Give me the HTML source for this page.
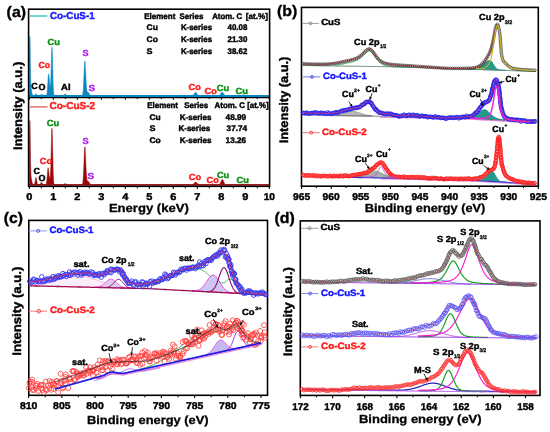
<!DOCTYPE html>
<html><head><meta charset="utf-8"><style>
html,body{margin:0;padding:0;background:#fff;}
svg{display:block;will-change:transform;}
text{font-family:"Liberation Sans",sans-serif;text-rendering:geometricPrecision;}
</style></head><body>
<svg width="550" height="432" viewBox="0 0 550 432">
<rect x="0" y="0" width="550" height="432" fill="#fff"/>
<path d="M29.4,96 29.4,66.2 29.6,46.9 29.9,36.6 30.1,43.9 30.4,62.6 30.6,77.1 30.9,84.4 31.1,87.6 31.4,89.5 31.6,90.9 31.9,92.3 32.1,93.6 32.4,94.4 32.6,95 32.9,95.1 33.1,95.4 33.4,95.7 33.6,95.4 33.9,95.9 34.1,95.6 34.4,95.4 34.6,95.4 34.9,95 35.1,94.4 35.4,94.3 35.6,94.2 35.9,93.8 36.1,93.8 36.4,94.2 36.6,94.4 36.9,94.9 37.1,95.1 37.4,95.5 37.6,95.6 37.9,95.9 38.1,95.9 38.4,95.9 38.6,95.6 38.9,95.5 39.1,95.6 39.4,95.9 39.6,95.5 39.9,95.7 40.1,95.6 40.4,95.2 40.6,94.9 40.9,94.9 41.1,94.7 41.4,94.1 41.6,94.1 41.9,94.4 42.1,94.5 42.4,94.6 42.6,95 42.9,95.3 43.1,95.6 43.4,95.4 43.6,95.6 43.9,95.9 44.1,95.8 44.4,95.5 44.6,95.6 44.9,95.8 45.1,96 45.4,95.3 45.6,95.7 45.9,95.8 46.1,95.4 46.4,95.3 46.6,95.1 46.9,94.2 47.1,92.5 47.4,89.9 47.6,86.4 47.9,81.9 48.1,78 48.4,75.1 48.6,73.9 48.9,74.7 49.1,76.9 49.4,80.6 49.6,83.4 49.9,86 50.1,86.7 50.4,86.2 50.6,83.3 50.9,77.7 51.1,69.4 51.4,59.9 51.6,51.8 51.9,47.2 52.1,48.4 52.4,54.5 52.6,64.3 52.9,74.8 53.1,83.3 53.4,89.1 53.6,92.6 53.9,94.4 54.1,95.4 54.4,95.6 54.6,95.9 54.9,95.5 55.1,95.8 55.4,95.8 55.6,96 55.9,96 56.1,95.5 56.4,95.3 56.6,96 56.9,95.4 57.1,95.4 57.4,95.4 57.6,95.7 57.9,95.9 58.1,95.8 58.4,95.8 58.6,96 58.9,95.8 59.1,96 59.4,95.5 59.6,95.9 59.9,95.9 60.1,95.5 60.4,95.7 60.6,96 60.9,95.9 61.1,96 61.4,95.5 61.6,95.9 61.9,95.9 62.1,96 62.4,95.8 62.6,95.7 62.9,95.9 63.1,95.5 63.4,95.6 63.6,95.7 63.9,95.4 64.2,95.2 64.4,94.4 64.7,94.3 64.9,94.2 65.2,94.2 65.4,93.9 65.7,94.2 65.9,94.6 66.2,95 66.4,95.3 66.7,95.5 66.9,95.5 67.2,95.7 67.4,95.8 67.7,95.7 67.9,95.6 68.2,95.8 68.4,95.8 68.7,95.9 68.9,95.6 69.2,95.7 69.4,96 69.7,95.9 69.9,96 70.2,95.8 70.4,95.8 70.7,95.5 70.9,95.5 71.2,95.5 71.4,96 71.7,95.7 71.9,95.9 72.2,95.7 72.4,95.9 72.7,95.9 72.9,95.8 73.2,95.8 73.4,95.9 73.7,95.9 73.9,95.7 74.2,96 74.4,95.6 74.7,95.6 74.9,96 75.2,95.9 75.4,96 75.7,95.5 75.9,95.6 76.2,96 76.4,95.6 76.7,95.7 76.9,95.8 77.2,96 77.4,95.5 77.7,95.5 77.9,95.9 78.2,96 78.4,95.9 78.7,95.5 78.9,96 79.2,95.9 79.4,95.5 79.7,95.5 79.9,95.5 80.2,95.9 80.4,95.7 80.7,95.6 80.9,95.7 81.2,95.6 81.4,95.6 81.7,95.6 81.9,95.8 82.2,95.4 82.4,94.9 82.7,94.6 82.9,92.6 83.2,90.8 83.4,87.2 83.7,82.3 83.9,76.6 84.2,70 84.4,65.2 84.7,61.3 84.9,61 85.2,63.1 85.4,67.2 85.7,72.1 85.9,77.2 86.2,82.6 86.4,86.1 86.7,88.9 86.9,90.5 87.2,91.4 87.4,92.1 87.7,92.4 87.9,92.3 88.2,92.4 88.4,92.7 88.7,92.7 88.9,93 89.2,93.7 89.4,93.9 89.7,94.5 89.9,95.3 90.2,95.5 90.4,95.5 90.7,95.7 90.9,95.7 91.2,95.9 91.4,95.7 91.7,96 91.9,95.9 92.2,95.9 92.4,95.9 92.7,95.6 92.9,95.5 93.2,95.8 93.4,95.9 93.7,95.9 93.9,95.9 94.2,95.5 94.4,95.8 94.7,95.6 94.9,95.5 95.2,95.9 95.4,95.9 95.7,96 95.9,95.7 96.2,96 96.4,95.8 96.7,95.6 96.9,95.7 97.2,95.9 97.4,95.8 97.7,95.5 97.9,95.7 98.2,95.9 98.4,95.7 98.7,95.8 98.9,95.9 99.2,95.5 99.4,95.9 99.7,95.8 99.9,95.9 100.2,95.8 100.4,96 100.7,95.8 100.9,95.9 101.2,96 101.4,96 101.7,95.4 101.9,95.9 102.2,95.5 102.4,95.7 102.7,95.8 102.9,95.9 103.2,95.8 103.4,95.2 103.7,95.5 103.9,95.7 104.2,95.7 104.4,96 104.7,96 104.9,95.9 105.2,95.9 105.4,95.6 105.7,95.7 105.9,95.7 106.2,95.9 106.4,95.8 106.7,95.6 106.9,95.9 107.2,95.9 107.4,95.9 107.7,95.4 107.9,95.8 108.2,95.7 108.4,95.7 108.7,95.9 108.9,95.9 109.2,95.5 109.4,95.6 109.7,95.4 109.9,96 110.2,95.7 110.4,95.8 110.7,96 110.9,95.7 111.2,95.9 111.4,95.8 111.7,95.9 111.9,95.2 112.2,95.6 112.4,95.7 112.7,95.9 112.9,95.7 113.2,95.5 113.4,95.9 113.7,95.6 113.9,95.9 114.2,95.5 114.4,95.6 114.7,95.8 114.9,95.6 115.2,95.9 115.4,95.5 115.7,95.5 115.9,95.7 116.2,95.9 116.4,95.9 116.7,95.6 116.9,95.7 117.2,96 117.4,95.6 117.7,95.9 117.9,95.7 118.2,95.9 118.4,95.6 118.7,95.6 118.9,95.9 119.2,95.8 119.4,95.7 119.7,95.8 119.9,95.6 120.2,95.4 120.4,96 120.7,96 120.9,96 121.2,95.9 121.4,95.7 121.7,95.9 121.9,95.6 122.2,95.6 122.4,95.3 122.7,95.8 122.9,95.9 123.2,95.8 123.4,95.5 123.7,95.8 123.9,95.9 124.2,95.8 124.4,95.6 124.7,95.7 124.9,95.7 125.2,95.6 125.4,95.9 125.7,95.5 125.9,95.7 126.2,95.9 126.4,95.9 126.7,95.7 126.9,95.5 127.2,95.9 127.4,95.9 127.7,95.8 127.9,96 128.2,95.8 128.4,95.6 128.7,95.9 128.9,95.8 129.2,95.9 129.4,95.7 129.7,95.8 129.9,96 130.2,95.8 130.4,95.9 130.7,95.7 130.9,95.8 131.2,96 131.4,95.8 131.7,95.8 131.9,95.8 132.2,95.7 132.4,95.7 132.7,95.9 132.9,95.9 133.2,95.5 133.4,96 133.7,95 133.9,95.6 134.2,95.9 134.4,96 134.7,95.6 134.9,95.7 135.2,95.8 135.4,95.9 135.7,95.9 135.9,95.6 136.2,95.8 136.4,95.4 136.7,95.7 136.9,95.7 137.2,95.7 137.4,95.4 137.7,95.4 137.9,95.8 138.2,95.8 138.4,95.8 138.7,95.9 138.9,95.6 139.2,95.5 139.4,95.6 139.7,95.9 139.9,95.9 140.2,95.7 140.4,95.8 140.7,95.7 140.9,95.6 141.2,95.9 141.4,96 141.7,95.9 141.9,96 142.2,95.7 142.4,95.9 142.7,95.9 142.9,95.3 143.2,95.8 143.4,95.5 143.7,96 143.9,95.7 144.2,95.5 144.4,95.9 144.7,95.5 144.9,95.9 145.2,95.8 145.4,95.6 145.7,95.7 145.9,95.8 146.2,95.3 146.4,96 146.7,96 146.9,95.9 147.2,95.9 147.4,95.9 147.7,95.6 147.9,95.8 148.2,95.5 148.4,95.9 148.7,95.9 148.9,95.6 149.2,96 149.4,96 149.7,95.8 149.9,95.7 150.2,95.8 150.4,95.9 150.7,95.7 150.9,95.9 151.2,95.7 151.4,95.9 151.7,95.9 151.9,95.9 152.2,95.9 152.4,95.6 152.7,95.9 152.9,96 153.2,95.9 153.4,95.8 153.7,95.7 153.9,96 154.2,95.9 154.4,95.6 154.7,95.9 154.9,95.7 155.2,95.6 155.4,96 155.7,95.7 155.9,95.9 156.2,95.7 156.4,95.4 156.7,96 156.9,96 157.2,96 157.4,95.5 157.7,95.8 157.9,95.3 158.2,95.7 158.4,95.9 158.7,95.7 158.9,95.9 159.2,95.7 159.4,95.8 159.7,95.9 159.9,95.8 160.2,95.9 160.4,95.9 160.7,95.9 160.9,95.6 161.2,95.4 161.4,95.9 161.7,95.8 161.9,95.8 162.2,95.8 162.4,95.9 162.7,96 162.9,96 163.2,95.8 163.4,95.8 163.7,95.7 163.9,95.9 164.2,95.6 164.4,95.7 164.7,95.7 164.9,95.4 165.2,95.9 165.4,95.3 165.7,96 165.9,95.5 166.2,96 166.4,95.6 166.7,95.9 166.9,95.4 167.2,95.8 167.4,95.8 167.7,95.7 167.9,95.7 168.2,95.9 168.4,96 168.7,95.8 168.9,95.6 169.2,95.7 169.4,95.8 169.7,96 169.9,95.3 170.2,95.9 170.4,95.9 170.7,95.9 170.9,95.4 171.2,95.8 171.4,95.9 171.7,96 171.9,95.8 172.2,95.3 172.4,95.6 172.7,95.5 172.9,95.9 173.2,95.8 173.4,95.4 173.7,95.8 173.9,95.7 174.2,95.9 174.4,95.8 174.7,95.9 174.9,95.8 175.2,95.8 175.4,95.9 175.7,95.6 175.9,95.9 176.2,95.9 176.4,95.6 176.7,95.9 176.9,95.9 177.2,95.8 177.4,95.7 177.7,95.4 177.9,95.8 178.2,95.4 178.4,95.7 178.7,95.9 178.9,95.9 179.2,95.9 179.4,96 179.7,95.7 179.9,95.8 180.2,95.9 180.4,95.8 180.7,96 180.9,96 181.2,95.8 181.4,95.8 181.7,96 181.9,96 182.2,95.9 182.4,95.8 182.7,96 182.9,95.6 183.2,95.9 183.4,95.8 183.7,95.9 183.9,95.8 184.2,95.8 184.4,95.8 184.7,95.8 184.9,95.5 185.2,95.9 185.4,95.8 185.7,95.9 185.9,95.7 186.2,95.6 186.4,95.8 186.7,95.8 186.9,95.8 187.2,95.8 187.4,95.7 187.7,95.3 187.9,95.6 188.2,95.6 188.4,95.2 188.7,95.6 188.9,95.8 189.2,95.8 189.4,95.6 189.7,96 189.9,95.8 190.2,95.8 190.4,95.9 190.7,95.5 190.9,95.8 191.2,95.6 191.4,96 191.7,95.8 191.9,95.5 192.2,95.4 192.4,95.5 192.7,95.4 192.9,95.5 193.2,95.3 193.4,94.9 193.7,94.9 193.9,94.2 194.2,93.9 194.4,93.6 194.7,93.2 194.9,92.9 195.2,92.7 195.4,92.3 195.7,92.6 195.9,92.2 196.2,92.8 196.4,93.1 196.7,93.2 196.9,93.9 197.2,94.2 197.4,94.6 197.7,94.9 197.9,95.1 198.2,95.5 198.4,95.3 198.7,95.7 198.9,95.6 199.2,95.9 199.4,95.7 199.7,95.9 199.9,95.8 200.2,95.9 200.4,96 200.7,95.9 200.9,95.9 201.2,95.9 201.4,95.3 201.7,95.6 201.9,95.3 202.2,95.9 202.4,95.9 202.7,95.8 202.9,95.9 203.2,96 203.4,96 203.7,95.7 203.9,95.3 204.2,95.9 204.4,95.4 204.7,95.9 204.9,95.9 205.2,95 205.4,95.8 205.7,95.9 205.9,95.8 206.2,95.9 206.4,95.6 206.7,95.7 206.9,95.6 207.2,95.9 207.4,95.6 207.7,95.6 207.9,95.9 208.2,95.5 208.4,95.9 208.7,95.7 208.9,95.8 209.2,95.7 209.4,95.5 209.7,95.8 209.9,95.5 210.2,95.6 210.4,95.5 210.7,95.8 210.9,95.6 211.2,95.6 211.4,95.3 211.7,95.1 211.9,95 212.2,95 212.4,94.9 212.7,95 212.9,94.8 213.2,95.2 213.4,95.3 213.7,95.2 213.9,95.7 214.2,95.2 214.4,95.5 214.7,95.9 214.9,95.6 215.2,95.7 215.4,95.7 215.7,95.5 215.9,95.9 216.2,95.8 216.4,95.9 216.7,96 216.9,95.5 217.2,95.6 217.4,95.8 217.7,95.6 217.9,95.6 218.2,95.9 218.4,95.8 218.7,95.1 218.9,95.6 219.2,95.6 219.4,95.5 219.7,94.9 219.9,95.2 220.2,94.6 220.4,94.4 220.7,93.8 220.9,93.1 221.2,92.6 221.4,92.8 221.7,92.4 221.9,92.5 222.2,92.2 222.4,92.4 222.7,92.1 222.9,92.5 223.2,92.9 223.4,93.4 223.7,93.4 223.9,94.2 224.2,94.3 224.4,95.1 224.7,95.3 224.9,95.4 225.2,95.4 225.4,95.7 225.7,95.8 225.9,95.5 226.2,95.5 226.4,95.8 226.7,95.8 226.9,95.8 227.2,95.5 227.4,95.7 227.7,95.9 227.9,95.8 228.2,95.9 228.4,95.8 228.7,95.7 228.9,96 229.2,95.4 229.4,95.9 229.7,95.7 229.9,95.6 230.2,95.8 230.4,95.5 230.7,95.7 230.9,95.8 231.2,95.6 231.4,95.7 231.7,95.3 231.9,95.6 232.2,95.9 232.4,95.7 232.7,95.5 232.9,95.7 233.2,95.9 233.4,95.7 233.7,95.9 233.9,95.9 234.2,95.5 234.4,95.8 234.7,95.8 234.9,95.3 235.2,95.9 235.4,95.2 235.7,95.9 235.9,95.9 236.2,96 236.4,95.7 236.7,95.8 236.9,95.9 237.2,95.5 237.4,95.7 237.7,95.9 237.9,95.8 238.2,95.6 238.4,95.3 238.7,96 238.9,95.9 239.2,96 239.4,95.9 239.7,95.7 239.9,95.6 240.2,95.7 240.4,95.7 240.7,95.7 240.9,95.8 241.2,95.5 241.4,95.2 241.7,95.3 241.9,95.2 242.2,94.9 242.4,95 242.7,94.7 242.9,95.1 243.2,95.2 243.4,95.4 243.7,95.3 243.9,95.4 244.2,95.4 244.4,95.8 244.7,95.7 244.9,95.9 245.2,95.9 245.4,95.4 245.7,95.6 245.9,95.9 246.2,95.5 246.4,95.7 246.7,96 246.9,95.9 247.2,96 247.4,96 247.7,95.8 247.9,95.5 248.2,95.8 248.4,96 248.7,96 248.9,95.8 249.2,96 249.4,95.3 249.7,95.8 249.9,95.7 250.2,95.6 250.4,95.9 250.7,95.6 250.9,95.9 251.2,95.7 251.4,95.4 251.7,95.9 251.9,95.8 252.2,95.8 252.4,95.3 252.7,95.7 252.9,95.7 253.2,95.9 253.4,95.3 253.7,96 253.9,95.6 254.2,95.8 254.4,96 254.7,95.9 254.9,95.7 255.2,95.8 255.4,95.7 255.7,96 255.9,95.6 256.1,95.4 256.4,95.3 256.6,95.9 256.9,95.5 257.1,96 257.4,95.8 257.6,96 257.9,95.4 258.1,95.5 258.4,95.8 258.6,95.9 258.9,95.8 259.1,95.9 259.4,95.9 259.6,95.7 259.9,95.4 260.1,95.7 260.4,95.9 260.6,95.8 260.9,95.7 261.1,95.5 261.4,95.6 261.6,95.7 261.9,95.9 262.1,95.8 262.4,95.9 262.6,95.7 262.9,95.9 263.1,95.9 263.4,95.6 263.6,95.4 263.9,95.8 264.1,95.8 264.4,96 264.6,95.5 264.9,95.7 265.1,95.9 265.4,95.9 265.6,96 265.9,95.7 266.1,96 266.4,95.8 266.6,96 266.9,95.9 267.1,95.8 267.4,95.5 267.6,95.8 267.9,96 268.1,95.8 268.4,96 268.6,95.8 268.9,95.9 268.8,96 Z" stroke="#0b86c2" stroke-width="0.5" fill="#0b86c2" stroke-linejoin="round"/>
<line x1="29.1" y1="96.0" x2="269.6" y2="96.0" stroke="#0b86c2" stroke-width="1.8"/>
<path d="M29.4,185 29.4,152.9 29.6,131.7 29.9,120.6 30.1,129.3 30.4,149.2 30.6,165 30.9,173.2 31.1,176.4 31.4,178.4 31.6,180.1 31.9,181.6 32.1,182.3 32.4,183 32.6,184.1 32.9,184.5 33.1,184.6 33.4,184.9 33.6,184.3 33.9,184.6 34.1,184.6 34.4,184.1 34.6,183.7 34.9,182.4 35.1,181.3 35.4,179.7 35.6,177.9 35.9,177.6 36.1,177.7 36.4,178.6 36.6,180.1 36.9,181.5 37.1,182.9 37.4,184 37.6,184.3 37.9,184.4 38.1,184.4 38.4,184.5 38.6,184.8 38.9,184.9 39.1,184.8 39.4,184.7 39.6,184.6 39.9,184.3 40.1,184.2 40.4,184.1 40.6,183.5 40.9,183.2 41.1,182.5 41.4,182.8 41.6,182.4 41.9,182.8 42.1,183 42.4,183.9 42.6,184.2 42.9,184.4 43.1,184.2 43.4,184.8 43.6,184.7 43.9,184.8 44.1,184.6 44.4,184.3 44.6,184.4 44.9,184.5 45.1,184.8 45.4,184.8 45.6,184.8 45.9,184.5 46.1,184.1 46.4,183.5 46.6,182 46.9,180.2 47.1,177.6 47.4,174.2 47.6,171.2 47.9,168.7 48.1,167.7 48.4,168.7 48.6,170.5 48.9,173.1 49.1,175.3 49.4,177.3 49.6,178.3 49.9,178.4 50.1,177.7 50.4,175.3 50.6,171.5 50.9,164.6 51.1,154.8 51.4,143.4 51.6,133.4 51.9,128.3 52.1,129.3 52.4,137 52.6,148.2 52.9,159.8 53.1,170.2 53.4,177.3 53.6,181.1 53.9,183.3 54.1,184.4 54.4,184.8 54.6,184.7 54.9,184.6 55.1,184.7 55.4,184.8 55.6,184.9 55.9,184.9 56.1,184.9 56.4,184.6 56.6,184.8 56.9,185 57.1,184.9 57.4,184.7 57.6,184.8 57.9,184.9 58.1,184.8 58.4,184.6 58.6,184.7 58.9,184.8 59.1,184.6 59.4,184.7 59.6,184.8 59.9,184.8 60.1,184.7 60.4,184.6 60.6,184.9 60.9,184.9 61.1,184.8 61.4,184.8 61.6,185 61.9,184.9 62.1,184.8 62.4,184.8 62.6,184.7 62.9,184.9 63.1,184.4 63.4,184.8 63.6,184.7 63.9,184.5 64.2,184.1 64.4,184.2 64.7,184 64.9,183.5 65.2,183.7 65.4,183.5 65.7,183.6 65.9,184 66.2,184.3 66.4,184.1 66.7,184.4 66.9,184.7 67.2,184.9 67.4,184.6 67.7,184.7 67.9,184.8 68.2,184.7 68.4,184.4 68.7,184.9 68.9,184.6 69.2,184.8 69.4,184.9 69.7,184.9 69.9,184.6 70.2,184.8 70.4,184.9 70.7,184.9 70.9,184.6 71.2,184.9 71.4,184.5 71.7,185 71.9,184.9 72.2,184.7 72.4,184.9 72.7,184.6 72.9,184.9 73.2,185 73.4,185 73.7,184.7 73.9,184.8 74.2,184.7 74.4,184.9 74.7,184.7 74.9,184.7 75.2,184.9 75.4,184.8 75.7,184.6 75.9,185 76.2,184.8 76.4,184.8 76.7,184.8 76.9,184.9 77.2,185 77.4,184.9 77.7,184.9 77.9,184.9 78.2,184.6 78.4,184.4 78.7,184.8 78.9,184.9 79.2,184.3 79.4,184.6 79.7,185 79.9,184.8 80.2,184.7 80.4,185 80.7,184.5 80.9,184.5 81.2,184.8 81.4,184.9 81.7,184.9 81.9,184.5 82.2,184.5 82.4,184 82.7,183.4 82.9,181.7 83.2,179.1 83.4,175.4 83.7,170.1 83.9,163.9 84.2,157.3 84.4,151.4 84.7,147.9 84.9,146.8 85.2,148.9 85.4,153.8 85.7,159.6 85.9,165.5 86.2,170.7 86.4,174 86.7,177.6 86.9,179.4 87.2,180.5 87.4,181 87.7,180.8 87.9,181.2 88.2,181.5 88.4,181.4 88.7,181.4 88.9,182.3 89.2,182.6 89.4,183.2 89.7,183.8 89.9,183.4 90.2,184.4 90.4,184.8 90.7,184.8 90.9,184.6 91.2,184.8 91.4,184.6 91.7,184.9 91.9,185 92.2,184.8 92.4,184.6 92.7,184.5 92.9,184.8 93.2,184.9 93.4,185 93.7,184.8 93.9,184.9 94.2,184.6 94.4,184.9 94.7,184.9 94.9,184.9 95.2,184.4 95.4,184.6 95.7,184.7 95.9,184.7 96.2,184.6 96.4,184.7 96.7,185 96.9,184.8 97.2,184.3 97.4,184.8 97.7,184.9 97.9,184.5 98.2,184.9 98.4,184.8 98.7,184.9 98.9,184.9 99.2,184.9 99.4,184.9 99.7,184.4 99.9,184.8 100.2,184.9 100.4,184.6 100.7,184.9 100.9,184.6 101.2,184.5 101.4,184.9 101.7,184.7 101.9,184.7 102.2,184 102.4,184.8 102.7,184.7 102.9,184.9 103.2,184.5 103.4,184.7 103.7,184.6 103.9,185 104.2,184.7 104.4,184.6 104.7,184.8 104.9,184.7 105.2,184.9 105.4,184.9 105.7,184.7 105.9,184.7 106.2,184.6 106.4,185 106.7,184.6 106.9,184.3 107.2,184.5 107.4,184.7 107.7,184.6 107.9,184.9 108.2,184.9 108.4,184.9 108.7,184.6 108.9,184.9 109.2,184.8 109.4,184.7 109.7,184.9 109.9,184.2 110.2,184.7 110.4,184.7 110.7,184.8 110.9,184.8 111.2,184.9 111.4,184.9 111.7,184.7 111.9,184.9 112.2,184.7 112.4,185 112.7,184.6 112.9,184.9 113.2,184.8 113.4,184.9 113.7,185 113.9,184.8 114.2,185 114.4,184.7 114.7,184.7 114.9,184.7 115.2,184.6 115.4,185 115.7,184.9 115.9,184.7 116.2,184.8 116.4,184.8 116.7,184.7 116.9,184.9 117.2,184.8 117.4,184.9 117.7,184.7 117.9,184.8 118.2,184.9 118.4,184.3 118.7,184.8 118.9,184.8 119.2,184.7 119.4,184.6 119.7,184.7 119.9,184.8 120.2,184.8 120.4,184.8 120.7,184.1 120.9,184.8 121.2,184.8 121.4,185 121.7,184.6 121.9,185 122.2,185 122.4,185 122.7,184.6 122.9,184.6 123.2,184.8 123.4,184.3 123.7,185 123.9,184.8 124.2,184.9 124.4,184.4 124.7,184.7 124.9,184.4 125.2,184.9 125.4,184.4 125.7,184.8 125.9,184.9 126.2,185 126.4,184.9 126.7,184.5 126.9,184.6 127.2,184.8 127.4,184.8 127.7,185 127.9,184.9 128.2,184.8 128.4,184.9 128.7,184.9 128.9,184.9 129.2,184.8 129.4,184.9 129.7,184.7 129.9,185 130.2,184.3 130.4,184.3 130.7,184.8 130.9,184.9 131.2,184.4 131.4,184.8 131.7,184.7 131.9,184.8 132.2,184.4 132.4,184.9 132.7,185 132.9,184.8 133.2,185 133.4,184.7 133.7,184.5 133.9,184.6 134.2,184.5 134.4,184.5 134.7,184.7 134.9,184.9 135.2,184.5 135.4,184.8 135.7,184.8 135.9,184.5 136.2,184.9 136.4,184.9 136.7,184.6 136.9,184.9 137.2,184.6 137.4,184.5 137.7,185 137.9,184.4 138.2,184.8 138.4,185 138.7,184.6 138.9,184.5 139.2,184.9 139.4,184.8 139.7,184.6 139.9,184.7 140.2,184.8 140.4,184.9 140.7,185 140.9,184.8 141.2,185 141.4,184.6 141.7,184.9 141.9,184.3 142.2,184.6 142.4,184.6 142.7,184.8 142.9,184.6 143.2,184.8 143.4,184.7 143.7,184.4 143.9,184.7 144.2,184.9 144.4,184.8 144.7,184.6 144.9,184.7 145.2,184.5 145.4,184.8 145.7,184.8 145.9,184.7 146.2,184.5 146.4,184.8 146.7,184.7 146.9,184.5 147.2,184.7 147.4,184.6 147.7,184.9 147.9,184.7 148.2,184.8 148.4,184.8 148.7,184.6 148.9,184.9 149.2,184.9 149.4,184.8 149.7,185 149.9,184.5 150.2,184.7 150.4,185 150.7,184.9 150.9,184.6 151.2,184.6 151.4,184.9 151.7,184.5 151.9,184.5 152.2,184.7 152.4,184.8 152.7,184.4 152.9,184.8 153.2,185 153.4,184.9 153.7,184.9 153.9,184.3 154.2,184.8 154.4,184.9 154.7,184.8 154.9,184.9 155.2,184.9 155.4,184.9 155.7,185 155.9,184.8 156.2,184.7 156.4,184.9 156.7,184.7 156.9,184.8 157.2,184.8 157.4,185 157.7,184.5 157.9,184.8 158.2,184.9 158.4,184.6 158.7,184.8 158.9,184.9 159.2,184.7 159.4,185 159.7,184.9 159.9,184.7 160.2,184.9 160.4,185 160.7,184.8 160.9,184.8 161.2,185 161.4,184.4 161.7,184.9 161.9,184.5 162.2,184.9 162.4,185 162.7,184.9 162.9,184.7 163.2,184.9 163.4,185 163.7,184.7 163.9,184.7 164.2,185 164.4,184.9 164.7,184.8 164.9,184.7 165.2,184.8 165.4,184.8 165.7,184.2 165.9,185 166.2,184.9 166.4,184.9 166.7,184.7 166.9,184.9 167.2,184.6 167.4,184.9 167.7,184.8 167.9,184.6 168.2,184.8 168.4,184.4 168.7,184.5 168.9,184.8 169.2,184.8 169.4,184.9 169.7,184.8 169.9,184.6 170.2,184.6 170.4,185 170.7,184.9 170.9,184.9 171.2,184.9 171.4,184.9 171.7,184.7 171.9,184.8 172.2,184.8 172.4,184.6 172.7,185 172.9,184.9 173.2,184.7 173.4,184.9 173.7,184.9 173.9,184.8 174.2,184.9 174.4,184.9 174.7,184.9 174.9,184.8 175.2,184.5 175.4,184.8 175.7,184.8 175.9,185 176.2,184.9 176.4,184.7 176.7,184.6 176.9,184.9 177.2,184.9 177.4,184.8 177.7,184.9 177.9,184.6 178.2,184.5 178.4,184.5 178.7,184.9 178.9,184.7 179.2,184.8 179.4,184.7 179.7,184.9 179.9,184.9 180.2,184.6 180.4,184.8 180.7,185 180.9,184.4 181.2,185 181.4,184.9 181.7,184.8 181.9,184.8 182.2,184.9 182.4,184.6 182.7,184.7 182.9,184.4 183.2,184.9 183.4,184.9 183.7,184.6 183.9,184.5 184.2,184.7 184.4,184.9 184.7,184.8 184.9,184.7 185.2,184.8 185.4,185 185.7,184.6 185.9,184.4 186.2,184.7 186.4,185 186.7,184.9 186.9,184.4 187.2,184.9 187.4,184.9 187.7,184.4 187.9,184.8 188.2,184.8 188.4,184.7 188.7,184.6 188.9,184.6 189.2,184.7 189.4,184.5 189.7,185 189.9,184.8 190.2,185 190.4,184.6 190.7,184.9 190.9,184.8 191.2,184.9 191.4,184.9 191.7,184.8 191.9,184.9 192.2,184.6 192.4,184.6 192.7,184.6 192.9,184.1 193.2,184.5 193.4,184.3 193.7,183.9 193.9,183.4 194.2,183.3 194.4,183.1 194.7,182.9 194.9,182.4 195.2,182 195.4,182.3 195.7,182.2 195.9,182.2 196.2,181.9 196.4,182.6 196.7,183 196.9,183 197.2,183.6 197.4,183.8 197.7,183.5 197.9,184 198.2,184.1 198.4,183.9 198.7,184.4 198.9,184.7 199.2,184.9 199.4,184.6 199.7,184.9 199.9,184.6 200.2,184.6 200.4,184.9 200.7,184.9 200.9,184.9 201.2,184.5 201.4,184.9 201.7,184.6 201.9,184.8 202.2,184.9 202.4,184.9 202.7,184.7 202.9,184.9 203.2,184.8 203.4,184.9 203.7,184.5 203.9,184.5 204.2,185 204.4,185 204.7,184.9 204.9,184.8 205.2,184.5 205.4,185 205.7,184.9 205.9,184.7 206.2,184.5 206.4,184.8 206.7,184.5 206.9,185 207.2,184.8 207.4,184.7 207.7,184.9 207.9,184.7 208.2,184.8 208.4,184.6 208.7,185 208.9,184.9 209.2,184.9 209.4,184.9 209.7,184.9 209.9,184.8 210.2,184.7 210.4,184.7 210.7,184.6 210.9,184.5 211.2,184.5 211.4,184.5 211.7,184.4 211.9,184.3 212.2,184 212.4,183.7 212.7,183.8 212.9,183.7 213.2,184 213.4,184.3 213.7,184.2 213.9,184.6 214.2,184.7 214.4,184.5 214.7,184.5 214.9,184.6 215.2,184.8 215.4,184.4 215.7,184.9 215.9,184.9 216.2,184.6 216.4,184.8 216.7,184.7 216.9,184.6 217.2,184.9 217.4,184.9 217.7,184.8 217.9,184.9 218.2,184.8 218.4,183.9 218.7,184.8 218.9,184.4 219.2,184.4 219.4,184.5 219.7,184.2 219.9,183.8 220.2,183.3 220.4,183 220.7,182 220.9,181.8 221.2,181.2 221.4,180.7 221.7,179.8 221.9,179.8 222.2,179.5 222.4,179.8 222.7,179.4 222.9,179.8 223.2,180.8 223.4,180.7 223.7,181.7 223.9,182.3 224.2,182.9 224.4,183.3 224.7,183.8 224.9,184.2 225.2,184.2 225.4,184.3 225.7,184.8 225.9,184.8 226.2,184.8 226.4,184.5 226.7,185 226.9,184.8 227.2,184.4 227.4,184.5 227.7,184.7 227.9,184.4 228.2,184.9 228.4,184.9 228.7,184.7 228.9,184.9 229.2,185 229.4,184.5 229.7,184.8 229.9,184.2 230.2,184.4 230.4,184.6 230.7,185 230.9,184.9 231.2,184.9 231.4,184.8 231.7,184.8 231.9,184.5 232.2,184.8 232.4,184.9 232.7,184.9 232.9,184.7 233.2,184.6 233.4,184.8 233.7,184.8 233.9,185 234.2,185 234.4,184.8 234.7,184.9 234.9,185 235.2,184.8 235.4,184.7 235.7,184.7 235.9,184.4 236.2,184.8 236.4,184.9 236.7,184.6 236.9,184.8 237.2,184.8 237.4,184.6 237.7,184.8 237.9,184.9 238.2,185 238.4,184.8 238.7,184.9 238.9,184.9 239.2,184.3 239.4,184.5 239.7,184.9 239.9,185 240.2,184.3 240.4,184.9 240.7,184.6 240.9,184.5 241.2,184.3 241.4,184.5 241.7,184 241.9,184.2 242.2,184.2 242.4,184.1 242.7,184 242.9,184.1 243.2,184.3 243.4,184.1 243.7,184.2 243.9,184.5 244.2,184.7 244.4,184.4 244.7,184.4 244.9,184.8 245.2,184.8 245.4,184.8 245.7,184.3 245.9,184.9 246.2,184.9 246.4,184.7 246.7,184.6 246.9,184.8 247.2,184.8 247.4,184.8 247.7,184.5 247.9,184.9 248.2,184.9 248.4,184.9 248.7,184.8 248.9,184.6 249.2,184.7 249.4,184.6 249.7,184.9 249.9,184.8 250.2,184.8 250.4,185 250.7,185 250.9,185 251.2,184.5 251.4,184.4 251.7,184.4 251.9,184.6 252.2,184.8 252.4,184.7 252.7,185 252.9,184.9 253.2,184.6 253.4,184.9 253.7,184.5 253.9,184.6 254.2,184.9 254.4,184.7 254.7,184.4 254.9,184.4 255.2,184.6 255.4,185 255.7,184.6 255.9,184.9 256.1,184.8 256.4,184.4 256.6,184.7 256.9,184.8 257.1,184.9 257.4,184.8 257.6,184.5 257.9,185 258.1,184.7 258.4,185 258.6,184.7 258.9,184.8 259.1,184.4 259.4,184.6 259.6,184.9 259.9,185 260.1,185 260.4,184.6 260.6,184.7 260.9,184.9 261.1,184.5 261.4,184.7 261.6,185 261.9,184.5 262.1,185 262.4,185 262.6,184.9 262.9,184.8 263.1,184.5 263.4,184.8 263.6,184.9 263.9,184.9 264.1,184.5 264.4,184.6 264.6,185 264.9,184.8 265.1,184.8 265.4,185 265.6,184.6 265.9,184.7 266.1,185 266.4,184.3 266.6,184.7 266.9,184.6 267.1,184.7 267.4,184.6 267.6,184.5 267.9,184.7 268.1,184.8 268.4,184.8 268.6,184.8 268.9,184.9 268.8,185 Z" stroke="#9c0808" stroke-width="0.5" fill="#9c0808" stroke-linejoin="round"/>
<line x1="29.1" y1="184.9" x2="269.6" y2="184.9" stroke="#9c0808" stroke-width="1.4"/>
<rect x="28.6" y="9.2" width="241.0" height="177.1" stroke="#000" stroke-width="1.6" fill="none"/>
<line x1="28.6" y1="97.6" x2="269.6" y2="97.6" stroke="#000" stroke-width="1.4"/>
<line x1="29.3" y1="97.6" x2="29.3" y2="99.8" stroke="#000" stroke-width="1.0"/>
<line x1="41.3" y1="97.6" x2="41.3" y2="99.1" stroke="#000" stroke-width="1.0"/>
<line x1="53.3" y1="97.6" x2="53.3" y2="99.8" stroke="#000" stroke-width="1.0"/>
<line x1="65.3" y1="97.6" x2="65.3" y2="99.1" stroke="#000" stroke-width="1.0"/>
<line x1="77.3" y1="97.6" x2="77.3" y2="99.8" stroke="#000" stroke-width="1.0"/>
<line x1="89.3" y1="97.6" x2="89.3" y2="99.1" stroke="#000" stroke-width="1.0"/>
<line x1="101.3" y1="97.6" x2="101.3" y2="99.8" stroke="#000" stroke-width="1.0"/>
<line x1="113.3" y1="97.6" x2="113.3" y2="99.1" stroke="#000" stroke-width="1.0"/>
<line x1="125.3" y1="97.6" x2="125.3" y2="99.8" stroke="#000" stroke-width="1.0"/>
<line x1="137.3" y1="97.6" x2="137.3" y2="99.1" stroke="#000" stroke-width="1.0"/>
<line x1="149.3" y1="97.6" x2="149.3" y2="99.8" stroke="#000" stroke-width="1.0"/>
<line x1="161.3" y1="97.6" x2="161.3" y2="99.1" stroke="#000" stroke-width="1.0"/>
<line x1="173.3" y1="97.6" x2="173.3" y2="99.8" stroke="#000" stroke-width="1.0"/>
<line x1="185.3" y1="97.6" x2="185.3" y2="99.1" stroke="#000" stroke-width="1.0"/>
<line x1="197.3" y1="97.6" x2="197.3" y2="99.8" stroke="#000" stroke-width="1.0"/>
<line x1="209.3" y1="97.6" x2="209.3" y2="99.1" stroke="#000" stroke-width="1.0"/>
<line x1="221.3" y1="97.6" x2="221.3" y2="99.8" stroke="#000" stroke-width="1.0"/>
<line x1="233.3" y1="97.6" x2="233.3" y2="99.1" stroke="#000" stroke-width="1.0"/>
<line x1="245.3" y1="97.6" x2="245.3" y2="99.8" stroke="#000" stroke-width="1.0"/>
<line x1="257.3" y1="97.6" x2="257.3" y2="99.1" stroke="#000" stroke-width="1.0"/>
<line x1="269.3" y1="97.6" x2="269.3" y2="99.8" stroke="#000" stroke-width="1.0"/>
<line x1="29.3" y1="186.3" x2="29.3" y2="189.1" stroke="#000" stroke-width="1.1"/>
<text x="26.3" y="200.4" font-size="9.9" fill="#000" stroke="#000" stroke-width="0.42" text-anchor="start" font-weight="bold" textLength="6.1" lengthAdjust="spacingAndGlyphs">0</text>
<line x1="41.3" y1="186.3" x2="41.3" y2="188.2" stroke="#000" stroke-width="1.1"/>
<line x1="53.3" y1="186.3" x2="53.3" y2="189.1" stroke="#000" stroke-width="1.1"/>
<text x="50.3" y="200.4" font-size="9.9" fill="#000" stroke="#000" stroke-width="0.42" text-anchor="start" font-weight="bold" textLength="6.1" lengthAdjust="spacingAndGlyphs">1</text>
<line x1="65.3" y1="186.3" x2="65.3" y2="188.2" stroke="#000" stroke-width="1.1"/>
<line x1="77.3" y1="186.3" x2="77.3" y2="189.1" stroke="#000" stroke-width="1.1"/>
<text x="74.3" y="200.4" font-size="9.9" fill="#000" stroke="#000" stroke-width="0.42" text-anchor="start" font-weight="bold" textLength="6.1" lengthAdjust="spacingAndGlyphs">2</text>
<line x1="89.3" y1="186.3" x2="89.3" y2="188.2" stroke="#000" stroke-width="1.1"/>
<line x1="101.3" y1="186.3" x2="101.3" y2="189.1" stroke="#000" stroke-width="1.1"/>
<text x="98.3" y="200.4" font-size="9.9" fill="#000" stroke="#000" stroke-width="0.42" text-anchor="start" font-weight="bold" textLength="6.1" lengthAdjust="spacingAndGlyphs">3</text>
<line x1="113.3" y1="186.3" x2="113.3" y2="188.2" stroke="#000" stroke-width="1.1"/>
<line x1="125.3" y1="186.3" x2="125.3" y2="189.1" stroke="#000" stroke-width="1.1"/>
<text x="122.3" y="200.4" font-size="9.9" fill="#000" stroke="#000" stroke-width="0.42" text-anchor="start" font-weight="bold" textLength="6.1" lengthAdjust="spacingAndGlyphs">4</text>
<line x1="137.3" y1="186.3" x2="137.3" y2="188.2" stroke="#000" stroke-width="1.1"/>
<line x1="149.3" y1="186.3" x2="149.3" y2="189.1" stroke="#000" stroke-width="1.1"/>
<text x="146.3" y="200.4" font-size="9.9" fill="#000" stroke="#000" stroke-width="0.42" text-anchor="start" font-weight="bold" textLength="6.1" lengthAdjust="spacingAndGlyphs">5</text>
<line x1="161.3" y1="186.3" x2="161.3" y2="188.2" stroke="#000" stroke-width="1.1"/>
<line x1="173.3" y1="186.3" x2="173.3" y2="189.1" stroke="#000" stroke-width="1.1"/>
<text x="170.3" y="200.4" font-size="9.9" fill="#000" stroke="#000" stroke-width="0.42" text-anchor="start" font-weight="bold" textLength="6.1" lengthAdjust="spacingAndGlyphs">6</text>
<line x1="185.3" y1="186.3" x2="185.3" y2="188.2" stroke="#000" stroke-width="1.1"/>
<line x1="197.3" y1="186.3" x2="197.3" y2="189.1" stroke="#000" stroke-width="1.1"/>
<text x="194.3" y="200.4" font-size="9.9" fill="#000" stroke="#000" stroke-width="0.42" text-anchor="start" font-weight="bold" textLength="6.1" lengthAdjust="spacingAndGlyphs">7</text>
<line x1="209.3" y1="186.3" x2="209.3" y2="188.2" stroke="#000" stroke-width="1.1"/>
<line x1="221.3" y1="186.3" x2="221.3" y2="189.1" stroke="#000" stroke-width="1.1"/>
<text x="218.3" y="200.4" font-size="9.9" fill="#000" stroke="#000" stroke-width="0.42" text-anchor="start" font-weight="bold" textLength="6.1" lengthAdjust="spacingAndGlyphs">8</text>
<line x1="233.3" y1="186.3" x2="233.3" y2="188.2" stroke="#000" stroke-width="1.1"/>
<line x1="245.3" y1="186.3" x2="245.3" y2="189.1" stroke="#000" stroke-width="1.1"/>
<text x="242.3" y="200.4" font-size="9.9" fill="#000" stroke="#000" stroke-width="0.42" text-anchor="start" font-weight="bold" textLength="6.1" lengthAdjust="spacingAndGlyphs">9</text>
<line x1="257.3" y1="186.3" x2="257.3" y2="188.2" stroke="#000" stroke-width="1.1"/>
<line x1="269.3" y1="186.3" x2="269.3" y2="189.1" stroke="#000" stroke-width="1.1"/>
<text x="263.7" y="200.4" font-size="9.9" fill="#000" stroke="#000" stroke-width="0.42" text-anchor="start" font-weight="bold" textLength="11.3" lengthAdjust="spacingAndGlyphs">10</text>
<text x="6.6" y="16.7" font-size="15.2" fill="#000" stroke="#000" stroke-width="0.35" text-anchor="start" font-weight="bold" textLength="19.4" lengthAdjust="spacingAndGlyphs">(a)</text>
<text x="108.9" y="212.3" font-size="11.8" fill="#000" stroke="#000" stroke-width="0.3" text-anchor="start" font-weight="bold" textLength="79.9" lengthAdjust="spacingAndGlyphs">Energy (keV)</text>
<text transform="translate(21.9,105.9) rotate(-90)" x="0" y="0" font-size="12.3" fill="#000" stroke="#000" stroke-width="0.42" text-anchor="middle" font-weight="bold" textLength="88.3" lengthAdjust="spacingAndGlyphs">Intensity (a.u.)</text>
<line x1="29.6" y1="16.0" x2="47.3" y2="16.0" stroke="#3cc0c8" stroke-width="1.4"/>
<text x="50.0" y="18.9" font-size="10.0" fill="#1717ff" stroke="#1717ff" stroke-width="0.42" text-anchor="start" font-weight="bold" textLength="44.6" lengthAdjust="spacingAndGlyphs">Co-CuS-1</text>
<line x1="30.0" y1="106.9" x2="47.6" y2="106.9" stroke="#d86a6a" stroke-width="1.4"/>
<text x="49.5" y="109.2" font-size="10.0" fill="#ff1c1c" stroke="#ff1c1c" stroke-width="0.42" text-anchor="start" font-weight="bold" textLength="45.7" lengthAdjust="spacingAndGlyphs">Co-CuS-2</text>
<text x="47.5" y="44.6" font-size="8.8" fill="#109217" stroke="#109217" stroke-width="0.42" text-anchor="start" font-weight="bold" textLength="12.3" lengthAdjust="spacingAndGlyphs">Cu</text>
<text x="38.5" y="67.6" font-size="8.8" fill="#ff1c1c" stroke="#ff1c1c" stroke-width="0.42" text-anchor="start" font-weight="bold" textLength="11.5" lengthAdjust="spacingAndGlyphs">Co</text>
<text x="82.4" y="56.0" font-size="8.8" fill="#b022f0" stroke="#b022f0" stroke-width="0.42" text-anchor="start" font-weight="bold" textLength="6.0" lengthAdjust="spacingAndGlyphs">S</text>
<text x="31.2" y="89.0" font-size="8.8" fill="#000" stroke="#000" stroke-width="0.42" text-anchor="start" font-weight="bold" textLength="6.4" lengthAdjust="spacingAndGlyphs">C</text>
<text x="38.4" y="90.4" font-size="8.8" fill="#000" stroke="#000" stroke-width="0.42" text-anchor="start" font-weight="bold" textLength="7.0" lengthAdjust="spacingAndGlyphs">O</text>
<text x="61.1" y="90.2" font-size="8.8" fill="#000" stroke="#000" stroke-width="0.42" text-anchor="start" font-weight="bold" textLength="9.5" lengthAdjust="spacingAndGlyphs">Al</text>
<text x="88.5" y="90.8" font-size="8.8" fill="#b022f0" stroke="#b022f0" stroke-width="0.42" text-anchor="start" font-weight="bold" textLength="6.5" lengthAdjust="spacingAndGlyphs">S</text>
<text x="188.6" y="90.2" font-size="8.8" fill="#ff1c1c" stroke="#ff1c1c" stroke-width="0.42" text-anchor="start" font-weight="bold" textLength="12.2" lengthAdjust="spacingAndGlyphs">Co</text>
<text x="204.6" y="93.9" font-size="8.8" fill="#ff1c1c" stroke="#ff1c1c" stroke-width="0.42" text-anchor="start" font-weight="bold" textLength="12.2" lengthAdjust="spacingAndGlyphs">Co</text>
<text x="216.7" y="91.3" font-size="8.8" fill="#109217" stroke="#109217" stroke-width="0.42" text-anchor="start" font-weight="bold" textLength="12.4" lengthAdjust="spacingAndGlyphs">Cu</text>
<text x="235.6" y="93.9" font-size="8.8" fill="#109217" stroke="#109217" stroke-width="0.42" text-anchor="start" font-weight="bold" textLength="12.4" lengthAdjust="spacingAndGlyphs">Cu</text>
<text x="46.8" y="125.9" font-size="8.8" fill="#109217" stroke="#109217" stroke-width="0.42" text-anchor="start" font-weight="bold" textLength="12.4" lengthAdjust="spacingAndGlyphs">Cu</text>
<text x="82.6" y="144.1" font-size="8.8" fill="#b022f0" stroke="#b022f0" stroke-width="0.42" text-anchor="start" font-weight="bold" textLength="6.1" lengthAdjust="spacingAndGlyphs">S</text>
<text x="39.8" y="163.9" font-size="8.8" fill="#ff1c1c" stroke="#ff1c1c" stroke-width="0.42" text-anchor="start" font-weight="bold" textLength="12.2" lengthAdjust="spacingAndGlyphs">Co</text>
<text x="33.4" y="174.2" font-size="8.8" fill="#000" stroke="#000" stroke-width="0.42" text-anchor="start" font-weight="bold" textLength="6.4" lengthAdjust="spacingAndGlyphs">C</text>
<text x="38.4" y="180.8" font-size="8.8" fill="#000" stroke="#000" stroke-width="0.42" text-anchor="start" font-weight="bold" textLength="7.0" lengthAdjust="spacingAndGlyphs">O</text>
<text x="87.4" y="178.6" font-size="8.8" fill="#b022f0" stroke="#b022f0" stroke-width="0.42" text-anchor="start" font-weight="bold" textLength="6.6" lengthAdjust="spacingAndGlyphs">S</text>
<text x="188.8" y="180.4" font-size="8.8" fill="#ff1c1c" stroke="#ff1c1c" stroke-width="0.42" text-anchor="start" font-weight="bold" textLength="12.4" lengthAdjust="spacingAndGlyphs">Co</text>
<text x="206.6" y="183.1" font-size="8.8" fill="#ff1c1c" stroke="#ff1c1c" stroke-width="0.42" text-anchor="start" font-weight="bold" textLength="12.1" lengthAdjust="spacingAndGlyphs">Co</text>
<text x="217.0" y="177.8" font-size="8.8" fill="#109217" stroke="#109217" stroke-width="0.42" text-anchor="start" font-weight="bold" textLength="12.2" lengthAdjust="spacingAndGlyphs">Cu</text>
<text x="236.6" y="182.8" font-size="8.8" fill="#109217" stroke="#109217" stroke-width="0.42" text-anchor="start" font-weight="bold" textLength="12.3" lengthAdjust="spacingAndGlyphs">Cu</text>
<text x="144.3" y="18.8" font-size="8.2" fill="#000" stroke="#000" stroke-width="0.42" text-anchor="start" font-weight="bold" textLength="31.0" lengthAdjust="spacingAndGlyphs">Element</text>
<text x="179.6" y="18.8" font-size="8.2" fill="#000" stroke="#000" stroke-width="0.42" text-anchor="start" font-weight="bold" textLength="23.7" lengthAdjust="spacingAndGlyphs">Series</text>
<text x="212.2" y="18.8" font-size="8.2" fill="#000" stroke="#000" stroke-width="0.42" text-anchor="start" font-weight="bold" textLength="30.0" lengthAdjust="spacingAndGlyphs">Atom. C</text>
<text x="245.8" y="18.8" font-size="8.2" fill="#000" stroke="#000" stroke-width="0.42" text-anchor="start" font-weight="bold" textLength="22.1" lengthAdjust="spacingAndGlyphs">[at.%]</text>
<text x="146.6" y="30.3" font-size="8.2" fill="#000" stroke="#000" stroke-width="0.42" text-anchor="start" font-weight="bold" textLength="11.3" lengthAdjust="spacingAndGlyphs">Cu</text>
<text x="180.9" y="30.3" font-size="8.2" fill="#000" stroke="#000" stroke-width="0.42" text-anchor="start" font-weight="bold" textLength="31.2" lengthAdjust="spacingAndGlyphs">K-series</text>
<text x="227.5" y="30.3" font-size="8.2" fill="#000" stroke="#000" stroke-width="0.42" text-anchor="start" font-weight="bold" textLength="19.8" lengthAdjust="spacingAndGlyphs">40.08</text>
<text x="146.6" y="41.8" font-size="8.2" fill="#000" stroke="#000" stroke-width="0.42" text-anchor="start" font-weight="bold" textLength="11.3" lengthAdjust="spacingAndGlyphs">Co</text>
<text x="180.9" y="41.8" font-size="8.2" fill="#000" stroke="#000" stroke-width="0.42" text-anchor="start" font-weight="bold" textLength="31.2" lengthAdjust="spacingAndGlyphs">K-series</text>
<text x="227.5" y="41.8" font-size="8.2" fill="#000" stroke="#000" stroke-width="0.42" text-anchor="start" font-weight="bold" textLength="19.8" lengthAdjust="spacingAndGlyphs">21.30</text>
<text x="146.6" y="53.8" font-size="8.2" fill="#000" stroke="#000" stroke-width="0.42" text-anchor="start" font-weight="bold" textLength="6.0" lengthAdjust="spacingAndGlyphs">S</text>
<text x="180.9" y="53.8" font-size="8.2" fill="#000" stroke="#000" stroke-width="0.42" text-anchor="start" font-weight="bold" textLength="31.2" lengthAdjust="spacingAndGlyphs">K-series</text>
<text x="227.5" y="53.8" font-size="8.2" fill="#000" stroke="#000" stroke-width="0.42" text-anchor="start" font-weight="bold" textLength="19.8" lengthAdjust="spacingAndGlyphs">38.62</text>
<text x="147.3" y="108.2" font-size="8.2" fill="#000" stroke="#000" stroke-width="0.42" text-anchor="start" font-weight="bold" textLength="30.7" lengthAdjust="spacingAndGlyphs">Element</text>
<text x="184.2" y="108.2" font-size="8.2" fill="#000" stroke="#000" stroke-width="0.42" text-anchor="start" font-weight="bold" textLength="24.1" lengthAdjust="spacingAndGlyphs">Series</text>
<text x="214.6" y="108.2" font-size="8.2" fill="#000" stroke="#000" stroke-width="0.42" text-anchor="start" font-weight="bold" textLength="54.1" lengthAdjust="spacingAndGlyphs">Atom. C [at.%]</text>
<text x="149.4" y="119.7" font-size="8.2" fill="#000" stroke="#000" stroke-width="0.42" text-anchor="start" font-weight="bold" textLength="11.3" lengthAdjust="spacingAndGlyphs">Cu</text>
<text x="179.7" y="119.7" font-size="8.2" fill="#000" stroke="#000" stroke-width="0.42" text-anchor="start" font-weight="bold" textLength="31.8" lengthAdjust="spacingAndGlyphs">K-series</text>
<text x="225.6" y="119.7" font-size="8.2" fill="#000" stroke="#000" stroke-width="0.42" text-anchor="start" font-weight="bold" textLength="20.4" lengthAdjust="spacingAndGlyphs">48.99</text>
<text x="149.4" y="130.8" font-size="8.2" fill="#000" stroke="#000" stroke-width="0.42" text-anchor="start" font-weight="bold" textLength="6.0" lengthAdjust="spacingAndGlyphs">S</text>
<text x="178.4" y="130.8" font-size="8.2" fill="#000" stroke="#000" stroke-width="0.42" text-anchor="start" font-weight="bold" textLength="31.8" lengthAdjust="spacingAndGlyphs">K-series</text>
<text x="226.6" y="130.8" font-size="8.2" fill="#000" stroke="#000" stroke-width="0.42" text-anchor="start" font-weight="bold" textLength="20.4" lengthAdjust="spacingAndGlyphs">37.74</text>
<text x="149.4" y="142.7" font-size="8.2" fill="#000" stroke="#000" stroke-width="0.42" text-anchor="start" font-weight="bold" textLength="11.3" lengthAdjust="spacingAndGlyphs">Co</text>
<text x="179.7" y="142.7" font-size="8.2" fill="#000" stroke="#000" stroke-width="0.42" text-anchor="start" font-weight="bold" textLength="31.8" lengthAdjust="spacingAndGlyphs">K-series</text>
<text x="225.6" y="142.7" font-size="8.2" fill="#000" stroke="#000" stroke-width="0.42" text-anchor="start" font-weight="bold" textLength="20.4" lengthAdjust="spacingAndGlyphs">13.26</text>
<rect x="301.5" y="7.4" width="236.8" height="178.8" stroke="#000" stroke-width="1.6" fill="none"/>
<line x1="301.6" y1="186.2" x2="301.6" y2="189.0" stroke="#000" stroke-width="1.1"/>
<text x="293.1" y="199.5" font-size="9.9" fill="#000" stroke="#000" stroke-width="0.42" text-anchor="start" font-weight="bold" textLength="17.1" lengthAdjust="spacingAndGlyphs">965</text>
<line x1="316.4" y1="186.2" x2="316.4" y2="188.1" stroke="#000" stroke-width="1.1"/>
<line x1="331.2" y1="186.2" x2="331.2" y2="189.0" stroke="#000" stroke-width="1.1"/>
<text x="322.6" y="199.5" font-size="9.9" fill="#000" stroke="#000" stroke-width="0.42" text-anchor="start" font-weight="bold" textLength="17.1" lengthAdjust="spacingAndGlyphs">960</text>
<line x1="346.0" y1="186.2" x2="346.0" y2="188.1" stroke="#000" stroke-width="1.1"/>
<line x1="360.8" y1="186.2" x2="360.8" y2="189.0" stroke="#000" stroke-width="1.1"/>
<text x="352.2" y="199.5" font-size="9.9" fill="#000" stroke="#000" stroke-width="0.42" text-anchor="start" font-weight="bold" textLength="17.1" lengthAdjust="spacingAndGlyphs">955</text>
<line x1="375.6" y1="186.2" x2="375.6" y2="188.1" stroke="#000" stroke-width="1.1"/>
<line x1="390.4" y1="186.2" x2="390.4" y2="189.0" stroke="#000" stroke-width="1.1"/>
<text x="381.8" y="199.5" font-size="9.9" fill="#000" stroke="#000" stroke-width="0.42" text-anchor="start" font-weight="bold" textLength="17.1" lengthAdjust="spacingAndGlyphs">950</text>
<line x1="405.2" y1="186.2" x2="405.2" y2="188.1" stroke="#000" stroke-width="1.1"/>
<line x1="420.0" y1="186.2" x2="420.0" y2="189.0" stroke="#000" stroke-width="1.1"/>
<text x="411.4" y="199.5" font-size="9.9" fill="#000" stroke="#000" stroke-width="0.42" text-anchor="start" font-weight="bold" textLength="17.1" lengthAdjust="spacingAndGlyphs">945</text>
<line x1="434.8" y1="186.2" x2="434.8" y2="188.1" stroke="#000" stroke-width="1.1"/>
<line x1="449.6" y1="186.2" x2="449.6" y2="189.0" stroke="#000" stroke-width="1.1"/>
<text x="441.0" y="199.5" font-size="9.9" fill="#000" stroke="#000" stroke-width="0.42" text-anchor="start" font-weight="bold" textLength="17.1" lengthAdjust="spacingAndGlyphs">940</text>
<line x1="464.3" y1="186.2" x2="464.3" y2="188.1" stroke="#000" stroke-width="1.1"/>
<line x1="479.1" y1="186.2" x2="479.1" y2="189.0" stroke="#000" stroke-width="1.1"/>
<text x="470.6" y="199.5" font-size="9.9" fill="#000" stroke="#000" stroke-width="0.42" text-anchor="start" font-weight="bold" textLength="17.1" lengthAdjust="spacingAndGlyphs">935</text>
<line x1="493.9" y1="186.2" x2="493.9" y2="188.1" stroke="#000" stroke-width="1.1"/>
<line x1="508.7" y1="186.2" x2="508.7" y2="189.0" stroke="#000" stroke-width="1.1"/>
<text x="500.2" y="199.5" font-size="9.9" fill="#000" stroke="#000" stroke-width="0.42" text-anchor="start" font-weight="bold" textLength="17.1" lengthAdjust="spacingAndGlyphs">930</text>
<line x1="523.5" y1="186.2" x2="523.5" y2="188.1" stroke="#000" stroke-width="1.1"/>
<line x1="538.3" y1="186.2" x2="538.3" y2="189.0" stroke="#000" stroke-width="1.1"/>
<text x="529.8" y="199.5" font-size="9.9" fill="#000" stroke="#000" stroke-width="0.42" text-anchor="start" font-weight="bold" textLength="17.1" lengthAdjust="spacingAndGlyphs">925</text>
<text x="276.9" y="15.8" font-size="15.2" fill="#000" stroke="#000" stroke-width="0.35" text-anchor="start" font-weight="bold" textLength="20.3" lengthAdjust="spacingAndGlyphs">(b)</text>
<text x="364.7" y="211.8" font-size="11.8" fill="#000" stroke="#000" stroke-width="0.3" text-anchor="start" font-weight="bold" textLength="120.7" lengthAdjust="spacingAndGlyphs">Binding energy (eV)</text>
<text transform="translate(287.9,100.0) rotate(-90)" x="0" y="0" font-size="12.3" fill="#000" stroke="#000" stroke-width="0.42" text-anchor="middle" font-weight="bold" textLength="86.6" lengthAdjust="spacingAndGlyphs">Intensity (a.u.)</text>
<path d="M468,69.1 468.5,69.1 469,69.1 469.5,69.1 470,69.1 470.5,69.1 471,69.1 471.5,69.1 472,69.1 472.5,69 473,69 473.5,68.9 474,68.9 474.5,68.8 475,68.7 475.5,68.6 476,68.5 476.5,68.3 477,68.2 477.5,68 478,67.7 478.5,67.5 479,67.2 479.5,66.9 480,66.6 480.5,66.3 481,65.9 481.5,65.6 482,65.2 482.5,64.7 483,64.3 483.5,63.9 484,63.5 484.5,63.1 485,62.6 485.5,62.3 486,61.9 486.5,61.5 487,61.2 487.5,61 488,60.8 488.5,60.6 489,60.5 489.5,60.4 490,60.4 490.5,60.5 491,60.8 491.5,61.3 492,61.9 492.5,62.6 493,63.4 493.5,64.2 494,65.1 494.5,65.9 495,66.6 495.5,67.3 496,67.9 496.5,68.4 497,68.8 497.5,69.2 498,69.5 498.5,69.7 499,69.8 499.5,70 500,70.1 500.5,70.1 501,70.2 501.5,70.2 502,70.3 502.5,70.3 503,70.3 503.5,70.3 504,70.4 504.5,70.4 505,70.4 505.5,70.4 506,70.4 506,70.4 468,69.1 Z" stroke="#178a80" stroke-width="0.6" fill="#249a8c" stroke-linejoin="round"/>
<path d="M335,65.5 335.5,65.4 336,65.4 336.5,65.3 337,65.2 337.5,65.1 338,65 338.5,64.9 339,64.8 339.5,64.7 340,64.6 340.5,64.5 341,64.4 341.5,64.3 342,64.2 342.5,64.1 343,64 343.5,63.9 344,63.7 344.5,63.6 345,63.5 345.5,63.4 346,63.3 346.5,63.2 347,63 347.5,62.9 348,62.8 348.5,62.7 349,62.6 349.5,62.5 350,62.4 350.5,62.2 351,62.1 351.5,62 352,61.9 352.5,61.8 353,61.6 353.5,61.5 354,61.3 354.5,61.2 355,61 355.5,60.9 356,60.7 356.5,60.4 357,60.2 357.5,60 358,59.7 358.5,59.4 359,59.1 359.5,58.7 360,58.4 360.5,58 361,57.6 361.5,57.1 362,56.7 362.5,56.2 363,55.8 363.5,55.3 364,54.8 364.5,54.3 365,53.8 365.5,53.3 366,52.8 366.5,52.4 367,52 367.5,51.7 368,51.4 368.5,51.2 369,51.1 369.5,51.1 370,51.2 370.5,51.5 371,51.8 371.5,52.2 372,52.7 372.5,53.3 373,54 373.5,54.6 374,55.3 374.5,56.1 375,56.8 375.5,57.5 376,58.2 376.5,58.9 377,59.5 377.5,60.1 378,60.7 378.5,61.2 379,61.8 379.5,62.2 380,62.7 380.5,63.1 381,63.5 381.5,63.9 382,64.2 382.5,64.4 383,64.7 383.5,64.9 384,65.1 384.5,65.3 385,65.4 385.5,65.6 386,65.7 386.5,65.8 387,65.9 387.5,66 388,66.1 388.5,66.2 389,66.3 389.5,66.4 390,66.4 390.5,66.5 391,66.6 391.5,66.6 392,66.7 392.5,66.8 393,66.8 393.5,66.8 394,66.8 394.5,66.8 395,66.8 395.5,66.8 396,66.8 396.5,66.8 397,66.9 397.5,66.9 398,66.9 398.5,66.9 399,66.9 399.5,66.9 400,67 400.5,67 401,67 401.5,67 402,67 402.5,67 403,67.1 403.5,67.1 404,67.1 404.5,67.1 405,67.1 405.5,67.1 406,67.2 406.5,67.2 407,67.2 407.5,67.2 408,67.2 408.5,67.2 409,67.2 409.5,67.3 410,67.3" stroke="#12a040" stroke-width="0.9" fill="none" stroke-linejoin="round"/>
<path d="M303,65.5 303.5,65.5 304,65.6 304.5,65.6 305,65.6 305.5,65.6 306,65.6 306.5,65.6 307,65.6 307.5,65.6 308,65.6 308.5,65.6 309,65.6 309.5,65.6 310,65.6 310.5,65.6 311,65.7 311.5,65.7 312,65.7 312.5,65.7 313,65.7 313.5,65.7 314,65.7 314.5,65.7 315,65.7 315.5,65.7 316,65.7 316.5,65.7 317,65.7 317.5,65.7 318,65.7 318.5,65.8 319,65.8 319.5,65.8 320,65.8 320.5,65.8 321,65.8 321.5,65.8 322,65.8 322.5,65.8 323,65.8 323.5,65.8 324,65.8 324.5,65.8 325,65.8 325.5,65.8 326,65.9 326.5,65.9 327,65.9 327.5,65.9 328,65.9 328.5,65.9 329,65.9 329.5,65.9 330,65.9 330.5,65.9 331,65.9 331.5,65.9 332,65.9 332.5,65.9 333,66 333.5,66 334,66 334.5,66 335,66 335.5,66 336,66 336.5,66 337,66 337.5,66 338,66 338.5,66 339,66 339.5,66 340,66 340.5,66.1 341,66.1 341.5,66.1 342,66.1 342.5,66.1 343,66.1 343.5,66.1 344,66.1 344.5,66.1 345,66.1 345.5,66.1 346,66.1 346.5,66.1 347,66.1 347.5,66.2 348,66.2 348.5,66.2 349,66.2 349.5,66.2 350,66.2 350.5,66.2 351,66.2 351.5,66.2 352,66.2 352.5,66.2 353,66.2 353.5,66.2 354,66.2 354.5,66.2 355,66.3 355.5,66.3 356,66.3 356.5,66.3 357,66.3 357.5,66.3 358,66.3 358.5,66.3 359,66.3 359.5,66.3 360,66.3 360.5,66.3 361,66.3 361.5,66.3 362,66.3 362.5,66.4 363,66.4 363.5,66.4 364,66.4 364.5,66.4 365,66.4 365.5,66.4 366,66.4 366.5,66.4 367,66.4 367.5,66.4 368,66.4 368.5,66.4 369,66.4 369.5,66.5 370,66.5 370.5,66.5 371,66.5 371.5,66.5 372,66.5 372.5,66.5 373,66.5 373.5,66.5 374,66.5 374.5,66.5 375,66.5 375.5,66.5 376,66.5 376.5,66.5 377,66.6 377.5,66.6 378,66.6 378.5,66.6 379,66.6 379.5,66.6 380,66.6 380.5,66.6 381,66.6 381.5,66.6 382,66.6 382.5,66.6 383,66.6 383.5,66.6 384,66.6 384.5,66.7 385,66.7 385.5,66.7 386,66.7 386.5,66.7 387,66.7 387.5,66.7 388,66.7 388.5,66.7 389,66.7 389.5,66.7 390,66.7 390.5,66.7 391,66.7 391.5,66.8 392,66.8 392.5,66.8 393,66.8 393.5,66.8 394,66.8 394.5,66.8 395,66.8 395.5,66.8 396,66.8 396.5,66.8 397,66.9 397.5,66.9 398,66.9 398.5,66.9 399,66.9 399.5,66.9 400,67 400.5,67 401,67 401.5,67 402,67 402.5,67 403,67.1 403.5,67.1 404,67.1 404.5,67.1 405,67.1 405.5,67.1 406,67.2 406.5,67.2 407,67.2 407.5,67.2 408,67.2 408.5,67.2 409,67.2 409.5,67.3 410,67.3 410.5,67.3 411,67.3 411.5,67.3 412,67.3 412.5,67.4 413,67.4 413.5,67.4 414,67.4 414.5,67.4 415,67.4 415.5,67.5 416,67.5 416.5,67.5 417,67.5 417.5,67.5 418,67.5 418.5,67.6 419,67.6 419.5,67.6 420,67.6 420.5,67.6 421,67.6 421.5,67.6 422,67.7 422.5,67.7 423,67.7 423.5,67.7 424,67.7 424.5,67.7 425,67.8 425.5,67.8 426,67.8 426.5,67.8 427,67.8 427.5,67.8 428,67.9 428.5,67.9 429,67.9 429.5,67.9 430,67.9 430.5,67.9 431,68 431.5,68 432,68 432.5,68 433,68 433.5,68 434,68 434.5,68.1 435,68.1 435.5,68.1 436,68.1 436.5,68.1 437,68.1 437.5,68.2 438,68.2 438.5,68.2 439,68.2 439.5,68.2 440,68.2 440.5,68.3 441,68.3 441.5,68.3 442,68.3 442.5,68.3 443,68.3 443.5,68.4 444,68.4 444.5,68.4 445,68.4 445.5,68.4 446,68.4 446.5,68.4 447,68.5 447.5,68.5 448,68.5 448.5,68.5 449,68.5 449.5,68.5 450,68.6 450.5,68.6 451,68.6 451.5,68.6 452,68.6 452.5,68.6 453,68.7 453.5,68.7 454,68.7 454.5,68.7 455,68.7 455.5,68.7 456,68.8 456.5,68.8 457,68.8 457.5,68.8 458,68.8 458.5,68.8 459,68.8 459.5,68.9 460,68.9 460.5,68.9 461,68.9 461.5,68.9 462,68.9 462.5,69 463,69 463.5,69 464,69 464.5,69 465,69 465.5,69.1 466,69.1 466.5,69.1 467,69.1 467.5,69.1 468,69.1 468.5,69.2 469,69.2 469.5,69.2 470,69.2 470.5,69.2 471,69.2 471.5,69.3 472,69.3 472.5,69.3 473,69.3 473.5,69.3 474,69.3 474.5,69.4 475,69.4 475.5,69.4 476,69.4 476.5,69.4 477,69.4 477.5,69.5 478,69.5 478.5,69.5 479,69.5 479.5,69.5 480,69.5 480.5,69.6 481,69.6 481.5,69.6 482,69.6 482.5,69.6 483,69.6 483.5,69.7 484,69.7 484.5,69.7 485,69.7 485.5,69.7 486,69.7 486.5,69.8 487,69.8 487.5,69.8 488,69.8 488.5,69.8 489,69.9 489.5,69.9 490,69.9 490.5,69.9 491,69.9 491.5,69.9 492,70 492.5,70 493,70 493.5,70 494,70 494.5,70 495,70.1 495.5,70.1 496,70.1 496.5,70.1 497,70.1 497.5,70.1 498,70.2 498.5,70.2 499,70.2 499.5,70.2 500,70.2 500.5,70.2 501,70.3 501.5,70.3 502,70.3 502.5,70.3 503,70.3 503.5,70.3 504,70.4 504.5,70.4 505,70.4 505.5,70.4 506,70.4 506.5,70.5 507,70.5 507.5,70.5 508,70.5 508.5,70.5 509,70.5 509.5,70.6 510,70.6 510.5,70.6 511,70.6 511.5,70.6 512,70.6 512.5,70.7 513,70.7 513.5,70.7 514,70.7 514.5,70.7 515,70.7 515.5,70.8 516,70.8 516.5,70.8 517,70.8 517.5,70.8 518,70.8 518.5,70.9 519,70.9 519.5,70.9 520,70.9 520.5,70.9 521,70.9 521.5,71 522,71 522.5,71 523,71 523.5,71 524,71.1 524.5,71.1 525,71.1 525.5,71.1 526,71.1 526.5,71.1 527,71.2 527.5,71.2 528,71.2 528.5,71.2 529,71.2 529.5,71.2 530,71.3 530.5,71.3 531,71.3 531.5,71.3 532,71.3 532.5,71.3 533,71.4 533.5,71.4 534,71.4 534.5,71.4 535,71.4 535.5,71.4 536,71.5" stroke="#50806a" stroke-width="1.0" fill="none" stroke-linejoin="round"/>
<path d="M303,63.8 303.5,63.9 304,63.9 304.5,63.9 305,63.9 305.5,63.9 306,63.9 306.5,64 307,64 307.5,64 308,64 308.5,64 309,64 309.5,64 310,64.1 310.5,64.1 311,64.1 311.5,64.1 312,64.1 312.5,64.1 313,64.1 313.5,64.2 314,64.2 314.5,64.2 315,64.2 315.5,64.2 316,64.2 316.5,64.2 317,64.2 317.5,64.2 318,64.2 318.5,64.2 319,64.2 319.5,64.2 320,64.2 320.5,64.2 321,64.2 321.5,64.2 322,64.2 322.5,64.2 323,64.2 323.5,64.2 324,64.2 324.5,64.2 325,64.2 325.5,64.2 326,64.1 326.5,64.1 327,64.1 327.5,64.1 328,64 328.5,64 329,64 329.5,63.9 330,63.9 330.5,63.8 331,63.8 331.5,63.7 332,63.7 332.5,63.6 333,63.6 333.5,63.5 334,63.5 334.5,63.4 335,63.3 335.5,63.2 336,63.2 336.5,63.1 337,63 337.5,62.9 338,62.8 338.5,62.7 339,62.6 339.5,62.5 340,62.4 340.5,62.3 341,62.2 341.5,62.1 342,62 342.5,61.9 343,61.8 343.5,61.7 344,61.5 344.5,61.4 345,61.3 345.5,61.2 346,61.1 346.5,61 347,60.8 347.5,60.7 348,60.6 348.5,60.5 349,60.4 349.5,60.3 350,60.2 350.5,60 351,59.9 351.5,59.8 352,59.7 352.5,59.6 353,59.4 353.5,59.3 354,59.1 354.5,59 355,58.8 355.5,58.7 356,58.5 356.5,58.2 357,58 357.5,57.8 358,57.5 358.5,57.2 359,56.9 359.5,56.5 360,56.2 360.5,55.8 361,55.4 361.5,54.9 362,54.5 362.5,54 363,53.6 363.5,53.1 364,52.6 364.5,52.1 365,51.6 365.5,51.1 366,50.6 366.5,50.2 367,49.8 367.5,49.5 368,49.2 368.5,49 369,48.9 369.5,48.9 370,49 370.5,49.3 371,49.6 371.5,50 372,50.5 372.5,51.1 373,51.8 373.5,52.4 374,53.1 374.5,53.9 375,54.6 375.5,55.3 376,56 376.5,56.7 377,57.3 377.5,57.9 378,58.5 378.5,59 379,59.6 379.5,60 380,60.5 380.5,60.9 381,61.3 381.5,61.7 382,62 382.5,62.2 383,62.5 383.5,62.7 384,62.9 384.5,63.1 385,63.2 385.5,63.4 386,63.5 386.5,63.6 387,63.7 387.5,63.8 388,63.9 388.5,64 389,64.1 389.5,64.2 390,64.2 390.5,64.3 391,64.4 391.5,64.4 392,64.5 392.5,64.6 393,64.6 393.5,64.7 394,64.7 394.5,64.7 395,64.8 395.5,64.8 396,64.9 396.5,64.9 397,65 397.5,65 398,65 398.5,65.1 399,65.1 399.5,65.2 400,65.2 400.5,65.2 401,65.3 401.5,65.3 402,65.3 402.5,65.3 403,65.4 403.5,65.4 404,65.4 404.5,65.5 405,65.5 405.5,65.5 406,65.6 406.5,65.6 407,65.6 407.5,65.7 408,65.7 408.5,65.7 409,65.7 409.5,65.8 410,65.8 410.5,65.8 411,65.9 411.5,65.9 412,65.9 412.5,66 413,66 413.5,66 414,66.1 414.5,66.1 415,66.1 415.5,66.2 416,66.2 416.5,66.3 417,66.3 417.5,66.3 418,66.4 418.5,66.4 419,66.4 419.5,66.5 420,66.5 420.5,66.5 421,66.6 421.5,66.6 422,66.7 422.5,66.7 423,66.7 423.5,66.8 424,66.8 424.5,66.8 425,66.9 425.5,66.9 426,66.9 426.5,67 427,67 427.5,67 428,67.1 428.5,67.1 429,67.1 429.5,67.2 430,67.2 430.5,67.2 431,67.3 431.5,67.3 432,67.3 432.5,67.4 433,67.4 433.5,67.4 434,67.5 434.5,67.5 435,67.6 435.5,67.6 436,67.6 436.5,67.7 437,67.7 437.5,67.7 438,67.8 438.5,67.8 439,67.9 439.5,67.9 440,67.9 440.5,68 441,68 441.5,68 442,68.1 442.5,68.1 443,68.1 443.5,68.2 444,68.2 444.5,68.2 445,68.2 445.5,68.3 446,68.3 446.5,68.3 447,68.3 447.5,68.3 448,68.4 448.5,68.4 449,68.4 449.5,68.4 450,68.4 450.5,68.4 451,68.4 451.5,68.4 452,68.4 452.5,68.4 453,68.4 453.5,68.4 454,68.4 454.5,68.4 455,68.4 455.5,68.4 456,68.4 456.5,68.4 457,68.4 457.5,68.4 458,68.4 458.5,68.4 459,68.4 459.5,68.4 460,68.4 460.5,68.4 461,68.4 461.5,68.4 462,68.4 462.5,68.4 463,68.3 463.5,68.3 464,68.3 464.5,68.3 465,68.3 465.5,68.3 466,68.3 466.5,68.3 467,68.3 467.5,68.2 468,68.2 468.5,68.2 469,68.2 469.5,68.2 470,68.1 470.5,68.1 471,68.1 471.5,68.1 472,68 472.5,68 473,68 473.5,67.9 474,67.8 474.5,67.7 475,67.6 475.5,67.5 476,67.3 476.5,67.2 477,67 477.5,66.8 478,66.6 478.5,66.3 479,66.1 479.5,65.8 480,65.5 480.5,65.2 481,64.8 481.5,64.4 482,64 482.5,63.6 483,63 483.5,62.5 484,61.9 484.5,61.3 485,60.6 485.5,59.9 486,59.2 486.5,58.4 487,57.6 487.5,56.7 488,55.9 488.5,55 489,54 489.5,53 490,51.8 490.5,50.5 491,49.1 491.5,47.5 492,45.6 492.5,43.6 493,41.3 493.5,38.8 494,36.1 494.5,33.3 495,30.7 495.5,28.2 496,26.2 496.5,24.8 497,24.1" stroke="#ff3030" stroke-width="1.0" fill="none" stroke-linejoin="round"/>
<path d="M301.6,63.8a1.35,1.35 0 1,0 2.7,0a1.35,1.35 0 1,0 -2.7,0M303.6,63.9a1.35,1.35 0 1,0 2.7,0a1.35,1.35 0 1,0 -2.7,0M305.6,64a1.35,1.35 0 1,0 2.7,0a1.35,1.35 0 1,0 -2.7,0M307.6,64a1.35,1.35 0 1,0 2.7,0a1.35,1.35 0 1,0 -2.7,0M309.6,64.1a1.35,1.35 0 1,0 2.7,0a1.35,1.35 0 1,0 -2.7,0M311.6,64.1a1.35,1.35 0 1,0 2.7,0a1.35,1.35 0 1,0 -2.7,0M313.6,64.2a1.35,1.35 0 1,0 2.7,0a1.35,1.35 0 1,0 -2.7,0M315.6,64.2a1.35,1.35 0 1,0 2.7,0a1.35,1.35 0 1,0 -2.7,0M317.6,64.2a1.35,1.35 0 1,0 2.7,0a1.35,1.35 0 1,0 -2.7,0M319.6,64.2a1.35,1.35 0 1,0 2.7,0a1.35,1.35 0 1,0 -2.7,0M321.6,64.2a1.35,1.35 0 1,0 2.7,0a1.35,1.35 0 1,0 -2.7,0M323.6,64.2a1.35,1.35 0 1,0 2.7,0a1.35,1.35 0 1,0 -2.7,0M325.6,64.1a1.35,1.35 0 1,0 2.7,0a1.35,1.35 0 1,0 -2.7,0M327.6,64a1.35,1.35 0 1,0 2.7,0a1.35,1.35 0 1,0 -2.7,0M329.6,63.8a1.35,1.35 0 1,0 2.7,0a1.35,1.35 0 1,0 -2.7,0M331.6,63.6a1.35,1.35 0 1,0 2.7,0a1.35,1.35 0 1,0 -2.7,0M333.6,63.3a1.35,1.35 0 1,0 2.7,0a1.35,1.35 0 1,0 -2.7,0M335.6,63a1.35,1.35 0 1,0 2.7,0a1.35,1.35 0 1,0 -2.7,0M337.5,62.6a1.35,1.35 0 1,0 2.7,0a1.35,1.35 0 1,0 -2.7,0M339.5,62.2a1.35,1.35 0 1,0 2.7,0a1.35,1.35 0 1,0 -2.7,0M341.5,61.8a1.35,1.35 0 1,0 2.7,0a1.35,1.35 0 1,0 -2.7,0M343.4,61.4a1.35,1.35 0 1,0 2.7,0a1.35,1.35 0 1,0 -2.7,0M345.4,60.9a1.35,1.35 0 1,0 2.7,0a1.35,1.35 0 1,0 -2.7,0M347.3,60.5a1.35,1.35 0 1,0 2.7,0a1.35,1.35 0 1,0 -2.7,0M349.3,60a1.35,1.35 0 1,0 2.7,0a1.35,1.35 0 1,0 -2.7,0M351.2,59.6a1.35,1.35 0 1,0 2.7,0a1.35,1.35 0 1,0 -2.7,0M353.1,59a1.35,1.35 0 1,0 2.7,0a1.35,1.35 0 1,0 -2.7,0M355,58.3a1.35,1.35 0 1,0 2.7,0a1.35,1.35 0 1,0 -2.7,0M356.8,57.4a1.35,1.35 0 1,0 2.7,0a1.35,1.35 0 1,0 -2.7,0M358.4,56.3a1.35,1.35 0 1,0 2.7,0a1.35,1.35 0 1,0 -2.7,0M360,55.1a1.35,1.35 0 1,0 2.7,0a1.35,1.35 0 1,0 -2.7,0M361.5,53.7a1.35,1.35 0 1,0 2.7,0a1.35,1.35 0 1,0 -2.7,0M362.9,52.3a1.35,1.35 0 1,0 2.7,0a1.35,1.35 0 1,0 -2.7,0M364.3,50.9a1.35,1.35 0 1,0 2.7,0a1.35,1.35 0 1,0 -2.7,0M365.9,49.6a1.35,1.35 0 1,0 2.7,0a1.35,1.35 0 1,0 -2.7,0M367.7,48.9a1.35,1.35 0 1,0 2.7,0a1.35,1.35 0 1,0 -2.7,0M369.6,49.5a1.35,1.35 0 1,0 2.7,0a1.35,1.35 0 1,0 -2.7,0M371,50.9a1.35,1.35 0 1,0 2.7,0a1.35,1.35 0 1,0 -2.7,0M372.2,52.5a1.35,1.35 0 1,0 2.7,0a1.35,1.35 0 1,0 -2.7,0M373.4,54.2a1.35,1.35 0 1,0 2.7,0a1.35,1.35 0 1,0 -2.7,0M374.5,55.8a1.35,1.35 0 1,0 2.7,0a1.35,1.35 0 1,0 -2.7,0M375.7,57.4a1.35,1.35 0 1,0 2.7,0a1.35,1.35 0 1,0 -2.7,0M377,58.9a1.35,1.35 0 1,0 2.7,0a1.35,1.35 0 1,0 -2.7,0M378.4,60.3a1.35,1.35 0 1,0 2.7,0a1.35,1.35 0 1,0 -2.7,0M380,61.6a1.35,1.35 0 1,0 2.7,0a1.35,1.35 0 1,0 -2.7,0M381.7,62.5a1.35,1.35 0 1,0 2.7,0a1.35,1.35 0 1,0 -2.7,0M383.6,63.2a1.35,1.35 0 1,0 2.7,0a1.35,1.35 0 1,0 -2.7,0M385.6,63.7a1.35,1.35 0 1,0 2.7,0a1.35,1.35 0 1,0 -2.7,0M387.5,64.1a1.35,1.35 0 1,0 2.7,0a1.35,1.35 0 1,0 -2.7,0M389.5,64.4a1.35,1.35 0 1,0 2.7,0a1.35,1.35 0 1,0 -2.7,0M391.5,64.6a1.35,1.35 0 1,0 2.7,0a1.35,1.35 0 1,0 -2.7,0M393.5,64.8a1.35,1.35 0 1,0 2.7,0a1.35,1.35 0 1,0 -2.7,0M395.5,64.9a1.35,1.35 0 1,0 2.7,0a1.35,1.35 0 1,0 -2.7,0M397.5,65.1a1.35,1.35 0 1,0 2.7,0a1.35,1.35 0 1,0 -2.7,0M399.5,65.2a1.35,1.35 0 1,0 2.7,0a1.35,1.35 0 1,0 -2.7,0M401.5,65.4a1.35,1.35 0 1,0 2.7,0a1.35,1.35 0 1,0 -2.7,0M403.5,65.5a1.35,1.35 0 1,0 2.7,0a1.35,1.35 0 1,0 -2.7,0M405.5,65.6a1.35,1.35 0 1,0 2.7,0a1.35,1.35 0 1,0 -2.7,0M407.5,65.7a1.35,1.35 0 1,0 2.7,0a1.35,1.35 0 1,0 -2.7,0M409.5,65.9a1.35,1.35 0 1,0 2.7,0a1.35,1.35 0 1,0 -2.7,0M411.4,66a1.35,1.35 0 1,0 2.7,0a1.35,1.35 0 1,0 -2.7,0M413.4,66.1a1.35,1.35 0 1,0 2.7,0a1.35,1.35 0 1,0 -2.7,0M415.4,66.3a1.35,1.35 0 1,0 2.7,0a1.35,1.35 0 1,0 -2.7,0M417.4,66.4a1.35,1.35 0 1,0 2.7,0a1.35,1.35 0 1,0 -2.7,0M419.4,66.6a1.35,1.35 0 1,0 2.7,0a1.35,1.35 0 1,0 -2.7,0M421.4,66.7a1.35,1.35 0 1,0 2.7,0a1.35,1.35 0 1,0 -2.7,0M423.4,66.8a1.35,1.35 0 1,0 2.7,0a1.35,1.35 0 1,0 -2.7,0M425.4,67a1.35,1.35 0 1,0 2.7,0a1.35,1.35 0 1,0 -2.7,0M427.4,67.1a1.35,1.35 0 1,0 2.7,0a1.35,1.35 0 1,0 -2.7,0M429.4,67.2a1.35,1.35 0 1,0 2.7,0a1.35,1.35 0 1,0 -2.7,0M431.4,67.4a1.35,1.35 0 1,0 2.7,0a1.35,1.35 0 1,0 -2.7,0M433.4,67.5a1.35,1.35 0 1,0 2.7,0a1.35,1.35 0 1,0 -2.7,0M435.4,67.7a1.35,1.35 0 1,0 2.7,0a1.35,1.35 0 1,0 -2.7,0M437.4,67.8a1.35,1.35 0 1,0 2.7,0a1.35,1.35 0 1,0 -2.7,0M439.4,68a1.35,1.35 0 1,0 2.7,0a1.35,1.35 0 1,0 -2.7,0M441.4,68.1a1.35,1.35 0 1,0 2.7,0a1.35,1.35 0 1,0 -2.7,0M443.4,68.2a1.35,1.35 0 1,0 2.7,0a1.35,1.35 0 1,0 -2.7,0M445.4,68.3a1.35,1.35 0 1,0 2.7,0a1.35,1.35 0 1,0 -2.7,0M447.4,68.4a1.35,1.35 0 1,0 2.7,0a1.35,1.35 0 1,0 -2.7,0M449.4,68.4a1.35,1.35 0 1,0 2.7,0a1.35,1.35 0 1,0 -2.7,0M451.4,68.4a1.35,1.35 0 1,0 2.7,0a1.35,1.35 0 1,0 -2.7,0M453.4,68.4a1.35,1.35 0 1,0 2.7,0a1.35,1.35 0 1,0 -2.7,0M455.4,68.4a1.35,1.35 0 1,0 2.7,0a1.35,1.35 0 1,0 -2.7,0M457.4,68.4a1.35,1.35 0 1,0 2.7,0a1.35,1.35 0 1,0 -2.7,0M459.4,68.4a1.35,1.35 0 1,0 2.7,0a1.35,1.35 0 1,0 -2.7,0M461.4,68.4a1.35,1.35 0 1,0 2.7,0a1.35,1.35 0 1,0 -2.7,0M463.4,68.3a1.35,1.35 0 1,0 2.7,0a1.35,1.35 0 1,0 -2.7,0M465.4,68.3a1.35,1.35 0 1,0 2.7,0a1.35,1.35 0 1,0 -2.7,0M467.4,68.2a1.35,1.35 0 1,0 2.7,0a1.35,1.35 0 1,0 -2.7,0M469.4,68.1a1.35,1.35 0 1,0 2.7,0a1.35,1.35 0 1,0 -2.7,0M471.4,68a1.35,1.35 0 1,0 2.7,0a1.35,1.35 0 1,0 -2.7,0M473.3,67.7a1.35,1.35 0 1,0 2.7,0a1.35,1.35 0 1,0 -2.7,0M475.3,67.1a1.35,1.35 0 1,0 2.7,0a1.35,1.35 0 1,0 -2.7,0M477.1,66.4a1.35,1.35 0 1,0 2.7,0a1.35,1.35 0 1,0 -2.7,0M478.8,65.4a1.35,1.35 0 1,0 2.7,0a1.35,1.35 0 1,0 -2.7,0M480.4,64.2a1.35,1.35 0 1,0 2.7,0a1.35,1.35 0 1,0 -2.7,0M481.9,62.8a1.35,1.35 0 1,0 2.7,0a1.35,1.35 0 1,0 -2.7,0M483.2,61.3a1.35,1.35 0 1,0 2.7,0a1.35,1.35 0 1,0 -2.7,0M484.3,59.6a1.35,1.35 0 1,0 2.7,0a1.35,1.35 0 1,0 -2.7,0M485.4,58a1.35,1.35 0 1,0 2.7,0a1.35,1.35 0 1,0 -2.7,0M486.4,56.2a1.35,1.35 0 1,0 2.7,0a1.35,1.35 0 1,0 -2.7,0M487.4,54.5a1.35,1.35 0 1,0 2.7,0a1.35,1.35 0 1,0 -2.7,0M488.3,52.7a1.35,1.35 0 1,0 2.7,0a1.35,1.35 0 1,0 -2.7,0M489,50.8a1.35,1.35 0 1,0 2.7,0a1.35,1.35 0 1,0 -2.7,0M489.7,49a1.35,1.35 0 1,0 2.7,0a1.35,1.35 0 1,0 -2.7,0M490.3,47a1.35,1.35 0 1,0 2.7,0a1.35,1.35 0 1,0 -2.7,0M490.8,45.1a1.35,1.35 0 1,0 2.7,0a1.35,1.35 0 1,0 -2.7,0M491.2,43.2a1.35,1.35 0 1,0 2.7,0a1.35,1.35 0 1,0 -2.7,0M491.7,41.2a1.35,1.35 0 1,0 2.7,0a1.35,1.35 0 1,0 -2.7,0M492.1,39.2a1.35,1.35 0 1,0 2.7,0a1.35,1.35 0 1,0 -2.7,0M492.4,37.3a1.35,1.35 0 1,0 2.7,0a1.35,1.35 0 1,0 -2.7,0M492.8,35.3a1.35,1.35 0 1,0 2.7,0a1.35,1.35 0 1,0 -2.7,0M493.1,33.3a1.35,1.35 0 1,0 2.7,0a1.35,1.35 0 1,0 -2.7,0M493.5,31.4a1.35,1.35 0 1,0 2.7,0a1.35,1.35 0 1,0 -2.7,0M493.9,29.4a1.35,1.35 0 1,0 2.7,0a1.35,1.35 0 1,0 -2.7,0M494.3,27.5a1.35,1.35 0 1,0 2.7,0a1.35,1.35 0 1,0 -2.7,0M494.9,25.5a1.35,1.35 0 1,0 2.7,0a1.35,1.35 0 1,0 -2.7,0M496,24.3a1.35,1.35 0 1,0 2.7,0a1.35,1.35 0 1,0 -2.7,0M496.9,26a1.35,1.35 0 1,0 2.7,0a1.35,1.35 0 1,0 -2.7,0M497.5,27.9a1.35,1.35 0 1,0 2.7,0a1.35,1.35 0 1,0 -2.7,0M497.9,29.9a1.35,1.35 0 1,0 2.7,0a1.35,1.35 0 1,0 -2.7,0M498.2,31.8a1.35,1.35 0 1,0 2.7,0a1.35,1.35 0 1,0 -2.7,0M498.5,33.8a1.35,1.35 0 1,0 2.7,0a1.35,1.35 0 1,0 -2.7,0M498.7,35.8a1.35,1.35 0 1,0 2.7,0a1.35,1.35 0 1,0 -2.7,0M498.9,37.8a1.35,1.35 0 1,0 2.7,0a1.35,1.35 0 1,0 -2.7,0M499,39.8a1.35,1.35 0 1,0 2.7,0a1.35,1.35 0 1,0 -2.7,0M499.2,41.8a1.35,1.35 0 1,0 2.7,0a1.35,1.35 0 1,0 -2.7,0M499.3,43.8a1.35,1.35 0 1,0 2.7,0a1.35,1.35 0 1,0 -2.7,0M499.5,45.8a1.35,1.35 0 1,0 2.7,0a1.35,1.35 0 1,0 -2.7,0M499.6,47.8a1.35,1.35 0 1,0 2.7,0a1.35,1.35 0 1,0 -2.7,0M499.8,49.8a1.35,1.35 0 1,0 2.7,0a1.35,1.35 0 1,0 -2.7,0M499.9,51.8a1.35,1.35 0 1,0 2.7,0a1.35,1.35 0 1,0 -2.7,0M500.1,53.8a1.35,1.35 0 1,0 2.7,0a1.35,1.35 0 1,0 -2.7,0M500.5,55.7a1.35,1.35 0 1,0 2.7,0a1.35,1.35 0 1,0 -2.7,0M500.9,57.7a1.35,1.35 0 1,0 2.7,0a1.35,1.35 0 1,0 -2.7,0M501.4,59.6a1.35,1.35 0 1,0 2.7,0a1.35,1.35 0 1,0 -2.7,0M502.2,61.4a1.35,1.35 0 1,0 2.7,0a1.35,1.35 0 1,0 -2.7,0M503.7,62.7a1.35,1.35 0 1,0 2.7,0a1.35,1.35 0 1,0 -2.7,0M505.1,64.1a1.35,1.35 0 1,0 2.7,0a1.35,1.35 0 1,0 -2.7,0M506.5,65.5a1.35,1.35 0 1,0 2.7,0a1.35,1.35 0 1,0 -2.7,0M508.1,66.7a1.35,1.35 0 1,0 2.7,0a1.35,1.35 0 1,0 -2.7,0M509.8,67.7a1.35,1.35 0 1,0 2.7,0a1.35,1.35 0 1,0 -2.7,0M511.7,68.4a1.35,1.35 0 1,0 2.7,0a1.35,1.35 0 1,0 -2.7,0M513.7,68.8a1.35,1.35 0 1,0 2.7,0a1.35,1.35 0 1,0 -2.7,0M515.7,69.1a1.35,1.35 0 1,0 2.7,0a1.35,1.35 0 1,0 -2.7,0M517.7,69.3a1.35,1.35 0 1,0 2.7,0a1.35,1.35 0 1,0 -2.7,0M519.6,69.5a1.35,1.35 0 1,0 2.7,0a1.35,1.35 0 1,0 -2.7,0M521.6,69.7a1.35,1.35 0 1,0 2.7,0a1.35,1.35 0 1,0 -2.7,0M523.6,69.8a1.35,1.35 0 1,0 2.7,0a1.35,1.35 0 1,0 -2.7,0M525.6,69.9a1.35,1.35 0 1,0 2.7,0a1.35,1.35 0 1,0 -2.7,0M527.6,70a1.35,1.35 0 1,0 2.7,0a1.35,1.35 0 1,0 -2.7,0M529.6,70.1a1.35,1.35 0 1,0 2.7,0a1.35,1.35 0 1,0 -2.7,0M531.6,70.2a1.35,1.35 0 1,0 2.7,0a1.35,1.35 0 1,0 -2.7,0M533.6,70.3a1.35,1.35 0 1,0 2.7,0a1.35,1.35 0 1,0 -2.7,0" stroke="#303030" stroke-width="0.65" fill="none"/>
<path d="M476,68.5 476.5,68.5 477,68.5 477.5,68.5 478,68.5 478.5,68.5 479,68.5 479.5,68.6 480,68.6 480.5,68.6 481,68.7 481.5,68.7 482,68.7 482.5,68.6 483,68.6 483.5,68.5 484,68.3 484.5,68.1 485,67.9 485.5,67.6 486,67.2 486.5,66.8 487,66.3 487.5,65.8 488,65.1 488.5,64.4 489,63.6 489.5,62.6 490,61.5 490.5,60.1 491,58.4 491.5,56.3 492,53.9 492.5,51.2 493,48.1 493.5,44.8 494,41.3 494.5,37.7 495,34.3 495.5,31.2 496,28.6 496.5,26.7 497,25.6 497.5,25.5 498,26.1 498.5,27.2 499,29.2 499.5,31.8 500,35.4 500.5,41.3 501,48.8 501.5,54.2 502,57.1 502.5,59.2 503,60.6 503.5,61.6 504,62.2 504.5,62.6 505,62.9 505.5,63.2 506,63.7 506.5,64.3 507,64.8 507.5,65.3 508,65.8 508.5,66.2 509,66.6 509.5,66.9 510,67.3 510.5,67.6 511,67.9 511.5,68.1 512,68.3 512.5,68.4 513,68.6 513.5,68.7 514,68.8 514.5,68.9 515,69 515.5,69 516,69.1 516.5,69.2 517,69.3 517.5,69.3 518,69.4 518.5,69.4 519,69.5 519.5,69.6 520,69.6 520.5,69.7 521,69.7 521.5,69.7 522,69.8 522.5,69.8 523,69.9 523.5,69.9 524,69.9 524.5,70 525,70 525.5,70 526,70.1 526.5,70.1 527,70.1 527.5,70.2 528,70.2 528.5,70.2 529,70.2 529.5,70.3 530,70.3 530.5,70.3 531,70.3 531.5,70.4 532,70.4 532.5,70.4 533,70.4 533.5,70.4 534,70.5 534.5,70.5 535,70.5 535.5,70.5 536,70.5" stroke="#c8b420" stroke-width="1.1" fill="none" stroke-linejoin="round"/>
<path d="M462,117.7 462.5,117.7 463,117.7 463.5,117.7 464,117.7 464.5,117.6 465,117.6 465.5,117.6 466,117.6 466.5,117.6 467,117.5 467.5,117.5 468,117.5 468.5,117.4 469,117.3 469.5,117.3 470,117.2 470.5,117.1 471,117 471.5,116.9 472,116.8 472.5,116.6 473,116.5 473.5,116.3 474,116.1 474.5,115.8 475,115.6 475.5,115.3 476,115 476.5,114.6 477,114.3 477.5,113.9 478,113.5 478.5,113.1 479,112.7 479.5,112.3 480,111.8 480.5,111.4 481,111 481.5,110.7 482,110.3 482.5,110.1 483,109.8 483.5,109.7 484,109.6 484.5,109.6 485,109.6 485.5,109.8 486,110 486.5,110.3 487,110.6 487.5,111 488,111.4 488.5,111.9 489,112.4 489.5,112.9 490,113.3 490.5,113.8 491,114.3 491.5,114.7 492,115.2 492.5,115.6 493,116 493.5,116.4 494,116.7 494.5,117 495,117.3 495.5,117.6 496,117.9 496.5,118.1 497,118.3 497.5,118.5 498,118.6 498.5,118.8 499,118.9 499.5,119.1 500,119.2 500.5,119.3 501,119.4 501.5,119.4 502,119.5 502.5,119.6 503,119.7 503.5,119.7 504,119.8 504.5,119.8 505,119.9 505,120.3 462,118 Z" stroke="#1a8a7a" stroke-width="0.6" fill="#259a8a" stroke-linejoin="round"/>
<path d="M334,115.1 334.5,115.1 335,115 335.5,115 336,114.9 336.5,114.9 337,114.8 337.5,114.8 338,114.7 338.5,114.6 339,114.6 339.5,114.5 340,114.4 340.5,114.3 341,114.2 341.5,114.1 342,113.9 342.5,113.8 343,113.7 343.5,113.5 344,113.4 344.5,113.2 345,113.1 345.5,112.9 346,112.8 346.5,112.6 347,112.4 347.5,112.3 348,112.1 348.5,112 349,111.9 349.5,111.7 350,111.6 350.5,111.5 351,111.5 351.5,111.4 352,111.4 352.5,111.4 353,111.4 353.5,111.4 354,111.5 354.5,111.5 355,111.6 355.5,111.7 356,111.9 356.5,112 357,112.2 357.5,112.3 358,112.5 358.5,112.7 359,112.8 359.5,113 360,113.2 360.5,113.3 361,113.5 361.5,113.7 362,113.8 362.5,114 363,114.2 363.5,114.3 364,114.4 364.5,114.6 365,114.7 365.5,114.8 366,114.9 366.5,115 367,115.1 367.5,115.2 368,115.3 368.5,115.3 369,115.4 369.5,115.5 370,115.5 370.5,115.6 371,115.6 371.5,115.7 372,115.7 372,116.2 334,115.6 Z" stroke="#707070" stroke-width="0.6" fill="#b8b8b8" stroke-linejoin="round"/>
<path d="M303,114.9 303.5,114.9 304,114.9 304.5,114.9 305,114.9 305.5,114.9 306,114.9 306.5,115 307,115 307.5,115 308,115 308.5,115 309,115 309.5,115 310,115 310.5,115 311,115.1 311.5,115.1 312,115.1 312.5,115.1 313,115.1 313.5,115.1 314,115.1 314.5,115.1 315,115.2 315.5,115.2 316,115.2 316.5,115.2 317,115.2 317.5,115.2 318,115.2 318.5,115.2 319,115.2 319.5,115.3 320,115.3 320.5,115.3 321,115.3 321.5,115.3 322,115.3 322.5,115.3 323,115.3 323.5,115.3 324,115.4 324.5,115.4 325,115.4 325.5,115.4 326,115.4 326.5,115.4 327,115.4 327.5,115.4 328,115.5 328.5,115.5 329,115.5 329.5,115.5 330,115.5 330.5,115.5 331,115.5 331.5,115.5 332,115.5 332.5,115.5 333,115.5 333.5,115.6 334,115.6 334.5,115.6 335,115.6 335.5,115.6 336,115.6 336.5,115.6 337,115.6 337.5,115.6 338,115.6 338.5,115.6 339,115.6 339.5,115.6 340,115.7 340.5,115.7 341,115.7 341.5,115.7 342,115.7 342.5,115.7 343,115.7 343.5,115.7 344,115.7 344.5,115.7 345,115.7 345.5,115.7 346,115.8 346.5,115.8 347,115.8 347.5,115.8 348,115.8 348.5,115.8 349,115.8 349.5,115.8 350,115.8 350.5,115.8 351,115.8 351.5,115.8 352,115.8 352.5,115.9 353,115.9 353.5,115.9 354,115.9 354.5,115.9 355,115.9 355.5,115.9 356,115.9 356.5,115.9 357,115.9 357.5,115.9 358,115.9 358.5,115.9 359,116 359.5,116 360,116 360.5,116 361,116 361.5,116 362,116 362.5,116 363,116 363.5,116 364,116 364.5,116 365,116 365.5,116.1 366,116.1 366.5,116.1 367,116.1 367.5,116.1 368,116.1 368.5,116.1 369,116.1 369.5,116.1 370,116.1 370.5,116.1 371,116.1 371.5,116.2 372,116.2 372.5,116.2 373,116.2 373.5,116.2 374,116.2 374.5,116.2 375,116.2 375.5,116.2 376,116.2 376.5,116.2 377,116.2 377.5,116.2 378,116.3 378.5,116.3 379,116.3 379.5,116.3 380,116.3 380.5,116.3 381,116.3 381.5,116.3 382,116.3 382.5,116.3 383,116.3 383.5,116.3 384,116.3 384.5,116.4 385,116.4 385.5,116.4 386,116.4 386.5,116.4 387,116.4 387.5,116.4 388,116.4 388.5,116.4 389,116.4 389.5,116.4 390,116.4 390.5,116.5 391,116.5 391.5,116.5 392,116.5 392.5,116.5 393,116.5 393.5,116.5 394,116.5 394.5,116.5 395,116.5 395.5,116.5 396,116.5 396.5,116.5 397,116.6 397.5,116.6 398,116.6 398.5,116.6 399,116.6 399.5,116.6 400,116.6 400.5,116.6 401,116.6 401.5,116.6 402,116.6 402.5,116.7 403,116.7 403.5,116.7 404,116.7 404.5,116.7 405,116.7 405.5,116.7 406,116.7 406.5,116.7 407,116.8 407.5,116.8 408,116.8 408.5,116.8 409,116.8 409.5,116.8 410,116.8 410.5,116.8 411,116.9 411.5,116.9 412,116.9 412.5,116.9 413,116.9 413.5,116.9 414,116.9 414.5,116.9 415,116.9 415.5,117 416,117 416.5,117 417,117 417.5,117 418,117 418.5,117 419,117 419.5,117 420,117.1 420.5,117.1 421,117.1 421.5,117.1 422,117.1 422.5,117.1 423,117.1 423.5,117.1 424,117.1 424.5,117.2 425,117.2 425.5,117.2 426,117.2 426.5,117.2 427,117.2 427.5,117.2 428,117.2 428.5,117.3 429,117.3 429.5,117.3 430,117.3 430.5,117.3 431,117.3 431.5,117.3 432,117.3 432.5,117.3 433,117.4 433.5,117.4 434,117.4 434.5,117.4 435,117.4 435.5,117.4 436,117.4 436.5,117.4 437,117.4 437.5,117.5 438,117.5 438.5,117.5 439,117.5 439.5,117.5 440,117.5 440.5,117.5 441,117.5 441.5,117.5 442,117.6 442.5,117.6 443,117.6 443.5,117.6 444,117.6 444.5,117.6 445,117.6 445.5,117.6 446,117.7 446.5,117.7 447,117.7 447.5,117.7 448,117.7 448.5,117.7 449,117.7 449.5,117.7 450,117.7 450.5,117.8 451,117.8 451.5,117.8 452,117.8 452.5,117.8 453,117.8 453.5,117.8 454,117.8 454.5,117.8 455,117.9 455.5,117.9 456,117.9 456.5,117.9 457,117.9 457.5,117.9 458,117.9 458.5,117.9 459,117.9 459.5,118 460,118 460.5,118 461,118 461.5,118 462,118 462.5,118 463,118 463.5,118.1 464,118.1 464.5,118.1 465,118.1 465.5,118.1 466,118.1 466.5,118.1 467,118.1 467.5,118.1 468,118.2 468.5,118.2 469,118.2 469.5,118.2 470,118.2 470.5,118.2 471,118.3 471.5,118.3 472,118.3 472.5,118.4 473,118.4 473.5,118.4 474,118.4 474.5,118.5 475,118.5 475.5,118.5 476,118.6 476.5,118.6 477,118.6 477.5,118.7 478,118.7 478.5,118.7 479,118.7 479.5,118.8 480,118.8 480.5,118.8 481,118.9 481.5,118.9 482,118.9 482.5,119 483,119 483.5,119 484,119 484.5,119.1 485,119.1 485.5,119.1 486,119.2 486.5,119.2 487,119.2 487.5,119.2 488,119.3 488.5,119.3 489,119.3 489.5,119.4 490,119.4 490.5,119.4 491,119.5 491.5,119.5 492,119.5 492.5,119.5 493,119.6 493.5,119.6 494,119.6 494.5,119.7 495,119.7 495.5,119.7 496,119.8 496.5,119.8 497,119.8 497.5,119.9 498,119.9 498.5,119.9 499,119.9 499.5,120 500,120 500.5,120 501,120.1 501.5,120.1 502,120.1 502.5,120.2 503,120.2 503.5,120.2 504,120.2 504.5,120.3 505,120.3 505.5,120.3 506,120.4 506.5,120.4 507,120.4 507.5,120.5 508,120.5 508.5,120.5 509,120.5 509.5,120.6 510,120.6 510.5,120.6 511,120.7 511.5,120.7 512,120.7 512.5,120.8 513,120.8 513.5,120.8 514,120.8 514.5,120.9 515,120.9 515.5,120.9 516,121 516.5,121 517,121 517.5,121.1 518,121.1 518.5,121.1 519,121.1 519.5,121.2 520,121.2 520.5,121.2 521,121.3 521.5,121.3 522,121.3 522.5,121.4 523,121.4 523.5,121.4 524,121.4 524.5,121.5 525,121.5 525.5,121.5 526,121.6 526.5,121.6 527,121.6 527.5,121.7 528,121.7 528.5,121.7 529,121.7 529.5,121.8 530,121.8 530.5,121.8 531,121.9 531.5,121.9 532,121.9 532.5,122 533,122 533.5,122 534,122 534.5,122.1 535,122.1 535.5,122.1 536,122.2" stroke="#606060" stroke-width="0.8" fill="none" stroke-linejoin="round"/>
<path d="M380,117.3 380.5,117.3 381,117.3 381.5,117.3 382,117.3 382.5,117.3 383,117.3 383.5,117.3 384,117.3 384.5,117.4 385,117.4 385.5,117.4 386,117.4 386.5,117.4 387,117.4 387.5,117.4 388,117.4 388.5,117.4 389,117.4 389.5,117.4 390,117.4 390.5,117.5 391,117.5 391.5,117.5 392,117.5 392.5,117.5 393,117.5 393.5,117.5 394,117.5 394.5,117.5 395,117.5 395.5,117.5 396,117.5 396.5,117.5 397,117.6 397.5,117.6 398,117.6 398.5,117.6 399,117.6 399.5,117.6 400,117.6 400.5,117.6 401,117.6 401.5,117.6 402,117.6 402.5,117.7 403,117.7 403.5,117.7 404,117.7 404.5,117.7 405,117.7 405.5,117.7 406,117.7 406.5,117.7 407,117.8 407.5,117.8 408,117.8 408.5,117.8 409,117.8 409.5,117.8 410,117.8 410.5,117.8 411,117.9 411.5,117.9 412,117.9 412.5,117.9 413,117.9 413.5,117.9 414,117.9 414.5,117.9 415,117.9 415.5,118 416,118 416.5,118 417,118 417.5,118 418,118 418.5,118 419,118 419.5,118 420,118.1 420.5,118.1 421,118.1 421.5,118.1 422,118.1 422.5,118.1 423,118.1 423.5,118.1 424,118.1 424.5,118.2 425,118.2 425.5,118.2 426,118.2 426.5,118.2 427,118.2 427.5,118.2 428,118.2 428.5,118.3 429,118.3 429.5,118.3 430,118.3 430.5,118.3 431,118.3 431.5,118.3 432,118.3 432.5,118.3 433,118.4 433.5,118.4 434,118.4 434.5,118.4 435,118.4 435.5,118.4 436,118.4 436.5,118.4 437,118.4 437.5,118.5 438,118.5 438.5,118.5 439,118.5 439.5,118.5 440,118.5 440.5,118.5 441,118.5 441.5,118.5 442,118.6 442.5,118.6 443,118.6 443.5,118.6 444,118.6 444.5,118.6 445,118.6 445.5,118.6 446,118.7 446.5,118.7 447,118.7 447.5,118.7 448,118.7 448.5,118.7 449,118.7 449.5,118.7 450,118.7 450.5,118.8 451,118.8 451.5,118.8 452,118.8 452.5,118.8 453,118.8 453.5,118.8 454,118.8 454.5,118.8 455,118.9 455.5,118.9 456,118.9 456.5,118.9 457,118.9 457.5,118.9 458,118.9 458.5,118.9 459,118.9 459.5,119 460,119 460.5,119 461,119 461.5,119 462,119 462.5,119 463,119 463.5,119.1 464,119.1 464.5,119.1 465,119.1 465.5,119.1 466,119.1 466.5,119.1 467,119.1 467.5,119.1 468,119.2 468.5,119.2 469,119.2 469.5,119.2 470,119.2 470.5,119.2 471,119.3 471.5,119.3 472,119.3 472.5,119.4 473,119.4 473.5,119.4 474,119.4 474.5,119.5 475,119.5 475.5,119.5 476,119.6 476.5,119.6 477,119.6 477.5,119.7 478,119.7 478.5,119.7 479,119.7 479.5,119.8 480,119.8 480.5,119.8 481,119.9 481.5,119.9 482,119.9 482.5,120 483,120 483.5,120 484,120 484.5,120.1 485,120.1 485.5,120.1 486,120.2 486.5,120.2 487,120.2 487.5,120.2 488,120.3 488.5,120.3 489,120.3 489.5,120.4 490,120.4 490.5,120.4 491,120.5 491.5,120.5 492,120.5 492.5,120.5 493,120.6 493.5,120.6 494,120.6 494.5,120.7 495,120.7 495.5,120.7 496,120.8 496.5,120.8 497,120.8 497.5,120.9 498,120.9 498.5,120.9 499,120.9 499.5,121 500,121 500.5,121 501,121.1 501.5,121.1 502,121.1 502.5,121.2 503,121.2 503.5,121.2 504,121.2 504.5,121.3 505,121.3 505.5,121.3 506,121.4 506.5,121.4 507,121.4 507.5,121.5 508,121.5 508.5,121.5 509,121.5 509.5,121.6 510,121.6 510.5,121.6 511,121.7 511.5,121.7 512,121.7 512.5,121.8 513,121.8 513.5,121.8 514,121.8 514.5,121.9 515,121.9 515.5,121.9 516,122 516.5,122 517,122 517.5,122.1 518,122.1 518.5,122.1 519,122.1 519.5,122.2 520,122.2 520.5,122.2 521,122.3 521.5,122.3 522,122.3 522.5,122.4 523,122.4 523.5,122.4 524,122.4 524.5,122.5 525,122.5 525.5,122.5 526,122.6 526.5,122.6 527,122.6 527.5,122.7 528,122.7 528.5,122.7 529,122.7 529.5,122.8 530,122.8 530.5,122.8 531,122.9 531.5,122.9 532,122.9 532.5,123 533,123 533.5,123 534,123 534.5,123.1 535,123.1 535.5,123.1 536,123.2" stroke="#d030c0" stroke-width="0.7" fill="none" stroke-linejoin="round"/>
<path d="M301.2,112.9a1.8,1.8 0 1,0 3.6,0a1.8,1.8 0 1,0 -3.6,0M302.5,113.2a1.8,1.8 0 1,0 3.6,0a1.8,1.8 0 1,0 -3.6,0M303.8,113.1a1.8,1.8 0 1,0 3.6,0a1.8,1.8 0 1,0 -3.6,0M305.1,112.7a1.8,1.8 0 1,0 3.6,0a1.8,1.8 0 1,0 -3.6,0M306.4,113.7a1.8,1.8 0 1,0 3.6,0a1.8,1.8 0 1,0 -3.6,0M307.7,113.4a1.8,1.8 0 1,0 3.6,0a1.8,1.8 0 1,0 -3.6,0M309,113.2a1.8,1.8 0 1,0 3.6,0a1.8,1.8 0 1,0 -3.6,0M310.3,113a1.8,1.8 0 1,0 3.6,0a1.8,1.8 0 1,0 -3.6,0M311.6,113.1a1.8,1.8 0 1,0 3.6,0a1.8,1.8 0 1,0 -3.6,0M312.9,112.6a1.8,1.8 0 1,0 3.6,0a1.8,1.8 0 1,0 -3.6,0M314.2,112.4a1.8,1.8 0 1,0 3.6,0a1.8,1.8 0 1,0 -3.6,0M315.5,113.3a1.8,1.8 0 1,0 3.6,0a1.8,1.8 0 1,0 -3.6,0M316.8,113a1.8,1.8 0 1,0 3.6,0a1.8,1.8 0 1,0 -3.6,0M318.1,113.3a1.8,1.8 0 1,0 3.6,0a1.8,1.8 0 1,0 -3.6,0M319.4,112.7a1.8,1.8 0 1,0 3.6,0a1.8,1.8 0 1,0 -3.6,0M320.7,113.3a1.8,1.8 0 1,0 3.6,0a1.8,1.8 0 1,0 -3.6,0M322,112.9a1.8,1.8 0 1,0 3.6,0a1.8,1.8 0 1,0 -3.6,0M323.3,113.8a1.8,1.8 0 1,0 3.6,0a1.8,1.8 0 1,0 -3.6,0M324.6,113.9a1.8,1.8 0 1,0 3.6,0a1.8,1.8 0 1,0 -3.6,0M325.9,112.5a1.8,1.8 0 1,0 3.6,0a1.8,1.8 0 1,0 -3.6,0M327.2,113.4a1.8,1.8 0 1,0 3.6,0a1.8,1.8 0 1,0 -3.6,0M328.5,113.6a1.8,1.8 0 1,0 3.6,0a1.8,1.8 0 1,0 -3.6,0M329.8,114a1.8,1.8 0 1,0 3.6,0a1.8,1.8 0 1,0 -3.6,0M331.1,113.1a1.8,1.8 0 1,0 3.6,0a1.8,1.8 0 1,0 -3.6,0M332.4,113a1.8,1.8 0 1,0 3.6,0a1.8,1.8 0 1,0 -3.6,0M333.7,112.2a1.8,1.8 0 1,0 3.6,0a1.8,1.8 0 1,0 -3.6,0M334.9,112.8a1.8,1.8 0 1,0 3.6,0a1.8,1.8 0 1,0 -3.6,0M336.2,112.3a1.8,1.8 0 1,0 3.6,0a1.8,1.8 0 1,0 -3.6,0M337.5,112.1a1.8,1.8 0 1,0 3.6,0a1.8,1.8 0 1,0 -3.6,0M338.7,111.4a1.8,1.8 0 1,0 3.6,0a1.8,1.8 0 1,0 -3.6,0M340,110.6a1.8,1.8 0 1,0 3.6,0a1.8,1.8 0 1,0 -3.6,0M341.2,111.1a1.8,1.8 0 1,0 3.6,0a1.8,1.8 0 1,0 -3.6,0M342.5,110.3a1.8,1.8 0 1,0 3.6,0a1.8,1.8 0 1,0 -3.6,0M343.7,110.2a1.8,1.8 0 1,0 3.6,0a1.8,1.8 0 1,0 -3.6,0M344.9,110a1.8,1.8 0 1,0 3.6,0a1.8,1.8 0 1,0 -3.6,0M346.2,109.7a1.8,1.8 0 1,0 3.6,0a1.8,1.8 0 1,0 -3.6,0M347.5,109a1.8,1.8 0 1,0 3.6,0a1.8,1.8 0 1,0 -3.6,0M348.7,109.2a1.8,1.8 0 1,0 3.6,0a1.8,1.8 0 1,0 -3.6,0M350,108.4a1.8,1.8 0 1,0 3.6,0a1.8,1.8 0 1,0 -3.6,0M351.3,108.3a1.8,1.8 0 1,0 3.6,0a1.8,1.8 0 1,0 -3.6,0M352.6,107.9a1.8,1.8 0 1,0 3.6,0a1.8,1.8 0 1,0 -3.6,0M353.9,108a1.8,1.8 0 1,0 3.6,0a1.8,1.8 0 1,0 -3.6,0M355.2,107.5a1.8,1.8 0 1,0 3.6,0a1.8,1.8 0 1,0 -3.6,0M356.4,107.5a1.8,1.8 0 1,0 3.6,0a1.8,1.8 0 1,0 -3.6,0M357.6,107.1a1.8,1.8 0 1,0 3.6,0a1.8,1.8 0 1,0 -3.6,0M358.8,106.6a1.8,1.8 0 1,0 3.6,0a1.8,1.8 0 1,0 -3.6,0M359.9,105a1.8,1.8 0 1,0 3.6,0a1.8,1.8 0 1,0 -3.6,0M360.9,104.8a1.8,1.8 0 1,0 3.6,0a1.8,1.8 0 1,0 -3.6,0M361.9,104.1a1.8,1.8 0 1,0 3.6,0a1.8,1.8 0 1,0 -3.6,0M362.9,103.8a1.8,1.8 0 1,0 3.6,0a1.8,1.8 0 1,0 -3.6,0M363.9,102.2a1.8,1.8 0 1,0 3.6,0a1.8,1.8 0 1,0 -3.6,0M365,101.9a1.8,1.8 0 1,0 3.6,0a1.8,1.8 0 1,0 -3.6,0M366.2,102a1.8,1.8 0 1,0 3.6,0a1.8,1.8 0 1,0 -3.6,0M367.4,101.5a1.8,1.8 0 1,0 3.6,0a1.8,1.8 0 1,0 -3.6,0M368.5,102.3a1.8,1.8 0 1,0 3.6,0a1.8,1.8 0 1,0 -3.6,0M369.3,103.1a1.8,1.8 0 1,0 3.6,0a1.8,1.8 0 1,0 -3.6,0M370.1,103.8a1.8,1.8 0 1,0 3.6,0a1.8,1.8 0 1,0 -3.6,0M370.8,105.7a1.8,1.8 0 1,0 3.6,0a1.8,1.8 0 1,0 -3.6,0M371.6,106.5a1.8,1.8 0 1,0 3.6,0a1.8,1.8 0 1,0 -3.6,0M372.4,107.5a1.8,1.8 0 1,0 3.6,0a1.8,1.8 0 1,0 -3.6,0M373.2,109.3a1.8,1.8 0 1,0 3.6,0a1.8,1.8 0 1,0 -3.6,0M374,109.1a1.8,1.8 0 1,0 3.6,0a1.8,1.8 0 1,0 -3.6,0M374.9,110.5a1.8,1.8 0 1,0 3.6,0a1.8,1.8 0 1,0 -3.6,0M375.9,111a1.8,1.8 0 1,0 3.6,0a1.8,1.8 0 1,0 -3.6,0M376.9,112.3a1.8,1.8 0 1,0 3.6,0a1.8,1.8 0 1,0 -3.6,0M378,112.8a1.8,1.8 0 1,0 3.6,0a1.8,1.8 0 1,0 -3.6,0M379.3,112.7a1.8,1.8 0 1,0 3.6,0a1.8,1.8 0 1,0 -3.6,0M380.6,113.3a1.8,1.8 0 1,0 3.6,0a1.8,1.8 0 1,0 -3.6,0M381.9,113.6a1.8,1.8 0 1,0 3.6,0a1.8,1.8 0 1,0 -3.6,0M383.2,114.1a1.8,1.8 0 1,0 3.6,0a1.8,1.8 0 1,0 -3.6,0M384.5,113.6a1.8,1.8 0 1,0 3.6,0a1.8,1.8 0 1,0 -3.6,0M385.8,113.7a1.8,1.8 0 1,0 3.6,0a1.8,1.8 0 1,0 -3.6,0M387,113.9a1.8,1.8 0 1,0 3.6,0a1.8,1.8 0 1,0 -3.6,0M388.3,113.8a1.8,1.8 0 1,0 3.6,0a1.8,1.8 0 1,0 -3.6,0M389.6,113.9a1.8,1.8 0 1,0 3.6,0a1.8,1.8 0 1,0 -3.6,0M390.8,114.8a1.8,1.8 0 1,0 3.6,0a1.8,1.8 0 1,0 -3.6,0M392.1,115.1a1.8,1.8 0 1,0 3.6,0a1.8,1.8 0 1,0 -3.6,0M393.4,115a1.8,1.8 0 1,0 3.6,0a1.8,1.8 0 1,0 -3.6,0M394.7,115.3a1.8,1.8 0 1,0 3.6,0a1.8,1.8 0 1,0 -3.6,0M395.9,115.8a1.8,1.8 0 1,0 3.6,0a1.8,1.8 0 1,0 -3.6,0M397.2,116.5a1.8,1.8 0 1,0 3.6,0a1.8,1.8 0 1,0 -3.6,0M398.5,115.9a1.8,1.8 0 1,0 3.6,0a1.8,1.8 0 1,0 -3.6,0M399.8,116.1a1.8,1.8 0 1,0 3.6,0a1.8,1.8 0 1,0 -3.6,0M401.1,115.4a1.8,1.8 0 1,0 3.6,0a1.8,1.8 0 1,0 -3.6,0M402.4,114.7a1.8,1.8 0 1,0 3.6,0a1.8,1.8 0 1,0 -3.6,0M403.7,115.6a1.8,1.8 0 1,0 3.6,0a1.8,1.8 0 1,0 -3.6,0M405,116a1.8,1.8 0 1,0 3.6,0a1.8,1.8 0 1,0 -3.6,0M406.3,115.1a1.8,1.8 0 1,0 3.6,0a1.8,1.8 0 1,0 -3.6,0M407.6,114.7a1.8,1.8 0 1,0 3.6,0a1.8,1.8 0 1,0 -3.6,0M408.9,115.7a1.8,1.8 0 1,0 3.6,0a1.8,1.8 0 1,0 -3.6,0M410.2,115.3a1.8,1.8 0 1,0 3.6,0a1.8,1.8 0 1,0 -3.6,0M411.5,114.7a1.8,1.8 0 1,0 3.6,0a1.8,1.8 0 1,0 -3.6,0M412.8,115.6a1.8,1.8 0 1,0 3.6,0a1.8,1.8 0 1,0 -3.6,0M414.1,115.5a1.8,1.8 0 1,0 3.6,0a1.8,1.8 0 1,0 -3.6,0M415.4,115.2a1.8,1.8 0 1,0 3.6,0a1.8,1.8 0 1,0 -3.6,0M416.7,116.1a1.8,1.8 0 1,0 3.6,0a1.8,1.8 0 1,0 -3.6,0M418,116.4a1.8,1.8 0 1,0 3.6,0a1.8,1.8 0 1,0 -3.6,0M419.3,115.9a1.8,1.8 0 1,0 3.6,0a1.8,1.8 0 1,0 -3.6,0M420.6,115.8a1.8,1.8 0 1,0 3.6,0a1.8,1.8 0 1,0 -3.6,0M421.9,116.2a1.8,1.8 0 1,0 3.6,0a1.8,1.8 0 1,0 -3.6,0M423.2,116.2a1.8,1.8 0 1,0 3.6,0a1.8,1.8 0 1,0 -3.6,0M424.4,116.2a1.8,1.8 0 1,0 3.6,0a1.8,1.8 0 1,0 -3.6,0M425.7,117.2a1.8,1.8 0 1,0 3.6,0a1.8,1.8 0 1,0 -3.6,0M427,116.9a1.8,1.8 0 1,0 3.6,0a1.8,1.8 0 1,0 -3.6,0M428.3,116.8a1.8,1.8 0 1,0 3.6,0a1.8,1.8 0 1,0 -3.6,0M429.6,117a1.8,1.8 0 1,0 3.6,0a1.8,1.8 0 1,0 -3.6,0M430.9,117.3a1.8,1.8 0 1,0 3.6,0a1.8,1.8 0 1,0 -3.6,0M432.2,117.4a1.8,1.8 0 1,0 3.6,0a1.8,1.8 0 1,0 -3.6,0M433.5,116.4a1.8,1.8 0 1,0 3.6,0a1.8,1.8 0 1,0 -3.6,0M434.8,117.4a1.8,1.8 0 1,0 3.6,0a1.8,1.8 0 1,0 -3.6,0M436.1,117.2a1.8,1.8 0 1,0 3.6,0a1.8,1.8 0 1,0 -3.6,0M437.4,117.3a1.8,1.8 0 1,0 3.6,0a1.8,1.8 0 1,0 -3.6,0M438.7,117.9a1.8,1.8 0 1,0 3.6,0a1.8,1.8 0 1,0 -3.6,0M440,117.8a1.8,1.8 0 1,0 3.6,0a1.8,1.8 0 1,0 -3.6,0M441.3,117.8a1.8,1.8 0 1,0 3.6,0a1.8,1.8 0 1,0 -3.6,0M442.6,118a1.8,1.8 0 1,0 3.6,0a1.8,1.8 0 1,0 -3.6,0M443.9,118.8a1.8,1.8 0 1,0 3.6,0a1.8,1.8 0 1,0 -3.6,0M445.2,118.3a1.8,1.8 0 1,0 3.6,0a1.8,1.8 0 1,0 -3.6,0M446.5,117.7a1.8,1.8 0 1,0 3.6,0a1.8,1.8 0 1,0 -3.6,0M447.8,117.7a1.8,1.8 0 1,0 3.6,0a1.8,1.8 0 1,0 -3.6,0M449.1,117.6a1.8,1.8 0 1,0 3.6,0a1.8,1.8 0 1,0 -3.6,0M450.4,117.6a1.8,1.8 0 1,0 3.6,0a1.8,1.8 0 1,0 -3.6,0M451.7,117.9a1.8,1.8 0 1,0 3.6,0a1.8,1.8 0 1,0 -3.6,0M453,117.6a1.8,1.8 0 1,0 3.6,0a1.8,1.8 0 1,0 -3.6,0M454.3,117.5a1.8,1.8 0 1,0 3.6,0a1.8,1.8 0 1,0 -3.6,0M455.6,117a1.8,1.8 0 1,0 3.6,0a1.8,1.8 0 1,0 -3.6,0M456.9,118.3a1.8,1.8 0 1,0 3.6,0a1.8,1.8 0 1,0 -3.6,0M458.2,117.5a1.8,1.8 0 1,0 3.6,0a1.8,1.8 0 1,0 -3.6,0M459.5,117.4a1.8,1.8 0 1,0 3.6,0a1.8,1.8 0 1,0 -3.6,0M460.8,116.8a1.8,1.8 0 1,0 3.6,0a1.8,1.8 0 1,0 -3.6,0M462.1,116.9a1.8,1.8 0 1,0 3.6,0a1.8,1.8 0 1,0 -3.6,0M463.4,117.3a1.8,1.8 0 1,0 3.6,0a1.8,1.8 0 1,0 -3.6,0M464.6,115.8a1.8,1.8 0 1,0 3.6,0a1.8,1.8 0 1,0 -3.6,0M465.9,116.8a1.8,1.8 0 1,0 3.6,0a1.8,1.8 0 1,0 -3.6,0M467.2,116.7a1.8,1.8 0 1,0 3.6,0a1.8,1.8 0 1,0 -3.6,0M468.5,116.4a1.8,1.8 0 1,0 3.6,0a1.8,1.8 0 1,0 -3.6,0M469.7,116.1a1.8,1.8 0 1,0 3.6,0a1.8,1.8 0 1,0 -3.6,0M470.9,115.4a1.8,1.8 0 1,0 3.6,0a1.8,1.8 0 1,0 -3.6,0M472.1,114.4a1.8,1.8 0 1,0 3.6,0a1.8,1.8 0 1,0 -3.6,0M473.1,113.5a1.8,1.8 0 1,0 3.6,0a1.8,1.8 0 1,0 -3.6,0M474.1,112.4a1.8,1.8 0 1,0 3.6,0a1.8,1.8 0 1,0 -3.6,0M475,112.3a1.8,1.8 0 1,0 3.6,0a1.8,1.8 0 1,0 -3.6,0M475.8,111.6a1.8,1.8 0 1,0 3.6,0a1.8,1.8 0 1,0 -3.6,0M476.6,109.8a1.8,1.8 0 1,0 3.6,0a1.8,1.8 0 1,0 -3.6,0M477.4,109.4a1.8,1.8 0 1,0 3.6,0a1.8,1.8 0 1,0 -3.6,0M478.2,107.5a1.8,1.8 0 1,0 3.6,0a1.8,1.8 0 1,0 -3.6,0M478.9,106.8a1.8,1.8 0 1,0 3.6,0a1.8,1.8 0 1,0 -3.6,0M479.7,106.3a1.8,1.8 0 1,0 3.6,0a1.8,1.8 0 1,0 -3.6,0M480.4,104.3a1.8,1.8 0 1,0 3.6,0a1.8,1.8 0 1,0 -3.6,0M481.3,103.3a1.8,1.8 0 1,0 3.6,0a1.8,1.8 0 1,0 -3.6,0M482.2,103.6a1.8,1.8 0 1,0 3.6,0a1.8,1.8 0 1,0 -3.6,0M483.3,102.1a1.8,1.8 0 1,0 3.6,0a1.8,1.8 0 1,0 -3.6,0M484.5,102a1.8,1.8 0 1,0 3.6,0a1.8,1.8 0 1,0 -3.6,0M485.8,101.4a1.8,1.8 0 1,0 3.6,0a1.8,1.8 0 1,0 -3.6,0M486.8,100.8a1.8,1.8 0 1,0 3.6,0a1.8,1.8 0 1,0 -3.6,0M487.6,99.7a1.8,1.8 0 1,0 3.6,0a1.8,1.8 0 1,0 -3.6,0M488.1,98.1a1.8,1.8 0 1,0 3.6,0a1.8,1.8 0 1,0 -3.6,0M488.6,96.7a1.8,1.8 0 1,0 3.6,0a1.8,1.8 0 1,0 -3.6,0M489,95.6a1.8,1.8 0 1,0 3.6,0a1.8,1.8 0 1,0 -3.6,0M489.4,94.6a1.8,1.8 0 1,0 3.6,0a1.8,1.8 0 1,0 -3.6,0M489.7,93.4a1.8,1.8 0 1,0 3.6,0a1.8,1.8 0 1,0 -3.6,0M490,91.9a1.8,1.8 0 1,0 3.6,0a1.8,1.8 0 1,0 -3.6,0M490.3,90.4a1.8,1.8 0 1,0 3.6,0a1.8,1.8 0 1,0 -3.6,0M490.6,89.1a1.8,1.8 0 1,0 3.6,0a1.8,1.8 0 1,0 -3.6,0M490.8,88.2a1.8,1.8 0 1,0 3.6,0a1.8,1.8 0 1,0 -3.6,0M491.1,87.6a1.8,1.8 0 1,0 3.6,0a1.8,1.8 0 1,0 -3.6,0M491.4,86a1.8,1.8 0 1,0 3.6,0a1.8,1.8 0 1,0 -3.6,0M491.7,84.4a1.8,1.8 0 1,0 3.6,0a1.8,1.8 0 1,0 -3.6,0M492,83.5a1.8,1.8 0 1,0 3.6,0a1.8,1.8 0 1,0 -3.6,0M492.4,81.8a1.8,1.8 0 1,0 3.6,0a1.8,1.8 0 1,0 -3.6,0M492.9,80.9a1.8,1.8 0 1,0 3.6,0a1.8,1.8 0 1,0 -3.6,0M493.7,79.7a1.8,1.8 0 1,0 3.6,0a1.8,1.8 0 1,0 -3.6,0M494.8,80a1.8,1.8 0 1,0 3.6,0a1.8,1.8 0 1,0 -3.6,0M495.5,81.7a1.8,1.8 0 1,0 3.6,0a1.8,1.8 0 1,0 -3.6,0M496,83a1.8,1.8 0 1,0 3.6,0a1.8,1.8 0 1,0 -3.6,0M496.4,84.2a1.8,1.8 0 1,0 3.6,0a1.8,1.8 0 1,0 -3.6,0M496.7,85.1a1.8,1.8 0 1,0 3.6,0a1.8,1.8 0 1,0 -3.6,0M496.9,87.1a1.8,1.8 0 1,0 3.6,0a1.8,1.8 0 1,0 -3.6,0M497.2,88.1a1.8,1.8 0 1,0 3.6,0a1.8,1.8 0 1,0 -3.6,0M497.3,89.4a1.8,1.8 0 1,0 3.6,0a1.8,1.8 0 1,0 -3.6,0M497.5,90.9a1.8,1.8 0 1,0 3.6,0a1.8,1.8 0 1,0 -3.6,0M497.6,92.1a1.8,1.8 0 1,0 3.6,0a1.8,1.8 0 1,0 -3.6,0M497.8,93.8a1.8,1.8 0 1,0 3.6,0a1.8,1.8 0 1,0 -3.6,0M497.9,94.1a1.8,1.8 0 1,0 3.6,0a1.8,1.8 0 1,0 -3.6,0M498,95.5a1.8,1.8 0 1,0 3.6,0a1.8,1.8 0 1,0 -3.6,0M498.1,97.2a1.8,1.8 0 1,0 3.6,0a1.8,1.8 0 1,0 -3.6,0M498.3,98.4a1.8,1.8 0 1,0 3.6,0a1.8,1.8 0 1,0 -3.6,0M498.4,99.4a1.8,1.8 0 1,0 3.6,0a1.8,1.8 0 1,0 -3.6,0M498.5,100.6a1.8,1.8 0 1,0 3.6,0a1.8,1.8 0 1,0 -3.6,0M498.6,102.4a1.8,1.8 0 1,0 3.6,0a1.8,1.8 0 1,0 -3.6,0M498.8,102.8a1.8,1.8 0 1,0 3.6,0a1.8,1.8 0 1,0 -3.6,0M499,104.4a1.8,1.8 0 1,0 3.6,0a1.8,1.8 0 1,0 -3.6,0M499.1,105.8a1.8,1.8 0 1,0 3.6,0a1.8,1.8 0 1,0 -3.6,0M499.4,107.2a1.8,1.8 0 1,0 3.6,0a1.8,1.8 0 1,0 -3.6,0M499.7,108.5a1.8,1.8 0 1,0 3.6,0a1.8,1.8 0 1,0 -3.6,0M500,109.8a1.8,1.8 0 1,0 3.6,0a1.8,1.8 0 1,0 -3.6,0M500.3,110.2a1.8,1.8 0 1,0 3.6,0a1.8,1.8 0 1,0 -3.6,0M500.7,111.9a1.8,1.8 0 1,0 3.6,0a1.8,1.8 0 1,0 -3.6,0M501.2,113.9a1.8,1.8 0 1,0 3.6,0a1.8,1.8 0 1,0 -3.6,0M501.7,114.9a1.8,1.8 0 1,0 3.6,0a1.8,1.8 0 1,0 -3.6,0M502.3,116.3a1.8,1.8 0 1,0 3.6,0a1.8,1.8 0 1,0 -3.6,0M503.1,117.2a1.8,1.8 0 1,0 3.6,0a1.8,1.8 0 1,0 -3.6,0M504,117.6a1.8,1.8 0 1,0 3.6,0a1.8,1.8 0 1,0 -3.6,0M505.2,118.2a1.8,1.8 0 1,0 3.6,0a1.8,1.8 0 1,0 -3.6,0M506.4,118.8a1.8,1.8 0 1,0 3.6,0a1.8,1.8 0 1,0 -3.6,0M507.7,119.4a1.8,1.8 0 1,0 3.6,0a1.8,1.8 0 1,0 -3.6,0M508.9,119.5a1.8,1.8 0 1,0 3.6,0a1.8,1.8 0 1,0 -3.6,0M510.2,119.4a1.8,1.8 0 1,0 3.6,0a1.8,1.8 0 1,0 -3.6,0M511.5,119.8a1.8,1.8 0 1,0 3.6,0a1.8,1.8 0 1,0 -3.6,0M512.7,119.8a1.8,1.8 0 1,0 3.6,0a1.8,1.8 0 1,0 -3.6,0M514,120.1a1.8,1.8 0 1,0 3.6,0a1.8,1.8 0 1,0 -3.6,0M515.3,119.7a1.8,1.8 0 1,0 3.6,0a1.8,1.8 0 1,0 -3.6,0M516.6,120.2a1.8,1.8 0 1,0 3.6,0a1.8,1.8 0 1,0 -3.6,0M517.9,120.1a1.8,1.8 0 1,0 3.6,0a1.8,1.8 0 1,0 -3.6,0M519.2,121.5a1.8,1.8 0 1,0 3.6,0a1.8,1.8 0 1,0 -3.6,0M520.5,120.3a1.8,1.8 0 1,0 3.6,0a1.8,1.8 0 1,0 -3.6,0M521.8,120.8a1.8,1.8 0 1,0 3.6,0a1.8,1.8 0 1,0 -3.6,0M523.1,120.5a1.8,1.8 0 1,0 3.6,0a1.8,1.8 0 1,0 -3.6,0M524.4,121.5a1.8,1.8 0 1,0 3.6,0a1.8,1.8 0 1,0 -3.6,0M525.7,121.7a1.8,1.8 0 1,0 3.6,0a1.8,1.8 0 1,0 -3.6,0M527,121.5a1.8,1.8 0 1,0 3.6,0a1.8,1.8 0 1,0 -3.6,0M528.3,121.6a1.8,1.8 0 1,0 3.6,0a1.8,1.8 0 1,0 -3.6,0M529.6,121.6a1.8,1.8 0 1,0 3.6,0a1.8,1.8 0 1,0 -3.6,0M530.9,121.6a1.8,1.8 0 1,0 3.6,0a1.8,1.8 0 1,0 -3.6,0M532.2,121.4a1.8,1.8 0 1,0 3.6,0a1.8,1.8 0 1,0 -3.6,0M533.5,121.3a1.8,1.8 0 1,0 3.6,0a1.8,1.8 0 1,0 -3.6,0" stroke="#2424ee" stroke-width="1.0" fill="none"/>
<path d="M470,118.2 470.5,118.2 471,118.2 471.5,118.3 472,118.3 472.5,118.3 473,118.3 473.5,118.3 474,118.3 474.5,118.4 475,118.4 475.5,118.4 476,118.4 476.5,118.4 477,118.4 477.5,118.4 478,118.4 478.5,118.4 479,118.4 479.5,118.4 480,118.4 480.5,118.4 481,118.3 481.5,118.3 482,118.3 482.5,118.3 483,118.2 483.5,118.2 484,118.1 484.5,118 485,118 485.5,117.9 486,117.7 486.5,117.6 487,117.4 487.5,117.2 488,116.9 488.5,116.5 489,116.1 489.5,115.4 490,114.6 490.5,113.6 491,112.3 491.5,110.6 492,108.6 492.5,106.2 493,103.5 493.5,100.4 494,97.1 494.5,93.8 495,90.6 495.5,88.1 496,86.5 496.5,86.1 497,87.1 497.5,89.2 498,92 498.5,95.3 499,98.8 499.5,102 500,105.1 500.5,107.7 501,110 501.5,111.9 502,113.5 502.5,114.8 503,115.8 503.5,116.6 504,117.2 504.5,117.7 505,118.1 505.5,118.4 506,118.6 506.5,118.9 507,119.1 507.5,119.2 508,119.4 508.5,119.5 509,119.6 509.5,119.8 510,119.9 510.5,120 511,120.1 511.5,120.1 512,120.2 512.5,120.3 513,120.4 513.5,120.4 514,120.5 514.5,120.6 515,120.6 515.5,120.7 516,120.7 516.5,120.8 517,120.9 517.5,120.9 518,121 518.5,121 519,121 519.5,121.1 520,121.1 520.5,121.2 521,121.2 521.5,121.3 522,121.3 522.5,121.4 523,121.4 523.5,121.4 524,121.5 524.5,121.5 525,121.6 525.5,121.6 526,121.6 526.5,121.7 527,121.7 527.5,121.7 528,121.8 528.5,121.8 529,121.9 529.5,121.9 530,121.9" stroke="#ee22e0" stroke-width="1.5" fill="none" stroke-linejoin="round"/>
<path d="M303,113 303.5,113 304,113 304.5,113 305,113.1 305.5,113.1 306,113.1 306.5,113.1 307,113.1 307.5,113.1 308,113.1 308.5,113.1 309,113.1 309.5,113.1 310,113.1 310.5,113.2 311,113.2 311.5,113.2 312,113.2 312.5,113.2 313,113.2 313.5,113.2 314,113.2 314.5,113.2 315,113.2 315.5,113.3 316,113.3 316.5,113.3 317,113.3 317.5,113.3 318,113.3 318.5,113.3 319,113.3 319.5,113.3 320,113.3 320.5,113.3 321,113.3 321.5,113.3 322,113.4 322.5,113.4 323,113.4 323.5,113.4 324,113.4 324.5,113.4 325,113.3 325.5,113.3 326,113.3 326.5,113.3 327,113.3 327.5,113.3 328,113.3 328.5,113.3 329,113.2 329.5,113.2 330,113.2 330.5,113.2 331,113.1 331.5,113.1 332,113 332.5,113 333,112.9 333.5,112.9 334,112.8 334.5,112.8 335,112.7 335.5,112.6 336,112.5 336.5,112.5 337,112.4 337.5,112.3 338,112.2 338.5,112.1 339,111.9 339.5,111.8 340,111.7 340.5,111.6 341,111.4 341.5,111.3 342,111.1 342.5,111 343,110.8 343.5,110.7 344,110.5 344.5,110.3 345,110.2 345.5,110 346,109.8 346.5,109.7 347,109.5 347.5,109.4 348,109.3 348.5,109.1 349,109 349.5,108.9 350,108.8 350.5,108.7 351,108.6 351.5,108.6 352,108.5 352.5,108.4 353,108.4 353.5,108.3 354,108.3 354.5,108.2 355,108.1 355.5,108.1 356,108 356.5,107.9 357,107.8 357.5,107.6 358,107.5 358.5,107.3 359,107.1 359.5,106.9 360,106.7 360.5,106.4 361,106.2 361.5,105.8 362,105.5 362.5,105.1 363,104.7 363.5,104.3 364,103.8 364.5,103.4 365,103 365.5,102.5 366,102.1 366.5,101.8 367,101.5 367.5,101.3 368,101.2 368.5,101.3 369,101.4 369.5,101.7 370,102.1 370.5,102.6 371,103.2 371.5,103.8 372,104.5 372.5,105.2 373,105.9 373.5,106.6 374,107.3 374.5,107.9 375,108.6 375.5,109.2 376,109.7 376.5,110.3 377,110.8 377.5,111.2 378,111.6 378.5,112 379,112.3 379.5,112.6 380,112.8 380.5,113 381,113.2 381.5,113.3 382,113.3 382.5,113.4 383,113.4 383.5,113.4 384,113.5 384.5,113.5 385,113.5 385.5,113.5 386,113.5 386.5,113.5 387,113.6 387.5,113.6 388,113.7 388.5,113.8 389,113.9 389.5,114 390,114.1 390.5,114.2 391,114.3 391.5,114.4 392,114.5 392.5,114.6 393,114.7 393.5,114.8 394,115 394.5,115.1 395,115.2 395.5,115.3 396,115.4 396.5,115.5 397,115.5 397.5,115.6 398,115.7 398.5,115.7 399,115.8 399.5,115.8 400,115.8 400.5,115.8 401,115.8 401.5,115.8 402,115.8 402.5,115.8 403,115.8 403.5,115.7 404,115.7 404.5,115.7 405,115.7 405.5,115.6 406,115.6 406.5,115.5 407,115.5 407.5,115.5 408,115.4 408.5,115.4 409,115.4 409.5,115.3 410,115.3 410.5,115.3 411,115.3 411.5,115.2 412,115.2 412.5,115.2 413,115.2 413.5,115.3 414,115.3 414.5,115.3 415,115.3 415.5,115.4 416,115.4 416.5,115.5 417,115.5 417.5,115.6 418,115.6 418.5,115.7 419,115.8 419.5,115.8 420,115.9 420.5,116 421,116 421.5,116.1 422,116.2 422.5,116.2 423,116.3 423.5,116.4 424,116.4 424.5,116.5 425,116.5 425.5,116.6 426,116.6 426.5,116.6 427,116.7 427.5,116.7 428,116.7 428.5,116.8 429,116.8 429.5,116.8 430,116.9 430.5,116.9 431,116.9 431.5,117 432,117 432.5,117.1 433,117.1 433.5,117.2 434,117.2 434.5,117.3 435,117.3 435.5,117.4 436,117.4 436.5,117.5 437,117.5 437.5,117.6 438,117.6 438.5,117.7 439,117.7 439.5,117.8 440,117.8 440.5,117.9 441,117.9 441.5,117.9 442,117.9 442.5,118 443,118 443.5,118 444,118 444.5,118 445,118 445.5,118 446,118 446.5,118 447,118 447.5,118 448,117.9 448.5,117.9 449,117.9 449.5,117.9 450,117.9 450.5,117.8 451,117.8 451.5,117.8 452,117.8 452.5,117.7 453,117.7 453.5,117.7 454,117.6 454.5,117.6 455,117.6 455.5,117.5 456,117.5 456.5,117.5 457,117.4 457.5,117.4 458,117.3 458.5,117.3 459,117.3 459.5,117.2 460,117.2 460.5,117.2 461,117.1 461.5,117.1 462,117.1 462.5,117 463,117 463.5,117 464,116.9 464.5,116.9 465,116.8 465.5,116.8 466,116.8 466.5,116.7 467,116.7 467.5,116.6 468,116.5 468.5,116.5 469,116.4 469.5,116.3 470,116.2 470.5,116 471,115.9 471.5,115.8 472,115.6 472.5,115.3 473,115.1 473.5,114.8 474,114.5 474.5,114.1 475,113.7 475.5,113.3 476,112.8 476.5,112.3 477,111.7 477.5,111.2 478,110.5 478.5,109.9 479,109.2 479.5,108.5 480,107.8 480.5,107.1 481,106.4 481.5,105.7 482,105 482.5,104.4 483,103.8 483.5,103.3 484,102.9 484.5,102.5 485,102.2 485.5,102 486,101.8 486.5,101.7 487,101.5 487.5,101.3 488,101 488.5,100.6 489,100 489.5,99.2 490,98.2 490.5,96.9 491,95.3 491.5,93.4 492,91.3 492.5,89 493,86.6 493.5,84.4 494,82.6 494.5,81.2 495,80.2 495.5,79.8 496,80 496.5,80.4 497,81 497.5,81.9 498,83.3 498.5,85.3 499,88 499.5,92.2 500,97.6 500.5,102.8 501,106.4 501.5,108.6 502,110.5 502.5,112.2 503,113.6 503.5,114.8 504,115.7 504.5,116.5 505,117 505.5,117.5 506,117.8 506.5,118.1 507,118.3 507.5,118.5 508,118.7 508.5,118.8 509,119 509.5,119.2 510,119.3 510.5,119.4 511,119.5 511.5,119.7 512,119.8 512.5,119.8 513,119.9 513.5,120 514,120.1 514.5,120.1 515,120.2 515.5,120.3 516,120.3 516.5,120.4 517,120.4 517.5,120.5 518,120.5 518.5,120.6 519,120.6 519.5,120.7 520,120.7 520.5,120.8 521,120.8 521.5,120.8 522,120.9 522.5,120.9 523,120.9 523.5,121 524,121 524.5,121 525,121.1 525.5,121.1 526,121.2 526.5,121.2 527,121.2 527.5,121.3 528,121.3 528.5,121.3 529,121.4 529.5,121.4 530,121.4 530.5,121.5 531,121.5 531.5,121.5 532,121.6 532.5,121.6 533,121.6 533.5,121.7 534,121.7 534.5,121.8 535,121.8 535.5,121.8 536,121.9" stroke="#e03070" stroke-width="0.8" fill="none" stroke-linejoin="round"/>
<path d="M476,180.1 476.5,180.1 477,180.1 477.5,180.1 478,180.1 478.5,180.1 479,180.1 479.5,180 480,180 480.5,179.9 481,179.8 481.5,179.6 482,179.4 482.5,179.2 483,179 483.5,178.7 484,178.3 484.5,177.9 485,177.5 485.5,177.1 486,176.6 486.5,176.1 487,175.5 487.5,175 488,174.4 488.5,173.9 489,173.4 489.5,172.9 490,172.5 490.5,172.2 491,171.9 491.5,171.7 492,171.7 492.5,171.7 493,171.8 493.5,172.3 494,172.9 494.5,173.6 495,174.5 495.5,175.4 496,176.3 496.5,177.2 497,178 497.5,178.8 498,179.4 498.5,180 499,180.4 499.5,180.8 500,181 500.5,181.2 501,181.4 501.5,181.5 502,181.6 502.5,181.7 503,181.7 503.5,181.8 504,181.8 504.5,181.9 505,181.9 505.5,181.9 506,182 506,182 476,180.2 Z" stroke="#178a80" stroke-width="0.6" fill="#249a8c" stroke-linejoin="round"/>
<path d="M355,176.8 355.5,176.8 356,176.7 356.5,176.7 357,176.7 357.5,176.7 358,176.6 358.5,176.6 359,176.6 359.5,176.5 360,176.5 360.5,176.4 361,176.3 361.5,176.3 362,176.2 362.5,176.1 363,176 363.5,175.8 364,175.7 364.5,175.6 365,175.4 365.5,175.3 366,175.1 366.5,174.9 367,174.7 367.5,174.5 368,174.3 368.5,174.1 369,173.9 369.5,173.7 370,173.4 370.5,173.2 371,173 371.5,172.8 372,172.6 372.5,172.5 373,172.3 373.5,172.2 374,172.1 374.5,172 375,172 375.5,172 376,172.1 376.5,172.1 377,172.2 377.5,172.4 378,172.5 378.5,172.7 379,172.9 379.5,173.1 380,173.4 380.5,173.6 381,173.8 381.5,174.1 382,174.3 382.5,174.6 383,174.8 383.5,175 384,175.2 384.5,175.4 385,175.6 385.5,175.8 386,176 386.5,176.1 387,176.3 387.5,176.4 388,176.6 388.5,176.7 389,176.8 389.5,176.9 390,177 390.5,177.1 391,177.1 391.5,177.2 392,177.3 392.5,177.3 393,177.4 393.5,177.4 394,177.5 394.5,177.5 395,177.5 395.5,177.6 396,177.6 396,177.9 355,177.1 Z" stroke="#707070" stroke-width="0.6" fill="#b0b0b0" stroke-linejoin="round"/>
<path d="M352,176.7 352.5,176.7 353,176.6 353.5,176.6 354,176.6 354.5,176.6 355,176.6 355.5,176.5 356,176.5 356.5,176.5 357,176.4 357.5,176.4 358,176.3 358.5,176.2 359,176.2 359.5,176.1 360,176 360.5,175.9 361,175.8 361.5,175.7 362,175.6 362.5,175.4 363,175.3 363.5,175.1 364,175 364.5,174.8 365,174.6 365.5,174.4 366,174.2 366.5,174 367,173.8 367.5,173.5 368,173.3 368.5,173.1 369,172.9 369.5,172.6 370,172.4 370.5,172.2 371,172 371.5,171.8 372,171.6 372.5,171.4 373,171.3 373.5,171.2 374,171.1 374.5,171 375,171 375.5,171 376,171.1 376.5,171.1 377,171.2 377.5,171.4 378,171.5 378.5,171.7 379,171.9 379.5,172.1 380,172.3 380.5,172.6 381,172.8 381.5,173.1 382,173.3 382.5,173.6 383,173.8 383.5,174.1 384,174.3 384.5,174.5 385,174.8 385.5,175 386,175.2 386.5,175.4 387,175.6 387.5,175.7 388,175.9 388.5,176.1 389,176.2 389.5,176.4 390,176.5 390.5,176.6 391,176.7 391.5,176.8 392,176.9 392.5,177 393,177.1 393.5,177.1 394,177.2 394.5,177.3 395,177.3 395.5,177.4 396,177.4 396.5,177.4 397,177.5 397.5,177.5 398,177.6 398.5,177.6 399,177.6 399.5,177.6 400,177.7" stroke="#20a040" stroke-width="0.7" fill="none" stroke-linejoin="round"/>
<path d="M330,177 330.5,177 331,177 331.5,177 332,177 332.5,177.1 333,177.1 333.5,177.1 334,177.1 334.5,177.1 335,177.1 335.5,177.1 336,177.1 336.5,177.1 337,177.1 337.5,177.2 338,177.2 338.5,177.2 339,177.2 339.5,177.2 340,177.2 340.5,177.2 341,177.2 341.5,177.2 342,177.2 342.5,177.2 343,177.3 343.5,177.3 344,177.3 344.5,177.3 345,177.3 345.5,177.3 346,177.3 346.5,177.3 347,177.3 347.5,177.3 348,177.4 348.5,177.4 349,177.4 349.5,177.4 350,177.4 350.5,177.4 351,177.4 351.5,177.4 352,177.4 352.5,177.5 353,177.5 353.5,177.5 354,177.5 354.5,177.5 355,177.5 355.5,177.5 356,177.5 356.5,177.5 357,177.5 357.5,177.6 358,177.6 358.5,177.6 359,177.6 359.5,177.6 360,177.6 360.5,177.6 361,177.6 361.5,177.6 362,177.6 362.5,177.7 363,177.7 363.5,177.7 364,177.7 364.5,177.7 365,177.7 365.5,177.7 366,177.7 366.5,177.7 367,177.7 367.5,177.8 368,177.8 368.5,177.8 369,177.8 369.5,177.8 370,177.8 370.5,177.8 371,177.8 371.5,177.8 372,177.8 372.5,177.8 373,177.9 373.5,177.9 374,177.9 374.5,177.9 375,177.9 375.5,177.9 376,177.9 376.5,177.9 377,177.9 377.5,178 378,178 378.5,178 379,178 379.5,178 380,178 380.5,178 381,178 381.5,178 382,178 382.5,178.1 383,178.1 383.5,178.1 384,178.1 384.5,178.1 385,178.1 385.5,178.1 386,178.1 386.5,178.1 387,178.1 387.5,178.2 388,178.2 388.5,178.2 389,178.2 389.5,178.2 390,178.2 390.5,178.2 391,178.2 391.5,178.2 392,178.2 392.5,178.2 393,178.3 393.5,178.3 394,178.3 394.5,178.3 395,178.3 395.5,178.3 396,178.3 396.5,178.3 397,178.3 397.5,178.3 398,178.4 398.5,178.4 399,178.4 399.5,178.4 400,178.4 400.5,178.4 401,178.4 401.5,178.4 402,178.4 402.5,178.5 403,178.5 403.5,178.5 404,178.5 404.5,178.5 405,178.5 405.5,178.5 406,178.5 406.5,178.5 407,178.5 407.5,178.6 408,178.6 408.5,178.6 409,178.6 409.5,178.6 410,178.6 410.5,178.6 411,178.6 411.5,178.6 412,178.6 412.5,178.7 413,178.7 413.5,178.7 414,178.7 414.5,178.7 415,178.7 415.5,178.7 416,178.7 416.5,178.7 417,178.7 417.5,178.8 418,178.8 418.5,178.8 419,178.8 419.5,178.8 420,178.8 420.5,178.8 421,178.8 421.5,178.8 422,178.9 422.5,178.9 423,178.9 423.5,178.9 424,178.9 424.5,178.9 425,178.9 425.5,179 426,179 426.5,179 427,179 427.5,179 428,179 428.5,179 429,179.1 429.5,179.1 430,179.1 430.5,179.1 431,179.1 431.5,179.1 432,179.1 432.5,179.2 433,179.2 433.5,179.2 434,179.2 434.5,179.2 435,179.2 435.5,179.2 436,179.2 436.5,179.3 437,179.3 437.5,179.3 438,179.3 438.5,179.3 439,179.3 439.5,179.3 440,179.4 440.5,179.4 441,179.4 441.5,179.4 442,179.4 442.5,179.4 443,179.4 443.5,179.5 444,179.5 444.5,179.5 445,179.5 445.5,179.5 446,179.5 446.5,179.5 447,179.6 447.5,179.6 448,179.6 448.5,179.6 449,179.6 449.5,179.6 450,179.6 450.5,179.7 451,179.7 451.5,179.7 452,179.7 452.5,179.7 453,179.7 453.5,179.7 454,179.8 454.5,179.8 455,179.8 455.5,179.8 456,179.8 456.5,179.8 457,179.8 457.5,179.9 458,179.9 458.5,179.9 459,179.9 459.5,179.9 460,179.9 460.5,179.9 461,179.9 461.5,180 462,180 462.5,180 463,180 463.5,180 464,180 464.5,180 465,180.1 465.5,180.1 466,180.1 466.5,180.1 467,180.1 467.5,180.1 468,180.1 468.5,180.2 469,180.2 469.5,180.2 470,180.2 470.5,180.2 471,180.3 471.5,180.3 472,180.3 472.5,180.4 473,180.4 473.5,180.4 474,180.4 474.5,180.5 475,180.5 475.5,180.5 476,180.6 476.5,180.6 477,180.6 477.5,180.7 478,180.7 478.5,180.7 479,180.7 479.5,180.8 480,180.8 480.5,180.8 481,180.9 481.5,180.9 482,180.9 482.5,181 483,181 483.5,181 484,181 484.5,181.1 485,181.1 485.5,181.1 486,181.2 486.5,181.2 487,181.2 487.5,181.3 488,181.3 488.5,181.3 489,181.3 489.5,181.4 490,181.4 490.5,181.4 491,181.5 491.5,181.5 492,181.5 492.5,181.6 493,181.6 493.5,181.6 494,181.6 494.5,181.7 495,181.7 495.5,181.7 496,181.8 496.5,181.8 497,181.8 497.5,181.9 498,181.9 498.5,181.9 499,181.9 499.5,182 500,182 500.5,182 501,182.1 501.5,182.1 502,182.1 502.5,182.2 503,182.2 503.5,182.2 504,182.2 504.5,182.3 505,182.3 505.5,182.3 506,182.4 506.5,182.4 507,182.4 507.5,182.5 508,182.5 508.5,182.5 509,182.5 509.5,182.6 510,182.6 510.5,182.6 511,182.7 511.5,182.7 512,182.7 512.5,182.8 513,182.8 513.5,182.8 514,182.8 514.5,182.9 515,182.9 515.5,182.9 516,183 516.5,183 517,183 517.5,183.1 518,183.1 518.5,183.1 519,183.1 519.5,183.2 520,183.2 520.5,183.2 521,183.3 521.5,183.3 522,183.3 522.5,183.3 523,183.4 523.5,183.4 524,183.4 524.5,183.5 525,183.5 525.5,183.5 526,183.6 526.5,183.6 527,183.6 527.5,183.7 528,183.7 528.5,183.7 529,183.7 529.5,183.8 530,183.8 530.5,183.8 531,183.9 531.5,183.9 532,183.9 532.5,184 533,184 533.5,184 534,184 534.5,184.1 535,184.1 535.5,184.1 536,184.2" stroke="#3232c8" stroke-width="1.1" fill="none" stroke-linejoin="round"/>
<path d="M380,178.8 380.5,178.8 381,178.8 381.5,178.8 382,178.8 382.5,178.8 383,178.9 383.5,178.9 384,178.9 384.5,178.9 385,178.9 385.5,178.9 386,178.9 386.5,178.9 387,178.9 387.5,178.9 388,179 388.5,179 389,179 389.5,179 390,179 390.5,179 391,179 391.5,179 392,179 392.5,179 393,179.1 393.5,179.1 394,179.1 394.5,179.1 395,179.1 395.5,179.1 396,179.1 396.5,179.1 397,179.1 397.5,179.1 398,179.2 398.5,179.2 399,179.2 399.5,179.2 400,179.2 400.5,179.2 401,179.2 401.5,179.2 402,179.2 402.5,179.2 403,179.3 403.5,179.3 404,179.3 404.5,179.3 405,179.3 405.5,179.3 406,179.3 406.5,179.3 407,179.3 407.5,179.3 408,179.4 408.5,179.4 409,179.4 409.5,179.4 410,179.4 410.5,179.4 411,179.4 411.5,179.4 412,179.4 412.5,179.4 413,179.5 413.5,179.5 414,179.5 414.5,179.5 415,179.5 415.5,179.5 416,179.5 416.5,179.5 417,179.5 417.5,179.5 418,179.6 418.5,179.6 419,179.6 419.5,179.6 420,179.6 420.5,179.6 421,179.6 421.5,179.6 422,179.7 422.5,179.7 423,179.7 423.5,179.7 424,179.7 424.5,179.7 425,179.7 425.5,179.8 426,179.8 426.5,179.8 427,179.8 427.5,179.8 428,179.8 428.5,179.8 429,179.9 429.5,179.9 430,179.9 430.5,179.9 431,179.9 431.5,179.9 432,179.9 432.5,179.9 433,180 433.5,180 434,180 434.5,180 435,180 435.5,180 436,180 436.5,180.1 437,180.1 437.5,180.1 438,180.1 438.5,180.1 439,180.1 439.5,180.1 440,180.2 440.5,180.2 441,180.2 441.5,180.2 442,180.2 442.5,180.2 443,180.2 443.5,180.3 444,180.3 444.5,180.3 445,180.3 445.5,180.3 446,180.3 446.5,180.3 447,180.4 447.5,180.4 448,180.4 448.5,180.4 449,180.4 449.5,180.4 450,180.4 450.5,180.5 451,180.5 451.5,180.5 452,180.5 452.5,180.5 453,180.5 453.5,180.5 454,180.6 454.5,180.6 455,180.6 455.5,180.6 456,180.6 456.5,180.6 457,180.6 457.5,180.7 458,180.7 458.5,180.7 459,180.7 459.5,180.7 460,180.7 460.5,180.7 461,180.7 461.5,180.8 462,180.8 462.5,180.8 463,180.8 463.5,180.8 464,180.8 464.5,180.8 465,180.9 465.5,180.9 466,180.9 466.5,180.9 467,180.9 467.5,180.9 468,180.9 468.5,181 469,181 469.5,181 470,181 470.5,181 471,181.1 471.5,181.1 472,181.1 472.5,181.2 473,181.2 473.5,181.2 474,181.2 474.5,181.3 475,181.3 475.5,181.3 476,181.4 476.5,181.4 477,181.4 477.5,181.4 478,181.5 478.5,181.5 479,181.5 479.5,181.6 480,181.6 480.5,181.6 481,181.7 481.5,181.7 482,181.7 482.5,181.8 483,181.8 483.5,181.8 484,181.8 484.5,181.9 485,181.9 485.5,181.9 486,182 486.5,182 487,182 487.5,182.1 488,182.1 488.5,182.1 489,182.1 489.5,182.2 490,182.2 490.5,182.2 491,182.3 491.5,182.3 492,182.3 492.5,182.3 493,182.4 493.5,182.4 494,182.4 494.5,182.5 495,182.5 495.5,182.5 496,182.6 496.5,182.6 497,182.6 497.5,182.7 498,182.7 498.5,182.7 499,182.7 499.5,182.8 500,182.8 500.5,182.8 501,182.9 501.5,182.9 502,182.9 502.5,182.9 503,183 503.5,183 504,183 504.5,183.1 505,183.1 505.5,183.1 506,183.2 506.5,183.2 507,183.2 507.5,183.2 508,183.3 508.5,183.3 509,183.3 509.5,183.4 510,183.4 510.5,183.4 511,183.5 511.5,183.5 512,183.5 512.5,183.5 513,183.6 513.5,183.6 514,183.6 514.5,183.7 515,183.7 515.5,183.7 516,183.8 516.5,183.8 517,183.8 517.5,183.8 518,183.9 518.5,183.9 519,183.9 519.5,184 520,184 520.5,184 521,184.1 521.5,184.1 522,184.1 522.5,184.1 523,184.2 523.5,184.2 524,184.2 524.5,184.3 525,184.3 525.5,184.3 526,184.4 526.5,184.4 527,184.4 527.5,184.4 528,184.5 528.5,184.5 529,184.5 529.5,184.6 530,184.6 530.5,184.6 531,184.7 531.5,184.7 532,184.7 532.5,184.8 533,184.8 533.5,184.8 534,184.8 534.5,184.9 535,184.9 535.5,184.9 536,185" stroke="#a040e0" stroke-width="0.7" fill="none" stroke-linejoin="round"/>
<path d="M301.2,174.8a1.75,1.75 0 1,0 3.5,0a1.75,1.75 0 1,0 -3.5,0M302.5,175.4a1.75,1.75 0 1,0 3.5,0a1.75,1.75 0 1,0 -3.5,0M303.8,175.5a1.75,1.75 0 1,0 3.5,0a1.75,1.75 0 1,0 -3.5,0M305.1,175.5a1.75,1.75 0 1,0 3.5,0a1.75,1.75 0 1,0 -3.5,0M306.4,175.4a1.75,1.75 0 1,0 3.5,0a1.75,1.75 0 1,0 -3.5,0M307.7,175.2a1.75,1.75 0 1,0 3.5,0a1.75,1.75 0 1,0 -3.5,0M309,175.6a1.75,1.75 0 1,0 3.5,0a1.75,1.75 0 1,0 -3.5,0M310.3,175.9a1.75,1.75 0 1,0 3.5,0a1.75,1.75 0 1,0 -3.5,0M311.6,175.2a1.75,1.75 0 1,0 3.5,0a1.75,1.75 0 1,0 -3.5,0M312.9,175.6a1.75,1.75 0 1,0 3.5,0a1.75,1.75 0 1,0 -3.5,0M314.2,176.3a1.75,1.75 0 1,0 3.5,0a1.75,1.75 0 1,0 -3.5,0M315.5,175.5a1.75,1.75 0 1,0 3.5,0a1.75,1.75 0 1,0 -3.5,0M316.8,176.3a1.75,1.75 0 1,0 3.5,0a1.75,1.75 0 1,0 -3.5,0M318.1,175.9a1.75,1.75 0 1,0 3.5,0a1.75,1.75 0 1,0 -3.5,0M319.4,176.5a1.75,1.75 0 1,0 3.5,0a1.75,1.75 0 1,0 -3.5,0M320.7,175.9a1.75,1.75 0 1,0 3.5,0a1.75,1.75 0 1,0 -3.5,0M322,175.8a1.75,1.75 0 1,0 3.5,0a1.75,1.75 0 1,0 -3.5,0M323.3,176.1a1.75,1.75 0 1,0 3.5,0a1.75,1.75 0 1,0 -3.5,0M324.6,176.1a1.75,1.75 0 1,0 3.5,0a1.75,1.75 0 1,0 -3.5,0M325.9,176.2a1.75,1.75 0 1,0 3.5,0a1.75,1.75 0 1,0 -3.5,0M327.2,176.3a1.75,1.75 0 1,0 3.5,0a1.75,1.75 0 1,0 -3.5,0M328.5,175.7a1.75,1.75 0 1,0 3.5,0a1.75,1.75 0 1,0 -3.5,0M329.8,176.3a1.75,1.75 0 1,0 3.5,0a1.75,1.75 0 1,0 -3.5,0M331.1,176.4a1.75,1.75 0 1,0 3.5,0a1.75,1.75 0 1,0 -3.5,0M332.4,175.8a1.75,1.75 0 1,0 3.5,0a1.75,1.75 0 1,0 -3.5,0M333.7,176.2a1.75,1.75 0 1,0 3.5,0a1.75,1.75 0 1,0 -3.5,0M335,176a1.75,1.75 0 1,0 3.5,0a1.75,1.75 0 1,0 -3.5,0M336.3,176.1a1.75,1.75 0 1,0 3.5,0a1.75,1.75 0 1,0 -3.5,0M337.6,176.4a1.75,1.75 0 1,0 3.5,0a1.75,1.75 0 1,0 -3.5,0M338.9,175.6a1.75,1.75 0 1,0 3.5,0a1.75,1.75 0 1,0 -3.5,0M340.2,176a1.75,1.75 0 1,0 3.5,0a1.75,1.75 0 1,0 -3.5,0M341.5,176.4a1.75,1.75 0 1,0 3.5,0a1.75,1.75 0 1,0 -3.5,0M342.8,175.2a1.75,1.75 0 1,0 3.5,0a1.75,1.75 0 1,0 -3.5,0M344.1,176a1.75,1.75 0 1,0 3.5,0a1.75,1.75 0 1,0 -3.5,0M345.4,175.6a1.75,1.75 0 1,0 3.5,0a1.75,1.75 0 1,0 -3.5,0M346.7,176.2a1.75,1.75 0 1,0 3.5,0a1.75,1.75 0 1,0 -3.5,0M348,176a1.75,1.75 0 1,0 3.5,0a1.75,1.75 0 1,0 -3.5,0M349.3,175.7a1.75,1.75 0 1,0 3.5,0a1.75,1.75 0 1,0 -3.5,0M350.6,175.1a1.75,1.75 0 1,0 3.5,0a1.75,1.75 0 1,0 -3.5,0M351.9,175.1a1.75,1.75 0 1,0 3.5,0a1.75,1.75 0 1,0 -3.5,0M353.2,174.9a1.75,1.75 0 1,0 3.5,0a1.75,1.75 0 1,0 -3.5,0M354.5,174.9a1.75,1.75 0 1,0 3.5,0a1.75,1.75 0 1,0 -3.5,0M355.7,174.5a1.75,1.75 0 1,0 3.5,0a1.75,1.75 0 1,0 -3.5,0M357,174.1a1.75,1.75 0 1,0 3.5,0a1.75,1.75 0 1,0 -3.5,0M358.3,173.9a1.75,1.75 0 1,0 3.5,0a1.75,1.75 0 1,0 -3.5,0M359.6,174.1a1.75,1.75 0 1,0 3.5,0a1.75,1.75 0 1,0 -3.5,0M360.8,173.6a1.75,1.75 0 1,0 3.5,0a1.75,1.75 0 1,0 -3.5,0M362.1,173.2a1.75,1.75 0 1,0 3.5,0a1.75,1.75 0 1,0 -3.5,0M363.3,172.9a1.75,1.75 0 1,0 3.5,0a1.75,1.75 0 1,0 -3.5,0M364.6,172.7a1.75,1.75 0 1,0 3.5,0a1.75,1.75 0 1,0 -3.5,0M365.7,172.4a1.75,1.75 0 1,0 3.5,0a1.75,1.75 0 1,0 -3.5,0M366.9,171.2a1.75,1.75 0 1,0 3.5,0a1.75,1.75 0 1,0 -3.5,0M368,170.5a1.75,1.75 0 1,0 3.5,0a1.75,1.75 0 1,0 -3.5,0M369.1,170.1a1.75,1.75 0 1,0 3.5,0a1.75,1.75 0 1,0 -3.5,0M370.1,168.9a1.75,1.75 0 1,0 3.5,0a1.75,1.75 0 1,0 -3.5,0M371.2,168.6a1.75,1.75 0 1,0 3.5,0a1.75,1.75 0 1,0 -3.5,0M372.2,167.7a1.75,1.75 0 1,0 3.5,0a1.75,1.75 0 1,0 -3.5,0M373.2,167.2a1.75,1.75 0 1,0 3.5,0a1.75,1.75 0 1,0 -3.5,0M374.2,165.4a1.75,1.75 0 1,0 3.5,0a1.75,1.75 0 1,0 -3.5,0M375.2,164.8a1.75,1.75 0 1,0 3.5,0a1.75,1.75 0 1,0 -3.5,0M376.1,164.2a1.75,1.75 0 1,0 3.5,0a1.75,1.75 0 1,0 -3.5,0M377.1,163.4a1.75,1.75 0 1,0 3.5,0a1.75,1.75 0 1,0 -3.5,0M378.3,162.6a1.75,1.75 0 1,0 3.5,0a1.75,1.75 0 1,0 -3.5,0M379.5,162.4a1.75,1.75 0 1,0 3.5,0a1.75,1.75 0 1,0 -3.5,0M380.7,163.1a1.75,1.75 0 1,0 3.5,0a1.75,1.75 0 1,0 -3.5,0M381.5,164.1a1.75,1.75 0 1,0 3.5,0a1.75,1.75 0 1,0 -3.5,0M382.3,165.4a1.75,1.75 0 1,0 3.5,0a1.75,1.75 0 1,0 -3.5,0M383,166.5a1.75,1.75 0 1,0 3.5,0a1.75,1.75 0 1,0 -3.5,0M383.7,167.1a1.75,1.75 0 1,0 3.5,0a1.75,1.75 0 1,0 -3.5,0M384.4,168.6a1.75,1.75 0 1,0 3.5,0a1.75,1.75 0 1,0 -3.5,0M385.1,169.7a1.75,1.75 0 1,0 3.5,0a1.75,1.75 0 1,0 -3.5,0M385.9,170.4a1.75,1.75 0 1,0 3.5,0a1.75,1.75 0 1,0 -3.5,0M386.6,172a1.75,1.75 0 1,0 3.5,0a1.75,1.75 0 1,0 -3.5,0M387.4,172.8a1.75,1.75 0 1,0 3.5,0a1.75,1.75 0 1,0 -3.5,0M388.2,173.9a1.75,1.75 0 1,0 3.5,0a1.75,1.75 0 1,0 -3.5,0M389.2,174.2a1.75,1.75 0 1,0 3.5,0a1.75,1.75 0 1,0 -3.5,0M390.3,175.2a1.75,1.75 0 1,0 3.5,0a1.75,1.75 0 1,0 -3.5,0M391.4,176.2a1.75,1.75 0 1,0 3.5,0a1.75,1.75 0 1,0 -3.5,0M392.7,176.1a1.75,1.75 0 1,0 3.5,0a1.75,1.75 0 1,0 -3.5,0M393.9,176.9a1.75,1.75 0 1,0 3.5,0a1.75,1.75 0 1,0 -3.5,0M395.2,176.8a1.75,1.75 0 1,0 3.5,0a1.75,1.75 0 1,0 -3.5,0M396.5,176.9a1.75,1.75 0 1,0 3.5,0a1.75,1.75 0 1,0 -3.5,0M397.8,176.9a1.75,1.75 0 1,0 3.5,0a1.75,1.75 0 1,0 -3.5,0M399.1,177.1a1.75,1.75 0 1,0 3.5,0a1.75,1.75 0 1,0 -3.5,0M400.4,177.1a1.75,1.75 0 1,0 3.5,0a1.75,1.75 0 1,0 -3.5,0M401.7,176.4a1.75,1.75 0 1,0 3.5,0a1.75,1.75 0 1,0 -3.5,0M403,177.4a1.75,1.75 0 1,0 3.5,0a1.75,1.75 0 1,0 -3.5,0M404.3,177.1a1.75,1.75 0 1,0 3.5,0a1.75,1.75 0 1,0 -3.5,0M405.6,177.3a1.75,1.75 0 1,0 3.5,0a1.75,1.75 0 1,0 -3.5,0M406.9,177.4a1.75,1.75 0 1,0 3.5,0a1.75,1.75 0 1,0 -3.5,0M408.2,177.2a1.75,1.75 0 1,0 3.5,0a1.75,1.75 0 1,0 -3.5,0M409.5,177a1.75,1.75 0 1,0 3.5,0a1.75,1.75 0 1,0 -3.5,0M410.8,177.1a1.75,1.75 0 1,0 3.5,0a1.75,1.75 0 1,0 -3.5,0M412.1,177.3a1.75,1.75 0 1,0 3.5,0a1.75,1.75 0 1,0 -3.5,0M413.4,177.5a1.75,1.75 0 1,0 3.5,0a1.75,1.75 0 1,0 -3.5,0M414.7,177a1.75,1.75 0 1,0 3.5,0a1.75,1.75 0 1,0 -3.5,0M416,177.2a1.75,1.75 0 1,0 3.5,0a1.75,1.75 0 1,0 -3.5,0M417.3,177.9a1.75,1.75 0 1,0 3.5,0a1.75,1.75 0 1,0 -3.5,0M418.6,177.2a1.75,1.75 0 1,0 3.5,0a1.75,1.75 0 1,0 -3.5,0M419.9,177.3a1.75,1.75 0 1,0 3.5,0a1.75,1.75 0 1,0 -3.5,0M421.2,177.6a1.75,1.75 0 1,0 3.5,0a1.75,1.75 0 1,0 -3.5,0M422.5,177.4a1.75,1.75 0 1,0 3.5,0a1.75,1.75 0 1,0 -3.5,0M423.8,177.8a1.75,1.75 0 1,0 3.5,0a1.75,1.75 0 1,0 -3.5,0M425.1,178.1a1.75,1.75 0 1,0 3.5,0a1.75,1.75 0 1,0 -3.5,0M426.4,178.2a1.75,1.75 0 1,0 3.5,0a1.75,1.75 0 1,0 -3.5,0M427.7,178.7a1.75,1.75 0 1,0 3.5,0a1.75,1.75 0 1,0 -3.5,0M429,177.9a1.75,1.75 0 1,0 3.5,0a1.75,1.75 0 1,0 -3.5,0M430.3,178.6a1.75,1.75 0 1,0 3.5,0a1.75,1.75 0 1,0 -3.5,0M431.6,177.8a1.75,1.75 0 1,0 3.5,0a1.75,1.75 0 1,0 -3.5,0M432.9,178a1.75,1.75 0 1,0 3.5,0a1.75,1.75 0 1,0 -3.5,0M434.2,178.2a1.75,1.75 0 1,0 3.5,0a1.75,1.75 0 1,0 -3.5,0M435.4,178.5a1.75,1.75 0 1,0 3.5,0a1.75,1.75 0 1,0 -3.5,0M436.7,178.7a1.75,1.75 0 1,0 3.5,0a1.75,1.75 0 1,0 -3.5,0M438,178.9a1.75,1.75 0 1,0 3.5,0a1.75,1.75 0 1,0 -3.5,0M439.3,178.4a1.75,1.75 0 1,0 3.5,0a1.75,1.75 0 1,0 -3.5,0M440.6,179a1.75,1.75 0 1,0 3.5,0a1.75,1.75 0 1,0 -3.5,0M441.9,179.2a1.75,1.75 0 1,0 3.5,0a1.75,1.75 0 1,0 -3.5,0M443.2,179.3a1.75,1.75 0 1,0 3.5,0a1.75,1.75 0 1,0 -3.5,0M444.5,178.4a1.75,1.75 0 1,0 3.5,0a1.75,1.75 0 1,0 -3.5,0M445.8,179a1.75,1.75 0 1,0 3.5,0a1.75,1.75 0 1,0 -3.5,0M447.1,178.8a1.75,1.75 0 1,0 3.5,0a1.75,1.75 0 1,0 -3.5,0M448.4,178.5a1.75,1.75 0 1,0 3.5,0a1.75,1.75 0 1,0 -3.5,0M449.7,179a1.75,1.75 0 1,0 3.5,0a1.75,1.75 0 1,0 -3.5,0M451,178.6a1.75,1.75 0 1,0 3.5,0a1.75,1.75 0 1,0 -3.5,0M452.3,179.2a1.75,1.75 0 1,0 3.5,0a1.75,1.75 0 1,0 -3.5,0M453.6,178.7a1.75,1.75 0 1,0 3.5,0a1.75,1.75 0 1,0 -3.5,0M454.9,179.1a1.75,1.75 0 1,0 3.5,0a1.75,1.75 0 1,0 -3.5,0M456.2,178.7a1.75,1.75 0 1,0 3.5,0a1.75,1.75 0 1,0 -3.5,0M457.5,179.3a1.75,1.75 0 1,0 3.5,0a1.75,1.75 0 1,0 -3.5,0M458.8,178.6a1.75,1.75 0 1,0 3.5,0a1.75,1.75 0 1,0 -3.5,0M460.1,178.8a1.75,1.75 0 1,0 3.5,0a1.75,1.75 0 1,0 -3.5,0M461.4,179.3a1.75,1.75 0 1,0 3.5,0a1.75,1.75 0 1,0 -3.5,0M462.7,178.6a1.75,1.75 0 1,0 3.5,0a1.75,1.75 0 1,0 -3.5,0M464,179a1.75,1.75 0 1,0 3.5,0a1.75,1.75 0 1,0 -3.5,0M465.3,178.7a1.75,1.75 0 1,0 3.5,0a1.75,1.75 0 1,0 -3.5,0M466.6,178.5a1.75,1.75 0 1,0 3.5,0a1.75,1.75 0 1,0 -3.5,0M467.9,178.7a1.75,1.75 0 1,0 3.5,0a1.75,1.75 0 1,0 -3.5,0M469.2,179a1.75,1.75 0 1,0 3.5,0a1.75,1.75 0 1,0 -3.5,0M470.5,179.3a1.75,1.75 0 1,0 3.5,0a1.75,1.75 0 1,0 -3.5,0M471.8,178.7a1.75,1.75 0 1,0 3.5,0a1.75,1.75 0 1,0 -3.5,0M473.1,178.8a1.75,1.75 0 1,0 3.5,0a1.75,1.75 0 1,0 -3.5,0M474.4,178.5a1.75,1.75 0 1,0 3.5,0a1.75,1.75 0 1,0 -3.5,0M475.7,178.6a1.75,1.75 0 1,0 3.5,0a1.75,1.75 0 1,0 -3.5,0M477,178.2a1.75,1.75 0 1,0 3.5,0a1.75,1.75 0 1,0 -3.5,0M478.3,177.2a1.75,1.75 0 1,0 3.5,0a1.75,1.75 0 1,0 -3.5,0M479.5,177.2a1.75,1.75 0 1,0 3.5,0a1.75,1.75 0 1,0 -3.5,0M480.6,176.7a1.75,1.75 0 1,0 3.5,0a1.75,1.75 0 1,0 -3.5,0M481.7,176.4a1.75,1.75 0 1,0 3.5,0a1.75,1.75 0 1,0 -3.5,0M482.7,175.4a1.75,1.75 0 1,0 3.5,0a1.75,1.75 0 1,0 -3.5,0M483.7,174.2a1.75,1.75 0 1,0 3.5,0a1.75,1.75 0 1,0 -3.5,0M484.7,173.6a1.75,1.75 0 1,0 3.5,0a1.75,1.75 0 1,0 -3.5,0M485.6,172.7a1.75,1.75 0 1,0 3.5,0a1.75,1.75 0 1,0 -3.5,0M486.5,171.1a1.75,1.75 0 1,0 3.5,0a1.75,1.75 0 1,0 -3.5,0M487.5,170.9a1.75,1.75 0 1,0 3.5,0a1.75,1.75 0 1,0 -3.5,0M488.6,170.2a1.75,1.75 0 1,0 3.5,0a1.75,1.75 0 1,0 -3.5,0M489.8,169.9a1.75,1.75 0 1,0 3.5,0a1.75,1.75 0 1,0 -3.5,0M491,169.3a1.75,1.75 0 1,0 3.5,0a1.75,1.75 0 1,0 -3.5,0M491.9,168.8a1.75,1.75 0 1,0 3.5,0a1.75,1.75 0 1,0 -3.5,0M492.5,167.4a1.75,1.75 0 1,0 3.5,0a1.75,1.75 0 1,0 -3.5,0M493,166.5a1.75,1.75 0 1,0 3.5,0a1.75,1.75 0 1,0 -3.5,0M493.3,164.5a1.75,1.75 0 1,0 3.5,0a1.75,1.75 0 1,0 -3.5,0M493.6,163.3a1.75,1.75 0 1,0 3.5,0a1.75,1.75 0 1,0 -3.5,0M493.8,162.5a1.75,1.75 0 1,0 3.5,0a1.75,1.75 0 1,0 -3.5,0M494,161.1a1.75,1.75 0 1,0 3.5,0a1.75,1.75 0 1,0 -3.5,0M494.2,159.9a1.75,1.75 0 1,0 3.5,0a1.75,1.75 0 1,0 -3.5,0M494.4,157.9a1.75,1.75 0 1,0 3.5,0a1.75,1.75 0 1,0 -3.5,0M494.5,157.3a1.75,1.75 0 1,0 3.5,0a1.75,1.75 0 1,0 -3.5,0M494.7,155.6a1.75,1.75 0 1,0 3.5,0a1.75,1.75 0 1,0 -3.5,0M494.8,154.2a1.75,1.75 0 1,0 3.5,0a1.75,1.75 0 1,0 -3.5,0M495,153.5a1.75,1.75 0 1,0 3.5,0a1.75,1.75 0 1,0 -3.5,0M495.1,151.8a1.75,1.75 0 1,0 3.5,0a1.75,1.75 0 1,0 -3.5,0M495.2,151a1.75,1.75 0 1,0 3.5,0a1.75,1.75 0 1,0 -3.5,0M495.3,148.9a1.75,1.75 0 1,0 3.5,0a1.75,1.75 0 1,0 -3.5,0M495.5,147.4a1.75,1.75 0 1,0 3.5,0a1.75,1.75 0 1,0 -3.5,0M495.6,146.4a1.75,1.75 0 1,0 3.5,0a1.75,1.75 0 1,0 -3.5,0M495.7,146a1.75,1.75 0 1,0 3.5,0a1.75,1.75 0 1,0 -3.5,0M495.8,144a1.75,1.75 0 1,0 3.5,0a1.75,1.75 0 1,0 -3.5,0M496,142.6a1.75,1.75 0 1,0 3.5,0a1.75,1.75 0 1,0 -3.5,0M496.1,141.1a1.75,1.75 0 1,0 3.5,0a1.75,1.75 0 1,0 -3.5,0M496.2,140.1a1.75,1.75 0 1,0 3.5,0a1.75,1.75 0 1,0 -3.5,0M496.4,138.8a1.75,1.75 0 1,0 3.5,0a1.75,1.75 0 1,0 -3.5,0M496.6,137.8a1.75,1.75 0 1,0 3.5,0a1.75,1.75 0 1,0 -3.5,0M497.2,136.7a1.75,1.75 0 1,0 3.5,0a1.75,1.75 0 1,0 -3.5,0M497.4,138.6a1.75,1.75 0 1,0 3.5,0a1.75,1.75 0 1,0 -3.5,0M497.6,139.2a1.75,1.75 0 1,0 3.5,0a1.75,1.75 0 1,0 -3.5,0M497.8,140.6a1.75,1.75 0 1,0 3.5,0a1.75,1.75 0 1,0 -3.5,0M497.9,142.3a1.75,1.75 0 1,0 3.5,0a1.75,1.75 0 1,0 -3.5,0M498,143.3a1.75,1.75 0 1,0 3.5,0a1.75,1.75 0 1,0 -3.5,0M498.1,144.9a1.75,1.75 0 1,0 3.5,0a1.75,1.75 0 1,0 -3.5,0M498.2,145.7a1.75,1.75 0 1,0 3.5,0a1.75,1.75 0 1,0 -3.5,0M498.4,147a1.75,1.75 0 1,0 3.5,0a1.75,1.75 0 1,0 -3.5,0M498.5,148.2a1.75,1.75 0 1,0 3.5,0a1.75,1.75 0 1,0 -3.5,0M498.6,149.4a1.75,1.75 0 1,0 3.5,0a1.75,1.75 0 1,0 -3.5,0M498.7,151a1.75,1.75 0 1,0 3.5,0a1.75,1.75 0 1,0 -3.5,0M498.8,151.6a1.75,1.75 0 1,0 3.5,0a1.75,1.75 0 1,0 -3.5,0M498.9,153.5a1.75,1.75 0 1,0 3.5,0a1.75,1.75 0 1,0 -3.5,0M499,155.1a1.75,1.75 0 1,0 3.5,0a1.75,1.75 0 1,0 -3.5,0M499.1,156.6a1.75,1.75 0 1,0 3.5,0a1.75,1.75 0 1,0 -3.5,0M499.2,157.6a1.75,1.75 0 1,0 3.5,0a1.75,1.75 0 1,0 -3.5,0M499.3,158.3a1.75,1.75 0 1,0 3.5,0a1.75,1.75 0 1,0 -3.5,0M499.5,159.9a1.75,1.75 0 1,0 3.5,0a1.75,1.75 0 1,0 -3.5,0M499.6,161.4a1.75,1.75 0 1,0 3.5,0a1.75,1.75 0 1,0 -3.5,0M499.8,163.1a1.75,1.75 0 1,0 3.5,0a1.75,1.75 0 1,0 -3.5,0M500,164a1.75,1.75 0 1,0 3.5,0a1.75,1.75 0 1,0 -3.5,0M500.3,165.4a1.75,1.75 0 1,0 3.5,0a1.75,1.75 0 1,0 -3.5,0M500.6,166.3a1.75,1.75 0 1,0 3.5,0a1.75,1.75 0 1,0 -3.5,0M501,167.4a1.75,1.75 0 1,0 3.5,0a1.75,1.75 0 1,0 -3.5,0M501.3,169a1.75,1.75 0 1,0 3.5,0a1.75,1.75 0 1,0 -3.5,0M501.6,170.3a1.75,1.75 0 1,0 3.5,0a1.75,1.75 0 1,0 -3.5,0M502,171.4a1.75,1.75 0 1,0 3.5,0a1.75,1.75 0 1,0 -3.5,0M502.5,172.2a1.75,1.75 0 1,0 3.5,0a1.75,1.75 0 1,0 -3.5,0M503,173.7a1.75,1.75 0 1,0 3.5,0a1.75,1.75 0 1,0 -3.5,0M503.7,174.9a1.75,1.75 0 1,0 3.5,0a1.75,1.75 0 1,0 -3.5,0M504.5,176a1.75,1.75 0 1,0 3.5,0a1.75,1.75 0 1,0 -3.5,0M505.5,176.6a1.75,1.75 0 1,0 3.5,0a1.75,1.75 0 1,0 -3.5,0M506.6,177.5a1.75,1.75 0 1,0 3.5,0a1.75,1.75 0 1,0 -3.5,0M507.7,178.3a1.75,1.75 0 1,0 3.5,0a1.75,1.75 0 1,0 -3.5,0M508.9,178.7a1.75,1.75 0 1,0 3.5,0a1.75,1.75 0 1,0 -3.5,0M510,179.2a1.75,1.75 0 1,0 3.5,0a1.75,1.75 0 1,0 -3.5,0M511.2,179.4a1.75,1.75 0 1,0 3.5,0a1.75,1.75 0 1,0 -3.5,0M512.5,180a1.75,1.75 0 1,0 3.5,0a1.75,1.75 0 1,0 -3.5,0M513.7,180.8a1.75,1.75 0 1,0 3.5,0a1.75,1.75 0 1,0 -3.5,0M515,181.2a1.75,1.75 0 1,0 3.5,0a1.75,1.75 0 1,0 -3.5,0M516.3,181.2a1.75,1.75 0 1,0 3.5,0a1.75,1.75 0 1,0 -3.5,0M517.5,181.6a1.75,1.75 0 1,0 3.5,0a1.75,1.75 0 1,0 -3.5,0M518.8,181.9a1.75,1.75 0 1,0 3.5,0a1.75,1.75 0 1,0 -3.5,0M520.1,181.8a1.75,1.75 0 1,0 3.5,0a1.75,1.75 0 1,0 -3.5,0M521.4,182.6a1.75,1.75 0 1,0 3.5,0a1.75,1.75 0 1,0 -3.5,0M522.7,182.1a1.75,1.75 0 1,0 3.5,0a1.75,1.75 0 1,0 -3.5,0M524,182.7a1.75,1.75 0 1,0 3.5,0a1.75,1.75 0 1,0 -3.5,0M525.3,183a1.75,1.75 0 1,0 3.5,0a1.75,1.75 0 1,0 -3.5,0M526.6,182.7a1.75,1.75 0 1,0 3.5,0a1.75,1.75 0 1,0 -3.5,0M527.8,182.8a1.75,1.75 0 1,0 3.5,0a1.75,1.75 0 1,0 -3.5,0M529.1,183.3a1.75,1.75 0 1,0 3.5,0a1.75,1.75 0 1,0 -3.5,0M530.4,183.3a1.75,1.75 0 1,0 3.5,0a1.75,1.75 0 1,0 -3.5,0M531.7,183.1a1.75,1.75 0 1,0 3.5,0a1.75,1.75 0 1,0 -3.5,0M533,183.2a1.75,1.75 0 1,0 3.5,0a1.75,1.75 0 1,0 -3.5,0" stroke="#ff2424" stroke-width="0.95" fill="none"/>
<path d="M362,177 362.5,177 363,177 363.5,177 364,177 364.5,177 365,177 365.5,177 366,177 366.5,177 367,177 367.5,176.9 368,176.9 368.5,176.9 369,176.9 369.5,176.8 370,176.8 370.5,176.7 371,176.7 371.5,176.6 372,176.5 372.5,176.4 373,176.3 373.5,176.1 374,175.9 374.5,175.6 375,175.3 375.5,174.8 376,174.3 376.5,173.6 377,172.9 377.5,172 378,171.1 378.5,170.1 379,169.1 379.5,168.1 380,167.3 380.5,166.8 381,166.6 381.5,166.8 382,167.4 382.5,168.2 383,169.2 383.5,170.2 384,171.2 384.5,172.2 385,173.1 385.5,173.8 386,174.5 386.5,175 387,175.5 387.5,175.9 388,176.2 388.5,176.4 389,176.6 389.5,176.8 390,176.9 390.5,177 391,177.1 391.5,177.2 392,177.2 392.5,177.3 393,177.3 393.5,177.4 394,177.4 394.5,177.5 395,177.5 395.5,177.5 396,177.6 396.5,177.6 397,177.6 397.5,177.7 398,177.7 398.5,177.7 399,177.7 399.5,177.8 400,177.8" stroke="#c040f0" stroke-width="0.8" fill="none" stroke-linejoin="round"/>
<line x1="302.0" y1="23.4" x2="319.1" y2="23.4" stroke="#a0a0a0" stroke-width="1.0"/>
<path d="M309.1,23.4a1.4,1.4 0 1,0 2.8,0a1.4,1.4 0 1,0 -2.8,0" stroke="#808080" stroke-width="0.9" fill="none"/>
<text x="321.2" y="25.0" font-size="8.8" fill="#000" stroke="#000" stroke-width="0.42" text-anchor="start" font-weight="bold" textLength="19.2" lengthAdjust="spacingAndGlyphs">CuS</text>
<line x1="303.2" y1="76.9" x2="320.4" y2="76.9" stroke="#7474f0" stroke-width="1.0"/>
<path d="M310.7,76.9a1.4,1.4 0 1,0 2.8,0a1.4,1.4 0 1,0 -2.8,0" stroke="#4040f0" stroke-width="0.9" fill="none"/>
<text x="323.1" y="78.8" font-size="9.2" fill="#1717ff" stroke="#1717ff" stroke-width="0.42" text-anchor="start" font-weight="bold" textLength="43.7" lengthAdjust="spacingAndGlyphs">Co-CuS-1</text>
<line x1="302.5" y1="132.7" x2="319.7" y2="132.7" stroke="#f07474" stroke-width="1.0"/>
<path d="M309.7,132.7a1.5,1.5 0 1,0 3,0a1.5,1.5 0 1,0 -3,0" stroke="#ff3434" stroke-width="0.9" fill="none"/>
<text x="321.9" y="134.8" font-size="9.2" fill="#ff1c1c" stroke="#ff1c1c" stroke-width="0.42" text-anchor="start" font-weight="bold" textLength="44.9" lengthAdjust="spacingAndGlyphs">Co-CuS-2</text>
<text x="354.1" y="44.6" font-size="8.8" fill="#000" stroke="#000" stroke-width="0.42" text-anchor="start" font-weight="bold" textLength="25.4" lengthAdjust="spacingAndGlyphs">Cu 2p</text>
<text x="380.0" y="47.6" font-size="5.4" fill="#000" stroke="#000" stroke-width="0.3" text-anchor="start" font-weight="bold" textLength="6.3" lengthAdjust="spacingAndGlyphs">1/2</text>
<text x="479.1" y="19.8" font-size="8.8" fill="#000" stroke="#000" stroke-width="0.42" text-anchor="start" font-weight="bold" textLength="25.4" lengthAdjust="spacingAndGlyphs">Cu 2p</text>
<text x="504.7" y="23.6" font-size="5.4" fill="#000" stroke="#000" stroke-width="0.3" text-anchor="start" font-weight="bold" textLength="7.5" lengthAdjust="spacingAndGlyphs">3/2</text>
<text x="342.1" y="97.0" font-size="8.8" fill="#000" stroke="#000" stroke-width="0.42" text-anchor="start" font-weight="bold" textLength="11.8" lengthAdjust="spacingAndGlyphs">Cu</text>
<text x="354.0" y="91.6" font-size="4.8" fill="#000" stroke="#000" stroke-width="0.3" text-anchor="start" font-weight="bold" textLength="6.0" lengthAdjust="spacingAndGlyphs">2+</text>
<text x="365.6" y="91.8" font-size="8.8" fill="#000" stroke="#000" stroke-width="0.42" text-anchor="start" font-weight="bold" textLength="11.9" lengthAdjust="spacingAndGlyphs">Cu</text>
<text x="377.7" y="86.8" font-size="4.8" fill="#000" stroke="#000" stroke-width="0.3" text-anchor="start" font-weight="bold" textLength="2.8" lengthAdjust="spacingAndGlyphs">+</text>
<text x="469.5" y="97.3" font-size="8.8" fill="#000" stroke="#000" stroke-width="0.42" text-anchor="start" font-weight="bold" textLength="11.2" lengthAdjust="spacingAndGlyphs">Cu</text>
<text x="481.2" y="92.4" font-size="4.8" fill="#000" stroke="#000" stroke-width="0.3" text-anchor="start" font-weight="bold" textLength="5.8" lengthAdjust="spacingAndGlyphs">2+</text>
<text x="505.5" y="81.5" font-size="8.8" fill="#000" stroke="#000" stroke-width="0.42" text-anchor="start" font-weight="bold" textLength="11.2" lengthAdjust="spacingAndGlyphs">Cu</text>
<text x="517.2" y="76.6" font-size="4.8" fill="#000" stroke="#000" stroke-width="0.3" text-anchor="start" font-weight="bold" textLength="2.8" lengthAdjust="spacingAndGlyphs">+</text>
<text x="354.9" y="161.8" font-size="8.8" fill="#000" stroke="#000" stroke-width="0.42" text-anchor="start" font-weight="bold" textLength="12.0" lengthAdjust="spacingAndGlyphs">Cu</text>
<text x="367.1" y="156.6" font-size="4.8" fill="#000" stroke="#000" stroke-width="0.3" text-anchor="start" font-weight="bold" textLength="5.4" lengthAdjust="spacingAndGlyphs">2+</text>
<text x="376.0" y="156.8" font-size="8.8" fill="#000" stroke="#000" stroke-width="0.42" text-anchor="start" font-weight="bold" textLength="11.7" lengthAdjust="spacingAndGlyphs">Cu</text>
<text x="388.0" y="151.4" font-size="4.8" fill="#000" stroke="#000" stroke-width="0.3" text-anchor="start" font-weight="bold" textLength="2.8" lengthAdjust="spacingAndGlyphs">+</text>
<text x="471.9" y="163.6" font-size="8.8" fill="#000" stroke="#000" stroke-width="0.42" text-anchor="start" font-weight="bold" textLength="11.7" lengthAdjust="spacingAndGlyphs">Cu</text>
<text x="483.9" y="158.4" font-size="4.8" fill="#000" stroke="#000" stroke-width="0.3" text-anchor="start" font-weight="bold" textLength="5.4" lengthAdjust="spacingAndGlyphs">2+</text>
<text x="492.3" y="132.3" font-size="8.8" fill="#000" stroke="#000" stroke-width="0.42" text-anchor="start" font-weight="bold" textLength="11.7" lengthAdjust="spacingAndGlyphs">Cu</text>
<text x="504.5" y="127.4" font-size="4.8" fill="#000" stroke="#000" stroke-width="0.3" text-anchor="start" font-weight="bold" textLength="2.8" lengthAdjust="spacingAndGlyphs">+</text>
<line x1="348.9" y1="101.5" x2="351.4" y2="105.5" stroke="#000" stroke-width="0.8"/>
<path d="M352.2,106.8 349.8,105.3 351.9,104 Z" stroke="#000" stroke-width="0.3" fill="#000" stroke-linejoin="round"/>
<line x1="372.1" y1="93.2" x2="370.3" y2="98.3" stroke="#000" stroke-width="0.8"/>
<path d="M369.8,99.7 369.5,96.9 371.8,97.7 Z" stroke="#000" stroke-width="0.3" fill="#000" stroke-linejoin="round"/>
<line x1="480.4" y1="99.2" x2="482.6" y2="104.8" stroke="#000" stroke-width="0.8"/>
<path d="M483.2,106.2 481.1,104.3 483.4,103.4 Z" stroke="#000" stroke-width="0.3" fill="#000" stroke-linejoin="round"/>
<line x1="504.5" y1="81.3" x2="500.7" y2="82.4" stroke="#000" stroke-width="0.8"/>
<path d="M499.3,82.8 501.4,80.9 502.1,83.3 Z" stroke="#000" stroke-width="0.3" fill="#000" stroke-linejoin="round"/>
<line x1="365.3" y1="163.2" x2="368.6" y2="167.9" stroke="#000" stroke-width="0.8"/>
<path d="M369.5,169.1 367,167.8 369,166.3 Z" stroke="#000" stroke-width="0.3" fill="#000" stroke-linejoin="round"/>
<line x1="483.6" y1="165.5" x2="488.3" y2="168.9" stroke="#000" stroke-width="0.8"/>
<path d="M489.5,169.8 486.7,169.3 488.2,167.3 Z" stroke="#000" stroke-width="0.3" fill="#000" stroke-linejoin="round"/>
<rect x="28.8" y="220.4" width="238.7" height="174.9" stroke="#000" stroke-width="1.6" fill="none"/>
<line x1="28.6" y1="395.3" x2="28.6" y2="398.1" stroke="#000" stroke-width="1.1"/>
<text x="19.9" y="409.0" font-size="9.9" fill="#000" stroke="#000" stroke-width="0.42" text-anchor="start" font-weight="bold" textLength="17.4" lengthAdjust="spacingAndGlyphs">810</text>
<line x1="45.2" y1="395.3" x2="45.2" y2="397.2" stroke="#000" stroke-width="1.1"/>
<line x1="61.8" y1="395.3" x2="61.8" y2="398.1" stroke="#000" stroke-width="1.1"/>
<text x="53.1" y="409.0" font-size="9.9" fill="#000" stroke="#000" stroke-width="0.42" text-anchor="start" font-weight="bold" textLength="17.4" lengthAdjust="spacingAndGlyphs">805</text>
<line x1="78.4" y1="395.3" x2="78.4" y2="397.2" stroke="#000" stroke-width="1.1"/>
<line x1="95.0" y1="395.3" x2="95.0" y2="398.1" stroke="#000" stroke-width="1.1"/>
<text x="86.3" y="409.0" font-size="9.9" fill="#000" stroke="#000" stroke-width="0.42" text-anchor="start" font-weight="bold" textLength="17.4" lengthAdjust="spacingAndGlyphs">800</text>
<line x1="111.6" y1="395.3" x2="111.6" y2="397.2" stroke="#000" stroke-width="1.1"/>
<line x1="128.2" y1="395.3" x2="128.2" y2="398.1" stroke="#000" stroke-width="1.1"/>
<text x="119.5" y="409.0" font-size="9.9" fill="#000" stroke="#000" stroke-width="0.42" text-anchor="start" font-weight="bold" textLength="17.4" lengthAdjust="spacingAndGlyphs">795</text>
<line x1="144.8" y1="395.3" x2="144.8" y2="397.2" stroke="#000" stroke-width="1.1"/>
<line x1="161.4" y1="395.3" x2="161.4" y2="398.1" stroke="#000" stroke-width="1.1"/>
<text x="152.7" y="409.0" font-size="9.9" fill="#000" stroke="#000" stroke-width="0.42" text-anchor="start" font-weight="bold" textLength="17.4" lengthAdjust="spacingAndGlyphs">790</text>
<line x1="178.0" y1="395.3" x2="178.0" y2="397.2" stroke="#000" stroke-width="1.1"/>
<line x1="194.6" y1="395.3" x2="194.6" y2="398.1" stroke="#000" stroke-width="1.1"/>
<text x="185.9" y="409.0" font-size="9.9" fill="#000" stroke="#000" stroke-width="0.42" text-anchor="start" font-weight="bold" textLength="17.4" lengthAdjust="spacingAndGlyphs">785</text>
<line x1="211.2" y1="395.3" x2="211.2" y2="397.2" stroke="#000" stroke-width="1.1"/>
<line x1="227.8" y1="395.3" x2="227.8" y2="398.1" stroke="#000" stroke-width="1.1"/>
<text x="219.1" y="409.0" font-size="9.9" fill="#000" stroke="#000" stroke-width="0.42" text-anchor="start" font-weight="bold" textLength="17.4" lengthAdjust="spacingAndGlyphs">780</text>
<line x1="244.4" y1="395.3" x2="244.4" y2="397.2" stroke="#000" stroke-width="1.1"/>
<line x1="261.0" y1="395.3" x2="261.0" y2="398.1" stroke="#000" stroke-width="1.1"/>
<text x="252.3" y="409.0" font-size="9.9" fill="#000" stroke="#000" stroke-width="0.42" text-anchor="start" font-weight="bold" textLength="17.4" lengthAdjust="spacingAndGlyphs">775</text>
<text x="3.7" y="223.2" font-size="15.2" fill="#000" stroke="#000" stroke-width="0.35" text-anchor="start" font-weight="bold" textLength="19.2" lengthAdjust="spacingAndGlyphs">(c)</text>
<text x="87.0" y="423.5" font-size="11.8" fill="#000" stroke="#000" stroke-width="0.3" text-anchor="start" font-weight="bold" textLength="121.6" lengthAdjust="spacingAndGlyphs">Binding energy (eV)</text>
<text transform="translate(20.7,311.2) rotate(-90)" x="0" y="0" font-size="12.3" fill="#000" stroke="#000" stroke-width="0.42" text-anchor="middle" font-weight="bold" textLength="88.9" lengthAdjust="spacingAndGlyphs">Intensity (a.u.)</text>
<path d="M140,285.9 140.5,285.9 141,285.8 141.5,285.8 142,285.8 142.5,285.7 143,285.7 143.5,285.6 144,285.5 144.5,285.5 145,285.4 145.5,285.3 146,285.3 146.5,285.2 147,285.1 147.5,285 148,284.9 148.5,284.8 149,284.7 149.5,284.6 150,284.5 150.5,284.4 151,284.3 151.5,284.2 152,284 152.5,283.9 153,283.8 153.5,283.6 154,283.5 154.5,283.3 155,283.2 155.5,283 156,282.9 156.5,282.7 157,282.5 157.5,282.4 158,282.2 158.5,282 159,281.8 159.5,281.6 160,281.4 160.5,281.2 161,281 161.5,280.8 162,280.6 162.5,280.4 163,280.1 163.5,279.9 164,279.7 164.5,279.5 165,279.2 165.5,279 166,278.8 166.5,278.5 167,278.3 167.5,278 168,277.8 168.5,277.5 169,277.3 169.5,277 170,276.8 170.5,276.6 171,276.3 171.5,276.1 172,275.8 172.5,275.6 173,275.3 173.5,275.1 174,274.9 174.5,274.6 175,274.4 175.5,274.2 176,273.9 176.5,273.7 177,273.5 177.5,273.3 178,273 178.5,272.8 179,272.6 179.5,272.4 180,272.2 180.5,272 181,271.8 181.5,271.6 182,271.5 182.5,271.3 183,271.1 183.5,271 184,270.8 184.5,270.6 185,270.5 185.5,270.4 186,270.2 186.5,270.1 187,269.9 187.5,269.8 188,269.7 188.5,269.6 189,269.5 189.5,269.4 190,269.3 190.5,269.2 191,269.1 191.5,269.1 192,269 192.5,269 193,269 193.5,268.9 194,268.9 194.5,268.9 195,268.9 195.5,268.9 196,268.9 196.5,268.9 197,268.9 197.5,269 198,269 198.5,269.1 199,269.2 199.5,269.2 200,269.3 200.5,269.5 201,269.6 201.5,269.8 202,270 202.5,270.2 203,270.5 203.5,270.8 204,271.1 204.5,271.4 205,271.8 205.5,272.2 206,272.6 206.5,273 207,273.5 207.5,273.9 208,274.4 208.5,274.8 209,275.3 209.5,275.7 210,276.1 210.5,276.5 211,276.8 211.5,277.2 212,277.5 212.5,277.8 213,278 213.5,278.2 214,278.5 214.5,278.7 215,278.9 215.5,279.1 216,279.3 216.5,279.6 217,279.9 217.5,280.2 218,280.5 218.5,280.8 219,281.2 219.5,281.5 220,281.9 220.5,282.2 221,282.5 221.5,282.7 222,282.9 222.5,283 223,283 223.5,282.9 224,282.8 224.5,282.6 225,282.3 225.5,281.9 226,281.5 226.5,281 227,280.6 227.5,280.2 228,279.8 228.5,279.5 229,279.3 229.5,279.1 230,279.1 230.5,279.1 231,279.3 231.5,279.6 232,280 232.5,280.4 233,281 233.5,281.6 234,282.3 234.5,283 235,283.7 235.5,284.5 236,285.2 236.5,286 237,286.7 237.5,287.4 238,288 238.5,288.6 239,289.2 239.5,289.7 240,290.2 240.5,290.7 241,291.1 241.5,291.5 242,291.8 242.5,292.1 243,292.4 243.5,292.7 244,292.9 244.5,293.1 245,293.3 245.5,293.5 246,293.6 246.5,293.8 247,293.9 247.5,293.9 248,293.9 248.5,294 249,294 249.5,294 250,294 250.5,294.1 251,294.1 251.5,294.1 252,294.1" stroke="#22b040" stroke-width="0.9" fill="none" stroke-linejoin="round"/>
<path d="M30,285.3 30.5,285.3 31,285.3 31.5,285.2 32,285.2 32.5,285.2 33,285.1 33.5,285.1 34,285.1 34.5,285 35,285 35.5,284.9 36,284.9 36.5,284.8 37,284.8 37.5,284.7 38,284.7 38.5,284.6 39,284.6 39.5,284.5 40,284.4 40.5,284.4 41,284.3 41.5,284.2 42,284.1 42.5,284.1 43,284 43.5,283.9 44,283.8 44.5,283.7 45,283.6 45.5,283.5 46,283.4 46.5,283.3 47,283.2 47.5,283.1 48,283 48.5,282.8 49,282.7 49.5,282.6 50,282.5 50.5,282.3 51,282.2 51.5,282.1 52,281.9 52.5,281.8 53,281.7 53.5,281.5 54,281.4 54.5,281.2 55,281.1 55.5,280.9 56,280.8 56.5,280.6 57,280.5 57.5,280.3 58,280.2 58.5,280 59,279.9 59.5,279.7 60,279.5 60.5,279.4 61,279.2 61.5,279.1 62,278.9 62.5,278.8 63,278.6 63.5,278.5 64,278.3 64.5,278.2 65,278.1 65.5,277.9 66,277.8 66.5,277.6 67,277.5 67.5,277.4 68,277.3 68.5,277.2 69,277 69.5,276.9 70,276.8 70.5,276.7 71,276.6 71.5,276.6 72,276.5 72.5,276.4 73,276.3 73.5,276.3 74,276.2 74.5,276.2 75,276.1 75.5,276.1 76,276 76.5,276 77,276 77.5,276 78,276 78.5,276 79,276 79.5,276 80,276 80.5,276.1 81,276.1 81.5,276.1 82,276.2 82.5,276.2 83,276.3 83.5,276.4 84,276.4 84.5,276.5 85,276.6 85.5,276.7 86,276.8 86.5,276.9 87,277 87.5,277.1 88,277.3 88.5,277.4 89,277.5 89.5,277.7 90,277.8 90.5,277.9 91,278.1 91.5,278.2 92,278.4 92.5,278.5 93,278.7 93.5,278.9 94,279 94.5,279.2 95,279.4 95.5,279.5 96,279.7 96.5,279.9 97,280.1 97.5,280.3 98,280.4 98.5,280.6 99,280.8 99.5,281 100,281.1 100.5,281.3 101,281.5 101.5,281.7 102,281.8 102.5,282 103,282.2 103.5,282.4 104,282.5 104.5,282.7 105,282.9 105.5,283 106,283.2 106.5,283.4 107,283.5 107.5,283.7 108,283.8 108.5,284 109,284.1 109.5,284.3 110,284.4 110.5,284.5 111,284.7 111.5,284.8 112,284.9 112.5,285.1 113,285.2 113.5,285.3 114,285.4 114.5,285.5 115,285.7 115.5,285.8 116,285.9 116.5,286 117,286.1 117.5,286.2 118,286.3 118.5,286.3 119,286.4 119.5,286.5 120,286.6 120.5,286.7 121,286.8 121.5,286.8 122,286.9 122.5,287 123,287 123.5,287.1 124,287.2 124.5,287.2 125,287.3 125.5,287.3 126,287.4 126.5,287.4 127,287.5 127.5,287.5 128,287.6 128.5,287.6 129,287.7 129.5,287.7 130,287.8 130.5,287.8 131,287.8 131.5,287.9 132,287.9 132.5,287.9 133,288 133.5,288 134,288 134.5,288.1 135,288.1 135,288.3 30,285.8 Z" stroke="#f090e0" stroke-width="0.6" fill="#fbeefa" stroke-linejoin="round"/>
<path d="M192,290.9 192.5,290.9 193,290.9 193.5,290.9 194,290.8 194.5,290.8 195,290.8 195.5,290.7 196,290.6 196.5,290.6 197,290.5 197.5,290.3 198,290.2 198.5,290 199,289.8 199.5,289.5 200,289.2 200.5,288.9 201,288.5 201.5,288.1 202,287.6 202.5,287.1 203,286.6 203.5,286 204,285.3 204.5,284.7 205,284 205.5,283.2 206,282.5 206.5,281.7 207,281 207.5,280.2 208,279.5 208.5,278.7 209,278.1 209.5,277.4 210,276.8 210.5,276.3 211,275.9 211.5,275.6 212,275.3 212.5,275.1 213,275.1 213.5,275.1 214,275.2 214.5,275.5 215,275.8 215.5,276.2 216,276.7 216.5,277.3 217,278 217.5,278.6 218,279.4 218.5,280.2 219,281 219.5,281.8 220,282.6 220.5,283.4 221,284.2 221.5,285 222,285.7 222.5,286.5 223,287.1 223.5,287.8 224,288.4 224.5,288.9 225,289.4 225.5,289.9 226,290.3 226.5,290.7 227,291 227.5,291.3 228,291.6 228.5,291.8 229,292 229.5,292.2 230,292.4 230.5,292.5 231,292.6 231.5,292.7 232,292.8 232.5,292.9 233,293 233.5,293 234,293.1 234.5,293.1 235,293.2 235.5,293.2 236,293.3 236.5,293.3 237,293.3 237.5,293.4 238,293.4 238,293.4 192,290.9 Z" stroke="#ee30e0" stroke-width="0.9" fill="#d0c6f2" stroke-linejoin="round"/>
<path d="M206,291.7 206.5,291.7 207,291.7 207.5,291.7 208,291.7 208.5,291.6 209,291.6 209.5,291.5 210,291.4 210.5,291.3 211,291.1 211.5,290.9 212,290.6 212.5,290.3 213,289.8 213.5,289.3 214,288.7 214.5,288 215,287.2 215.5,286.3 216,285.3 216.5,284.1 217,282.9 217.5,281.6 218,280.2 218.5,278.7 219,277.2 219.5,275.7 220,274.3 220.5,272.9 221,271.6 221.5,270.5 222,269.5 222.5,268.7 223,268.1 223.5,267.8 224,267.7 224.5,267.8 225,268.2 225.5,268.8 226,269.7 226.5,270.7 227,271.9 227.5,273.3 228,274.7 228.5,276.2 229,277.8 229.5,279.3 230,280.8 230.5,282.3 231,283.6 231.5,284.9 232,286.1 232.5,287.2 233,288.2 233.5,289 234,289.8 234.5,290.5 235,291 235.5,291.5 236,291.9 236.5,292.2 237,292.5 237.5,292.7 238,292.9 238.5,293.1 239,293.2 239.5,293.3 240,293.4 240.5,293.4 241,293.5 241.5,293.5 242,293.6 242.5,293.6 243,293.6 243.5,293.7 244,293.7" stroke="#8a0a60" stroke-width="1.1" fill="none" stroke-linejoin="round"/>
<path d="M94,287.3 94.5,287.3 95,287.2 95.5,287.2 96,287.2 96.5,287.1 97,287.1 97.5,287 98,286.9 98.5,286.8 99,286.7 99.5,286.5 100,286.3 100.5,286.1 101,285.9 101.5,285.6 102,285.3 102.5,284.9 103,284.6 103.5,284.2 104,283.7 104.5,283.3 105,282.9 105.5,282.4 106,281.9 106.5,281.5 107,281 107.5,280.6 108,280.3 108.5,279.9 109,279.6 109.5,279.4 110,279.3 110.5,279.2 111,279.1 111.5,279.2 112,279.3 112.5,279.5 113,279.7 113.5,280 114,280.4 114.5,280.8 115,281.2 115.5,281.7 116,282.2 116.5,282.6 117,283.1 117.5,283.6 118,284.1 118.5,284.5 119,284.9 119.5,285.3 120,285.7 120.5,286 121,286.3 121.5,286.6 122,286.8 122.5,287 123,287.2 123.5,287.4 124,287.5 124.5,287.6 125,287.7 125.5,287.8 126,287.9 126.5,287.9 127,288 127.5,288 128,288.1 128.5,288.1 129,288.1 129.5,288.1 130,288.2 130,288.2 94,287.3 Z" stroke="#ee30e0" stroke-width="0.8" fill="#dccbf0" stroke-linejoin="round"/>
<path d="M104,287.5 104.5,287.5 105,287.5 105.5,287.5 106,287.4 106.5,287.4 107,287.3 107.5,287.2 108,287.1 108.5,287 109,286.8 109.5,286.5 110,286.3 110.5,286 111,285.6 111.5,285.2 112,284.7 112.5,284.2 113,283.7 113.5,283.2 114,282.6 114.5,282 115,281.5 115.5,281 116,280.5 116.5,280.1 117,279.7 117.5,279.5 118,279.4 118.5,279.3 119,279.4 119.5,279.5 120,279.8 120.5,280.2 121,280.6 121.5,281.1 122,281.6 122.5,282.2 123,282.8 123.5,283.4 124,284 124.5,284.5 125,285 125.5,285.5 126,285.9 126.5,286.3 127,286.7 127.5,287 128,287.2 128.5,287.4 129,287.6 129.5,287.7 130,287.9 130.5,287.9 131,288 131.5,288.1 132,288.1 132.5,288.2 133,288.2 133.5,288.2 134,288.3 134.5,288.3 135,288.3 135.5,288.3 136,288.3" stroke="#8a0a60" stroke-width="1.0" fill="none" stroke-linejoin="round"/>
<path d="M29.8,285.8 30.3,285.9 30.8,285.9 31.3,285.9 31.8,285.9 32.3,285.9 32.8,285.9 33.3,285.9 33.8,285.9 34.3,285.9 34.8,286 35.3,286 35.8,286 36.3,286 36.8,286 37.3,286 37.8,286 38.3,286 38.8,286.1 39.3,286.1 39.8,286.1 40.3,286.1 40.8,286.1 41.3,286.1 41.8,286.1 42.3,286.1 42.8,286.1 43.3,286.2 43.8,286.2 44.3,286.2 44.8,286.2 45.3,286.2 45.8,286.2 46.3,286.2 46.8,286.2 47.3,286.3 47.8,286.3 48.3,286.3 48.8,286.3 49.3,286.3 49.8,286.3 50.3,286.3 50.8,286.3 51.3,286.3 51.8,286.4 52.3,286.4 52.8,286.4 53.3,286.4 53.8,286.4 54.3,286.4 54.8,286.4 55.3,286.4 55.8,286.4 56.3,286.5 56.8,286.5 57.3,286.5 57.8,286.5 58.3,286.5 58.8,286.5 59.3,286.5 59.8,286.5 60.3,286.6 60.8,286.6 61.3,286.6 61.8,286.6 62.3,286.6 62.8,286.6 63.3,286.6 63.8,286.6 64.3,286.6 64.8,286.7 65.3,286.7 65.8,286.7 66.3,286.7 66.8,286.7 67.3,286.7 67.8,286.7 68.3,286.7 68.8,286.8 69.3,286.8 69.8,286.8 70.3,286.8 70.8,286.8 71.3,286.8 71.8,286.8 72.3,286.8 72.8,286.8 73.3,286.9 73.8,286.9 74.3,286.9 74.8,286.9 75.3,286.9 75.8,286.9 76.3,286.9 76.8,286.9 77.3,287 77.8,287 78.3,287 78.8,287 79.3,287 79.8,287 80.3,287 80.8,287 81.3,287 81.8,287.1 82.3,287.1 82.8,287.1 83.3,287.1 83.8,287.1 84.3,287.1 84.8,287.1 85.3,287.1 85.8,287.1 86.3,287.2 86.8,287.2 87.3,287.2 87.8,287.2 88.3,287.2 88.8,287.2 89.3,287.2 89.8,287.2 90.3,287.3 90.8,287.3 91.3,287.3 91.8,287.3 92.3,287.3 92.8,287.3 93.3,287.3 93.8,287.3 94.3,287.3 94.8,287.4 95.3,287.4 95.8,287.4 96.3,287.4 96.8,287.4 97.3,287.4 97.8,287.4 98.3,287.4 98.8,287.5 99.3,287.5 99.8,287.5 100.3,287.5 100.8,287.5 101.3,287.5 101.8,287.5 102.3,287.5 102.8,287.5 103.3,287.6 103.8,287.6 104.3,287.6 104.8,287.6 105.3,287.6 105.8,287.6 106.3,287.6 106.8,287.6 107.3,287.7 107.8,287.7 108.3,287.7 108.8,287.7 109.3,287.7 109.8,287.7 110.3,287.7 110.8,287.7 111.3,287.7 111.8,287.8 112.3,287.8 112.8,287.8 113.3,287.8 113.8,287.8 114.3,287.8 114.8,287.8 115.3,287.8 115.8,287.8 116.3,287.9 116.8,287.9 117.3,287.9 117.8,287.9 118.3,287.9 118.8,287.9 119.3,287.9 119.8,287.9 120.3,288 120.8,288 121.3,288 121.8,288 122.3,288 122.8,288 123.3,288 123.8,288 124.3,288 124.8,288.1 125.3,288.1 125.8,288.1 126.3,288.1 126.8,288.1 127.3,288.1 127.8,288.1 128.3,288.1 128.8,288.2 129.3,288.2 129.8,288.2 130.3,288.2 130.8,288.2 131.3,288.2 131.8,288.2 132.3,288.2 132.8,288.2 133.3,288.3 133.8,288.3 134.3,288.3 134.8,288.3 135.3,288.3 135.8,288.3 136.3,288.3 136.8,288.3 137.3,288.4 137.8,288.4 138.3,288.4 138.8,288.4 139.3,288.4 139.8,288.4 140.3,288.4 140.8,288.4 141.3,288.4 141.8,288.5 142.3,288.5 142.8,288.5 143.3,288.5 143.8,288.5 144.3,288.5 144.8,288.5 145.3,288.5 145.8,288.5 146.3,288.6 146.8,288.6 147.3,288.6 147.8,288.6 148.3,288.6 148.8,288.6 149.3,288.7 149.8,288.7 150.3,288.7 150.8,288.7 151.3,288.8 151.8,288.8 152.3,288.8 152.8,288.9 153.3,288.9 153.8,288.9 154.3,288.9 154.8,289 155.3,289 155.8,289 156.3,289 156.8,289.1 157.3,289.1 157.8,289.1 158.3,289.1 158.8,289.2 159.3,289.2 159.8,289.2 160.3,289.3 160.8,289.3 161.3,289.3 161.8,289.3 162.3,289.4 162.8,289.4 163.3,289.4 163.8,289.4 164.3,289.5 164.8,289.5 165.3,289.5 165.8,289.5 166.3,289.6 166.8,289.6 167.3,289.6 167.8,289.7 168.3,289.7 168.8,289.7 169.3,289.7 169.8,289.8 170.3,289.8 170.8,289.8 171.3,289.8 171.8,289.9 172.3,289.9 172.8,289.9 173.3,289.9 173.8,290 174.3,290 174.8,290 175.3,290.1 175.8,290.1 176.3,290.1 176.8,290.1 177.3,290.2 177.8,290.2 178.3,290.2 178.8,290.2 179.3,290.3 179.8,290.3 180.3,290.3 180.8,290.3 181.3,290.4 181.8,290.4 182.3,290.4 182.8,290.5 183.3,290.5 183.8,290.5 184.3,290.5 184.8,290.6 185.3,290.6 185.8,290.6 186.3,290.6 186.8,290.7 187.3,290.7 187.8,290.7 188.3,290.7 188.8,290.8 189.3,290.8 189.8,290.8 190.3,290.9 190.8,290.9 191.3,290.9 191.8,290.9 192.3,291 192.8,291 193.3,291 193.8,291 194.3,291.1 194.8,291.1 195.3,291.1 195.8,291.1 196.3,291.2 196.8,291.2 197.3,291.2 197.8,291.3 198.3,291.3 198.8,291.3 199.3,291.3 199.8,291.4 200.3,291.4 200.8,291.4 201.3,291.4 201.8,291.5 202.3,291.5 202.8,291.5 203.3,291.5 203.8,291.6 204.3,291.6 204.8,291.6 205.3,291.7 205.8,291.7 206.3,291.7 206.8,291.7 207.3,291.8 207.8,291.8 208.3,291.8 208.8,291.8 209.3,291.9 209.8,291.9 210.3,291.9 210.8,291.9 211.3,292 211.8,292 212.3,292 212.8,292.1 213.3,292.1 213.8,292.1 214.3,292.1 214.8,292.2 215.3,292.2 215.8,292.2 216.3,292.2 216.8,292.3 217.3,292.3 217.8,292.3 218.3,292.3 218.8,292.4 219.3,292.4 219.8,292.4 220.3,292.5 220.8,292.5 221.3,292.5 221.8,292.5 222.3,292.6 222.8,292.6 223.3,292.6 223.8,292.6 224.3,292.7 224.8,292.7 225.3,292.7 225.8,292.7 226.3,292.8 226.8,292.8 227.3,292.8 227.8,292.9 228.3,292.9 228.8,292.9 229.3,292.9 229.8,293 230.3,293 230.8,293 231.3,293 231.8,293.1 232.3,293.1 232.8,293.1 233.3,293.1 233.8,293.2 234.3,293.2 234.8,293.2 235.3,293.3 235.8,293.3 236.3,293.3 236.8,293.3 237.3,293.4 237.8,293.4 238.3,293.4 238.8,293.4 239.3,293.5 239.8,293.5 240.3,293.5 240.8,293.5 241.3,293.6 241.8,293.6 242.3,293.6 242.8,293.7 243.3,293.7 243.8,293.7 244.3,293.7 244.8,293.8 245.3,293.8 245.8,293.8 246.3,293.8 246.8,293.9 247.3,293.9 247.8,293.9 248.3,293.9 248.8,294 249.3,294 249.8,294 250.3,294.1 250.8,294.1 251.3,294.1 251.8,294.1 252.3,294.2 252.8,294.2 253.3,294.2 253.8,294.2 254.3,294.3 254.8,294.3 255.3,294.3 255.8,294.3 256.3,294.4 256.8,294.4 257.3,294.4 257.8,294.5 258.3,294.5 258.8,294.5 259.3,294.5 259.8,294.6 260.3,294.6 260.8,294.6 261.3,294.6 261.8,294.7 262.3,294.7 262.8,294.7 263.3,294.7 263.8,294.8 264.3,294.8 264.8,294.8 265.3,294.9 265.8,294.9 266.3,294.9" stroke="#a01050" stroke-width="1.3" fill="none" stroke-linejoin="round"/>
<path d="M27.5,281.3a2.2,2.2 0 1,0 4.4,0a2.2,2.2 0 1,0 -4.4,0M28.8,282.6a2.2,2.2 0 1,0 4.4,0a2.2,2.2 0 1,0 -4.4,0M30,281.9a2.2,2.2 0 1,0 4.4,0a2.2,2.2 0 1,0 -4.4,0M31.3,279.2a2.2,2.2 0 1,0 4.4,0a2.2,2.2 0 1,0 -4.4,0M32,279.9a2.2,2.2 0 1,0 4.4,0a2.2,2.2 0 1,0 -4.4,0M33,282a2.2,2.2 0 1,0 4.4,0a2.2,2.2 0 1,0 -4.4,0M34.5,280.2a2.2,2.2 0 1,0 4.4,0a2.2,2.2 0 1,0 -4.4,0M35,280.7a2.2,2.2 0 1,0 4.4,0a2.2,2.2 0 1,0 -4.4,0M36.4,281.7a2.2,2.2 0 1,0 4.4,0a2.2,2.2 0 1,0 -4.4,0M37.1,281.2a2.2,2.2 0 1,0 4.4,0a2.2,2.2 0 1,0 -4.4,0M38.5,281.6a2.2,2.2 0 1,0 4.4,0a2.2,2.2 0 1,0 -4.4,0M39.5,276.7a2.2,2.2 0 1,0 4.4,0a2.2,2.2 0 1,0 -4.4,0M40.9,281.8a2.2,2.2 0 1,0 4.4,0a2.2,2.2 0 1,0 -4.4,0M42.2,280.6a2.2,2.2 0 1,0 4.4,0a2.2,2.2 0 1,0 -4.4,0M42.5,281.2a2.2,2.2 0 1,0 4.4,0a2.2,2.2 0 1,0 -4.4,0M44.2,279.1a2.2,2.2 0 1,0 4.4,0a2.2,2.2 0 1,0 -4.4,0M44.6,280.3a2.2,2.2 0 1,0 4.4,0a2.2,2.2 0 1,0 -4.4,0M45.8,279.1a2.2,2.2 0 1,0 4.4,0a2.2,2.2 0 1,0 -4.4,0M47.6,280.2a2.2,2.2 0 1,0 4.4,0a2.2,2.2 0 1,0 -4.4,0M48.4,278.5a2.2,2.2 0 1,0 4.4,0a2.2,2.2 0 1,0 -4.4,0M48.9,279.5a2.2,2.2 0 1,0 4.4,0a2.2,2.2 0 1,0 -4.4,0M50.8,276.6a2.2,2.2 0 1,0 4.4,0a2.2,2.2 0 1,0 -4.4,0M51.6,279.4a2.2,2.2 0 1,0 4.4,0a2.2,2.2 0 1,0 -4.4,0M52.8,278.5a2.2,2.2 0 1,0 4.4,0a2.2,2.2 0 1,0 -4.4,0M53.4,277.2a2.2,2.2 0 1,0 4.4,0a2.2,2.2 0 1,0 -4.4,0M54.1,277.6a2.2,2.2 0 1,0 4.4,0a2.2,2.2 0 1,0 -4.4,0M55.9,275.7a2.2,2.2 0 1,0 4.4,0a2.2,2.2 0 1,0 -4.4,0M56.7,277.4a2.2,2.2 0 1,0 4.4,0a2.2,2.2 0 1,0 -4.4,0M57.5,276.3a2.2,2.2 0 1,0 4.4,0a2.2,2.2 0 1,0 -4.4,0M58.3,276.6a2.2,2.2 0 1,0 4.4,0a2.2,2.2 0 1,0 -4.4,0M59.4,276.7a2.2,2.2 0 1,0 4.4,0a2.2,2.2 0 1,0 -4.4,0M60.7,273.6a2.2,2.2 0 1,0 4.4,0a2.2,2.2 0 1,0 -4.4,0M61.6,275.6a2.2,2.2 0 1,0 4.4,0a2.2,2.2 0 1,0 -4.4,0M63.3,274.4a2.2,2.2 0 1,0 4.4,0a2.2,2.2 0 1,0 -4.4,0M64.3,276.5a2.2,2.2 0 1,0 4.4,0a2.2,2.2 0 1,0 -4.4,0M64.9,274.5a2.2,2.2 0 1,0 4.4,0a2.2,2.2 0 1,0 -4.4,0M66.5,275a2.2,2.2 0 1,0 4.4,0a2.2,2.2 0 1,0 -4.4,0M67.3,271.9a2.2,2.2 0 1,0 4.4,0a2.2,2.2 0 1,0 -4.4,0M68.2,275.4a2.2,2.2 0 1,0 4.4,0a2.2,2.2 0 1,0 -4.4,0M69.4,273.1a2.2,2.2 0 1,0 4.4,0a2.2,2.2 0 1,0 -4.4,0M70.2,274.2a2.2,2.2 0 1,0 4.4,0a2.2,2.2 0 1,0 -4.4,0M71.3,272.3a2.2,2.2 0 1,0 4.4,0a2.2,2.2 0 1,0 -4.4,0M73.2,272.1a2.2,2.2 0 1,0 4.4,0a2.2,2.2 0 1,0 -4.4,0M74.5,272.8a2.2,2.2 0 1,0 4.4,0a2.2,2.2 0 1,0 -4.4,0M75.5,275.2a2.2,2.2 0 1,0 4.4,0a2.2,2.2 0 1,0 -4.4,0M75.9,272.6a2.2,2.2 0 1,0 4.4,0a2.2,2.2 0 1,0 -4.4,0M77.7,271.6a2.2,2.2 0 1,0 4.4,0a2.2,2.2 0 1,0 -4.4,0M78.8,273.6a2.2,2.2 0 1,0 4.4,0a2.2,2.2 0 1,0 -4.4,0M79.1,275.2a2.2,2.2 0 1,0 4.4,0a2.2,2.2 0 1,0 -4.4,0M80.5,272.9a2.2,2.2 0 1,0 4.4,0a2.2,2.2 0 1,0 -4.4,0M81.6,273.5a2.2,2.2 0 1,0 4.4,0a2.2,2.2 0 1,0 -4.4,0M82.6,272.1a2.2,2.2 0 1,0 4.4,0a2.2,2.2 0 1,0 -4.4,0M83.5,273.1a2.2,2.2 0 1,0 4.4,0a2.2,2.2 0 1,0 -4.4,0M84.9,272.2a2.2,2.2 0 1,0 4.4,0a2.2,2.2 0 1,0 -4.4,0M86.2,273.2a2.2,2.2 0 1,0 4.4,0a2.2,2.2 0 1,0 -4.4,0M86.9,274.1a2.2,2.2 0 1,0 4.4,0a2.2,2.2 0 1,0 -4.4,0M88.2,273.9a2.2,2.2 0 1,0 4.4,0a2.2,2.2 0 1,0 -4.4,0M89,271.8a2.2,2.2 0 1,0 4.4,0a2.2,2.2 0 1,0 -4.4,0M90.4,272.8a2.2,2.2 0 1,0 4.4,0a2.2,2.2 0 1,0 -4.4,0M91.6,275.5a2.2,2.2 0 1,0 4.4,0a2.2,2.2 0 1,0 -4.4,0M92.3,274.7a2.2,2.2 0 1,0 4.4,0a2.2,2.2 0 1,0 -4.4,0M93.1,274.5a2.2,2.2 0 1,0 4.4,0a2.2,2.2 0 1,0 -4.4,0M94.6,275.3a2.2,2.2 0 1,0 4.4,0a2.2,2.2 0 1,0 -4.4,0M95.8,274.1a2.2,2.2 0 1,0 4.4,0a2.2,2.2 0 1,0 -4.4,0M96.5,275.5a2.2,2.2 0 1,0 4.4,0a2.2,2.2 0 1,0 -4.4,0M97.4,273.6a2.2,2.2 0 1,0 4.4,0a2.2,2.2 0 1,0 -4.4,0M99,277.2a2.2,2.2 0 1,0 4.4,0a2.2,2.2 0 1,0 -4.4,0M99.7,274.1a2.2,2.2 0 1,0 4.4,0a2.2,2.2 0 1,0 -4.4,0M101,273.4a2.2,2.2 0 1,0 4.4,0a2.2,2.2 0 1,0 -4.4,0M102.1,274.8a2.2,2.2 0 1,0 4.4,0a2.2,2.2 0 1,0 -4.4,0M103,272.8a2.2,2.2 0 1,0 4.4,0a2.2,2.2 0 1,0 -4.4,0M104.4,272.9a2.2,2.2 0 1,0 4.4,0a2.2,2.2 0 1,0 -4.4,0M105.1,270.5a2.2,2.2 0 1,0 4.4,0a2.2,2.2 0 1,0 -4.4,0M106,271.1a2.2,2.2 0 1,0 4.4,0a2.2,2.2 0 1,0 -4.4,0M107.4,272.2a2.2,2.2 0 1,0 4.4,0a2.2,2.2 0 1,0 -4.4,0M108.5,269.2a2.2,2.2 0 1,0 4.4,0a2.2,2.2 0 1,0 -4.4,0M108.7,272.8a2.2,2.2 0 1,0 4.4,0a2.2,2.2 0 1,0 -4.4,0M109.8,269.3a2.2,2.2 0 1,0 4.4,0a2.2,2.2 0 1,0 -4.4,0M111,270a2.2,2.2 0 1,0 4.4,0a2.2,2.2 0 1,0 -4.4,0M112.7,270.1a2.2,2.2 0 1,0 4.4,0a2.2,2.2 0 1,0 -4.4,0M113,269.9a2.2,2.2 0 1,0 4.4,0a2.2,2.2 0 1,0 -4.4,0M114.5,269.1a2.2,2.2 0 1,0 4.4,0a2.2,2.2 0 1,0 -4.4,0M115.5,269.2a2.2,2.2 0 1,0 4.4,0a2.2,2.2 0 1,0 -4.4,0M116.3,269.7a2.2,2.2 0 1,0 4.4,0a2.2,2.2 0 1,0 -4.4,0M117.4,271.8a2.2,2.2 0 1,0 4.4,0a2.2,2.2 0 1,0 -4.4,0M118.1,269.9a2.2,2.2 0 1,0 4.4,0a2.2,2.2 0 1,0 -4.4,0M119,270.8a2.2,2.2 0 1,0 4.4,0a2.2,2.2 0 1,0 -4.4,0M119.8,272.3a2.2,2.2 0 1,0 4.4,0a2.2,2.2 0 1,0 -4.4,0M120.3,274.8a2.2,2.2 0 1,0 4.4,0a2.2,2.2 0 1,0 -4.4,0M120.3,274.3a2.2,2.2 0 1,0 4.4,0a2.2,2.2 0 1,0 -4.4,0M121.2,273.7a2.2,2.2 0 1,0 4.4,0a2.2,2.2 0 1,0 -4.4,0M122,277a2.2,2.2 0 1,0 4.4,0a2.2,2.2 0 1,0 -4.4,0M122.3,276.9a2.2,2.2 0 1,0 4.4,0a2.2,2.2 0 1,0 -4.4,0M122.7,277.4a2.2,2.2 0 1,0 4.4,0a2.2,2.2 0 1,0 -4.4,0M123.1,278.9a2.2,2.2 0 1,0 4.4,0a2.2,2.2 0 1,0 -4.4,0M124.3,279.3a2.2,2.2 0 1,0 4.4,0a2.2,2.2 0 1,0 -4.4,0M124.6,280.8a2.2,2.2 0 1,0 4.4,0a2.2,2.2 0 1,0 -4.4,0M125.6,282.4a2.2,2.2 0 1,0 4.4,0a2.2,2.2 0 1,0 -4.4,0M126.4,283.5a2.2,2.2 0 1,0 4.4,0a2.2,2.2 0 1,0 -4.4,0M127.3,283a2.2,2.2 0 1,0 4.4,0a2.2,2.2 0 1,0 -4.4,0M129,283.1a2.2,2.2 0 1,0 4.4,0a2.2,2.2 0 1,0 -4.4,0M129.5,281a2.2,2.2 0 1,0 4.4,0a2.2,2.2 0 1,0 -4.4,0M130.9,284.2a2.2,2.2 0 1,0 4.4,0a2.2,2.2 0 1,0 -4.4,0M131.6,285.5a2.2,2.2 0 1,0 4.4,0a2.2,2.2 0 1,0 -4.4,0M132.6,282a2.2,2.2 0 1,0 4.4,0a2.2,2.2 0 1,0 -4.4,0M133.9,281.9a2.2,2.2 0 1,0 4.4,0a2.2,2.2 0 1,0 -4.4,0M135.1,284.2a2.2,2.2 0 1,0 4.4,0a2.2,2.2 0 1,0 -4.4,0M136.5,284.4a2.2,2.2 0 1,0 4.4,0a2.2,2.2 0 1,0 -4.4,0M137.2,286.5a2.2,2.2 0 1,0 4.4,0a2.2,2.2 0 1,0 -4.4,0M138.4,284.5a2.2,2.2 0 1,0 4.4,0a2.2,2.2 0 1,0 -4.4,0M139.9,281.8a2.2,2.2 0 1,0 4.4,0a2.2,2.2 0 1,0 -4.4,0M140.8,282.4a2.2,2.2 0 1,0 4.4,0a2.2,2.2 0 1,0 -4.4,0M141.9,285a2.2,2.2 0 1,0 4.4,0a2.2,2.2 0 1,0 -4.4,0M143.2,284.1a2.2,2.2 0 1,0 4.4,0a2.2,2.2 0 1,0 -4.4,0M143.9,283.1a2.2,2.2 0 1,0 4.4,0a2.2,2.2 0 1,0 -4.4,0M145.2,283.6a2.2,2.2 0 1,0 4.4,0a2.2,2.2 0 1,0 -4.4,0M145.7,284.1a2.2,2.2 0 1,0 4.4,0a2.2,2.2 0 1,0 -4.4,0M147.3,286.3a2.2,2.2 0 1,0 4.4,0a2.2,2.2 0 1,0 -4.4,0M147.9,281.6a2.2,2.2 0 1,0 4.4,0a2.2,2.2 0 1,0 -4.4,0M149.6,281a2.2,2.2 0 1,0 4.4,0a2.2,2.2 0 1,0 -4.4,0M150.3,283.3a2.2,2.2 0 1,0 4.4,0a2.2,2.2 0 1,0 -4.4,0M151.9,282.5a2.2,2.2 0 1,0 4.4,0a2.2,2.2 0 1,0 -4.4,0M152.8,281.7a2.2,2.2 0 1,0 4.4,0a2.2,2.2 0 1,0 -4.4,0M153.2,282.5a2.2,2.2 0 1,0 4.4,0a2.2,2.2 0 1,0 -4.4,0M154.9,281.4a2.2,2.2 0 1,0 4.4,0a2.2,2.2 0 1,0 -4.4,0M156.2,281.6a2.2,2.2 0 1,0 4.4,0a2.2,2.2 0 1,0 -4.4,0M156.2,281.1a2.2,2.2 0 1,0 4.4,0a2.2,2.2 0 1,0 -4.4,0M157.8,278.7a2.2,2.2 0 1,0 4.4,0a2.2,2.2 0 1,0 -4.4,0M158.6,279.7a2.2,2.2 0 1,0 4.4,0a2.2,2.2 0 1,0 -4.4,0M160.1,279.7a2.2,2.2 0 1,0 4.4,0a2.2,2.2 0 1,0 -4.4,0M160.7,277.8a2.2,2.2 0 1,0 4.4,0a2.2,2.2 0 1,0 -4.4,0M161.9,278.6a2.2,2.2 0 1,0 4.4,0a2.2,2.2 0 1,0 -4.4,0M162.7,274.1a2.2,2.2 0 1,0 4.4,0a2.2,2.2 0 1,0 -4.4,0M164,275a2.2,2.2 0 1,0 4.4,0a2.2,2.2 0 1,0 -4.4,0M164.4,276.1a2.2,2.2 0 1,0 4.4,0a2.2,2.2 0 1,0 -4.4,0M165.4,278.7a2.2,2.2 0 1,0 4.4,0a2.2,2.2 0 1,0 -4.4,0M166.5,277.7a2.2,2.2 0 1,0 4.4,0a2.2,2.2 0 1,0 -4.4,0M167.7,276.2a2.2,2.2 0 1,0 4.4,0a2.2,2.2 0 1,0 -4.4,0M168.2,275.6a2.2,2.2 0 1,0 4.4,0a2.2,2.2 0 1,0 -4.4,0M169.8,275.5a2.2,2.2 0 1,0 4.4,0a2.2,2.2 0 1,0 -4.4,0M170.5,275.3a2.2,2.2 0 1,0 4.4,0a2.2,2.2 0 1,0 -4.4,0M171.4,272.2a2.2,2.2 0 1,0 4.4,0a2.2,2.2 0 1,0 -4.4,0M172.4,273.1a2.2,2.2 0 1,0 4.4,0a2.2,2.2 0 1,0 -4.4,0M173.2,275a2.2,2.2 0 1,0 4.4,0a2.2,2.2 0 1,0 -4.4,0M174.5,273.1a2.2,2.2 0 1,0 4.4,0a2.2,2.2 0 1,0 -4.4,0M175.3,272.2a2.2,2.2 0 1,0 4.4,0a2.2,2.2 0 1,0 -4.4,0M177.2,272.5a2.2,2.2 0 1,0 4.4,0a2.2,2.2 0 1,0 -4.4,0M177.4,271.7a2.2,2.2 0 1,0 4.4,0a2.2,2.2 0 1,0 -4.4,0M178.7,269.2a2.2,2.2 0 1,0 4.4,0a2.2,2.2 0 1,0 -4.4,0M180.1,269.6a2.2,2.2 0 1,0 4.4,0a2.2,2.2 0 1,0 -4.4,0M180.9,269.9a2.2,2.2 0 1,0 4.4,0a2.2,2.2 0 1,0 -4.4,0M182,268.5a2.2,2.2 0 1,0 4.4,0a2.2,2.2 0 1,0 -4.4,0M183.4,268.2a2.2,2.2 0 1,0 4.4,0a2.2,2.2 0 1,0 -4.4,0M184.3,270.1a2.2,2.2 0 1,0 4.4,0a2.2,2.2 0 1,0 -4.4,0M185.4,268.3a2.2,2.2 0 1,0 4.4,0a2.2,2.2 0 1,0 -4.4,0M186.3,268.2a2.2,2.2 0 1,0 4.4,0a2.2,2.2 0 1,0 -4.4,0M186.9,268.1a2.2,2.2 0 1,0 4.4,0a2.2,2.2 0 1,0 -4.4,0M187.9,268.8a2.2,2.2 0 1,0 4.4,0a2.2,2.2 0 1,0 -4.4,0M189.6,268.1a2.2,2.2 0 1,0 4.4,0a2.2,2.2 0 1,0 -4.4,0M190.3,267.2a2.2,2.2 0 1,0 4.4,0a2.2,2.2 0 1,0 -4.4,0M191.2,267.2a2.2,2.2 0 1,0 4.4,0a2.2,2.2 0 1,0 -4.4,0M193.1,268.7a2.2,2.2 0 1,0 4.4,0a2.2,2.2 0 1,0 -4.4,0M194,267a2.2,2.2 0 1,0 4.4,0a2.2,2.2 0 1,0 -4.4,0M195.1,266.6a2.2,2.2 0 1,0 4.4,0a2.2,2.2 0 1,0 -4.4,0M196.2,265.1a2.2,2.2 0 1,0 4.4,0a2.2,2.2 0 1,0 -4.4,0M197.2,266.5a2.2,2.2 0 1,0 4.4,0a2.2,2.2 0 1,0 -4.4,0M197.5,261.9a2.2,2.2 0 1,0 4.4,0a2.2,2.2 0 1,0 -4.4,0M199.3,263.5a2.2,2.2 0 1,0 4.4,0a2.2,2.2 0 1,0 -4.4,0M199.6,265.8a2.2,2.2 0 1,0 4.4,0a2.2,2.2 0 1,0 -4.4,0M201.2,265.7a2.2,2.2 0 1,0 4.4,0a2.2,2.2 0 1,0 -4.4,0M201.4,263.6a2.2,2.2 0 1,0 4.4,0a2.2,2.2 0 1,0 -4.4,0M202.5,261.5a2.2,2.2 0 1,0 4.4,0a2.2,2.2 0 1,0 -4.4,0M203.8,263.5a2.2,2.2 0 1,0 4.4,0a2.2,2.2 0 1,0 -4.4,0M204.2,260.7a2.2,2.2 0 1,0 4.4,0a2.2,2.2 0 1,0 -4.4,0M205,259.9a2.2,2.2 0 1,0 4.4,0a2.2,2.2 0 1,0 -4.4,0M206.5,259.9a2.2,2.2 0 1,0 4.4,0a2.2,2.2 0 1,0 -4.4,0M206.9,260.1a2.2,2.2 0 1,0 4.4,0a2.2,2.2 0 1,0 -4.4,0M208.2,259.5a2.2,2.2 0 1,0 4.4,0a2.2,2.2 0 1,0 -4.4,0M209,260.5a2.2,2.2 0 1,0 4.4,0a2.2,2.2 0 1,0 -4.4,0M210,258.1a2.2,2.2 0 1,0 4.4,0a2.2,2.2 0 1,0 -4.4,0M210.5,257.8a2.2,2.2 0 1,0 4.4,0a2.2,2.2 0 1,0 -4.4,0M211.6,256.6a2.2,2.2 0 1,0 4.4,0a2.2,2.2 0 1,0 -4.4,0M212.7,256.2a2.2,2.2 0 1,0 4.4,0a2.2,2.2 0 1,0 -4.4,0M213.5,254.8a2.2,2.2 0 1,0 4.4,0a2.2,2.2 0 1,0 -4.4,0M215,256.3a2.2,2.2 0 1,0 4.4,0a2.2,2.2 0 1,0 -4.4,0M215.1,255a2.2,2.2 0 1,0 4.4,0a2.2,2.2 0 1,0 -4.4,0M216.5,252.8a2.2,2.2 0 1,0 4.4,0a2.2,2.2 0 1,0 -4.4,0M216.7,254.2a2.2,2.2 0 1,0 4.4,0a2.2,2.2 0 1,0 -4.4,0M218.5,252.1a2.2,2.2 0 1,0 4.4,0a2.2,2.2 0 1,0 -4.4,0M218.7,250a2.2,2.2 0 1,0 4.4,0a2.2,2.2 0 1,0 -4.4,0M219.7,252.6a2.2,2.2 0 1,0 4.4,0a2.2,2.2 0 1,0 -4.4,0M220.9,250.3a2.2,2.2 0 1,0 4.4,0a2.2,2.2 0 1,0 -4.4,0M221.9,249.4a2.2,2.2 0 1,0 4.4,0a2.2,2.2 0 1,0 -4.4,0M222.5,250.6a2.2,2.2 0 1,0 4.4,0a2.2,2.2 0 1,0 -4.4,0M223.1,257a2.2,2.2 0 1,0 4.4,0a2.2,2.2 0 1,0 -4.4,0M224.2,253.5a2.2,2.2 0 1,0 4.4,0a2.2,2.2 0 1,0 -4.4,0M224.2,257.2a2.2,2.2 0 1,0 4.4,0a2.2,2.2 0 1,0 -4.4,0M225.1,258.8a2.2,2.2 0 1,0 4.4,0a2.2,2.2 0 1,0 -4.4,0M225.5,256.2a2.2,2.2 0 1,0 4.4,0a2.2,2.2 0 1,0 -4.4,0M225.8,258.3a2.2,2.2 0 1,0 4.4,0a2.2,2.2 0 1,0 -4.4,0M226.5,259.7a2.2,2.2 0 1,0 4.4,0a2.2,2.2 0 1,0 -4.4,0M226.7,259.1a2.2,2.2 0 1,0 4.4,0a2.2,2.2 0 1,0 -4.4,0M226.8,262.6a2.2,2.2 0 1,0 4.4,0a2.2,2.2 0 1,0 -4.4,0M227.1,263.3a2.2,2.2 0 1,0 4.4,0a2.2,2.2 0 1,0 -4.4,0M227.7,265.9a2.2,2.2 0 1,0 4.4,0a2.2,2.2 0 1,0 -4.4,0M227.9,266.9a2.2,2.2 0 1,0 4.4,0a2.2,2.2 0 1,0 -4.4,0M228.2,266.6a2.2,2.2 0 1,0 4.4,0a2.2,2.2 0 1,0 -4.4,0M228.7,264.8a2.2,2.2 0 1,0 4.4,0a2.2,2.2 0 1,0 -4.4,0M228.5,266.6a2.2,2.2 0 1,0 4.4,0a2.2,2.2 0 1,0 -4.4,0M229.2,271.5a2.2,2.2 0 1,0 4.4,0a2.2,2.2 0 1,0 -4.4,0M229.3,270.3a2.2,2.2 0 1,0 4.4,0a2.2,2.2 0 1,0 -4.4,0M230.1,272.8a2.2,2.2 0 1,0 4.4,0a2.2,2.2 0 1,0 -4.4,0M230.6,272.4a2.2,2.2 0 1,0 4.4,0a2.2,2.2 0 1,0 -4.4,0M230.2,275.1a2.2,2.2 0 1,0 4.4,0a2.2,2.2 0 1,0 -4.4,0M230.6,274.5a2.2,2.2 0 1,0 4.4,0a2.2,2.2 0 1,0 -4.4,0M231.6,273.8a2.2,2.2 0 1,0 4.4,0a2.2,2.2 0 1,0 -4.4,0M231.9,274.2a2.2,2.2 0 1,0 4.4,0a2.2,2.2 0 1,0 -4.4,0M232.3,273.6a2.2,2.2 0 1,0 4.4,0a2.2,2.2 0 1,0 -4.4,0M231.9,278.4a2.2,2.2 0 1,0 4.4,0a2.2,2.2 0 1,0 -4.4,0M233.1,279.5a2.2,2.2 0 1,0 4.4,0a2.2,2.2 0 1,0 -4.4,0M233.5,279.8a2.2,2.2 0 1,0 4.4,0a2.2,2.2 0 1,0 -4.4,0M233.5,279.3a2.2,2.2 0 1,0 4.4,0a2.2,2.2 0 1,0 -4.4,0M233.7,282.2a2.2,2.2 0 1,0 4.4,0a2.2,2.2 0 1,0 -4.4,0M234.3,283.5a2.2,2.2 0 1,0 4.4,0a2.2,2.2 0 1,0 -4.4,0M235.1,284.4a2.2,2.2 0 1,0 4.4,0a2.2,2.2 0 1,0 -4.4,0M235.9,284.7a2.2,2.2 0 1,0 4.4,0a2.2,2.2 0 1,0 -4.4,0M236.5,286.7a2.2,2.2 0 1,0 4.4,0a2.2,2.2 0 1,0 -4.4,0M237.2,287.7a2.2,2.2 0 1,0 4.4,0a2.2,2.2 0 1,0 -4.4,0M238,286.7a2.2,2.2 0 1,0 4.4,0a2.2,2.2 0 1,0 -4.4,0M238.7,289.8a2.2,2.2 0 1,0 4.4,0a2.2,2.2 0 1,0 -4.4,0M238.8,290.9a2.2,2.2 0 1,0 4.4,0a2.2,2.2 0 1,0 -4.4,0M239.6,289a2.2,2.2 0 1,0 4.4,0a2.2,2.2 0 1,0 -4.4,0M241.4,293.2a2.2,2.2 0 1,0 4.4,0a2.2,2.2 0 1,0 -4.4,0M241.6,292a2.2,2.2 0 1,0 4.4,0a2.2,2.2 0 1,0 -4.4,0M243.4,293.1a2.2,2.2 0 1,0 4.4,0a2.2,2.2 0 1,0 -4.4,0M244.2,292.6a2.2,2.2 0 1,0 4.4,0a2.2,2.2 0 1,0 -4.4,0M245.7,292.2a2.2,2.2 0 1,0 4.4,0a2.2,2.2 0 1,0 -4.4,0M246,290.9a2.2,2.2 0 1,0 4.4,0a2.2,2.2 0 1,0 -4.4,0M247.6,291a2.2,2.2 0 1,0 4.4,0a2.2,2.2 0 1,0 -4.4,0M248.1,292.4a2.2,2.2 0 1,0 4.4,0a2.2,2.2 0 1,0 -4.4,0M249,292.1a2.2,2.2 0 1,0 4.4,0a2.2,2.2 0 1,0 -4.4,0M250.4,292.7a2.2,2.2 0 1,0 4.4,0a2.2,2.2 0 1,0 -4.4,0M251.5,295.2a2.2,2.2 0 1,0 4.4,0a2.2,2.2 0 1,0 -4.4,0M252.9,293.3a2.2,2.2 0 1,0 4.4,0a2.2,2.2 0 1,0 -4.4,0M253.5,292.9a2.2,2.2 0 1,0 4.4,0a2.2,2.2 0 1,0 -4.4,0M255.2,293.1a2.2,2.2 0 1,0 4.4,0a2.2,2.2 0 1,0 -4.4,0M255.7,294a2.2,2.2 0 1,0 4.4,0a2.2,2.2 0 1,0 -4.4,0M257.6,292.9a2.2,2.2 0 1,0 4.4,0a2.2,2.2 0 1,0 -4.4,0M258,293.1a2.2,2.2 0 1,0 4.4,0a2.2,2.2 0 1,0 -4.4,0M259.9,293.2a2.2,2.2 0 1,0 4.4,0a2.2,2.2 0 1,0 -4.4,0M260.3,292a2.2,2.2 0 1,0 4.4,0a2.2,2.2 0 1,0 -4.4,0M261.4,293.3a2.2,2.2 0 1,0 4.4,0a2.2,2.2 0 1,0 -4.4,0M262.8,294.3a2.2,2.2 0 1,0 4.4,0a2.2,2.2 0 1,0 -4.4,0M263.7,294.5a2.2,2.2 0 1,0 4.4,0a2.2,2.2 0 1,0 -4.4,0" stroke="#3a3af2" stroke-width="0.95" fill="none"/>
<path d="M29.8,281.5 30.3,281.5 30.8,281.5 31.3,281.5 31.8,281.5 32.3,281.5 32.8,281.4 33.3,281.4 33.8,281.4 34.3,281.4 34.8,281.4 35.3,281.3 35.8,281.3 36.3,281.3 36.8,281.2 37.3,281.2 37.8,281.1 38.3,281.1 38.8,281 39.3,281 39.8,280.9 40.3,280.8 40.8,280.8 41.3,280.7 41.8,280.6 42.3,280.5 42.8,280.5 43.3,280.4 43.8,280.3 44.3,280.2 44.8,280.1 45.3,280 45.8,279.9 46.3,279.7 46.8,279.6 47.3,279.5 47.8,279.4 48.3,279.2 48.8,279.1 49.3,278.9 49.8,278.8 50.3,278.6 50.8,278.5 51.3,278.3 51.8,278.2 52.3,278 52.8,277.9 53.3,277.7 53.8,277.6 54.3,277.4 54.8,277.3 55.3,277.2 55.8,277 56.3,276.9 56.8,276.7 57.3,276.6 57.8,276.4 58.3,276.3 58.8,276.2 59.3,276 59.8,275.9 60.3,275.8 60.8,275.6 61.3,275.5 61.8,275.4 62.3,275.3 62.8,275.1 63.3,275 63.8,274.9 64.3,274.8 64.8,274.7 65.3,274.6 65.8,274.5 66.3,274.4 66.8,274.3 67.3,274.2 67.8,274.1 68.3,274 68.8,274 69.3,273.9 69.8,273.8 70.3,273.8 70.8,273.7 71.3,273.6 71.8,273.6 72.3,273.5 72.8,273.5 73.3,273.5 73.8,273.4 74.3,273.4 74.8,273.4 75.3,273.4 75.8,273.4 76.3,273.3 76.8,273.3 77.3,273.3 77.8,273.3 78.3,273.4 78.8,273.4 79.3,273.4 79.8,273.4 80.3,273.4 80.8,273.4 81.3,273.4 81.8,273.4 82.3,273.3 82.8,273.3 83.3,273.3 83.8,273.2 84.3,273.2 84.8,273.1 85.3,273.1 85.8,273.1 86.3,273 86.8,273 87.3,273 87.8,273 88.3,273 88.8,273.1 89.3,273.1 89.8,273.2 90.3,273.3 90.8,273.4 91.3,273.5 91.8,273.6 92.3,273.8 92.8,273.9 93.3,274.1 93.8,274.2 94.3,274.4 94.8,274.6 95.3,274.7 95.8,274.9 96.3,275 96.8,275.1 97.3,275.2 97.8,275.2 98.3,275.3 98.8,275.3 99.3,275.3 99.8,275.2 100.3,275.1 100.8,275 101.3,274.9 101.8,274.7 102.3,274.5 102.8,274.3 103.3,274 103.8,273.8 104.3,273.5 104.8,273.3 105.3,273.1 105.8,272.9 106.3,272.7 106.8,272.5 107.3,272.3 107.8,272.1 108.3,272 108.8,271.8 109.3,271.7 109.8,271.5 110.3,271.3 110.8,271.1 111.3,270.9 111.8,270.7 112.3,270.5 112.8,270.3 113.3,270 113.8,269.8 114.3,269.6 114.8,269.4 115.3,269.3 115.8,269.2 116.3,269.1 116.8,269.1 117.3,269.1 117.8,269.2 118.3,269.4 118.8,269.7 119.3,270.1 119.8,270.6 120.3,271.2 120.8,271.8 121.3,272.5 121.8,273.3 122.3,274.2 122.8,275 123.3,275.9 123.8,276.7 124.3,277.5 124.8,278.3 125.3,279.1 125.8,279.7 126.3,280.4 126.8,280.9 127.3,281.3 127.8,281.6 128.3,281.9 128.8,282.1 129.3,282.3 129.8,282.4 130.3,282.6 130.8,282.7 131.3,282.9 131.8,283.1 132.3,283.3 132.8,283.4 133.3,283.5 133.8,283.7 134.3,283.8 134.8,283.9 135.3,284 135.8,284.1 136.3,284.2 136.8,284.3 137.3,284.3 137.8,284.4 138.3,284.4 138.8,284.4 139.3,284.4 139.8,284.4 140.3,284.4 140.8,284.4 141.3,284.3 141.8,284.3 142.3,284.2 142.8,284.2 143.3,284.1 143.8,284.1 144.3,284 144.8,283.9 145.3,283.9 145.8,283.8 146.3,283.7 146.8,283.6 147.3,283.5 147.8,283.4 148.3,283.3 148.8,283.2 149.3,283.1 149.8,283 150.3,282.9 150.8,282.8 151.3,282.7 151.8,282.6 152.3,282.5 152.8,282.3 153.3,282.2 153.8,282 154.3,281.9 154.8,281.8 155.3,281.6 155.8,281.4 156.3,281.3 156.8,281.1 157.3,280.9 157.8,280.8 158.3,280.6 158.8,280.4 159.3,280.2 159.8,280 160.3,279.8 160.8,279.6 161.3,279.4 161.8,279.2 162.3,279 162.8,278.7 163.3,278.5 163.8,278.3 164.3,278.1 164.8,277.8 165.3,277.6 165.8,277.4 166.3,277.1 166.8,276.9 167.3,276.6 167.8,276.4 168.3,276.1 168.8,275.9 169.3,275.6 169.8,275.4 170.3,275.2 170.8,274.9 171.3,274.7 171.8,274.4 172.3,274.2 172.8,273.9 173.3,273.7 173.8,273.5 174.3,273.2 174.8,273 175.3,272.7 175.8,272.5 176.3,272.3 176.8,272.1 177.3,271.8 177.8,271.6 178.3,271.4 178.8,271.2 179.3,271 179.8,270.8 180.3,270.6 180.8,270.4 181.3,270.2 181.8,270 182.3,269.9 182.8,269.7 183.3,269.5 183.8,269.4 184.3,269.2 184.8,269.1 185.3,268.9 185.8,268.8 186.3,268.6 186.8,268.5 187.3,268.4 187.8,268.2 188.3,268.1 188.8,268 189.3,267.9 189.8,267.8 190.3,267.7 190.8,267.6 191.3,267.5 191.8,267.5 192.3,267.4 192.8,267.3 193.3,267.3 193.8,267.2 194.3,267.2 194.8,267.1 195.3,267 195.8,266.9 196.3,266.8 196.8,266.7 197.3,266.6 197.8,266.5 198.3,266.3 198.8,266.2 199.3,266 199.8,265.8 200.3,265.5 200.8,265.3 201.3,265 201.8,264.8 202.3,264.5 202.8,264.1 203.3,263.8 203.8,263.5 204.3,263.1 204.8,262.7 205.3,262.4 205.8,262 206.3,261.6 206.8,261.3 207.3,260.9 207.8,260.5 208.3,260.2 208.8,259.8 209.3,259.5 209.8,259.2 210.3,258.9 210.8,258.6 211.3,258.3 211.8,258 212.3,257.7 212.8,257.4 213.3,257.1 213.8,256.8 214.3,256.5 214.8,256.2 215.3,255.9 215.8,255.5 216.3,255.2 216.8,254.8 217.3,254.4 217.8,254 218.3,253.6 218.8,253.3 219.3,252.9 219.8,252.5 220.3,252.2 220.8,251.9 221.3,251.7 221.8,251.6 222.3,251.5 222.8,251.5 223.3,251.6 223.8,251.9 224.3,252.3 224.8,252.7 225.3,253.4 225.8,254.1 226.3,255 226.8,256 227.3,257.1 227.8,258.4 228.3,259.7 228.8,261.1 229.3,262.6 229.8,264.2 230.3,265.8 230.8,267.4 231.3,269 231.8,270.6 232.3,272.2 232.8,273.8 233.3,275.3 233.8,276.7 234.3,278.1 234.8,279.4 235.3,280.7 235.8,281.9 236.3,282.9 236.8,283.9 237.3,284.9 237.8,285.7 238.3,286.5 238.8,287.2 239.3,287.8 239.8,288.4 240.3,288.9 240.8,289.4 241.3,289.8 241.8,290.2 242.3,290.5 242.8,290.8 243.3,291.1 243.8,291.3 244.3,291.5 244.8,291.7 245.3,291.9 245.8,292.1 246.3,292.2 246.8,292.4 247.3,292.5 247.8,292.6 248.3,292.7 248.8,292.8 249.3,292.9 249.8,293 250.3,293.1 250.8,293.1 251.3,293.2 251.8,293.3 252.3,293.3 252.8,293.4 253.3,293.5 253.8,293.5 254.3,293.6 254.8,293.6 255.3,293.6 255.8,293.7 256.3,293.7 256.8,293.8 257.3,293.8 257.8,293.8 258.3,293.8 258.8,293.9 259.3,293.9 259.8,293.9 260.3,293.9 260.8,293.9 261.3,293.9 261.8,293.9 262.3,293.9 262.8,293.9 263.3,293.9 263.8,293.9 264.3,293.9 264.8,293.9 265.3,293.9 265.8,293.9 266.3,293.9" stroke="#e03050" stroke-width="1.0" fill="none" stroke-linejoin="round"/>
<line x1="28.6" y1="230.9" x2="47.1" y2="230.9" stroke="#9494f2" stroke-width="1.0"/>
<path d="M36.7,230.9a1.5,1.5 0 1,0 3,0a1.5,1.5 0 1,0 -3,0" stroke="#4a4af0" stroke-width="0.9" fill="none"/>
<text x="49.5" y="233.2" font-size="9.2" fill="#1717ff" stroke="#1717ff" stroke-width="0.42" text-anchor="start" font-weight="bold" textLength="44.0" lengthAdjust="spacingAndGlyphs">Co-CuS-1</text>
<text x="73.4" y="267.4" font-size="8.8" fill="#000" stroke="#000" stroke-width="0.42" text-anchor="start" font-weight="bold" textLength="16.1" lengthAdjust="spacingAndGlyphs">sat.</text>
<text x="101.4" y="263.0" font-size="8.8" fill="#000" stroke="#000" stroke-width="0.42" text-anchor="start" font-weight="bold" textLength="25.0" lengthAdjust="spacingAndGlyphs">Co 2p</text>
<text x="127.7" y="266.4" font-size="5.4" fill="#000" stroke="#000" stroke-width="0.3" text-anchor="start" font-weight="bold" textLength="6.8" lengthAdjust="spacingAndGlyphs">1/2</text>
<text x="179.1" y="261.4" font-size="8.8" fill="#000" stroke="#000" stroke-width="0.42" text-anchor="start" font-weight="bold" textLength="15.4" lengthAdjust="spacingAndGlyphs">sat.</text>
<text x="204.9" y="244.4" font-size="8.8" fill="#000" stroke="#000" stroke-width="0.42" text-anchor="start" font-weight="bold" textLength="25.2" lengthAdjust="spacingAndGlyphs">Co 2p</text>
<text x="230.8" y="248.0" font-size="5.4" fill="#000" stroke="#000" stroke-width="0.3" text-anchor="start" font-weight="bold" textLength="7.5" lengthAdjust="spacingAndGlyphs">3/2</text>
<path d="M135,370.7 136,370.4 137,370.1 138,369.9 139,369.6 140,369.3 141,369 142,368.7 143,368.4 144,368.1 145,367.8 146,367.5 147,367.1 148,366.8 149,366.4 150,366 151,365.7 152,365.2 153,364.8 154,364.4 155,363.9 156,363.5 157,363 158,362.5 159,362 160,361.4 161,360.9 162,360.3 163,359.7 164,359.1 165,358.4 166,357.8 167,357.1 168,356.4 169,355.7 170,354.9 171,354.2 172,353.4 173,352.6 174,351.9 175,351.1 176,350.3 177,349.5 178,348.6 179,347.8 180,347 181,346.2 182,345.4 183,344.6 184,343.8 185,343.1 186,342.3 187,341.6 188,340.9 189,340.2 190,339.5 191,338.9 192,338.3 193,337.8 194,337.3 195,336.8 196,336.3 197,335.9 198,335.6 199,335.3 200,335 201,334.8 202,334.6 203,334.3 204,334.1 205,333.9 206,333.7 207,333.5 208,333.2 209,333 210,332.8 211,332.6 212,332.4 213,332.1 214,331.9 215,331.7 216,331.5 217,331.2 218,331 219,330.8 220,330.6 221,330.4 222,330.1 223,329.9 224,329.7 225,329.5 226,329.3 227,329 228,328.8 229,328.6 230,328.4 231,328.1 232,327.9 233,327.7 234,327.5 235,327.3 236,327 237,326.8 238,326.6 239,326.4 240,326.2" stroke="#22b040" stroke-width="0.9" fill="none" stroke-linejoin="round"/>
<path d="M200,356.5 200.5,356.4 201,356.3 201.5,356.1 202,356 202.5,355.9 203,355.8 203.5,355.6 204,355.5 204.5,355.3 205,355.1 205.5,355 206,354.8 206.5,354.5 207,354.3 207.5,354 208,353.7 208.5,353.4 209,353 209.5,352.6 210,352.1 210.5,351.7 211,351.1 211.5,350.5 212,349.9 212.5,349.2 213,348.5 213.5,347.8 214,347.1 214.5,346.3 215,345.5 215.5,344.7 216,344 216.5,343.3 217,342.6 217.5,342 218,341.4 218.5,341 219,340.6 219.5,340.3 220,340.1 220.5,340 221,340 221.5,340.1 222,340.3 222.5,340.5 223,340.9 223.5,341.3 224,341.7 224.5,342.2 225,342.8 225.5,343.3 226,343.9 226.5,344.4 227,344.9 227.5,345.4 228,345.9 228.5,346.4 229,346.8 229.5,347.1 230,347.4 230.5,347.7 231,347.9 231.5,348.1 232,348.2 232.5,348.3 233,348.4 233.5,348.4 234,348.5 234.5,348.5 235,348.4 235.5,348.4 236,348.3 236.5,348.3 237,348.2 237.5,348.1 238,348 238.5,347.9 239,347.8 239.5,347.7 240,347.6 240,347.7 200,356.5 Z" stroke="#ee30e0" stroke-width="0.8" fill="#c8b8f0" stroke-linejoin="round"/>
<path d="M225,350.9 225.5,350.7 226,350.5 226.5,350.3 227,350.1 227.5,349.8 228,349.4 228.5,349 229,348.5 229.5,347.9 230,347.2 230.5,346.4 231,345.5 231.5,344.4 232,343.3 232.5,342 233,340.7 233.5,339.3 234,337.9 234.5,336.5 235,335.2 235.5,334 236,333 236.5,332.2 237,331.6 237.5,331.2 238,331.1 238.5,331.3 239,331.7 239.5,332.4 240,333.2 240.5,334.2 241,335.3 241.5,336.5 242,337.7 242.5,338.8 243,339.9 243.5,340.9 244,341.8 244.5,342.6 245,343.3 245.5,343.9 246,344.3 246.5,344.7 247,345 247.5,345.1 248,345.3 248.5,345.3 249,345.3 249.5,345.3 250,345.3 250.5,345.2 251,345.1 251.5,345.1 252,345" stroke="#a030f0" stroke-width="1.0" fill="none" stroke-linejoin="round"/>
<path d="M94,380.6 94.5,380.5 95,380.3 95.5,380.2 96,380.1 96.5,379.9 97,379.8 97.5,379.6 98,379.5 98.5,379.4 99,379.2 99.5,379.1 100,378.9 100.5,378.8 101,378.7 101.5,378.5 102,378.4 102.5,378.2 103,378.1 103.5,377.9 104,377.7 104.5,377.4 105,377.1 105.5,376.8 106,376.5 106.5,376.3 107,376 107.5,375.7 108,375.4 108.5,375.2 109,375.1 109.5,374.9 110,374.7 110.5,374.5 111,374.3 111.5,374.2 112,373.9 112.5,373.8 113,373.8 113.5,373.9 114,373.8 114.5,373.8 115,373.8 115.5,373.8 116,373.7 116.5,373.6 117,373.5 117.5,373.4 118,373.3 118.5,373.2 119,373 119.5,372.8 120,372.6 120.5,372.4 121,372.1 121.5,371.9 122,371.7 122.5,371.5 123,371.3 123.5,371.1 124,370.7 124.5,370.4 125,370.1 125.5,369.9 126,369.6 126.5,369.4 127,369.2 127.5,369.1 128,369 128.5,368.9 129,368.8 129.5,368.8 130,368.8 130.5,368.8 131,368.8 131.5,368.9 132,369 132.5,369.1 133,369.2 133.5,369.3 134,369.5 134.5,369.6 135,369.8 135.5,369.9 136,370.1 136.5,370.2 137,370.3 137.5,370.5 138,370.6 138.5,370.7 139,370.8 139.5,370.9 140,370.9 140.5,371 141,371 141.5,371 142,371 142.5,371 143,371 143.5,371 144,371 144.5,370.9 145,370.9 145.5,370.8 146,370.8 146.5,370.7 147,370.6 147.5,370.5 148,370.4 148.5,370.3 149,370.2 149.5,370.1 150,370 150.5,369.9 151,369.8 151.5,369.7 152,369.6 152.5,369.5 153,369.4 153.5,369.3 154,369.2 154.5,369.1 155,369 155.5,368.9 156,368.8 156.5,368.6 157,368.5 157.5,368.4 158,368.3 158.5,368.2 159,368.1 159.5,368 160,367.9" stroke="#a050e8" stroke-width="0.8" fill="none" stroke-linejoin="round"/>
<path d="M27,382.9a2.5,2.5 0 1,0 5,0a2.5,2.5 0 1,0 -5,0M29.8,389.9a2.5,2.5 0 1,0 5,0a2.5,2.5 0 1,0 -5,0M33,385.2a2.5,2.5 0 1,0 5,0a2.5,2.5 0 1,0 -5,0M34.6,383.7a2.5,2.5 0 1,0 5,0a2.5,2.5 0 1,0 -5,0M38.8,385a2.5,2.5 0 1,0 5,0a2.5,2.5 0 1,0 -5,0M40.1,390.1a2.5,2.5 0 1,0 5,0a2.5,2.5 0 1,0 -5,0M43.2,381.7a2.5,2.5 0 1,0 5,0a2.5,2.5 0 1,0 -5,0M47,381.1a2.5,2.5 0 1,0 5,0a2.5,2.5 0 1,0 -5,0M48.9,389.8a2.5,2.5 0 1,0 5,0a2.5,2.5 0 1,0 -5,0M51.2,388.9a2.5,2.5 0 1,0 5,0a2.5,2.5 0 1,0 -5,0M53.3,385.9a2.5,2.5 0 1,0 5,0a2.5,2.5 0 1,0 -5,0M56,386.1a2.5,2.5 0 1,0 5,0a2.5,2.5 0 1,0 -5,0M59,380.8a2.5,2.5 0 1,0 5,0a2.5,2.5 0 1,0 -5,0M61.5,380.9a2.5,2.5 0 1,0 5,0a2.5,2.5 0 1,0 -5,0M62.8,383.9a2.5,2.5 0 1,0 5,0a2.5,2.5 0 1,0 -5,0M67.1,379a2.5,2.5 0 1,0 5,0a2.5,2.5 0 1,0 -5,0M68.4,382.2a2.5,2.5 0 1,0 5,0a2.5,2.5 0 1,0 -5,0M72.1,380.3a2.5,2.5 0 1,0 5,0a2.5,2.5 0 1,0 -5,0M74,372.1a2.5,2.5 0 1,0 5,0a2.5,2.5 0 1,0 -5,0M75.4,376.8a2.5,2.5 0 1,0 5,0a2.5,2.5 0 1,0 -5,0M78.6,373.5a2.5,2.5 0 1,0 5,0a2.5,2.5 0 1,0 -5,0M81.2,372.7a2.5,2.5 0 1,0 5,0a2.5,2.5 0 1,0 -5,0M83.7,367.1a2.5,2.5 0 1,0 5,0a2.5,2.5 0 1,0 -5,0M87.5,372.7a2.5,2.5 0 1,0 5,0a2.5,2.5 0 1,0 -5,0M89.5,370.7a2.5,2.5 0 1,0 5,0a2.5,2.5 0 1,0 -5,0M91.6,367.3a2.5,2.5 0 1,0 5,0a2.5,2.5 0 1,0 -5,0M93.8,372.6a2.5,2.5 0 1,0 5,0a2.5,2.5 0 1,0 -5,0M97.2,360.3a2.5,2.5 0 1,0 5,0a2.5,2.5 0 1,0 -5,0M100.5,361.2a2.5,2.5 0 1,0 5,0a2.5,2.5 0 1,0 -5,0M103.1,360.9a2.5,2.5 0 1,0 5,0a2.5,2.5 0 1,0 -5,0M104.9,370.4a2.5,2.5 0 1,0 5,0a2.5,2.5 0 1,0 -5,0M107.6,366.5a2.5,2.5 0 1,0 5,0a2.5,2.5 0 1,0 -5,0M109.5,364.2a2.5,2.5 0 1,0 5,0a2.5,2.5 0 1,0 -5,0M112,361.8a2.5,2.5 0 1,0 5,0a2.5,2.5 0 1,0 -5,0M116,360.3a2.5,2.5 0 1,0 5,0a2.5,2.5 0 1,0 -5,0M116.8,360.7a2.5,2.5 0 1,0 5,0a2.5,2.5 0 1,0 -5,0M119.9,363.3a2.5,2.5 0 1,0 5,0a2.5,2.5 0 1,0 -5,0M123.4,363.3a2.5,2.5 0 1,0 5,0a2.5,2.5 0 1,0 -5,0M125.8,362a2.5,2.5 0 1,0 5,0a2.5,2.5 0 1,0 -5,0M128.4,360.2a2.5,2.5 0 1,0 5,0a2.5,2.5 0 1,0 -5,0M131.5,357a2.5,2.5 0 1,0 5,0a2.5,2.5 0 1,0 -5,0M134,359.8a2.5,2.5 0 1,0 5,0a2.5,2.5 0 1,0 -5,0M136,357.1a2.5,2.5 0 1,0 5,0a2.5,2.5 0 1,0 -5,0M137.6,364.7a2.5,2.5 0 1,0 5,0a2.5,2.5 0 1,0 -5,0M142.4,351.1a2.5,2.5 0 1,0 5,0a2.5,2.5 0 1,0 -5,0M143,355.1a2.5,2.5 0 1,0 5,0a2.5,2.5 0 1,0 -5,0M146.9,361.5a2.5,2.5 0 1,0 5,0a2.5,2.5 0 1,0 -5,0M148.5,358.1a2.5,2.5 0 1,0 5,0a2.5,2.5 0 1,0 -5,0M152.2,353.7a2.5,2.5 0 1,0 5,0a2.5,2.5 0 1,0 -5,0M153.9,354.7a2.5,2.5 0 1,0 5,0a2.5,2.5 0 1,0 -5,0M156.5,355.4a2.5,2.5 0 1,0 5,0a2.5,2.5 0 1,0 -5,0M160.2,354a2.5,2.5 0 1,0 5,0a2.5,2.5 0 1,0 -5,0M162.1,361.5a2.5,2.5 0 1,0 5,0a2.5,2.5 0 1,0 -5,0M165,356.6a2.5,2.5 0 1,0 5,0a2.5,2.5 0 1,0 -5,0M167.6,353.9a2.5,2.5 0 1,0 5,0a2.5,2.5 0 1,0 -5,0M170.4,344.6a2.5,2.5 0 1,0 5,0a2.5,2.5 0 1,0 -5,0M171.8,352.9a2.5,2.5 0 1,0 5,0a2.5,2.5 0 1,0 -5,0M176.1,355.8a2.5,2.5 0 1,0 5,0a2.5,2.5 0 1,0 -5,0M177.8,357.5a2.5,2.5 0 1,0 5,0a2.5,2.5 0 1,0 -5,0M180.1,342.1a2.5,2.5 0 1,0 5,0a2.5,2.5 0 1,0 -5,0M183.9,341.9a2.5,2.5 0 1,0 5,0a2.5,2.5 0 1,0 -5,0M184.9,347.9a2.5,2.5 0 1,0 5,0a2.5,2.5 0 1,0 -5,0M188.1,344.3a2.5,2.5 0 1,0 5,0a2.5,2.5 0 1,0 -5,0M190.1,342.1a2.5,2.5 0 1,0 5,0a2.5,2.5 0 1,0 -5,0M191.8,338.8a2.5,2.5 0 1,0 5,0a2.5,2.5 0 1,0 -5,0M192.8,342a2.5,2.5 0 1,0 5,0a2.5,2.5 0 1,0 -5,0M197.3,340a2.5,2.5 0 1,0 5,0a2.5,2.5 0 1,0 -5,0M198.7,337a2.5,2.5 0 1,0 5,0a2.5,2.5 0 1,0 -5,0M200.4,333.8a2.5,2.5 0 1,0 5,0a2.5,2.5 0 1,0 -5,0M201.9,333.3a2.5,2.5 0 1,0 5,0a2.5,2.5 0 1,0 -5,0M206.2,333.9a2.5,2.5 0 1,0 5,0a2.5,2.5 0 1,0 -5,0M207.1,325a2.5,2.5 0 1,0 5,0a2.5,2.5 0 1,0 -5,0M210.8,329.7a2.5,2.5 0 1,0 5,0a2.5,2.5 0 1,0 -5,0M213.3,323.7a2.5,2.5 0 1,0 5,0a2.5,2.5 0 1,0 -5,0M215.5,324.9a2.5,2.5 0 1,0 5,0a2.5,2.5 0 1,0 -5,0M216.8,325.8a2.5,2.5 0 1,0 5,0a2.5,2.5 0 1,0 -5,0M219,334.8a2.5,2.5 0 1,0 5,0a2.5,2.5 0 1,0 -5,0M221.8,325.7a2.5,2.5 0 1,0 5,0a2.5,2.5 0 1,0 -5,0M224.2,331.4a2.5,2.5 0 1,0 5,0a2.5,2.5 0 1,0 -5,0M226.7,326.8a2.5,2.5 0 1,0 5,0a2.5,2.5 0 1,0 -5,0M229.9,326.9a2.5,2.5 0 1,0 5,0a2.5,2.5 0 1,0 -5,0M230.3,320.2a2.5,2.5 0 1,0 5,0a2.5,2.5 0 1,0 -5,0M233.4,322.7a2.5,2.5 0 1,0 5,0a2.5,2.5 0 1,0 -5,0M234.8,328.1a2.5,2.5 0 1,0 5,0a2.5,2.5 0 1,0 -5,0M236.8,329.3a2.5,2.5 0 1,0 5,0a2.5,2.5 0 1,0 -5,0M239,330a2.5,2.5 0 1,0 5,0a2.5,2.5 0 1,0 -5,0M240.7,337.7a2.5,2.5 0 1,0 5,0a2.5,2.5 0 1,0 -5,0M241.5,324.7a2.5,2.5 0 1,0 5,0a2.5,2.5 0 1,0 -5,0M244,339.7a2.5,2.5 0 1,0 5,0a2.5,2.5 0 1,0 -5,0M247.9,338.7a2.5,2.5 0 1,0 5,0a2.5,2.5 0 1,0 -5,0M250.4,335.1a2.5,2.5 0 1,0 5,0a2.5,2.5 0 1,0 -5,0M252.5,334.7a2.5,2.5 0 1,0 5,0a2.5,2.5 0 1,0 -5,0M255.7,341.1a2.5,2.5 0 1,0 5,0a2.5,2.5 0 1,0 -5,0M257.7,331a2.5,2.5 0 1,0 5,0a2.5,2.5 0 1,0 -5,0M261.5,335.5a2.5,2.5 0 1,0 5,0a2.5,2.5 0 1,0 -5,0M262.5,337.6a2.5,2.5 0 1,0 5,0a2.5,2.5 0 1,0 -5,0M26.5,388.1a2.5,2.5 0 1,0 5,0a2.5,2.5 0 1,0 -5,0M29.6,379.6a2.5,2.5 0 1,0 5,0a2.5,2.5 0 1,0 -5,0M31.4,390a2.5,2.5 0 1,0 5,0a2.5,2.5 0 1,0 -5,0M33.8,385.8a2.5,2.5 0 1,0 5,0a2.5,2.5 0 1,0 -5,0M38.2,385a2.5,2.5 0 1,0 5,0a2.5,2.5 0 1,0 -5,0M40.5,384.9a2.5,2.5 0 1,0 5,0a2.5,2.5 0 1,0 -5,0M43.2,389.5a2.5,2.5 0 1,0 5,0a2.5,2.5 0 1,0 -5,0M45.8,385.3a2.5,2.5 0 1,0 5,0a2.5,2.5 0 1,0 -5,0M48.4,384.7a2.5,2.5 0 1,0 5,0a2.5,2.5 0 1,0 -5,0M49.3,381.8a2.5,2.5 0 1,0 5,0a2.5,2.5 0 1,0 -5,0M54,381.2a2.5,2.5 0 1,0 5,0a2.5,2.5 0 1,0 -5,0M55.7,392.4a2.5,2.5 0 1,0 5,0a2.5,2.5 0 1,0 -5,0M58.4,383.4a2.5,2.5 0 1,0 5,0a2.5,2.5 0 1,0 -5,0M60.4,387.5a2.5,2.5 0 1,0 5,0a2.5,2.5 0 1,0 -5,0M62.6,380.4a2.5,2.5 0 1,0 5,0a2.5,2.5 0 1,0 -5,0M65.8,388a2.5,2.5 0 1,0 5,0a2.5,2.5 0 1,0 -5,0M66.9,377.5a2.5,2.5 0 1,0 5,0a2.5,2.5 0 1,0 -5,0M71.1,371.5a2.5,2.5 0 1,0 5,0a2.5,2.5 0 1,0 -5,0M72.7,379a2.5,2.5 0 1,0 5,0a2.5,2.5 0 1,0 -5,0M75.4,373.9a2.5,2.5 0 1,0 5,0a2.5,2.5 0 1,0 -5,0M77.7,375.6a2.5,2.5 0 1,0 5,0a2.5,2.5 0 1,0 -5,0M81.2,375.7a2.5,2.5 0 1,0 5,0a2.5,2.5 0 1,0 -5,0M84,373.9a2.5,2.5 0 1,0 5,0a2.5,2.5 0 1,0 -5,0M86.1,370.4a2.5,2.5 0 1,0 5,0a2.5,2.5 0 1,0 -5,0M87.4,370.7a2.5,2.5 0 1,0 5,0a2.5,2.5 0 1,0 -5,0M90.4,375.2a2.5,2.5 0 1,0 5,0a2.5,2.5 0 1,0 -5,0M94.4,368.1a2.5,2.5 0 1,0 5,0a2.5,2.5 0 1,0 -5,0M95.3,364.5a2.5,2.5 0 1,0 5,0a2.5,2.5 0 1,0 -5,0M99.3,370.3a2.5,2.5 0 1,0 5,0a2.5,2.5 0 1,0 -5,0M100.2,370.1a2.5,2.5 0 1,0 5,0a2.5,2.5 0 1,0 -5,0M102.5,363a2.5,2.5 0 1,0 5,0a2.5,2.5 0 1,0 -5,0M106.1,361.1a2.5,2.5 0 1,0 5,0a2.5,2.5 0 1,0 -5,0M109.8,368.5a2.5,2.5 0 1,0 5,0a2.5,2.5 0 1,0 -5,0M111.3,362.2a2.5,2.5 0 1,0 5,0a2.5,2.5 0 1,0 -5,0M114.6,359.2a2.5,2.5 0 1,0 5,0a2.5,2.5 0 1,0 -5,0M115.6,362.2a2.5,2.5 0 1,0 5,0a2.5,2.5 0 1,0 -5,0M119.4,359.5a2.5,2.5 0 1,0 5,0a2.5,2.5 0 1,0 -5,0M121.2,360.1a2.5,2.5 0 1,0 5,0a2.5,2.5 0 1,0 -5,0M124.2,362.9a2.5,2.5 0 1,0 5,0a2.5,2.5 0 1,0 -5,0M127.4,356.7a2.5,2.5 0 1,0 5,0a2.5,2.5 0 1,0 -5,0M130.1,359.6a2.5,2.5 0 1,0 5,0a2.5,2.5 0 1,0 -5,0M133.4,356.4a2.5,2.5 0 1,0 5,0a2.5,2.5 0 1,0 -5,0M135.2,363.2a2.5,2.5 0 1,0 5,0a2.5,2.5 0 1,0 -5,0M139,356a2.5,2.5 0 1,0 5,0a2.5,2.5 0 1,0 -5,0M139.9,363.8a2.5,2.5 0 1,0 5,0a2.5,2.5 0 1,0 -5,0M142.7,357.5a2.5,2.5 0 1,0 5,0a2.5,2.5 0 1,0 -5,0M145.3,352.7a2.5,2.5 0 1,0 5,0a2.5,2.5 0 1,0 -5,0M147.5,359.1a2.5,2.5 0 1,0 5,0a2.5,2.5 0 1,0 -5,0M151.8,353.7a2.5,2.5 0 1,0 5,0a2.5,2.5 0 1,0 -5,0M153.8,353a2.5,2.5 0 1,0 5,0a2.5,2.5 0 1,0 -5,0M157.8,353a2.5,2.5 0 1,0 5,0a2.5,2.5 0 1,0 -5,0M160.3,351.7a2.5,2.5 0 1,0 5,0a2.5,2.5 0 1,0 -5,0M161.3,356.6a2.5,2.5 0 1,0 5,0a2.5,2.5 0 1,0 -5,0M165,357a2.5,2.5 0 1,0 5,0a2.5,2.5 0 1,0 -5,0M167.8,355.3a2.5,2.5 0 1,0 5,0a2.5,2.5 0 1,0 -5,0M168.3,350.7a2.5,2.5 0 1,0 5,0a2.5,2.5 0 1,0 -5,0M172.1,346.5a2.5,2.5 0 1,0 5,0a2.5,2.5 0 1,0 -5,0M174,355.9a2.5,2.5 0 1,0 5,0a2.5,2.5 0 1,0 -5,0M177.6,357.1a2.5,2.5 0 1,0 5,0a2.5,2.5 0 1,0 -5,0M180.2,353.9a2.5,2.5 0 1,0 5,0a2.5,2.5 0 1,0 -5,0M181.3,351.3a2.5,2.5 0 1,0 5,0a2.5,2.5 0 1,0 -5,0M183.7,341a2.5,2.5 0 1,0 5,0a2.5,2.5 0 1,0 -5,0M185.7,343.5a2.5,2.5 0 1,0 5,0a2.5,2.5 0 1,0 -5,0M189.5,335.8a2.5,2.5 0 1,0 5,0a2.5,2.5 0 1,0 -5,0M192,337.4a2.5,2.5 0 1,0 5,0a2.5,2.5 0 1,0 -5,0M193.7,333.7a2.5,2.5 0 1,0 5,0a2.5,2.5 0 1,0 -5,0M196,345.7a2.5,2.5 0 1,0 5,0a2.5,2.5 0 1,0 -5,0M197.1,340.8a2.5,2.5 0 1,0 5,0a2.5,2.5 0 1,0 -5,0M199.3,330.4a2.5,2.5 0 1,0 5,0a2.5,2.5 0 1,0 -5,0M201.5,338.7a2.5,2.5 0 1,0 5,0a2.5,2.5 0 1,0 -5,0M203.9,333.1a2.5,2.5 0 1,0 5,0a2.5,2.5 0 1,0 -5,0M206.3,331.1a2.5,2.5 0 1,0 5,0a2.5,2.5 0 1,0 -5,0M209.1,331.8a2.5,2.5 0 1,0 5,0a2.5,2.5 0 1,0 -5,0M210.9,327.7a2.5,2.5 0 1,0 5,0a2.5,2.5 0 1,0 -5,0M213.8,330a2.5,2.5 0 1,0 5,0a2.5,2.5 0 1,0 -5,0M217.2,331.6a2.5,2.5 0 1,0 5,0a2.5,2.5 0 1,0 -5,0M219.6,335a2.5,2.5 0 1,0 5,0a2.5,2.5 0 1,0 -5,0M221.6,323.3a2.5,2.5 0 1,0 5,0a2.5,2.5 0 1,0 -5,0M223.9,328.3a2.5,2.5 0 1,0 5,0a2.5,2.5 0 1,0 -5,0M226.5,334.4a2.5,2.5 0 1,0 5,0a2.5,2.5 0 1,0 -5,0M227.8,323.7a2.5,2.5 0 1,0 5,0a2.5,2.5 0 1,0 -5,0M229.5,328.9a2.5,2.5 0 1,0 5,0a2.5,2.5 0 1,0 -5,0M233.5,322.6a2.5,2.5 0 1,0 5,0a2.5,2.5 0 1,0 -5,0M234.3,320.8a2.5,2.5 0 1,0 5,0a2.5,2.5 0 1,0 -5,0M237.2,327.6a2.5,2.5 0 1,0 5,0a2.5,2.5 0 1,0 -5,0M239.5,323.5a2.5,2.5 0 1,0 5,0a2.5,2.5 0 1,0 -5,0M239.8,330.4a2.5,2.5 0 1,0 5,0a2.5,2.5 0 1,0 -5,0M241.3,334.4a2.5,2.5 0 1,0 5,0a2.5,2.5 0 1,0 -5,0M245.4,333.2a2.5,2.5 0 1,0 5,0a2.5,2.5 0 1,0 -5,0M247.2,342.3a2.5,2.5 0 1,0 5,0a2.5,2.5 0 1,0 -5,0M248.4,339.4a2.5,2.5 0 1,0 5,0a2.5,2.5 0 1,0 -5,0M252.1,345a2.5,2.5 0 1,0 5,0a2.5,2.5 0 1,0 -5,0M254.2,344.1a2.5,2.5 0 1,0 5,0a2.5,2.5 0 1,0 -5,0M258.2,341.2a2.5,2.5 0 1,0 5,0a2.5,2.5 0 1,0 -5,0M258.9,337.7a2.5,2.5 0 1,0 5,0a2.5,2.5 0 1,0 -5,0M261.5,325.2a2.5,2.5 0 1,0 5,0a2.5,2.5 0 1,0 -5,0M27.5,381.7a2.5,2.5 0 1,0 5,0a2.5,2.5 0 1,0 -5,0M28.9,387.5a2.5,2.5 0 1,0 5,0a2.5,2.5 0 1,0 -5,0M29.7,381.9a2.5,2.5 0 1,0 5,0a2.5,2.5 0 1,0 -5,0M33.5,388.4a2.5,2.5 0 1,0 5,0a2.5,2.5 0 1,0 -5,0M35.8,390.9a2.5,2.5 0 1,0 5,0a2.5,2.5 0 1,0 -5,0M38.8,388.5a2.5,2.5 0 1,0 5,0a2.5,2.5 0 1,0 -5,0M41.3,392.3a2.5,2.5 0 1,0 5,0a2.5,2.5 0 1,0 -5,0M44.1,390.2a2.5,2.5 0 1,0 5,0a2.5,2.5 0 1,0 -5,0M47,388a2.5,2.5 0 1,0 5,0a2.5,2.5 0 1,0 -5,0M50.7,383.5a2.5,2.5 0 1,0 5,0a2.5,2.5 0 1,0 -5,0M51.7,384.2a2.5,2.5 0 1,0 5,0a2.5,2.5 0 1,0 -5,0M54.2,381.1a2.5,2.5 0 1,0 5,0a2.5,2.5 0 1,0 -5,0M58.1,373.8a2.5,2.5 0 1,0 5,0a2.5,2.5 0 1,0 -5,0M60.5,388.3a2.5,2.5 0 1,0 5,0a2.5,2.5 0 1,0 -5,0M63,377a2.5,2.5 0 1,0 5,0a2.5,2.5 0 1,0 -5,0M63.3,374.4a2.5,2.5 0 1,0 5,0a2.5,2.5 0 1,0 -5,0M67.5,379.1a2.5,2.5 0 1,0 5,0a2.5,2.5 0 1,0 -5,0M69.9,371a2.5,2.5 0 1,0 5,0a2.5,2.5 0 1,0 -5,0M71.2,371a2.5,2.5 0 1,0 5,0a2.5,2.5 0 1,0 -5,0M74.7,377a2.5,2.5 0 1,0 5,0a2.5,2.5 0 1,0 -5,0M76.3,374.9a2.5,2.5 0 1,0 5,0a2.5,2.5 0 1,0 -5,0M80.7,375.1a2.5,2.5 0 1,0 5,0a2.5,2.5 0 1,0 -5,0M81.2,373.1a2.5,2.5 0 1,0 5,0a2.5,2.5 0 1,0 -5,0M85.7,370.7a2.5,2.5 0 1,0 5,0a2.5,2.5 0 1,0 -5,0M87.6,367.2a2.5,2.5 0 1,0 5,0a2.5,2.5 0 1,0 -5,0M90.6,370.8a2.5,2.5 0 1,0 5,0a2.5,2.5 0 1,0 -5,0M91.5,369.7a2.5,2.5 0 1,0 5,0a2.5,2.5 0 1,0 -5,0M95.8,376.3a2.5,2.5 0 1,0 5,0a2.5,2.5 0 1,0 -5,0M97.4,367a2.5,2.5 0 1,0 5,0a2.5,2.5 0 1,0 -5,0M99.8,366.9a2.5,2.5 0 1,0 5,0a2.5,2.5 0 1,0 -5,0M103.4,367a2.5,2.5 0 1,0 5,0a2.5,2.5 0 1,0 -5,0M104.8,361.5a2.5,2.5 0 1,0 5,0a2.5,2.5 0 1,0 -5,0M107.5,362.3a2.5,2.5 0 1,0 5,0a2.5,2.5 0 1,0 -5,0M110.9,361.2a2.5,2.5 0 1,0 5,0a2.5,2.5 0 1,0 -5,0M114,363.9a2.5,2.5 0 1,0 5,0a2.5,2.5 0 1,0 -5,0M114.9,364.2a2.5,2.5 0 1,0 5,0a2.5,2.5 0 1,0 -5,0M118.3,364.4a2.5,2.5 0 1,0 5,0a2.5,2.5 0 1,0 -5,0M121.7,360.1a2.5,2.5 0 1,0 5,0a2.5,2.5 0 1,0 -5,0M124,363.6a2.5,2.5 0 1,0 5,0a2.5,2.5 0 1,0 -5,0M125.8,357.7a2.5,2.5 0 1,0 5,0a2.5,2.5 0 1,0 -5,0M129.9,359.8a2.5,2.5 0 1,0 5,0a2.5,2.5 0 1,0 -5,0M130.9,360.2a2.5,2.5 0 1,0 5,0a2.5,2.5 0 1,0 -5,0M133.9,362.6a2.5,2.5 0 1,0 5,0a2.5,2.5 0 1,0 -5,0M137.5,355.8a2.5,2.5 0 1,0 5,0a2.5,2.5 0 1,0 -5,0M139.8,352.4a2.5,2.5 0 1,0 5,0a2.5,2.5 0 1,0 -5,0M141.3,358.5a2.5,2.5 0 1,0 5,0a2.5,2.5 0 1,0 -5,0M144.3,355a2.5,2.5 0 1,0 5,0a2.5,2.5 0 1,0 -5,0M147.5,361.3a2.5,2.5 0 1,0 5,0a2.5,2.5 0 1,0 -5,0M150,356.9a2.5,2.5 0 1,0 5,0a2.5,2.5 0 1,0 -5,0M154,360.7a2.5,2.5 0 1,0 5,0a2.5,2.5 0 1,0 -5,0M154.9,356.2a2.5,2.5 0 1,0 5,0a2.5,2.5 0 1,0 -5,0M159.1,356.8a2.5,2.5 0 1,0 5,0a2.5,2.5 0 1,0 -5,0M161.8,352.2a2.5,2.5 0 1,0 5,0a2.5,2.5 0 1,0 -5,0M163.3,353.5a2.5,2.5 0 1,0 5,0a2.5,2.5 0 1,0 -5,0M166.7,358.8a2.5,2.5 0 1,0 5,0a2.5,2.5 0 1,0 -5,0M168.5,352.9a2.5,2.5 0 1,0 5,0a2.5,2.5 0 1,0 -5,0M171.1,351.1a2.5,2.5 0 1,0 5,0a2.5,2.5 0 1,0 -5,0M173.3,358.6a2.5,2.5 0 1,0 5,0a2.5,2.5 0 1,0 -5,0M175.2,353.1a2.5,2.5 0 1,0 5,0a2.5,2.5 0 1,0 -5,0M177.9,355.8a2.5,2.5 0 1,0 5,0a2.5,2.5 0 1,0 -5,0M182.2,340.8a2.5,2.5 0 1,0 5,0a2.5,2.5 0 1,0 -5,0M183.2,348.6a2.5,2.5 0 1,0 5,0a2.5,2.5 0 1,0 -5,0M186.4,344.3a2.5,2.5 0 1,0 5,0a2.5,2.5 0 1,0 -5,0M189.2,344.4a2.5,2.5 0 1,0 5,0a2.5,2.5 0 1,0 -5,0M190.7,344a2.5,2.5 0 1,0 5,0a2.5,2.5 0 1,0 -5,0M193.4,339.1a2.5,2.5 0 1,0 5,0a2.5,2.5 0 1,0 -5,0M194.6,329.5a2.5,2.5 0 1,0 5,0a2.5,2.5 0 1,0 -5,0M196.6,339.7a2.5,2.5 0 1,0 5,0a2.5,2.5 0 1,0 -5,0M200.2,338a2.5,2.5 0 1,0 5,0a2.5,2.5 0 1,0 -5,0M200.3,335.8a2.5,2.5 0 1,0 5,0a2.5,2.5 0 1,0 -5,0M202.6,336.3a2.5,2.5 0 1,0 5,0a2.5,2.5 0 1,0 -5,0M205.5,332.4a2.5,2.5 0 1,0 5,0a2.5,2.5 0 1,0 -5,0M208.4,332a2.5,2.5 0 1,0 5,0a2.5,2.5 0 1,0 -5,0M210.7,322.8a2.5,2.5 0 1,0 5,0a2.5,2.5 0 1,0 -5,0M213,324.7a2.5,2.5 0 1,0 5,0a2.5,2.5 0 1,0 -5,0M216.5,329.6a2.5,2.5 0 1,0 5,0a2.5,2.5 0 1,0 -5,0M216.9,329.5a2.5,2.5 0 1,0 5,0a2.5,2.5 0 1,0 -5,0M220,329.7a2.5,2.5 0 1,0 5,0a2.5,2.5 0 1,0 -5,0M223,321.2a2.5,2.5 0 1,0 5,0a2.5,2.5 0 1,0 -5,0M224.5,326.5a2.5,2.5 0 1,0 5,0a2.5,2.5 0 1,0 -5,0M227.1,331.9a2.5,2.5 0 1,0 5,0a2.5,2.5 0 1,0 -5,0M230.6,330.3a2.5,2.5 0 1,0 5,0a2.5,2.5 0 1,0 -5,0M232.4,323.8a2.5,2.5 0 1,0 5,0a2.5,2.5 0 1,0 -5,0M235.2,321.2a2.5,2.5 0 1,0 5,0a2.5,2.5 0 1,0 -5,0M237.2,326.3a2.5,2.5 0 1,0 5,0a2.5,2.5 0 1,0 -5,0M239,334.4a2.5,2.5 0 1,0 5,0a2.5,2.5 0 1,0 -5,0M239.3,330.9a2.5,2.5 0 1,0 5,0a2.5,2.5 0 1,0 -5,0M240.3,333.2a2.5,2.5 0 1,0 5,0a2.5,2.5 0 1,0 -5,0M244,335.5a2.5,2.5 0 1,0 5,0a2.5,2.5 0 1,0 -5,0M245.3,337.2a2.5,2.5 0 1,0 5,0a2.5,2.5 0 1,0 -5,0M249.2,335.7a2.5,2.5 0 1,0 5,0a2.5,2.5 0 1,0 -5,0M251.1,333.8a2.5,2.5 0 1,0 5,0a2.5,2.5 0 1,0 -5,0M253,332.7a2.5,2.5 0 1,0 5,0a2.5,2.5 0 1,0 -5,0M255.2,335.6a2.5,2.5 0 1,0 5,0a2.5,2.5 0 1,0 -5,0M258.5,336.7a2.5,2.5 0 1,0 5,0a2.5,2.5 0 1,0 -5,0M262,332.3a2.5,2.5 0 1,0 5,0a2.5,2.5 0 1,0 -5,0" stroke="#ff3c3c" stroke-width="0.8" fill="none"/>
<path d="M55,382 55.5,381.8 56,381.6 56.5,381.4 57,381.2 57.5,381.1 58,380.9 58.5,380.7 59,380.5 59.5,380.3 60,380.2 60.5,380 61,379.8 61.5,379.6 62,379.4 62.5,379.3 63,379.1 63.5,378.9 64,378.7 64.5,378.6 65,378.4 65.5,378.2 66,378 66.5,377.8 67,377.7 67.5,377.5 68,377.3 68.5,377.1 69,376.9 69.5,376.8 70,376.6 70.5,376.4 71,376.2 71.5,376 72,375.9 72.5,375.7 73,375.5 73.5,375.3 74,375.1 74.5,375 75,374.8 75.5,374.6 76,374.4 76.5,374.3 77,374.1 77.5,373.9 78,373.7 78.5,373.5 79,373.4 79.5,373.2 80,373 80.5,372.8 81,372.6 81.5,372.5 82,372.3 82.5,372.1 83,371.9 83.5,371.7 84,371.6 84.5,371.4 85,371.2 85.5,371 86,370.8 86.5,370.7 87,370.5 87.5,370.3 88,370.1 88.5,369.9 89,369.8 89.5,369.6 90,369.4 90.5,369.2 91,369 91.5,368.9 92,368.7 92.5,368.5 93,368.3 93.5,368.1 94,368 94.5,367.8 95,367.6 95.5,367.4 96,367.2 96.5,367.1 97,366.9 97.5,366.7 98,366.5 98.5,366.3 99,366.2 99.5,366 100,365.8 100.5,365.6 101,365.4 101.5,365.3 102,365.1 102.5,364.9 103,364.7 103.5,364.5 104,364.4 104.5,364.2 105,364 105.5,363.8 106,363.6 106.5,363.5 107,363.3 107.5,363.1 108,362.9 108.5,362.7 109,362.6 109.5,362.4 110,362.2 110.5,362.2 111,362.2 111.5,362.2 112,362.1 112.5,362.1 113,362.1 113.5,362.1 114,362.1 114.5,362.1 115,362 115.5,362 116,362 116.5,362 117,362 117.5,362 118,361.9 118.5,361.9 119,361.9 119.5,361.9 120,361.9 120.5,361.9 121,361.8 121.5,361.8 122,361.8 122.5,361.8 123,361.8 123.5,361.8 124,361.8 124.5,361.7 125,361.7 125.5,361.7 126,361.7 126.5,361.7 127,361.7 127.5,361.6 128,361.6 128.5,361.6 129,361.6 129.5,361.6 130,361.6 130.5,361.5 131,361.5 131.5,361.5 132,361.5 132.5,361.5 133,361.5 133.5,361.5 134,361.4 134.5,361.4 135,361.4 135.5,361.4 136,361.4 136.5,361.4 137,361.3 137.5,361.3 138,361.3 138.5,361.3 139,361.3 139.5,361.3 140,361.2 140.5,361.2 141,361.2 141.5,361.2 142,361.2 142.5,361.2 143,361.1 143.5,361.1 144,361.1 144.5,361.1 145,361.1 145.5,361.1 146,361.1 146.5,361 147,361 147.5,361 148,360.9 148.5,360.7 149,360.6 149.5,360.4 150,360.2 150.5,360.1 151,359.9 151.5,359.7 152,359.6 152.5,359.4 153,359.2 153.5,359.1 154,358.9 154.5,358.7 155,358.6 155.5,358.4 156,358.2 156.5,358.1 157,357.9 157.5,357.7 158,357.6 158.5,357.4 159,357.2 159.5,357.1 160,356.9 160.5,356.7 161,356.6 161.5,356.4 162,356.2 162.5,356.1 163,355.9 163.5,355.7 164,355.5 164.5,355.3 165,355.1 165.5,354.9 166,354.7 166.5,354.5 167,354.3 167.5,354.1 168,353.9 168.5,353.7 169,353.5 169.5,353.3 170,353.1 170.5,352.9 171,352.7 171.5,352.5 172,352.3 172.5,352.1 173,351.9 173.5,351.7 174,351.5 174.5,351.3 175,351.1 175.5,350.9 176,350.7 176.5,350.5 177,350.3 177.5,350.1 178,349.9 178.5,349.7 179,349.5 179.5,349.3 180,349.1 180.5,348.9 181,348.7 181.5,348.5 182,348.3 182.5,348.1 183,347.9 183.5,347.7 184,347.5 184.5,347.3 185,347.1 185.5,346.9 186,346.7 186.5,346.5 187,346.1 187.5,345.8 188,345.4 188.5,345.1 189,344.7 189.5,344.4 190,344 190.5,343.7 191,343.3 191.5,342.9 192,342.6 192.5,342.2 193,341.9 193.5,341.5 194,341.2 194.5,340.8 195,340.5 195.5,340.1 196,339.7 196.5,339.4 197,339 197.5,338.7 198,338.3 198.5,338 199,337.6 199.5,337.2 200,336.9 200.5,336.5 201,336.2 201.5,335.8 202,335.5 202.5,335.1 203,334.8 203.5,334.5 204,334.2 204.5,333.9 205,333.6 205.5,333.3 206,333 206.5,332.7 207,332.4 207.5,332.1 208,331.8 208.5,331.5 209,331.2 209.5,330.9 210,330.7 210.5,330.4 211,330.1 211.5,329.8 212,329.5 212.5,329.2 213,328.9 213.5,328.6 214,328.3 214.5,328 215,327.7 215.5,327.4 216,327.1 216.5,326.8 217,326.8 217.5,327 218,327.2 218.5,327.4 219,327.6 219.5,327.8 220,327.9 220.5,328.1 221,328.3 221.5,328.5 222,328.7 222.5,328.9 223,329.1 223.5,329.3 224,329.4 224.5,329.6 225,329.8 225.5,330 226,330.2 226.5,329.9 227,329.5 227.5,329.2 228,328.9 228.5,328.6 229,328.2 229.5,327.9 230,327.6 230.5,327.2 231,326.9 231.5,326.6 232,326.3 232.5,325.9 233,325.6 233.5,325.3 234,324.9 234.5,324.6 235,324.3 235.5,324 236,323.6 236.5,323.3 237,324 237.5,324.7 238,325.4 238.5,326.1 239,326.8 239.5,327.5 240,328.3 240.5,329 241,329.7 241.5,330.4 242,331.1 242.5,331.8 243,332.5 243.5,333.2 244,333.9 244.5,334.6 245,335.1 245.5,335.5 246,335.9 246.5,336.3 247,336.6 247.5,337 248,337.4 248.5,337.8 249,338.1 249.5,338.5 250,338.9 250.5,339.3 251,339.6 251.5,340 252,340.4 252.5,340.8 253,341.1 253.5,341.5 254,341.9 254.5,342 255,342.1 255.5,342.1 256,342.2 256.5,342.3 257,342.4 257.5,342.4 258,342.5 258.5,342.6 259,342.7 259.5,342.8 260,342.8 260.5,342.9 261,343" stroke="#303030" stroke-width="0.9" fill="none" stroke-linejoin="round"/>
<path d="M98,378.6 98.5,378.5 99,378.3 99.5,378.2 100,378 100.5,377.9 101,377.8 101.5,377.6 102,377.5 102.5,377.4 103,377.2 103.5,377 104,376.8 104.5,376.5 105,376.2 105.5,376 106,375.7 106.5,375.4 107,375.1 107.5,374.9 108,374.6 108.5,374.5 109,374.3 109.5,374.2 110,374 110.5,373.9 111,373.8 111.5,373.6 112,373.5 112.5,373.4 113,373.5 113.5,373.7 114,373.8 114.5,373.9 115,374 115.5,374.1 116,374.2 116.5,374.3 117,374.4 117.5,374.5 118,374.6 118.5,374.6 119,374.7 119.5,374.7 120,374.8 120.5,374.8 121,374.9 121.5,374.9 122,375 122.5,375 123,375.1 123.5,375.1 124,374.9 124.5,374.8 125,374.7 125.5,374.6 126,374.5 126.5,374.4 127,374.3 127.5,374.2 128,374.1 128.5,373.9 129,373.8 129.5,373.7 130,373.6 130.5,373.5 131,373.4 131.5,373.3 132,373.2 132.5,373.1 133,373 133.5,372.8 134,372.7 134.5,372.6 135,372.5 135.5,372.4 136,372.3 136.5,372.2 137,372.1 137.5,372 138,371.8 138.5,371.7 139,371.6 139.5,371.5 140,371.4 140.5,371.3 141,371.2 141.5,371.1 142,371 142.5,370.8 143,370.7 143.5,370.6 144,370.5 144.5,370.4 145,370.3 145.5,370.2 146,370.1 146.5,370 147,369.8 147.5,369.7 148,369.6 148.5,369.5 149,369.4 149.5,369.3 150,369.2 150.5,369.1 151,369 151.5,368.9 152,368.7 152.5,368.6 153,368.5 153.5,368.4 154,368.3 154.5,368.2 155,368.1 155.5,368 156,367.9 156.5,367.7 157,367.6 157.5,367.5 158,367.4 158.5,367.3 159,367.2 159.5,367.1 160,367 160.5,366.9 161,366.7 161.5,366.6 162,366.5 162.5,366.4 163,366.3 163.5,366.2 164,366.1 164.5,366 165,365.9 165.5,365.8 166,365.6 166.5,365.5 167,365.4 167.5,365.3 168,365.2 168.5,365.1 169,365 169.5,364.9 170,364.8 170.5,364.6 171,364.5 171.5,364.4 172,364.3 172.5,364.2 173,364.1 173.5,364 174,363.9 174.5,363.8 175,363.6 175.5,363.5 176,363.4 176.5,363.3 177,363.2 177.5,363.1 178,363 178.5,362.9 179,362.8 179.5,362.7 180,362.5 180.5,362.4 181,362.3 181.5,362.2 182,362.1 182.5,362 183,361.9 183.5,361.8 184,361.7 184.5,361.5 185,361.4 185.5,361.3 186,361.2 186.5,361.1 187,361 187.5,360.9 188,360.8 188.5,360.7 189,360.5 189.5,360.4 190,360.3 190.5,360.2 191,360.1 191.5,360 192,359.9 192.5,359.8 193,359.7 193.5,359.6 194,359.4 194.5,359.3 195,359.2 195.5,359.1 196,359 196.5,358.9 197,358.8 197.5,358.7 198,358.6 198.5,358.4 199,358.3 199.5,358.2 200,358.1 200.5,358 201,357.9 201.5,357.8 202,357.7 202.5,357.6 203,357.4 203.5,357.3 204,357.2 204.5,357.1 205,357 205.5,356.9 206,356.8 206.5,356.7 207,356.6 207.5,356.4 208,356.3 208.5,356.2 209,356.1 209.5,356 210,355.9 210.5,355.8 211,355.7 211.5,355.6 212,355.5 212.5,355.3 213,355.2 213.5,355.1 214,355 214.5,354.9 215,354.8 215.5,354.7 216,354.6 216.5,354.5 217,354.3 217.5,354.2 218,354.1 218.5,354 219,353.9 219.5,353.8 220,353.7 220.5,353.6 221,353.5 221.5,353.3 222,353.2 222.5,353.1 223,353 223.5,352.9 224,352.8 224.5,352.7 225,352.6 225.5,352.5 226,352.4 226.5,352.2 227,352.1 227.5,352 228,351.9 228.5,351.8 229,351.7 229.5,351.6 230,351.5 230.5,351.4 231,351.2 231.5,351.1 232,351 232.5,350.9 233,350.8 233.5,350.7 234,350.6 234.5,350.5 235,350.4 235.5,350.2 236,350.1 236.5,350 237,349.9 237.5,349.8 238,349.7 238.5,349.6 239,349.5 239.5,349.4 240,349.3 240.5,349.1 241,349 241.5,348.9 242,348.8 242.5,348.7 243,348.6 243.5,348.5 244,348.4 244.5,348.3 245,348.1 245.5,348 246,347.9 246.5,347.8 247,347.7 247.5,347.6 248,347.5 248.5,347.4 249,347.3 249.5,347.1 250,347 250.5,346.9 251,346.8 251.5,346.7 252,346.6 252.5,346.5 253,346.4 253.5,346.3 254,346.2 254.5,346 255,345.9 255.5,345.8 256,345.7 256.5,345.6 257,345.5 257.5,345.4 258,345.3 258.5,345.2 259,345 259.5,344.9 260,344.8 260.5,344.7 261,344.6 261.5,344.6 262,344.6" stroke="#e030c8" stroke-width="0.8" fill="none" stroke-linejoin="round"/>
<path d="M55,389.1 55.5,388.9 56,388.8 56.5,388.7 57,388.5 57.5,388.4 58,388.2 58.5,388.1 59,388 59.5,387.8 60,387.7 60.5,387.5 61,387.4 61.5,387.2 62,387.1 62.5,387 63,386.8 63.5,386.7 64,386.5 64.5,386.4 65,386.3 65.5,386.1 66,386 66.5,385.8 67,385.7 67.5,385.5 68,385.4 68.5,385.3 69,385.1 69.5,385 70,384.8 70.5,384.7 71,384.6 71.5,384.4 72,384.3 72.5,384.1 73,384 73.5,383.8 74,383.7 74.5,383.6 75,383.4 75.5,383.3 76,383.1 76.5,383 77,382.9 77.5,382.7 78,382.6 78.5,382.4 79,382.3 79.5,382.1 80,382 80.5,381.9 81,381.7 81.5,381.6 82,381.4 82.5,381.3 83,381.2 83.5,381 84,380.9 84.5,380.8 85,380.6 85.5,380.5 86,380.3 86.5,380.2 87,380.1 87.5,379.9 88,379.8 88.5,379.6 89,379.5 89.5,379.4 90,379.2 90.5,379.1 91,378.9 91.5,378.8 92,378.7 92.5,378.5 93,378.4 93.5,378.2 94,378.1 94.5,378 95,377.8 95.5,377.7 96,377.6 96.5,377.4 97,377.3 97.5,377.1 98,377 98.5,376.9 99,376.7 99.5,376.6 100,376.4 100.5,376.3 101,376.2 101.5,376 102,375.9 102.5,375.8 103,375.6 103.5,375.4 104,375.2 104.5,374.9 105,374.6 105.5,374.4 106,374.1 106.5,373.8 107,373.5 107.5,373.3 108,373 108.5,372.9 109,372.7 109.5,372.6 110,372.4 110.5,372.3 111,372.2 111.5,372 112,371.9 112.5,371.8 113,371.9 113.5,372.1 114,372.2 114.5,372.3 115,372.4 115.5,372.5 116,372.6 116.5,372.7 117,372.8 117.5,372.9 118,373 118.5,373 119,373.1 119.5,373.1 120,373.2 120.5,373.2 121,373.3 121.5,373.3 122,373.4 122.5,373.4 123,373.5 123.5,373.5 124,373.3 124.5,373.2 125,373.1 125.5,373 126,372.9 126.5,372.8 127,372.7 127.5,372.6 128,372.5 128.5,372.3 129,372.2 129.5,372.1 130,372 130.5,371.9 131,371.8 131.5,371.7 132,371.6 132.5,371.5 133,371.4 133.5,371.2 134,371.1 134.5,371 135,370.9 135.5,370.8 136,370.7 136.5,370.6 137,370.5 137.5,370.4 138,370.2 138.5,370.1 139,370 139.5,369.9 140,369.8 140.5,369.7 141,369.6 141.5,369.5 142,369.4 142.5,369.2 143,369.1 143.5,369 144,368.9 144.5,368.8 145,368.7 145.5,368.6 146,368.5 146.5,368.4 147,368.2 147.5,368.1 148,368 148.5,367.9 149,367.8 149.5,367.7 150,367.6 150.5,367.5 151,367.4 151.5,367.3 152,367.1 152.5,367 153,366.9 153.5,366.8 154,366.7 154.5,366.6 155,366.5 155.5,366.4 156,366.3 156.5,366.1 157,366 157.5,365.9 158,365.8 158.5,365.7 159,365.6 159.5,365.5 160,365.4 160.5,365.3 161,365.1 161.5,365 162,364.9 162.5,364.8 163,364.7 163.5,364.6 164,364.5 164.5,364.4 165,364.3 165.5,364.2 166,364 166.5,363.9 167,363.8 167.5,363.7 168,363.6 168.5,363.5 169,363.4 169.5,363.3 170,363.2 170.5,363 171,362.9 171.5,362.8 172,362.7 172.5,362.6 173,362.5 173.5,362.4 174,362.3 174.5,362.2 175,362 175.5,361.9 176,361.8 176.5,361.7 177,361.6 177.5,361.5 178,361.4 178.5,361.3 179,361.2 179.5,361.1 180,360.9 180.5,360.8 181,360.7 181.5,360.6 182,360.5 182.5,360.4 183,360.3 183.5,360.2 184,360.1 184.5,359.9 185,359.8 185.5,359.7 186,359.6 186.5,359.5 187,359.4 187.5,359.3 188,359.2 188.5,359.1 189,358.9 189.5,358.8 190,358.7 190.5,358.6 191,358.5 191.5,358.4 192,358.3 192.5,358.2 193,358.1 193.5,358 194,357.8 194.5,357.7 195,357.6 195.5,357.5 196,357.4 196.5,357.3 197,357.2 197.5,357.1 198,357 198.5,356.8 199,356.7 199.5,356.6 200,356.5 200.5,356.4 201,356.3 201.5,356.2 202,356.1 202.5,356 203,355.8 203.5,355.7 204,355.6 204.5,355.5 205,355.4 205.5,355.3 206,355.2 206.5,355.1 207,355 207.5,354.8 208,354.7 208.5,354.6 209,354.5 209.5,354.4 210,354.3 210.5,354.2 211,354.1 211.5,354 212,353.9 212.5,353.7 213,353.6 213.5,353.5 214,353.4 214.5,353.3 215,353.2 215.5,353.1 216,353 216.5,352.9 217,352.7 217.5,352.6 218,352.5 218.5,352.4 219,352.3 219.5,352.2 220,352.1 220.5,352 221,351.9 221.5,351.7 222,351.6 222.5,351.5 223,351.4 223.5,351.3 224,351.2 224.5,351.1 225,351 225.5,350.9 226,350.8 226.5,350.6 227,350.5 227.5,350.4 228,350.3 228.5,350.2 229,350.1 229.5,350 230,349.9 230.5,349.8 231,349.6 231.5,349.5 232,349.4 232.5,349.3 233,349.2 233.5,349.1 234,349 234.5,348.9 235,348.8 235.5,348.6 236,348.5 236.5,348.4 237,348.3 237.5,348.2 238,348.1 238.5,348 239,347.9 239.5,347.8 240,347.7 240.5,347.5 241,347.4 241.5,347.3 242,347.2 242.5,347.1 243,347 243.5,346.9 244,346.8 244.5,346.7 245,346.5 245.5,346.4 246,346.3 246.5,346.2 247,346.1 247.5,346 248,345.9 248.5,345.8 249,345.7 249.5,345.5 250,345.4 250.5,345.3 251,345.2 251.5,345.1 252,345 252.5,344.9 253,344.8 253.5,344.7 254,344.6 254.5,344.4 255,344.3 255.5,344.2 256,344.1 256.5,344 257,343.9 257.5,343.8 258,343.7 258.5,343.6 259,343.4 259.5,343.3 260,343.2 260.5,343.1 261,343" stroke="#1e1ee0" stroke-width="1.7" fill="none" stroke-linejoin="round"/>
<line x1="28.6" y1="311.2" x2="47.1" y2="311.2" stroke="#f27a7a" stroke-width="1.0"/>
<path d="M37,311.2a1.8,1.8 0 1,0 3.6,0a1.8,1.8 0 1,0 -3.6,0" stroke="#ff3434" stroke-width="0.9" fill="none"/>
<text x="49.9" y="313.2" font-size="9.2" fill="#ff1c1c" stroke="#ff1c1c" stroke-width="0.42" text-anchor="start" font-weight="bold" textLength="44.9" lengthAdjust="spacingAndGlyphs">Co-CuS-2</text>
<text x="72.1" y="365.1" font-size="8.8" fill="#000" stroke="#000" stroke-width="0.42" text-anchor="start" font-weight="bold" textLength="15.7" lengthAdjust="spacingAndGlyphs">sat.</text>
<text x="101.2" y="351.2" font-size="8.8" fill="#000" stroke="#000" stroke-width="0.42" text-anchor="start" font-weight="bold" textLength="12.0" lengthAdjust="spacingAndGlyphs">Co</text>
<text x="113.3" y="346.7" font-size="4.8" fill="#000" stroke="#000" stroke-width="0.3" text-anchor="start" font-weight="bold" textLength="6.4" lengthAdjust="spacingAndGlyphs">2+</text>
<text x="127.3" y="344.7" font-size="8.8" fill="#000" stroke="#000" stroke-width="0.42" text-anchor="start" font-weight="bold" textLength="11.5" lengthAdjust="spacingAndGlyphs">Co</text>
<text x="139.1" y="341.0" font-size="4.8" fill="#000" stroke="#000" stroke-width="0.3" text-anchor="start" font-weight="bold" textLength="6.7" lengthAdjust="spacingAndGlyphs">3+</text>
<text x="185.6" y="333.7" font-size="8.8" fill="#000" stroke="#000" stroke-width="0.42" text-anchor="start" font-weight="bold" textLength="15.8" lengthAdjust="spacingAndGlyphs">sat.</text>
<text x="204.3" y="316.7" font-size="8.8" fill="#000" stroke="#000" stroke-width="0.42" text-anchor="start" font-weight="bold" textLength="12.8" lengthAdjust="spacingAndGlyphs">Co</text>
<text x="217.3" y="311.6" font-size="4.8" fill="#000" stroke="#000" stroke-width="0.3" text-anchor="start" font-weight="bold" textLength="5.4" lengthAdjust="spacingAndGlyphs">2+</text>
<text x="241.9" y="315.1" font-size="8.8" fill="#000" stroke="#000" stroke-width="0.42" text-anchor="start" font-weight="bold" textLength="12.5" lengthAdjust="spacingAndGlyphs">Co</text>
<text x="254.9" y="309.8" font-size="4.8" fill="#000" stroke="#000" stroke-width="0.3" text-anchor="start" font-weight="bold" textLength="7.1" lengthAdjust="spacingAndGlyphs">3+</text>
<line x1="109.0" y1="353.2" x2="110.9" y2="361.0" stroke="#000" stroke-width="0.8"/>
<path d="M111.3,362.5 109.5,360.3 111.9,359.8 Z" stroke="#000" stroke-width="0.3" fill="#000" stroke-linejoin="round"/>
<line x1="132.5" y1="347.2" x2="131.6" y2="354.0" stroke="#000" stroke-width="0.8"/>
<path d="M131.4,355.5 130.5,352.8 132.9,353.2 Z" stroke="#000" stroke-width="0.3" fill="#000" stroke-linejoin="round"/>
<line x1="213.3" y1="319.1" x2="217.2" y2="326.2" stroke="#000" stroke-width="0.8"/>
<path d="M217.9,327.5 215.6,325.9 217.8,324.7 Z" stroke="#000" stroke-width="0.3" fill="#000" stroke-linejoin="round"/>
<line x1="243.5" y1="319.8" x2="240.8" y2="323.8" stroke="#000" stroke-width="0.8"/>
<path d="M240,325 240.4,322.2 242.4,323.6 Z" stroke="#000" stroke-width="0.3" fill="#000" stroke-linejoin="round"/>
<rect x="300.3" y="220.9" width="239.7" height="174.5" stroke="#000" stroke-width="1.6" fill="none"/>
<line x1="300.4" y1="395.4" x2="300.4" y2="398.2" stroke="#000" stroke-width="1.1"/>
<text x="292.2" y="409.7" font-size="9.9" fill="#000" stroke="#000" stroke-width="0.42" text-anchor="start" font-weight="bold" textLength="16.5" lengthAdjust="spacingAndGlyphs">172</text>
<line x1="316.5" y1="395.4" x2="316.5" y2="397.3" stroke="#000" stroke-width="1.1"/>
<line x1="332.6" y1="395.4" x2="332.6" y2="398.2" stroke="#000" stroke-width="1.1"/>
<text x="324.3" y="409.7" font-size="9.9" fill="#000" stroke="#000" stroke-width="0.42" text-anchor="start" font-weight="bold" textLength="16.5" lengthAdjust="spacingAndGlyphs">170</text>
<line x1="348.6" y1="395.4" x2="348.6" y2="397.3" stroke="#000" stroke-width="1.1"/>
<line x1="364.7" y1="395.4" x2="364.7" y2="398.2" stroke="#000" stroke-width="1.1"/>
<text x="356.5" y="409.7" font-size="9.9" fill="#000" stroke="#000" stroke-width="0.42" text-anchor="start" font-weight="bold" textLength="16.5" lengthAdjust="spacingAndGlyphs">168</text>
<line x1="380.8" y1="395.4" x2="380.8" y2="397.3" stroke="#000" stroke-width="1.1"/>
<line x1="396.9" y1="395.4" x2="396.9" y2="398.2" stroke="#000" stroke-width="1.1"/>
<text x="388.6" y="409.7" font-size="9.9" fill="#000" stroke="#000" stroke-width="0.42" text-anchor="start" font-weight="bold" textLength="16.5" lengthAdjust="spacingAndGlyphs">166</text>
<line x1="413.0" y1="395.4" x2="413.0" y2="397.3" stroke="#000" stroke-width="1.1"/>
<line x1="429.0" y1="395.4" x2="429.0" y2="398.2" stroke="#000" stroke-width="1.1"/>
<text x="420.8" y="409.7" font-size="9.9" fill="#000" stroke="#000" stroke-width="0.42" text-anchor="start" font-weight="bold" textLength="16.5" lengthAdjust="spacingAndGlyphs">164</text>
<line x1="445.1" y1="395.4" x2="445.1" y2="397.3" stroke="#000" stroke-width="1.1"/>
<line x1="461.2" y1="395.4" x2="461.2" y2="398.2" stroke="#000" stroke-width="1.1"/>
<text x="453.0" y="409.7" font-size="9.9" fill="#000" stroke="#000" stroke-width="0.42" text-anchor="start" font-weight="bold" textLength="16.5" lengthAdjust="spacingAndGlyphs">162</text>
<line x1="477.3" y1="395.4" x2="477.3" y2="397.3" stroke="#000" stroke-width="1.1"/>
<line x1="493.4" y1="395.4" x2="493.4" y2="398.2" stroke="#000" stroke-width="1.1"/>
<text x="485.1" y="409.7" font-size="9.9" fill="#000" stroke="#000" stroke-width="0.42" text-anchor="start" font-weight="bold" textLength="16.5" lengthAdjust="spacingAndGlyphs">160</text>
<line x1="509.4" y1="395.4" x2="509.4" y2="397.3" stroke="#000" stroke-width="1.1"/>
<line x1="525.5" y1="395.4" x2="525.5" y2="398.2" stroke="#000" stroke-width="1.1"/>
<text x="517.3" y="409.7" font-size="9.9" fill="#000" stroke="#000" stroke-width="0.42" text-anchor="start" font-weight="bold" textLength="16.5" lengthAdjust="spacingAndGlyphs">158</text>
<text x="274.4" y="222.8" font-size="15.2" fill="#000" stroke="#000" stroke-width="0.35" text-anchor="start" font-weight="bold" textLength="20.3" lengthAdjust="spacingAndGlyphs">(d)</text>
<text x="359.0" y="423.4" font-size="11.8" fill="#000" stroke="#000" stroke-width="0.3" text-anchor="start" font-weight="bold" textLength="122.6" lengthAdjust="spacingAndGlyphs">Binding energy (eV)</text>
<text transform="translate(292.2,311.7) rotate(-90)" x="0" y="0" font-size="12.3" fill="#000" stroke="#000" stroke-width="0.42" text-anchor="middle" font-weight="bold" textLength="88.9" lengthAdjust="spacingAndGlyphs">Intensity (a.u.)</text>
<path d="M404,283 404.5,283 405,283 405.5,283 406,283 406.5,283 407,283 407.5,283 408,283 408.5,283 409,283 409.5,283 410,283 410.5,283 411,283 411.5,283 412,283 412.5,283 413,282.9 413.5,282.9 414,282.9 414.5,282.9 415,282.9 415.5,282.9 416,282.9 416.5,282.9 417,282.9 417.5,282.9 418,282.9 418.5,282.9 419,282.9 419.5,282.8 420,282.8 420.5,282.8 421,282.8 421.5,282.8 422,282.8 422.5,282.8 423,282.7 423.5,282.7 424,282.7 424.5,282.7 425,282.7 425.5,282.6 426,282.6 426.5,282.6 427,282.5 427.5,282.5 428,282.5 428.5,282.4 429,282.4 429.5,282.4 430,282.3 430.5,282.3 431,282.2 431.5,282.1 432,282.1 432.5,282 433,281.9 433.5,281.8 434,281.8 434.5,281.6 435,281.5 435.5,281.4 436,281.3 436.5,281.1 437,280.9 437.5,280.7 438,280.5 438.5,280.2 439,280 439.5,279.7 440,279.3 440.5,278.9 441,278.5 441.5,278 442,277.5 442.5,277 443,276.4 443.5,275.7 444,275 444.5,274.3 445,273.5 445.5,272.7 446,271.8 446.5,270.9 447,269.9 447.5,268.9 448,267.9 448.5,266.9 449,266 449.5,265 450,264.1 450.5,263.3 451,262.5 451.5,261.9 452,261.4 452.5,261.1 453,260.9 453.5,261 454,261.2 454.5,261.5 455,262 455.5,262.7 456,263.5 456.5,264.3 457,265.3 457.5,266.3 458,267.3 458.5,268.3 459,269.3 459.5,270.3 460,271.2 460.5,272.1 461,273 461.5,273.9 462,274.7 462.5,275.4 463,276.1 463.5,276.8 464,277.4 464.5,277.9 465,278.4 465.5,278.9 466,279.3 466.5,279.7 467,280.1 467.5,280.4 468,280.7 468.5,280.9 469,281.2 469.5,281.4 470,281.5 470.5,281.7 471,281.9 471.5,282 472,282.1 472.5,282.3 473,282.4 473.5,282.5 474,282.5 474.5,282.6 475,282.7 475.5,282.8 476,282.8 476.5,282.9 477,283 477.5,283 478,283.1 478.5,283.1 479,283.2 479.5,283.2 480,283.2 480.5,283.3 481,283.3 481.5,283.4 482,283.4 482.5,283.4 483,283.5 483.5,283.5 484,283.5 484.5,283.6 485,283.6 485.5,283.6 486,283.6 486.5,283.7 487,283.7 487.5,283.7 488,283.7 488.5,283.8 489,283.8 489.5,283.8 490,283.8 490.5,283.8 491,283.9 491.5,283.9 492,283.9 492.5,283.9 493,283.9 493.5,284 494,284 494.5,284 495,284 495.5,284 496,284 496.5,284.1 497,284.1 497.5,284.1 498,284.1 498.5,284.1 499,284.1 499.5,284.1 500,284.2 500.5,284.2 501,284.2 501.5,284.2 502,284.2 502.5,284.2 503,284.2 503.5,284.2 504,284.3 504.5,284.3 505,284.3 505.5,284.3 506,284.3 506.5,284.3 507,284.3 507.5,284.3 508,284.3 508.5,284.4 509,284.4 509.5,284.4 510,284.4 510.5,284.4 511,284.4 511.5,284.4 512,284.4 512.5,284.4 513,284.4 513.5,284.5 514,284.5 514.5,284.5 515,284.5 515.5,284.5 516,284.5 516.5,284.5 517,284.5 517.5,284.5 518,284.5 518.5,284.6 519,284.6 519.5,284.6 520,284.6 520.5,284.6 521,284.6 521.5,284.6 522,284.6 522.5,284.6 523,284.6 523.5,284.6 524,284.6 524.5,284.7 525,284.7 525.5,284.7 526,284.7 526.5,284.7 527,284.7 527.5,284.7 528,284.7 528.5,284.7 529,284.7 529.5,284.7 530,284.7 530.5,284.8 531,284.8 531.5,284.8 532,284.8 532.5,284.8 533,284.8 533.5,284.8 534,284.8 534.5,284.8 535,284.8 535.5,284.8 536,284.8" stroke="#14a020" stroke-width="1.2" fill="none" stroke-linejoin="round"/>
<path d="M410,282.9 410.5,282.9 411,282.9 411.5,282.9 412,282.9 412.5,282.9 413,282.9 413.5,282.9 414,282.9 414.5,282.9 415,282.9 415.5,282.9 416,282.9 416.5,282.9 417,282.9 417.5,282.9 418,282.9 418.5,282.9 419,282.9 419.5,282.9 420,282.9 420.5,282.9 421,282.9 421.5,282.9 422,282.9 422.5,282.9 423,282.8 423.5,282.8 424,282.8 424.5,282.8 425,282.8 425.5,282.8 426,282.8 426.5,282.8 427,282.8 427.5,282.8 428,282.7 428.5,282.7 429,282.7 429.5,282.7 430,282.7 430.5,282.7 431,282.7 431.5,282.6 432,282.6 432.5,282.6 433,282.6 433.5,282.6 434,282.5 434.5,282.5 435,282.5 435.5,282.5 436,282.4 436.5,282.4 437,282.4 437.5,282.4 438,282.3 438.5,282.3 439,282.3 439.5,282.2 440,282.2 440.5,282.1 441,282.1 441.5,282.1 442,282 442.5,282 443,281.9 443.5,281.9 444,281.8 444.5,281.7 445,281.7 445.5,281.6 446,281.5 446.5,281.4 447,281.3 447.5,281.2 448,281.1 448.5,281 449,280.9 449.5,280.8 450,280.6 450.5,280.5 451,280.3 451.5,280.1 452,279.9 452.5,279.7 453,279.5 453.5,279.2 454,278.9 454.5,278.6 455,278.2 455.5,277.8 456,277.4 456.5,276.9 457,276.4 457.5,275.8 458,275.2 458.5,274.5 459,273.8 459.5,273 460,272.1 460.5,271.2 461,270.2 461.5,269.1 462,268 462.5,266.8 463,265.6 463.5,264.3 464,262.9 464.5,261.5 465,260.1 465.5,258.6 466,257.1 466.5,255.6 467,254 467.5,252.6 468,251.1 468.5,249.8 469,248.5 469.5,247.4 470,246.5 470.5,245.7 471,245.1 471.5,244.8 472,244.6 472.5,244.8 473,245.1 473.5,245.7 474,246.5 474.5,247.5 475,248.6 475.5,249.9 476,251.2 476.5,252.7 477,254.2 477.5,255.7 478,257.2 478.5,258.7 479,260.2 479.5,261.7 480,263.1 480.5,264.5 481,265.8 481.5,267.1 482,268.3 482.5,269.4 483,270.5 483.5,271.5 484,272.4 484.5,273.3 485,274.1 485.5,274.8 486,275.5 486.5,276.2 487,276.8 487.5,277.3 488,277.8 488.5,278.2 489,278.6 489.5,279 490,279.3 490.5,279.7 491,279.9 491.5,280.2 492,280.4 492.5,280.6 493,280.8 493.5,281 494,281.2 494.5,281.3 495,281.5 495.5,281.6 496,281.7 496.5,281.9 497,282 497.5,282.1 498,282.2 498.5,282.3 499,282.3 499.5,282.4 500,282.5 500.5,282.6 501,282.6 501.5,282.7 502,282.8 502.5,282.8 503,282.9 503.5,282.9 504,283 504.5,283 505,283.1 505.5,283.1 506,283.2 506.5,283.2 507,283.3 507.5,283.3 508,283.3 508.5,283.4 509,283.4 509.5,283.5 510,283.5 510.5,283.5 511,283.6 511.5,283.6 512,283.6 512.5,283.7 513,283.7 513.5,283.7 514,283.7 514.5,283.8 515,283.8 515.5,283.8 516,283.8 516.5,283.9 517,283.9 517.5,283.9 518,283.9 518.5,284 519,284 519.5,284 520,284 520.5,284 521,284.1 521.5,284.1 522,284.1 522.5,284.1 523,284.1 523.5,284.2 524,284.2 524.5,284.2 525,284.2 525.5,284.2 526,284.3 526.5,284.3 527,284.3 527.5,284.3 528,284.3 528.5,284.3 529,284.3 529.5,284.4 530,284.4 530.5,284.4 531,284.4 531.5,284.4 532,284.4 532.5,284.4 533,284.5 533.5,284.5 534,284.5 534.5,284.5 535,284.5 535.5,284.5 536,284.5" stroke="#ff20d0" stroke-width="1.2" fill="none" stroke-linejoin="round"/>
<path d="M388,283.1 388.5,283.1 389,283.1 389.5,283.1 390,283.1 390.5,283 391,283 391.5,283 392,283 392.5,283 393,283 393.5,283 394,283 394.5,283 395,283 395.5,283 396,283 396.5,282.9 397,282.9 397.5,282.9 398,282.9 398.5,282.9 399,282.8 399.5,282.8 400,282.8 400.5,282.8 401,282.7 401.5,282.7 402,282.7 402.5,282.6 403,282.6 403.5,282.5 404,282.5 404.5,282.4 405,282.4 405.5,282.3 406,282.3 406.5,282.2 407,282.1 407.5,282.1 408,282 408.5,281.9 409,281.8 409.5,281.8 410,281.7 410.5,281.6 411,281.5 411.5,281.4 412,281.3 412.5,281.2 413,281.1 413.5,281 414,280.9 414.5,280.9 415,280.7 415.5,280.6 416,280.5 416.5,280.4 417,280.3 417.5,280.2 418,280.1 418.5,280 419,279.9 419.5,279.8 420,279.7 420.5,279.7 421,279.6 421.5,279.5 422,279.4 422.5,279.3 423,279.2 423.5,279.1 424,279.1 424.5,279 425,278.9 425.5,278.9 426,278.8 426.5,278.8 427,278.8 427.5,278.7 428,278.7 428.5,278.7 429,278.6 429.5,278.6 430,278.6 430.5,278.6 431,278.6 431.5,278.7 432,278.7 432.5,278.7 433,278.7 433.5,278.8 434,278.8 434.5,278.9 435,278.9 435.5,279 436,279.1 436.5,279.1 437,279.2 437.5,279.3 438,279.4 438.5,279.5 439,279.6 439.5,279.7 440,279.8 440.5,279.9 441,280 441.5,280.1 442,280.2 442.5,280.3 443,280.4 443.5,280.5 444,280.6 444.5,280.8 445,280.9 445.5,281 446,281.1 446.5,281.2 447,281.3 447.5,281.4 448,281.5 448.5,281.6 449,281.8 449.5,281.9 450,282 450.5,282.1 451,282.2 451.5,282.3 452,282.3 452.5,282.4 453,282.5 453.5,282.6 454,282.7 454.5,282.8 455,282.8 455.5,282.9 456,283 456.5,283.1 457,283.1 457.5,283.2 458,283.2 458.5,283.3 459,283.3 459.5,283.4 460,283.4 460.5,283.5 461,283.5 461.5,283.6 462,283.6 462.5,283.7 463,283.7 463.5,283.7 464,283.8 464.5,283.8 465,283.8 465.5,283.8 466,283.9 466.5,283.9 467,283.9 467.5,283.9 468,284 468.5,284 469,284 469.5,284 470,284 470.5,284 471,284.1 471.5,284.1 472,284.1" stroke="#5050d0" stroke-width="0.8" fill="none" stroke-linejoin="round"/>
<path d="M302,282 302.5,282 303,282 303.5,282 304,282.1 304.5,282.1 305,282.1 305.5,282.1 306,282.1 306.5,282.1 307,282.1 307.5,282.1 308,282.1 308.5,282.1 309,282.1 309.5,282.1 310,282.1 310.5,282.1 311,282.1 311.5,282.1 312,282.1 312.5,282.2 313,282.2 313.5,282.2 314,282.2 314.5,282.2 315,282.2 315.5,282.2 316,282.2 316.5,282.2 317,282.2 317.5,282.2 318,282.2 318.5,282.2 319,282.2 319.5,282.2 320,282.2 320.5,282.3 321,282.3 321.5,282.3 322,282.3 322.5,282.3 323,282.3 323.5,282.3 324,282.3 324.5,282.3 325,282.3 325.5,282.3 326,282.3 326.5,282.3 327,282.3 327.5,282.3 328,282.4 328.5,282.4 329,282.4 329.5,282.4 330,282.4 330.5,282.4 331,282.4 331.5,282.4 332,282.4 332.5,282.4 333,282.4 333.5,282.4 334,282.4 334.5,282.4 335,282.4 335.5,282.4 336,282.4 336.5,282.5 337,282.5 337.5,282.5 338,282.5 338.5,282.5 339,282.5 339.5,282.5 340,282.5 340.5,282.5 341,282.5 341.5,282.5 342,282.5 342.5,282.5 343,282.5 343.5,282.5 344,282.6 344.5,282.6 345,282.6 345.5,282.6 346,282.6 346.5,282.6 347,282.6 347.5,282.6 348,282.6 348.5,282.6 349,282.6 349.5,282.6 350,282.6 350.5,282.6 351,282.6 351.5,282.6 352,282.6 352.5,282.7 353,282.7 353.5,282.7 354,282.7 354.5,282.7 355,282.7 355.5,282.7 356,282.7 356.5,282.7 357,282.7 357.5,282.7 358,282.7 358.5,282.7 359,282.7 359.5,282.7 360,282.8 360.5,282.8 361,282.8 361.5,282.8 362,282.8 362.5,282.8 363,282.8 363.5,282.8 364,282.8 364.5,282.8 365,282.8 365.5,282.8 366,282.8 366.5,282.8 367,282.8 367.5,282.8 368,282.9 368.5,282.9 369,282.9 369.5,282.9 370,282.9 370.5,282.9 371,282.9 371.5,282.9 372,282.9 372.5,282.9 373,282.9 373.5,282.9 374,282.9 374.5,282.9 375,282.9 375.5,282.9 376,282.9 376.5,283 377,283 377.5,283 378,283 378.5,283 379,283 379.5,283 380,283 380.5,283 381,283 381.5,283 382,283 382.5,283 383,283 383.5,283 384,283.1 384.5,283.1 385,283.1 385.5,283.1 386,283.1 386.5,283.1 387,283.1 387.5,283.1 388,283.1 388.5,283.1 389,283.1 389.5,283.1 390,283.1 390.5,283.1 391,283.1 391.5,283.1 392,283.1 392.5,283.2 393,283.2 393.5,283.2 394,283.2 394.5,283.2 395,283.2 395.5,283.2 396,283.2 396.5,283.2 397,283.2 397.5,283.2 398,283.2 398.5,283.2 399,283.2 399.5,283.2 400,283.2 400.5,283.3 401,283.3 401.5,283.3 402,283.3 402.5,283.3 403,283.3 403.5,283.3 404,283.3 404.5,283.3 405,283.3 405.5,283.3 406,283.3 406.5,283.3 407,283.3 407.5,283.3 408,283.4 408.5,283.4 409,283.4 409.5,283.4 410,283.4 410.5,283.4 411,283.4 411.5,283.4 412,283.4 412.5,283.4 413,283.4 413.5,283.4 414,283.4 414.5,283.4 415,283.4 415.5,283.4 416,283.4 416.5,283.5 417,283.5 417.5,283.5 418,283.5 418.5,283.5 419,283.5 419.5,283.5 420,283.5 420.5,283.5 421,283.5 421.5,283.5 422,283.5 422.5,283.5 423,283.5 423.5,283.5 424,283.6 424.5,283.6 425,283.6 425.5,283.6 426,283.6 426.5,283.6 427,283.6 427.5,283.6 428,283.6 428.5,283.6 429,283.6 429.5,283.6 430,283.6 430.5,283.6 431,283.6 431.5,283.6 432,283.6 432.5,283.7 433,283.7 433.5,283.7 434,283.7 434.5,283.7 435,283.7 435.5,283.7 436,283.7 436.5,283.7 437,283.7 437.5,283.7 438,283.7 438.5,283.7 439,283.7 439.5,283.7 440,283.8 440.5,283.8 441,283.8 441.5,283.8 442,283.8 442.5,283.8 443,283.8 443.5,283.8 444,283.8 444.5,283.8 445,283.8 445.5,283.8 446,283.8 446.5,283.8 447,283.8 447.5,283.8 448,283.9 448.5,283.9 449,283.9 449.5,283.9 450,283.9 450.5,283.9 451,283.9 451.5,283.9 452,283.9 452.5,283.9 453,283.9 453.5,283.9 454,283.9 454.5,283.9 455,283.9 455.5,283.9 456,283.9 456.5,284 457,284 457.5,284 458,284 458.5,284 459,284 459.5,284 460,284 460.5,284 461,284 461.5,284 462,284 462.5,284 463,284 463.5,284 464,284.1 464.5,284.1 465,284.1 465.5,284.1 466,284.1 466.5,284.1 467,284.1 467.5,284.1 468,284.1 468.5,284.1 469,284.1 469.5,284.1 470,284.1 470.5,284.1 471,284.1 471.5,284.1 472,284.1 472.5,284.2 473,284.2 473.5,284.2 474,284.2 474.5,284.2 475,284.2 475.5,284.2 476,284.2 476.5,284.2 477,284.2 477.5,284.2 478,284.2 478.5,284.2 479,284.2 479.5,284.2 480,284.2 480.5,284.3 481,284.3 481.5,284.3 482,284.3 482.5,284.3 483,284.3 483.5,284.3 484,284.3 484.5,284.3 485,284.3 485.5,284.3 486,284.3 486.5,284.3 487,284.3 487.5,284.3 488,284.4 488.5,284.4 489,284.4 489.5,284.4 490,284.4 490.5,284.4 491,284.4 491.5,284.4 492,284.4 492.5,284.4 493,284.4 493.5,284.4 494,284.4 494.5,284.4 495,284.4 495.5,284.4 496,284.4 496.5,284.5 497,284.5 497.5,284.5 498,284.5 498.5,284.5 499,284.5 499.5,284.5 500,284.5 500.5,284.5 501,284.5 501.5,284.5 502,284.5 502.5,284.5 503,284.5 503.5,284.5 504,284.6 504.5,284.6 505,284.6 505.5,284.6 506,284.6 506.5,284.6 507,284.6 507.5,284.6 508,284.6 508.5,284.6 509,284.6 509.5,284.6 510,284.6 510.5,284.6 511,284.6 511.5,284.6 512,284.6 512.5,284.7 513,284.7 513.5,284.7 514,284.7 514.5,284.7 515,284.7 515.5,284.7 516,284.7 516.5,284.7 517,284.7 517.5,284.7 518,284.7 518.5,284.7 519,284.7 519.5,284.7 520,284.8 520.5,284.8 521,284.8 521.5,284.8 522,284.8 522.5,284.8 523,284.8 523.5,284.8 524,284.8 524.5,284.8 525,284.8 525.5,284.8 526,284.8 526.5,284.8 527,284.8 527.5,284.8 528,284.9 528.5,284.9 529,284.9 529.5,284.9 530,284.9 530.5,284.9 531,284.9 531.5,284.9 532,284.9 532.5,284.9 533,284.9 533.5,284.9 534,284.9 534.5,284.9 535,284.9 535.5,284.9 536,284.9 536.5,285" stroke="#9030e0" stroke-width="1.0" fill="none" stroke-linejoin="round"/>
<path d="M302,281.3 302.5,281.3 303,281.3 303.5,281.4 304,281.4 304.5,281.4 305,281.4 305.5,281.5 306,281.5 306.5,281.5 307,281.5 307.5,281.5 308,281.6 308.5,281.6 309,281.6 309.5,281.6 310,281.6 310.5,281.7 311,281.7 311.5,281.7 312,281.7 312.5,281.7 313,281.7 313.5,281.8 314,281.8 314.5,281.8 315,281.8 315.5,281.8 316,281.8 316.5,281.9 317,281.9 317.5,281.9 318,281.9 318.5,281.9 319,281.9 319.5,281.9 320,281.9 320.5,282 321,282 321.5,282 322,282 322.5,282 323,282 323.5,282 324,282 324.5,282 325,282 325.5,282 326,282 326.5,282.1 327,282.1 327.5,282.1 328,282.1 328.5,282.1 329,282.1 329.5,282 330,282 330.5,282 331,282 331.5,282 332,282 332.5,282 333,282 333.5,282 334,282 334.5,281.9 335,281.9 335.5,281.9 336,281.9 336.5,281.8 337,281.8 337.5,281.8 338,281.7 338.5,281.7 339,281.7 339.5,281.6 340,281.6 340.5,281.5 341,281.5 341.5,281.4 342,281.4 342.5,281.3 343,281.3 343.5,281.2 344,281.1 344.5,281.1 345,281 345.5,281 346,280.9 346.5,280.8 347,280.7 347.5,280.7 348,280.6 348.5,280.5 349,280.5 349.5,280.4 350,280.3 350.5,280.2 351,280.2 351.5,280.1 352,280 352.5,279.9 353,279.9 353.5,279.8 354,279.8 354.5,279.7 355,279.6 355.5,279.6 356,279.5 356.5,279.5 357,279.4 357.5,279.4 358,279.3 358.5,279.3 359,279.3 359.5,279.3 360,279.2 360.5,279.2 361,279.2 361.5,279.2 362,279.2 362.5,279.2 363,279.2 363.5,279.2 364,279.2 364.5,279.2 365,279.2 365.5,279.3 366,279.3 366.5,279.3 367,279.4 367.5,279.4 368,279.4 368.5,279.5 369,279.5 369.5,279.6 370,279.6 370.5,279.7 371,279.7 371.5,279.8 372,279.8 372.5,279.9 373,279.9 373.5,280 374,280.1 374.5,280.1 375,280.2 375.5,280.2 376,280.3 376.5,280.4 377,280.4 377.5,280.5 378,280.5 378.5,280.6 379,280.6 379.5,280.7 380,280.7 380.5,280.8 381,280.8 381.5,280.9 382,280.9 382.5,281 383,281 383.5,281 384,281 384.5,281.1 385,281.1 385.5,281.1 386,281.1 386.5,281.1 387,281.2 387.5,281.2 388,281.2 388.5,281.2 389,281.2 389.5,281.2 390,281.2 390.5,281.2 391,281.1 391.5,281.1 392,281.1 392.5,281.1 393,281 393.5,281 394,281 394.5,280.9 395,280.9 395.5,280.9 396,280.8 396.5,280.8 397,280.7 397.5,280.6 398,280.6 398.5,280.5 399,280.5 399.5,280.4 400,280.3 400.5,280.2 401,280.1 401.5,280.1 402,280 402.5,279.9 403,279.8 403.5,279.7 404,279.6 404.5,279.5 405,279.4 405.5,279.4 406,279.3 406.5,279.2 407,279.1 407.5,279 408,278.9 408.5,278.8 409,278.7 409.5,278.7 410,278.6 410.5,278.5 411,278.4 411.5,278.3 412,278.1 412.5,278 413,277.9 413.5,277.8 414,277.7 414.5,277.6 415,277.4 415.5,277.3 416,277.2 416.5,277.1 417,276.9 417.5,276.8 418,276.6 418.5,276.5 419,276.3 419.5,276.2 420,276 420.5,275.9 421,275.7 421.5,275.6 422,275.4 422.5,275.2 423,275.1 423.5,274.9 424,274.7 424.5,274.6 425,274.4 425.5,274.3 426,274.1 426.5,274 427,273.8 427.5,273.7 428,273.6 428.5,273.4 429,273.3 429.5,273.2 430,273.1 430.5,273 431,272.9 431.5,272.8 432,272.7 432.5,272.6 433,272.5 433.5,272.4 434,272.4 434.5,272.3 435,272.2 435.5,272.1 436,272 436.5,271.9 437,271.7 437.5,271.6 438,271.4 438.5,271.2 439,270.9 439.5,270.6 440,270.3 440.5,269.9 441,269.5 441.5,269.1 442,268.6 442.5,268 443,267.4 443.5,266.7 444,265.9 444.5,265 445,264.1 445.5,263.1 446,262 446.5,260.8 447,259.7 447.5,258.5 448,257.3 448.5,256.1 449,255 449.5,253.9 450,253 450.5,252.1 451,251.4 451.5,250.9 452,250.5 452.5,250.4 453,250.4 453.5,250.6 454,250.9 454.5,251.3 455,251.8 455.5,252.4 456,253.1 456.5,253.7 457,254.3 457.5,254.9 458,255.4 458.5,255.8 459,256.1 459.5,256.3 460,256.4 460.5,256.3 461,256.1 461.5,255.7 462,255.2 462.5,254.7 463,253.9 463.5,253.1 464,252.2 464.5,251.1 465,250 465.5,248.8 466,247.5 466.5,246.2 467,244.9 467.5,243.7 468,242.5 468.5,241.4 469,240.4 469.5,239.6 470,239 470.5,238.6 471,238.4 471.5,238.5 472,238.8 472.5,239.4 473,240.4 473.5,241.5 474,242.9 474.5,244.4 475,246 475.5,247.6 476,249.2 476.5,250.8 477,252.2 477.5,253.5 478,254.5 478.5,255.4 479,256.2 479.5,256.9 480,257.6 480.5,258.3 481,259 481.5,259.8 482,260.6 482.5,261.4 483,262.1 483.5,262.8 484,263.5 484.5,264 485,264.5 485.5,265 486,265.5 486.5,266 487,266.7 487.5,267.4 488,268.2 488.5,269.1 489,270 489.5,270.9 490,271.8 490.5,272.6 491,273.4 491.5,274.2 492,275 492.5,275.8 493,276.6 493.5,277.3 494,277.9 494.5,278.5 495,279 495.5,279.5 496,279.9 496.5,280.3 497,280.6 497.5,281 498,281.2 498.5,281.5 499,281.7 499.5,281.9 500,282.1 500.5,282.3 501,282.5 501.5,282.6 502,282.7 502.5,282.9 503,283 503.5,283.1 504,283.2 504.5,283.2 505,283.3 505.5,283.3 506,283.4 506.5,283.4 507,283.5 507.5,283.5 508,283.6 508.5,283.6 509,283.6 509.5,283.7 510,283.7 510.5,283.7 511,283.8 511.5,283.8 512,283.8 512.5,283.9 513,283.9 513.5,283.9 514,283.9 514.5,284 515,284 515.5,284 516,284.1 516.5,284.1 517,284.1 517.5,284.1 518,284.2 518.5,284.2 519,284.2 519.5,284.2 520,284.2 520.5,284.3 521,284.3 521.5,284.3 522,284.3 522.5,284.3 523,284.4 523.5,284.4 524,284.4 524.5,284.4 525,284.4 525.5,284.5 526,284.5 526.5,284.5 527,284.5 527.5,284.5 528,284.5 528.5,284.5 529,284.6 529.5,284.6 530,284.6 530.5,284.6 531,284.6 531.5,284.6 532,284.6 532.5,284.7 533,284.7 533.5,284.7 534,284.7 534.5,284.7 535,284.7 535.5,284.7 536,284.7 536.5,284.7" stroke="#ff5050" stroke-width="0.9" fill="none" stroke-linejoin="round"/>
<path d="M300.1,281.5a1.9,1.9 0 1,0 3.8,0a1.9,1.9 0 1,0 -3.8,0M301.9,281.1a1.9,1.9 0 1,0 3.8,0a1.9,1.9 0 1,0 -3.8,0M303.7,281.9a1.9,1.9 0 1,0 3.8,0a1.9,1.9 0 1,0 -3.8,0M305.5,281.3a1.9,1.9 0 1,0 3.8,0a1.9,1.9 0 1,0 -3.8,0M307.3,281.5a1.9,1.9 0 1,0 3.8,0a1.9,1.9 0 1,0 -3.8,0M309.1,281.7a1.9,1.9 0 1,0 3.8,0a1.9,1.9 0 1,0 -3.8,0M310.9,282.3a1.9,1.9 0 1,0 3.8,0a1.9,1.9 0 1,0 -3.8,0M312.7,282a1.9,1.9 0 1,0 3.8,0a1.9,1.9 0 1,0 -3.8,0M314.5,282.1a1.9,1.9 0 1,0 3.8,0a1.9,1.9 0 1,0 -3.8,0M316.3,282.1a1.9,1.9 0 1,0 3.8,0a1.9,1.9 0 1,0 -3.8,0M318.1,282.3a1.9,1.9 0 1,0 3.8,0a1.9,1.9 0 1,0 -3.8,0M319.9,282.3a1.9,1.9 0 1,0 3.8,0a1.9,1.9 0 1,0 -3.8,0M321.7,282.5a1.9,1.9 0 1,0 3.8,0a1.9,1.9 0 1,0 -3.8,0M323.5,282a1.9,1.9 0 1,0 3.8,0a1.9,1.9 0 1,0 -3.8,0M325.3,281.8a1.9,1.9 0 1,0 3.8,0a1.9,1.9 0 1,0 -3.8,0M327.1,282.3a1.9,1.9 0 1,0 3.8,0a1.9,1.9 0 1,0 -3.8,0M328.9,281.9a1.9,1.9 0 1,0 3.8,0a1.9,1.9 0 1,0 -3.8,0M330.7,281.8a1.9,1.9 0 1,0 3.8,0a1.9,1.9 0 1,0 -3.8,0M332.5,281.9a1.9,1.9 0 1,0 3.8,0a1.9,1.9 0 1,0 -3.8,0M334.3,281.7a1.9,1.9 0 1,0 3.8,0a1.9,1.9 0 1,0 -3.8,0M336.1,281.8a1.9,1.9 0 1,0 3.8,0a1.9,1.9 0 1,0 -3.8,0M337.9,281.2a1.9,1.9 0 1,0 3.8,0a1.9,1.9 0 1,0 -3.8,0M339.7,280.9a1.9,1.9 0 1,0 3.8,0a1.9,1.9 0 1,0 -3.8,0M341.5,281.6a1.9,1.9 0 1,0 3.8,0a1.9,1.9 0 1,0 -3.8,0M343.2,281.2a1.9,1.9 0 1,0 3.8,0a1.9,1.9 0 1,0 -3.8,0M345,280.8a1.9,1.9 0 1,0 3.8,0a1.9,1.9 0 1,0 -3.8,0M346.8,280.3a1.9,1.9 0 1,0 3.8,0a1.9,1.9 0 1,0 -3.8,0M348.6,280a1.9,1.9 0 1,0 3.8,0a1.9,1.9 0 1,0 -3.8,0M350.4,280.1a1.9,1.9 0 1,0 3.8,0a1.9,1.9 0 1,0 -3.8,0M352.2,279.5a1.9,1.9 0 1,0 3.8,0a1.9,1.9 0 1,0 -3.8,0M353.9,279.6a1.9,1.9 0 1,0 3.8,0a1.9,1.9 0 1,0 -3.8,0M355.7,279.3a1.9,1.9 0 1,0 3.8,0a1.9,1.9 0 1,0 -3.8,0M357.5,279.4a1.9,1.9 0 1,0 3.8,0a1.9,1.9 0 1,0 -3.8,0M359.3,279.4a1.9,1.9 0 1,0 3.8,0a1.9,1.9 0 1,0 -3.8,0M361.1,278.5a1.9,1.9 0 1,0 3.8,0a1.9,1.9 0 1,0 -3.8,0M362.9,279.4a1.9,1.9 0 1,0 3.8,0a1.9,1.9 0 1,0 -3.8,0M364.7,279a1.9,1.9 0 1,0 3.8,0a1.9,1.9 0 1,0 -3.8,0M366.5,279.7a1.9,1.9 0 1,0 3.8,0a1.9,1.9 0 1,0 -3.8,0M368.3,280a1.9,1.9 0 1,0 3.8,0a1.9,1.9 0 1,0 -3.8,0M370.1,279.9a1.9,1.9 0 1,0 3.8,0a1.9,1.9 0 1,0 -3.8,0M371.9,280a1.9,1.9 0 1,0 3.8,0a1.9,1.9 0 1,0 -3.8,0M373.7,280.3a1.9,1.9 0 1,0 3.8,0a1.9,1.9 0 1,0 -3.8,0M375.5,280.1a1.9,1.9 0 1,0 3.8,0a1.9,1.9 0 1,0 -3.8,0M377.3,280.6a1.9,1.9 0 1,0 3.8,0a1.9,1.9 0 1,0 -3.8,0M379,280.8a1.9,1.9 0 1,0 3.8,0a1.9,1.9 0 1,0 -3.8,0M380.8,281.5a1.9,1.9 0 1,0 3.8,0a1.9,1.9 0 1,0 -3.8,0M382.6,281a1.9,1.9 0 1,0 3.8,0a1.9,1.9 0 1,0 -3.8,0M384.4,281a1.9,1.9 0 1,0 3.8,0a1.9,1.9 0 1,0 -3.8,0M386.2,280.8a1.9,1.9 0 1,0 3.8,0a1.9,1.9 0 1,0 -3.8,0M388,281.4a1.9,1.9 0 1,0 3.8,0a1.9,1.9 0 1,0 -3.8,0M389.8,281.4a1.9,1.9 0 1,0 3.8,0a1.9,1.9 0 1,0 -3.8,0M391.6,281.1a1.9,1.9 0 1,0 3.8,0a1.9,1.9 0 1,0 -3.8,0M393.4,280.4a1.9,1.9 0 1,0 3.8,0a1.9,1.9 0 1,0 -3.8,0M395.2,281a1.9,1.9 0 1,0 3.8,0a1.9,1.9 0 1,0 -3.8,0M397,280.3a1.9,1.9 0 1,0 3.8,0a1.9,1.9 0 1,0 -3.8,0M398.8,280.2a1.9,1.9 0 1,0 3.8,0a1.9,1.9 0 1,0 -3.8,0M400.6,279.9a1.9,1.9 0 1,0 3.8,0a1.9,1.9 0 1,0 -3.8,0M402.3,279.6a1.9,1.9 0 1,0 3.8,0a1.9,1.9 0 1,0 -3.8,0M404.1,279.6a1.9,1.9 0 1,0 3.8,0a1.9,1.9 0 1,0 -3.8,0M405.9,278.8a1.9,1.9 0 1,0 3.8,0a1.9,1.9 0 1,0 -3.8,0M407.6,278.6a1.9,1.9 0 1,0 3.8,0a1.9,1.9 0 1,0 -3.8,0M409.4,278.1a1.9,1.9 0 1,0 3.8,0a1.9,1.9 0 1,0 -3.8,0M411.2,277.6a1.9,1.9 0 1,0 3.8,0a1.9,1.9 0 1,0 -3.8,0M412.9,278a1.9,1.9 0 1,0 3.8,0a1.9,1.9 0 1,0 -3.8,0M414.7,276.8a1.9,1.9 0 1,0 3.8,0a1.9,1.9 0 1,0 -3.8,0M416.4,276.1a1.9,1.9 0 1,0 3.8,0a1.9,1.9 0 1,0 -3.8,0M418.1,275.6a1.9,1.9 0 1,0 3.8,0a1.9,1.9 0 1,0 -3.8,0M419.8,275.4a1.9,1.9 0 1,0 3.8,0a1.9,1.9 0 1,0 -3.8,0M421.5,275.2a1.9,1.9 0 1,0 3.8,0a1.9,1.9 0 1,0 -3.8,0M423.3,274.6a1.9,1.9 0 1,0 3.8,0a1.9,1.9 0 1,0 -3.8,0M425,273.6a1.9,1.9 0 1,0 3.8,0a1.9,1.9 0 1,0 -3.8,0M426.7,273.4a1.9,1.9 0 1,0 3.8,0a1.9,1.9 0 1,0 -3.8,0M428.5,273.2a1.9,1.9 0 1,0 3.8,0a1.9,1.9 0 1,0 -3.8,0M430.2,272.6a1.9,1.9 0 1,0 3.8,0a1.9,1.9 0 1,0 -3.8,0M432,272.5a1.9,1.9 0 1,0 3.8,0a1.9,1.9 0 1,0 -3.8,0M433.8,271.4a1.9,1.9 0 1,0 3.8,0a1.9,1.9 0 1,0 -3.8,0M435.5,271.5a1.9,1.9 0 1,0 3.8,0a1.9,1.9 0 1,0 -3.8,0M437.2,270.7a1.9,1.9 0 1,0 3.8,0a1.9,1.9 0 1,0 -3.8,0M438.7,270a1.9,1.9 0 1,0 3.8,0a1.9,1.9 0 1,0 -3.8,0M440,268.9a1.9,1.9 0 1,0 3.8,0a1.9,1.9 0 1,0 -3.8,0M441.2,267.5a1.9,1.9 0 1,0 3.8,0a1.9,1.9 0 1,0 -3.8,0M442.2,265.5a1.9,1.9 0 1,0 3.8,0a1.9,1.9 0 1,0 -3.8,0M443,264.1a1.9,1.9 0 1,0 3.8,0a1.9,1.9 0 1,0 -3.8,0M443.8,262.6a1.9,1.9 0 1,0 3.8,0a1.9,1.9 0 1,0 -3.8,0M444.6,261.3a1.9,1.9 0 1,0 3.8,0a1.9,1.9 0 1,0 -3.8,0M445.3,259.5a1.9,1.9 0 1,0 3.8,0a1.9,1.9 0 1,0 -3.8,0M445.9,258a1.9,1.9 0 1,0 3.8,0a1.9,1.9 0 1,0 -3.8,0M446.7,255.8a1.9,1.9 0 1,0 3.8,0a1.9,1.9 0 1,0 -3.8,0M447.4,254.3a1.9,1.9 0 1,0 3.8,0a1.9,1.9 0 1,0 -3.8,0M448.2,252.6a1.9,1.9 0 1,0 3.8,0a1.9,1.9 0 1,0 -3.8,0M449.3,251.7a1.9,1.9 0 1,0 3.8,0a1.9,1.9 0 1,0 -3.8,0M450.8,250.1a1.9,1.9 0 1,0 3.8,0a1.9,1.9 0 1,0 -3.8,0M452.3,251.2a1.9,1.9 0 1,0 3.8,0a1.9,1.9 0 1,0 -3.8,0M453.6,252.9a1.9,1.9 0 1,0 3.8,0a1.9,1.9 0 1,0 -3.8,0M454.7,253.7a1.9,1.9 0 1,0 3.8,0a1.9,1.9 0 1,0 -3.8,0M455.9,255.1a1.9,1.9 0 1,0 3.8,0a1.9,1.9 0 1,0 -3.8,0M457.3,256.6a1.9,1.9 0 1,0 3.8,0a1.9,1.9 0 1,0 -3.8,0M459.1,255.8a1.9,1.9 0 1,0 3.8,0a1.9,1.9 0 1,0 -3.8,0M460.4,255a1.9,1.9 0 1,0 3.8,0a1.9,1.9 0 1,0 -3.8,0M461.4,253.2a1.9,1.9 0 1,0 3.8,0a1.9,1.9 0 1,0 -3.8,0M462.3,251.5a1.9,1.9 0 1,0 3.8,0a1.9,1.9 0 1,0 -3.8,0M463,250.2a1.9,1.9 0 1,0 3.8,0a1.9,1.9 0 1,0 -3.8,0M463.7,248.4a1.9,1.9 0 1,0 3.8,0a1.9,1.9 0 1,0 -3.8,0M464.4,246.9a1.9,1.9 0 1,0 3.8,0a1.9,1.9 0 1,0 -3.8,0M465,245.2a1.9,1.9 0 1,0 3.8,0a1.9,1.9 0 1,0 -3.8,0M465.7,244a1.9,1.9 0 1,0 3.8,0a1.9,1.9 0 1,0 -3.8,0M466.4,242.2a1.9,1.9 0 1,0 3.8,0a1.9,1.9 0 1,0 -3.8,0M467.2,240.1a1.9,1.9 0 1,0 3.8,0a1.9,1.9 0 1,0 -3.8,0M468.3,238.7a1.9,1.9 0 1,0 3.8,0a1.9,1.9 0 1,0 -3.8,0M469.9,238.6a1.9,1.9 0 1,0 3.8,0a1.9,1.9 0 1,0 -3.8,0M471,240.3a1.9,1.9 0 1,0 3.8,0a1.9,1.9 0 1,0 -3.8,0M471.7,241.5a1.9,1.9 0 1,0 3.8,0a1.9,1.9 0 1,0 -3.8,0M472.3,243.6a1.9,1.9 0 1,0 3.8,0a1.9,1.9 0 1,0 -3.8,0M472.8,245.3a1.9,1.9 0 1,0 3.8,0a1.9,1.9 0 1,0 -3.8,0M473.4,246.5a1.9,1.9 0 1,0 3.8,0a1.9,1.9 0 1,0 -3.8,0M473.9,248.3a1.9,1.9 0 1,0 3.8,0a1.9,1.9 0 1,0 -3.8,0M474.4,250.4a1.9,1.9 0 1,0 3.8,0a1.9,1.9 0 1,0 -3.8,0M475,251.8a1.9,1.9 0 1,0 3.8,0a1.9,1.9 0 1,0 -3.8,0M475.7,253.8a1.9,1.9 0 1,0 3.8,0a1.9,1.9 0 1,0 -3.8,0M476.5,254.8a1.9,1.9 0 1,0 3.8,0a1.9,1.9 0 1,0 -3.8,0M477.5,256.9a1.9,1.9 0 1,0 3.8,0a1.9,1.9 0 1,0 -3.8,0M478.6,258.8a1.9,1.9 0 1,0 3.8,0a1.9,1.9 0 1,0 -3.8,0M479.6,259.3a1.9,1.9 0 1,0 3.8,0a1.9,1.9 0 1,0 -3.8,0M480.5,261.1a1.9,1.9 0 1,0 3.8,0a1.9,1.9 0 1,0 -3.8,0M481.5,262.4a1.9,1.9 0 1,0 3.8,0a1.9,1.9 0 1,0 -3.8,0M482.7,264.5a1.9,1.9 0 1,0 3.8,0a1.9,1.9 0 1,0 -3.8,0M484,265.2a1.9,1.9 0 1,0 3.8,0a1.9,1.9 0 1,0 -3.8,0M485.2,266.6a1.9,1.9 0 1,0 3.8,0a1.9,1.9 0 1,0 -3.8,0M486.1,268.1a1.9,1.9 0 1,0 3.8,0a1.9,1.9 0 1,0 -3.8,0M487,270.1a1.9,1.9 0 1,0 3.8,0a1.9,1.9 0 1,0 -3.8,0M487.9,271.4a1.9,1.9 0 1,0 3.8,0a1.9,1.9 0 1,0 -3.8,0M488.8,272.6a1.9,1.9 0 1,0 3.8,0a1.9,1.9 0 1,0 -3.8,0M489.8,274.7a1.9,1.9 0 1,0 3.8,0a1.9,1.9 0 1,0 -3.8,0M490.7,276a1.9,1.9 0 1,0 3.8,0a1.9,1.9 0 1,0 -3.8,0M491.7,277.7a1.9,1.9 0 1,0 3.8,0a1.9,1.9 0 1,0 -3.8,0M492.9,278.9a1.9,1.9 0 1,0 3.8,0a1.9,1.9 0 1,0 -3.8,0M494.3,280a1.9,1.9 0 1,0 3.8,0a1.9,1.9 0 1,0 -3.8,0M495.7,281.2a1.9,1.9 0 1,0 3.8,0a1.9,1.9 0 1,0 -3.8,0M497.4,281.6a1.9,1.9 0 1,0 3.8,0a1.9,1.9 0 1,0 -3.8,0M499.1,282.5a1.9,1.9 0 1,0 3.8,0a1.9,1.9 0 1,0 -3.8,0M500.8,282.5a1.9,1.9 0 1,0 3.8,0a1.9,1.9 0 1,0 -3.8,0M502.6,283.2a1.9,1.9 0 1,0 3.8,0a1.9,1.9 0 1,0 -3.8,0M504.4,283.1a1.9,1.9 0 1,0 3.8,0a1.9,1.9 0 1,0 -3.8,0M506.2,283.8a1.9,1.9 0 1,0 3.8,0a1.9,1.9 0 1,0 -3.8,0M507.9,284a1.9,1.9 0 1,0 3.8,0a1.9,1.9 0 1,0 -3.8,0M509.7,284a1.9,1.9 0 1,0 3.8,0a1.9,1.9 0 1,0 -3.8,0M511.5,283.9a1.9,1.9 0 1,0 3.8,0a1.9,1.9 0 1,0 -3.8,0M513.3,283.9a1.9,1.9 0 1,0 3.8,0a1.9,1.9 0 1,0 -3.8,0M515.1,284.1a1.9,1.9 0 1,0 3.8,0a1.9,1.9 0 1,0 -3.8,0M516.9,284.1a1.9,1.9 0 1,0 3.8,0a1.9,1.9 0 1,0 -3.8,0M518.7,284.1a1.9,1.9 0 1,0 3.8,0a1.9,1.9 0 1,0 -3.8,0M520.5,284.5a1.9,1.9 0 1,0 3.8,0a1.9,1.9 0 1,0 -3.8,0M522.3,284.7a1.9,1.9 0 1,0 3.8,0a1.9,1.9 0 1,0 -3.8,0M524.1,284.8a1.9,1.9 0 1,0 3.8,0a1.9,1.9 0 1,0 -3.8,0M525.9,284.5a1.9,1.9 0 1,0 3.8,0a1.9,1.9 0 1,0 -3.8,0M527.7,284.6a1.9,1.9 0 1,0 3.8,0a1.9,1.9 0 1,0 -3.8,0M529.5,284.5a1.9,1.9 0 1,0 3.8,0a1.9,1.9 0 1,0 -3.8,0M531.3,284.5a1.9,1.9 0 1,0 3.8,0a1.9,1.9 0 1,0 -3.8,0M533.1,284.3a1.9,1.9 0 1,0 3.8,0a1.9,1.9 0 1,0 -3.8,0" stroke="#5a5a5a" stroke-width="0.75" fill="none"/>
<line x1="301.2" y1="228.3" x2="318.4" y2="228.3" stroke="#a0a0a0" stroke-width="1.0"/>
<path d="M308,228.3a1.5,1.5 0 1,0 3,0a1.5,1.5 0 1,0 -3,0" stroke="#808080" stroke-width="0.9" fill="none"/>
<text x="320.5" y="230.4" font-size="8.8" fill="#000" stroke="#000" stroke-width="0.42" text-anchor="start" font-weight="bold" textLength="19.6" lengthAdjust="spacingAndGlyphs">CuS</text>
<text x="355.9" y="273.8" font-size="8.8" fill="#000" stroke="#000" stroke-width="0.42" text-anchor="start" font-weight="bold" textLength="17.0" lengthAdjust="spacingAndGlyphs">Sat.</text>
<text x="437.1" y="242.2" font-size="8.8" fill="#000" stroke="#000" stroke-width="0.42" text-anchor="start" font-weight="bold" textLength="19.3" lengthAdjust="spacingAndGlyphs">S 2p</text>
<text x="457.1" y="245.4" font-size="5.4" fill="#000" stroke="#000" stroke-width="0.3" text-anchor="start" font-weight="bold" textLength="6.8" lengthAdjust="spacingAndGlyphs">1/2</text>
<text x="460.2" y="235.3" font-size="8.8" fill="#000" stroke="#000" stroke-width="0.42" text-anchor="start" font-weight="bold" textLength="19.3" lengthAdjust="spacingAndGlyphs">S 2p</text>
<text x="479.8" y="238.6" font-size="5.4" fill="#000" stroke="#000" stroke-width="0.3" text-anchor="start" font-weight="bold" textLength="7.0" lengthAdjust="spacingAndGlyphs">3/2</text>
<path d="M418,336.7 418.5,336.7 419,336.7 419.5,336.7 420,336.7 420.5,336.7 421,336.7 421.5,336.7 422,336.7 422.5,336.7 423,336.6 423.5,336.6 424,336.6 424.5,336.6 425,336.6 425.5,336.6 426,336.6 426.5,336.6 427,336.5 427.5,336.5 428,336.5 428.5,336.5 429,336.5 429.5,336.4 430,336.4 430.5,336.4 431,336.3 431.5,336.3 432,336.2 432.5,336.2 433,336.1 433.5,336 434,335.9 434.5,335.8 435,335.7 435.5,335.5 436,335.3 436.5,335.1 437,334.8 437.5,334.5 438,334.2 438.5,333.8 439,333.3 439.5,332.8 440,332.2 440.5,331.6 441,330.8 441.5,330 442,329.2 442.5,328.2 443,327.2 443.5,326.2 444,325 444.5,323.9 445,322.7 445.5,321.5 446,320.3 446.5,319.1 447,318 447.5,317 448,316 448.5,315.2 449,314.6 449.5,314.1 450,313.9 450.5,313.8 451,314 451.5,314.3 452,314.9 452.5,315.6 453,316.5 453.5,317.4 454,318.5 454.5,319.7 455,320.9 455.5,322.1 456,323.3 456.5,324.5 457,325.6 457.5,326.7 458,327.8 458.5,328.8 459,329.7 459.5,330.6 460,331.3 460.5,332.1 461,332.7 461.5,333.3 462,333.8 462.5,334.2 463,334.6 463.5,334.9 464,335.2 464.5,335.5 465,335.7 465.5,335.9 466,336 466.5,336.2 467,336.3 467.5,336.4 468,336.5 468.5,336.6 469,336.6 469.5,336.7 470,336.7 470.5,336.8 471,336.8 471.5,336.9 472,336.9 472.5,336.9 473,337 473.5,337 474,337 474.5,337.1 475,337.1 475.5,337.1 476,337.1 476.5,337.1 477,337.2 477.5,337.2 478,337.2 478.5,337.2 479,337.2 479.5,337.3 480,337.3 480.5,337.3 481,337.3 481.5,337.3 482,337.3 482.5,337.3 483,337.4 483.5,337.4 484,337.4 484.5,337.4 485,337.4 485.5,337.4 486,337.4 486.5,337.4 487,337.4 487.5,337.5 488,337.5" stroke="#14a020" stroke-width="1.2" fill="none" stroke-linejoin="round"/>
<path d="M418,335.9 418.5,335.9 419,335.9 419.5,335.9 420,335.9 420.5,335.8 421,335.8 421.5,335.8 422,335.8 422.5,335.8 423,335.7 423.5,335.7 424,335.7 424.5,335.7 425,335.6 425.5,335.6 426,335.6 426.5,335.6 427,335.5 427.5,335.5 428,335.5 428.5,335.4 429,335.4 429.5,335.4 430,335.3 430.5,335.3 431,335.3 431.5,335.2 432,335.2 432.5,335.1 433,335.1 433.5,335 434,335 434.5,334.9 435,334.8 435.5,334.8 436,334.7 436.5,334.6 437,334.5 437.5,334.4 438,334.3 438.5,334.2 439,334.1 439.5,334 440,333.9 440.5,333.8 441,333.6 441.5,333.5 442,333.3 442.5,333.1 443,332.9 443.5,332.7 444,332.5 444.5,332.2 445,332 445.5,331.7 446,331.4 446.5,331.1 447,330.8 447.5,330.4 448,330 448.5,329.6 449,329.2 449.5,328.7 450,328.2 450.5,327.7 451,327.2 451.5,326.6 452,326 452.5,325.4 453,324.7 453.5,324 454,323.3 454.5,322.5 455,321.7 455.5,320.9 456,320.1 456.5,319.2 457,318.3 457.5,317.4 458,316.4 458.5,315.5 459,314.5 459.5,313.5 460,312.5 460.5,311.5 461,310.5 461.5,309.5 462,308.5 462.5,307.5 463,306.5 463.5,305.6 464,304.7 464.5,303.8 465,303 465.5,302.2 466,301.5 466.5,300.9 467,300.3 467.5,299.9 468,299.5 468.5,299.2 469,299.1 469.5,299 470,299 470.5,299.2 471,299.4 471.5,299.8 472,300.2 472.5,300.7 473,301.3 473.5,302 474,302.7 474.5,303.6 475,304.4 475.5,305.3 476,306.3 476.5,307.2 477,308.2 477.5,309.2 478,310.2 478.5,311.3 479,312.3 479.5,313.3 480,314.3 480.5,315.3 481,316.3 481.5,317.2 482,318.2 482.5,319.1 483,320 483.5,320.9 484,321.7 484.5,322.5 485,323.3 485.5,324 486,324.7 486.5,325.4 487,326.1 487.5,326.7 488,327.3 488.5,327.9 489,328.4 489.5,328.9 490,329.4 490.5,329.9 491,330.3 491.5,330.7 492,331.1 492.5,331.4 493,331.8 493.5,332.1 494,332.4 494.5,332.6 495,332.9 495.5,333.1 496,333.4 496.5,333.6 497,333.8 497.5,333.9 498,334.1 498.5,334.3 499,334.4 499.5,334.6 500,334.7 500.5,334.8 501,334.9 501.5,335 502,335.1 502.5,335.2 503,335.3 503.5,335.4 504,335.5 504.5,335.6 505,335.6 505.5,335.7 506,335.8 506.5,335.8 507,335.9 507.5,336 508,336 508.5,336.1 509,336.1 509.5,336.2 510,336.2 510.5,336.2 511,336.3 511.5,336.3 512,336.4 512.5,336.4 513,336.5 513.5,336.5 514,336.5 514.5,336.6 515,336.6 515.5,336.6 516,336.7 516.5,336.7 517,336.7 517.5,336.7 518,336.8 518.5,336.8 519,336.8 519.5,336.9 520,336.9 520.5,336.9 521,336.9 521.5,337 522,337 522.5,337 523,337 523.5,337.1 524,337.1 524.5,337.1 525,337.1 525.5,337.1 526,337.2 526.5,337.2 527,337.2 527.5,337.2 528,337.2 528.5,337.3 529,337.3 529.5,337.3 530,337.3 530.5,337.3 531,337.3 531.5,337.4 532,337.4 532.5,337.4 533,337.4 533.5,337.4 534,337.4 534.5,337.5 535,337.5 535.5,337.5 536,337.5" stroke="#ff20d0" stroke-width="1.2" fill="none" stroke-linejoin="round"/>
<path d="M388,336.6 388.5,336.6 389,336.6 389.5,336.6 390,336.6 390.5,336.6 391,336.6 391.5,336.6 392,336.6 392.5,336.6 393,336.6 393.5,336.6 394,336.6 394.5,336.6 395,336.6 395.5,336.6 396,336.5 396.5,336.5 397,336.5 397.5,336.5 398,336.5 398.5,336.4 399,336.4 399.5,336.4 400,336.3 400.5,336.3 401,336.3 401.5,336.2 402,336.2 402.5,336.1 403,336.1 403.5,336 404,335.9 404.5,335.9 405,335.8 405.5,335.7 406,335.6 406.5,335.6 407,335.5 407.5,335.4 408,335.3 408.5,335.2 409,335.1 409.5,335 410,334.9 410.5,334.7 411,334.6 411.5,334.5 412,334.4 412.5,334.2 413,334.1 413.5,334 414,333.8 414.5,333.7 415,333.6 415.5,333.4 416,333.3 416.5,333.1 417,333 417.5,332.8 418,332.7 418.5,332.5 419,332.4 419.5,332.2 420,332.1 420.5,332 421,331.8 421.5,331.7 422,331.6 422.5,331.5 423,331.4 423.5,331.3 424,331.2 424.5,331.1 425,331 425.5,330.9 426,330.8 426.5,330.8 427,330.7 427.5,330.7 428,330.6 428.5,330.6 429,330.6 429.5,330.6 430,330.6 430.5,330.6 431,330.6 431.5,330.7 432,330.7 432.5,330.8 433,330.8 433.5,330.9 434,331 434.5,331.1 435,331.1 435.5,331.3 436,331.4 436.5,331.5 437,331.6 437.5,331.7 438,331.9 438.5,332 439,332.1 439.5,332.3 440,332.4 440.5,332.6 441,332.7 441.5,332.9 442,333 442.5,333.2 443,333.3 443.5,333.5 444,333.7 444.5,333.8 445,334 445.5,334.1 446,334.3 446.5,334.4 447,334.6 447.5,334.7 448,334.8 448.5,335 449,335.1 449.5,335.2 450,335.4 450.5,335.5 451,335.6 451.5,335.7 452,335.8 452.5,335.9 453,336 453.5,336.1 454,336.2 454.5,336.3 455,336.4 455.5,336.4 456,336.5 456.5,336.6 457,336.6 457.5,336.7 458,336.8 458.5,336.8 459,336.9 459.5,336.9 460,337 460.5,337 461,337 461.5,337.1 462,337.1 462.5,337.2 463,337.2 463.5,337.2 464,337.2 464.5,337.3 465,337.3 465.5,337.3 466,337.3 466.5,337.3 467,337.4 467.5,337.4 468,337.4 468.5,337.4 469,337.4 469.5,337.4 470,337.4" stroke="#c040e0" stroke-width="0.9" fill="none" stroke-linejoin="round"/>
<path d="M302,335.8 302.5,335.8 303,335.8 303.5,335.8 304,335.8 304.5,335.8 305,335.9 305.5,335.9 306,335.9 306.5,335.9 307,335.9 307.5,335.9 308,335.9 308.5,335.9 309,335.9 309.5,335.9 310,335.9 310.5,335.9 311,335.9 311.5,335.9 312,335.9 312.5,335.9 313,335.9 313.5,335.9 314,335.9 314.5,335.9 315,335.9 315.5,336 316,336 316.5,336 317,336 317.5,336 318,336 318.5,336 319,336 319.5,336 320,336 320.5,336 321,336 321.5,336 322,336 322.5,336 323,336 323.5,336 324,336 324.5,336 325,336.1 325.5,336.1 326,336.1 326.5,336.1 327,336.1 327.5,336.1 328,336.1 328.5,336.1 329,336.1 329.5,336.1 330,336.1 330.5,336.1 331,336.1 331.5,336.1 332,336.1 332.5,336.1 333,336.1 333.5,336.1 334,336.1 334.5,336.1 335,336.2 335.5,336.2 336,336.2 336.5,336.2 337,336.2 337.5,336.2 338,336.2 338.5,336.2 339,336.2 339.5,336.2 340,336.2 340.5,336.2 341,336.2 341.5,336.2 342,336.2 342.5,336.2 343,336.2 343.5,336.2 344,336.2 344.5,336.2 345,336.2 345.5,336.3 346,336.3 346.5,336.3 347,336.3 347.5,336.3 348,336.3 348.5,336.3 349,336.3 349.5,336.3 350,336.3 350.5,336.3 351,336.3 351.5,336.3 352,336.3 352.5,336.3 353,336.3 353.5,336.3 354,336.3 354.5,336.3 355,336.4 355.5,336.4 356,336.4 356.5,336.4 357,336.4 357.5,336.4 358,336.4 358.5,336.4 359,336.4 359.5,336.4 360,336.4 360.5,336.4 361,336.4 361.5,336.4 362,336.4 362.5,336.4 363,336.4 363.5,336.4 364,336.4 364.5,336.4 365,336.4 365.5,336.5 366,336.5 366.5,336.5 367,336.5 367.5,336.5 368,336.5 368.5,336.5 369,336.5 369.5,336.5 370,336.5 370.5,336.5 371,336.5 371.5,336.5 372,336.5 372.5,336.5 373,336.5 373.5,336.5 374,336.5 374.5,336.5 375,336.6 375.5,336.6 376,336.6 376.5,336.6 377,336.6 377.5,336.6 378,336.6 378.5,336.6 379,336.6 379.5,336.6 380,336.6 380.5,336.6 381,336.6 381.5,336.6 382,336.6 382.5,336.6 383,336.6 383.5,336.6 384,336.6 384.5,336.6 385,336.6 385.5,336.7 386,336.7 386.5,336.7 387,336.7 387.5,336.7 388,336.7 388.5,336.7 389,336.7 389.5,336.7 390,336.7 390.5,336.7 391,336.7 391.5,336.7 392,336.7 392.5,336.7 393,336.7 393.5,336.7 394,336.7 394.5,336.7 395,336.8 395.5,336.8 396,336.8 396.5,336.8 397,336.8 397.5,336.8 398,336.8 398.5,336.8 399,336.8 399.5,336.8 400,336.8 400.5,336.8 401,336.8 401.5,336.8 402,336.8 402.5,336.8 403,336.8 403.5,336.8 404,336.8 404.5,336.8 405,336.9 405.5,336.9 406,336.9 406.5,336.9 407,336.9 407.5,336.9 408,336.9 408.5,336.9 409,336.9 409.5,336.9 410,336.9 410.5,336.9 411,336.9 411.5,336.9 412,336.9 412.5,336.9 413,336.9 413.5,336.9 414,336.9 414.5,336.9 415,336.9 415.5,337 416,337 416.5,337 417,337 417.5,337 418,337 418.5,337 419,337 419.5,337 420,337 420.5,337 421,337 421.5,337 422,337 422.5,337 423,337 423.5,337 424,337 424.5,337 425,337.1 425.5,337.1 426,337.1 426.5,337.1 427,337.1 427.5,337.1 428,337.1 428.5,337.1 429,337.1 429.5,337.1 430,337.1 430.5,337.1 431,337.1 431.5,337.1 432,337.1 432.5,337.1 433,337.1 433.5,337.1 434,337.1 434.5,337.1 435,337.1 435.5,337.2 436,337.2 436.5,337.2 437,337.2 437.5,337.2 438,337.2 438.5,337.2 439,337.2 439.5,337.2 440,337.2 440.5,337.2 441,337.2 441.5,337.2 442,337.2 442.5,337.2 443,337.2 443.5,337.2 444,337.2 444.5,337.2 445,337.2 445.5,337.3 446,337.3 446.5,337.3 447,337.3 447.5,337.3 448,337.3 448.5,337.3 449,337.3 449.5,337.3 450,337.3 450.5,337.3 451,337.3 451.5,337.3 452,337.3 452.5,337.3 453,337.3 453.5,337.3 454,337.3 454.5,337.3 455,337.4 455.5,337.4 456,337.4 456.5,337.4 457,337.4 457.5,337.4 458,337.4 458.5,337.4 459,337.4 459.5,337.4 460,337.4 460.5,337.4 461,337.4 461.5,337.4 462,337.4 462.5,337.4 463,337.4 463.5,337.4 464,337.4 464.5,337.4 465,337.4 465.5,337.5 466,337.5 466.5,337.5 467,337.5 467.5,337.5 468,337.5 468.5,337.5 469,337.5 469.5,337.5 470,337.5 470.5,337.5 471,337.5 471.5,337.5 472,337.5 472.5,337.5 473,337.5 473.5,337.5 474,337.5 474.5,337.5 475,337.6 475.5,337.6 476,337.6 476.5,337.6 477,337.6 477.5,337.6 478,337.6 478.5,337.6 479,337.6 479.5,337.6 480,337.6 480.5,337.6 481,337.6 481.5,337.6 482,337.6 482.5,337.6 483,337.6 483.5,337.6 484,337.6 484.5,337.6 485,337.6 485.5,337.7 486,337.7 486.5,337.7 487,337.7 487.5,337.7 488,337.7 488.5,337.7 489,337.7 489.5,337.7 490,337.7 490.5,337.7 491,337.7 491.5,337.7 492,337.7 492.5,337.7 493,337.7 493.5,337.7 494,337.7 494.5,337.7 495,337.8 495.5,337.8 496,337.8 496.5,337.8 497,337.8 497.5,337.8 498,337.8 498.5,337.8 499,337.8 499.5,337.8 500,337.8 500.5,337.8 501,337.8 501.5,337.8 502,337.8 502.5,337.8 503,337.8 503.5,337.8 504,337.8 504.5,337.8 505,337.8 505.5,337.9 506,337.9 506.5,337.9 507,337.9 507.5,337.9 508,337.9 508.5,337.9 509,337.9 509.5,337.9 510,337.9 510.5,337.9 511,337.9 511.5,337.9 512,337.9 512.5,337.9 513,337.9 513.5,337.9 514,337.9 514.5,337.9 515,337.9 515.5,338 516,338 516.5,338 517,338 517.5,338 518,338 518.5,338 519,338 519.5,338 520,338 520.5,338 521,338 521.5,338 522,338 522.5,338 523,338 523.5,338 524,338 524.5,338 525,338.1 525.5,338.1 526,338.1 526.5,338.1 527,338.1 527.5,338.1 528,338.1 528.5,338.1 529,338.1 529.5,338.1 530,338.1 530.5,338.1 531,338.1 531.5,338.1 532,338.1 532.5,338.1 533,338.1 533.5,338.1 534,338.1 534.5,338.1 535,338.1 535.5,338.2 536,338.2 536.5,338.2" stroke="#9030e0" stroke-width="1.0" fill="none" stroke-linejoin="round"/>
<path d="M302,335.3 302.5,335.3 303,335.3 303.5,335.3 304,335.4 304.5,335.4 305,335.4 305.5,335.4 306,335.4 306.5,335.4 307,335.5 307.5,335.5 308,335.5 308.5,335.5 309,335.5 309.5,335.5 310,335.6 310.5,335.6 311,335.6 311.5,335.6 312,335.6 312.5,335.6 313,335.6 313.5,335.7 314,335.7 314.5,335.7 315,335.7 315.5,335.7 316,335.7 316.5,335.7 317,335.7 317.5,335.7 318,335.8 318.5,335.8 319,335.8 319.5,335.8 320,335.8 320.5,335.8 321,335.8 321.5,335.8 322,335.8 322.5,335.8 323,335.8 323.5,335.8 324,335.8 324.5,335.8 325,335.9 325.5,335.9 326,335.9 326.5,335.9 327,335.9 327.5,335.8 328,335.8 328.5,335.8 329,335.8 329.5,335.8 330,335.8 330.5,335.8 331,335.8 331.5,335.8 332,335.8 332.5,335.8 333,335.7 333.5,335.7 334,335.7 334.5,335.7 335,335.6 335.5,335.6 336,335.6 336.5,335.5 337,335.5 337.5,335.5 338,335.4 338.5,335.4 339,335.4 339.5,335.3 340,335.3 340.5,335.2 341,335.2 341.5,335.1 342,335 342.5,335 343,334.9 343.5,334.9 344,334.8 344.5,334.7 345,334.7 345.5,334.6 346,334.5 346.5,334.5 347,334.4 347.5,334.3 348,334.2 348.5,334.2 349,334.1 349.5,334 350,334 350.5,333.9 351,333.8 351.5,333.7 352,333.7 352.5,333.6 353,333.6 353.5,333.5 354,333.4 354.5,333.4 355,333.3 355.5,333.3 356,333.2 356.5,333.2 357,333.1 357.5,333.1 358,333.1 358.5,333.1 359,333 359.5,333 360,333 360.5,333 361,333 361.5,333 362,333 362.5,333 363,333 363.5,333 364,333 364.5,333 365,333 365.5,333 366,333.1 366.5,333.1 367,333.1 367.5,333.1 368,333.2 368.5,333.2 369,333.2 369.5,333.3 370,333.3 370.5,333.3 371,333.4 371.5,333.4 372,333.5 372.5,333.5 373,333.5 373.5,333.6 374,333.6 374.5,333.7 375,333.7 375.5,333.7 376,333.8 376.5,333.8 377,333.8 377.5,333.9 378,333.9 378.5,333.9 379,334 379.5,334 380,334 380.5,334 381,334.1 381.5,334.1 382,334.1 382.5,334.1 383,334.1 383.5,334.1 384,334.1 384.5,334.1 385,334.1 385.5,334.1 386,334.1 386.5,334.1 387,334.1 387.5,334.1 388,334.1 388.5,334 389,334 389.5,334 390,334 390.5,333.9 391,333.9 391.5,333.8 392,333.8 392.5,333.8 393,333.7 393.5,333.7 394,333.6 394.5,333.6 395,333.5 395.5,333.4 396,333.4 396.5,333.3 397,333.2 397.5,333.2 398,333.1 398.5,333 399,332.9 399.5,332.8 400,332.7 400.5,332.6 401,332.5 401.5,332.4 402,332.3 402.5,332.2 403,332.1 403.5,332 404,331.8 404.5,331.7 405,331.6 405.5,331.4 406,331.3 406.5,331.1 407,331 407.5,330.8 408,330.7 408.5,330.6 409,330.5 409.5,330.4 410,330.3 410.5,330.2 411,330.1 411.5,330 412,329.9 412.5,329.8 413,329.7 413.5,329.6 414,329.5 414.5,329.4 415,329.2 415.5,329.1 416,329 416.5,328.8 417,328.6 417.5,328.5 418,328.3 418.5,328.1 419,327.9 419.5,327.7 420,327.5 420.5,327.3 421,327.1 421.5,326.9 422,326.7 422.5,326.6 423,326.4 423.5,326.2 424,326.1 424.5,325.9 425,325.8 425.5,325.7 426,325.5 426.5,325.4 427,325.3 427.5,325.2 428,325.1 428.5,325 429,324.9 429.5,324.8 430,324.8 430.5,324.7 431,324.6 431.5,324.5 432,324.4 432.5,324.3 433,324.1 433.5,324 434,323.8 434.5,323.6 435,323.4 435.5,323.2 436,322.9 436.5,322.7 437,322.3 437.5,322 438,321.6 438.5,321.2 439,320.7 439.5,320.2 440,319.7 440.5,319.1 441,318.6 441.5,318 442,317.3 442.5,316.6 443,315.9 443.5,315.1 444,314.3 444.5,313.5 445,312.7 445.5,311.8 446,310.9 446.5,310 447,309.1 447.5,308.2 448,307.4 448.5,306.6 449,306 449.5,305.5 450,305.2 450.5,305 451,305 451.5,305.2 452,305.5 452.5,305.8 453,306.3 453.5,306.7 454,307.2 454.5,307.7 455,308.2 455.5,308.6 456,309 456.5,309.3 457,309.5 457.5,309.6 458,309.5 458.5,309.4 459,309.1 459.5,308.6 460,308.1 460.5,307.4 461,306.6 461.5,305.8 462,304.9 462.5,304 463,303 463.5,302 464,301.1 464.5,300.1 465,299.2 465.5,298.3 466,297.5 466.5,296.8 467,296.2 467.5,295.8 468,295.5 468.5,295.3 469,295.4 469.5,295.5 470,295.9 470.5,296.4 471,297.1 471.5,298 472,299 472.5,300 473,301.2 473.5,302.5 474,303.8 474.5,305.1 475,306.4 475.5,307.7 476,309 476.5,310.2 477,311.3 477.5,312.4 478,313.3 478.5,314.1 479,314.8 479.5,315.4 480,315.9 480.5,316.2 481,316.5 481.5,316.8 482,317 482.5,317.2 483,317.4 483.5,317.6 484,318 484.5,318.4 485,318.9 485.5,319.5 486,320.2 486.5,321 487,321.9 487.5,322.9 488,323.9 488.5,325 489,326.1 489.5,327.1 490,328.1 490.5,329 491,329.8 491.5,330.5 492,331.1 492.5,331.6 493,332 493.5,332.3 494,332.6 494.5,332.7 495,332.8 495.5,332.9 496,333 496.5,333.1 497,333.2 497.5,333.3 498,333.4 498.5,333.6 499,333.7 499.5,333.9 500,334 500.5,334.2 501,334.3 501.5,334.5 502,334.7 502.5,334.9 503,335 503.5,335.2 504,335.3 504.5,335.5 505,335.6 505.5,335.8 506,335.9 506.5,336 507,336.1 507.5,336.1 508,336.2 508.5,336.2 509,336.3 509.5,336.3 510,336.4 510.5,336.4 511,336.5 511.5,336.5 512,336.6 512.5,336.6 513,336.7 513.5,336.7 514,336.7 514.5,336.8 515,336.8 515.5,336.9 516,336.9 516.5,336.9 517,337 517.5,337 518,337 518.5,337.1 519,337.1 519.5,337.1 520,337.2 520.5,337.2 521,337.2 521.5,337.3 522,337.3 522.5,337.3 523,337.3 523.5,337.4 524,337.4 524.5,337.4 525,337.4 525.5,337.5 526,337.5 526.5,337.5 527,337.5 527.5,337.5 528,337.6 528.5,337.6 529,337.6 529.5,337.6 530,337.6 530.5,337.6 531,337.6 531.5,337.7 532,337.7 532.5,337.7 533,337.7 533.5,337.7 534,337.7 534.5,337.7 535,337.7 535.5,337.7 536,337.7 536.5,337.8" stroke="#ff5050" stroke-width="0.9" fill="none" stroke-linejoin="round"/>
<path d="M299.9,334.9a2.1,2.1 0 1,0 4.2,0a2.1,2.1 0 1,0 -4.2,0M301.8,335.8a2.1,2.1 0 1,0 4.2,0a2.1,2.1 0 1,0 -4.2,0M303.7,335.3a2.1,2.1 0 1,0 4.2,0a2.1,2.1 0 1,0 -4.2,0M305.6,335.2a2.1,2.1 0 1,0 4.2,0a2.1,2.1 0 1,0 -4.2,0M307.5,335.9a2.1,2.1 0 1,0 4.2,0a2.1,2.1 0 1,0 -4.2,0M309.4,335.4a2.1,2.1 0 1,0 4.2,0a2.1,2.1 0 1,0 -4.2,0M311.3,336.4a2.1,2.1 0 1,0 4.2,0a2.1,2.1 0 1,0 -4.2,0M313.2,336.2a2.1,2.1 0 1,0 4.2,0a2.1,2.1 0 1,0 -4.2,0M315.1,335a2.1,2.1 0 1,0 4.2,0a2.1,2.1 0 1,0 -4.2,0M317,335.8a2.1,2.1 0 1,0 4.2,0a2.1,2.1 0 1,0 -4.2,0M318.9,336a2.1,2.1 0 1,0 4.2,0a2.1,2.1 0 1,0 -4.2,0M320.8,335.6a2.1,2.1 0 1,0 4.2,0a2.1,2.1 0 1,0 -4.2,0M322.7,335.3a2.1,2.1 0 1,0 4.2,0a2.1,2.1 0 1,0 -4.2,0M324.6,336.7a2.1,2.1 0 1,0 4.2,0a2.1,2.1 0 1,0 -4.2,0M326.5,335.6a2.1,2.1 0 1,0 4.2,0a2.1,2.1 0 1,0 -4.2,0M328.4,336.3a2.1,2.1 0 1,0 4.2,0a2.1,2.1 0 1,0 -4.2,0M330.3,334.6a2.1,2.1 0 1,0 4.2,0a2.1,2.1 0 1,0 -4.2,0M332.2,334.7a2.1,2.1 0 1,0 4.2,0a2.1,2.1 0 1,0 -4.2,0M334.1,335.4a2.1,2.1 0 1,0 4.2,0a2.1,2.1 0 1,0 -4.2,0M336,335.2a2.1,2.1 0 1,0 4.2,0a2.1,2.1 0 1,0 -4.2,0M337.9,334.8a2.1,2.1 0 1,0 4.2,0a2.1,2.1 0 1,0 -4.2,0M339.8,335.3a2.1,2.1 0 1,0 4.2,0a2.1,2.1 0 1,0 -4.2,0M341.6,334.7a2.1,2.1 0 1,0 4.2,0a2.1,2.1 0 1,0 -4.2,0M343.5,334.3a2.1,2.1 0 1,0 4.2,0a2.1,2.1 0 1,0 -4.2,0M345.4,334.5a2.1,2.1 0 1,0 4.2,0a2.1,2.1 0 1,0 -4.2,0M347.3,335.1a2.1,2.1 0 1,0 4.2,0a2.1,2.1 0 1,0 -4.2,0M349.2,333.5a2.1,2.1 0 1,0 4.2,0a2.1,2.1 0 1,0 -4.2,0M351.1,333.8a2.1,2.1 0 1,0 4.2,0a2.1,2.1 0 1,0 -4.2,0M352.9,333.3a2.1,2.1 0 1,0 4.2,0a2.1,2.1 0 1,0 -4.2,0M354.8,333a2.1,2.1 0 1,0 4.2,0a2.1,2.1 0 1,0 -4.2,0M356.7,332.8a2.1,2.1 0 1,0 4.2,0a2.1,2.1 0 1,0 -4.2,0M358.6,332.9a2.1,2.1 0 1,0 4.2,0a2.1,2.1 0 1,0 -4.2,0M360.5,333.7a2.1,2.1 0 1,0 4.2,0a2.1,2.1 0 1,0 -4.2,0M362.4,332.9a2.1,2.1 0 1,0 4.2,0a2.1,2.1 0 1,0 -4.2,0M364.3,333.2a2.1,2.1 0 1,0 4.2,0a2.1,2.1 0 1,0 -4.2,0M366.2,333.3a2.1,2.1 0 1,0 4.2,0a2.1,2.1 0 1,0 -4.2,0M368.1,333.2a2.1,2.1 0 1,0 4.2,0a2.1,2.1 0 1,0 -4.2,0M370,334.2a2.1,2.1 0 1,0 4.2,0a2.1,2.1 0 1,0 -4.2,0M371.9,333.2a2.1,2.1 0 1,0 4.2,0a2.1,2.1 0 1,0 -4.2,0M373.8,333.8a2.1,2.1 0 1,0 4.2,0a2.1,2.1 0 1,0 -4.2,0M375.7,333.7a2.1,2.1 0 1,0 4.2,0a2.1,2.1 0 1,0 -4.2,0M377.6,334.3a2.1,2.1 0 1,0 4.2,0a2.1,2.1 0 1,0 -4.2,0M379.5,334.5a2.1,2.1 0 1,0 4.2,0a2.1,2.1 0 1,0 -4.2,0M381.4,334.2a2.1,2.1 0 1,0 4.2,0a2.1,2.1 0 1,0 -4.2,0M383.3,334.8a2.1,2.1 0 1,0 4.2,0a2.1,2.1 0 1,0 -4.2,0M385.2,334.7a2.1,2.1 0 1,0 4.2,0a2.1,2.1 0 1,0 -4.2,0M387.1,333.6a2.1,2.1 0 1,0 4.2,0a2.1,2.1 0 1,0 -4.2,0M389,334.8a2.1,2.1 0 1,0 4.2,0a2.1,2.1 0 1,0 -4.2,0M390.9,333.3a2.1,2.1 0 1,0 4.2,0a2.1,2.1 0 1,0 -4.2,0M392.8,332.9a2.1,2.1 0 1,0 4.2,0a2.1,2.1 0 1,0 -4.2,0M394.7,332.8a2.1,2.1 0 1,0 4.2,0a2.1,2.1 0 1,0 -4.2,0M396.5,333.4a2.1,2.1 0 1,0 4.2,0a2.1,2.1 0 1,0 -4.2,0M398.4,331.8a2.1,2.1 0 1,0 4.2,0a2.1,2.1 0 1,0 -4.2,0M400.3,332.1a2.1,2.1 0 1,0 4.2,0a2.1,2.1 0 1,0 -4.2,0M402.1,332.2a2.1,2.1 0 1,0 4.2,0a2.1,2.1 0 1,0 -4.2,0M403.9,331.3a2.1,2.1 0 1,0 4.2,0a2.1,2.1 0 1,0 -4.2,0M405.8,330.5a2.1,2.1 0 1,0 4.2,0a2.1,2.1 0 1,0 -4.2,0M407.6,330a2.1,2.1 0 1,0 4.2,0a2.1,2.1 0 1,0 -4.2,0M409.5,330.4a2.1,2.1 0 1,0 4.2,0a2.1,2.1 0 1,0 -4.2,0M411.3,328.9a2.1,2.1 0 1,0 4.2,0a2.1,2.1 0 1,0 -4.2,0M413.2,328.7a2.1,2.1 0 1,0 4.2,0a2.1,2.1 0 1,0 -4.2,0M415,328.7a2.1,2.1 0 1,0 4.2,0a2.1,2.1 0 1,0 -4.2,0M416.8,329a2.1,2.1 0 1,0 4.2,0a2.1,2.1 0 1,0 -4.2,0M418.6,327.2a2.1,2.1 0 1,0 4.2,0a2.1,2.1 0 1,0 -4.2,0M420.3,326.6a2.1,2.1 0 1,0 4.2,0a2.1,2.1 0 1,0 -4.2,0M422.2,327.3a2.1,2.1 0 1,0 4.2,0a2.1,2.1 0 1,0 -4.2,0M424,325.2a2.1,2.1 0 1,0 4.2,0a2.1,2.1 0 1,0 -4.2,0M425.8,326a2.1,2.1 0 1,0 4.2,0a2.1,2.1 0 1,0 -4.2,0M427.7,326.2a2.1,2.1 0 1,0 4.2,0a2.1,2.1 0 1,0 -4.2,0M429.6,325.2a2.1,2.1 0 1,0 4.2,0a2.1,2.1 0 1,0 -4.2,0M431.4,323.4a2.1,2.1 0 1,0 4.2,0a2.1,2.1 0 1,0 -4.2,0M433.2,323.7a2.1,2.1 0 1,0 4.2,0a2.1,2.1 0 1,0 -4.2,0M434.9,322.9a2.1,2.1 0 1,0 4.2,0a2.1,2.1 0 1,0 -4.2,0M436.4,321a2.1,2.1 0 1,0 4.2,0a2.1,2.1 0 1,0 -4.2,0M437.7,319.6a2.1,2.1 0 1,0 4.2,0a2.1,2.1 0 1,0 -4.2,0M439,318.3a2.1,2.1 0 1,0 4.2,0a2.1,2.1 0 1,0 -4.2,0M440.1,316.8a2.1,2.1 0 1,0 4.2,0a2.1,2.1 0 1,0 -4.2,0M441.2,315.1a2.1,2.1 0 1,0 4.2,0a2.1,2.1 0 1,0 -4.2,0M442.2,313.4a2.1,2.1 0 1,0 4.2,0a2.1,2.1 0 1,0 -4.2,0M443.2,312.7a2.1,2.1 0 1,0 4.2,0a2.1,2.1 0 1,0 -4.2,0M444.1,310.6a2.1,2.1 0 1,0 4.2,0a2.1,2.1 0 1,0 -4.2,0M445,309.5a2.1,2.1 0 1,0 4.2,0a2.1,2.1 0 1,0 -4.2,0M446,307.2a2.1,2.1 0 1,0 4.2,0a2.1,2.1 0 1,0 -4.2,0M447.2,305.3a2.1,2.1 0 1,0 4.2,0a2.1,2.1 0 1,0 -4.2,0M448.9,305.6a2.1,2.1 0 1,0 4.2,0a2.1,2.1 0 1,0 -4.2,0M450.5,306.3a2.1,2.1 0 1,0 4.2,0a2.1,2.1 0 1,0 -4.2,0M451.9,307.1a2.1,2.1 0 1,0 4.2,0a2.1,2.1 0 1,0 -4.2,0M453.3,307.7a2.1,2.1 0 1,0 4.2,0a2.1,2.1 0 1,0 -4.2,0M454.9,309.6a2.1,2.1 0 1,0 4.2,0a2.1,2.1 0 1,0 -4.2,0M456.7,308.9a2.1,2.1 0 1,0 4.2,0a2.1,2.1 0 1,0 -4.2,0M458.1,308.2a2.1,2.1 0 1,0 4.2,0a2.1,2.1 0 1,0 -4.2,0M459.1,306.8a2.1,2.1 0 1,0 4.2,0a2.1,2.1 0 1,0 -4.2,0M460,304.6a2.1,2.1 0 1,0 4.2,0a2.1,2.1 0 1,0 -4.2,0M460.9,303.9a2.1,2.1 0 1,0 4.2,0a2.1,2.1 0 1,0 -4.2,0M461.8,300.4a2.1,2.1 0 1,0 4.2,0a2.1,2.1 0 1,0 -4.2,0M462.7,298.8a2.1,2.1 0 1,0 4.2,0a2.1,2.1 0 1,0 -4.2,0M463.6,297.3a2.1,2.1 0 1,0 4.2,0a2.1,2.1 0 1,0 -4.2,0M464.8,297a2.1,2.1 0 1,0 4.2,0a2.1,2.1 0 1,0 -4.2,0M466.3,295.6a2.1,2.1 0 1,0 4.2,0a2.1,2.1 0 1,0 -4.2,0M468,296.6a2.1,2.1 0 1,0 4.2,0a2.1,2.1 0 1,0 -4.2,0M469.1,297.3a2.1,2.1 0 1,0 4.2,0a2.1,2.1 0 1,0 -4.2,0M470,300.3a2.1,2.1 0 1,0 4.2,0a2.1,2.1 0 1,0 -4.2,0M470.8,301.1a2.1,2.1 0 1,0 4.2,0a2.1,2.1 0 1,0 -4.2,0M471.5,303.1a2.1,2.1 0 1,0 4.2,0a2.1,2.1 0 1,0 -4.2,0M472.2,304.1a2.1,2.1 0 1,0 4.2,0a2.1,2.1 0 1,0 -4.2,0M472.8,304.9a2.1,2.1 0 1,0 4.2,0a2.1,2.1 0 1,0 -4.2,0M473.5,307.5a2.1,2.1 0 1,0 4.2,0a2.1,2.1 0 1,0 -4.2,0M474.2,310.3a2.1,2.1 0 1,0 4.2,0a2.1,2.1 0 1,0 -4.2,0M475,311a2.1,2.1 0 1,0 4.2,0a2.1,2.1 0 1,0 -4.2,0M475.9,313.3a2.1,2.1 0 1,0 4.2,0a2.1,2.1 0 1,0 -4.2,0M476.9,316.2a2.1,2.1 0 1,0 4.2,0a2.1,2.1 0 1,0 -4.2,0M478.3,316.4a2.1,2.1 0 1,0 4.2,0a2.1,2.1 0 1,0 -4.2,0M479.9,317.4a2.1,2.1 0 1,0 4.2,0a2.1,2.1 0 1,0 -4.2,0M481.7,318.3a2.1,2.1 0 1,0 4.2,0a2.1,2.1 0 1,0 -4.2,0M483.1,318.5a2.1,2.1 0 1,0 4.2,0a2.1,2.1 0 1,0 -4.2,0M484.2,320.6a2.1,2.1 0 1,0 4.2,0a2.1,2.1 0 1,0 -4.2,0M485.1,322.3a2.1,2.1 0 1,0 4.2,0a2.1,2.1 0 1,0 -4.2,0M485.9,324.3a2.1,2.1 0 1,0 4.2,0a2.1,2.1 0 1,0 -4.2,0M486.7,325.8a2.1,2.1 0 1,0 4.2,0a2.1,2.1 0 1,0 -4.2,0M487.6,327.3a2.1,2.1 0 1,0 4.2,0a2.1,2.1 0 1,0 -4.2,0M488.4,329.5a2.1,2.1 0 1,0 4.2,0a2.1,2.1 0 1,0 -4.2,0M489.5,330.1a2.1,2.1 0 1,0 4.2,0a2.1,2.1 0 1,0 -4.2,0M490.9,332a2.1,2.1 0 1,0 4.2,0a2.1,2.1 0 1,0 -4.2,0M492.6,332.6a2.1,2.1 0 1,0 4.2,0a2.1,2.1 0 1,0 -4.2,0M494.5,333.2a2.1,2.1 0 1,0 4.2,0a2.1,2.1 0 1,0 -4.2,0M496.3,333.7a2.1,2.1 0 1,0 4.2,0a2.1,2.1 0 1,0 -4.2,0M498.1,333.9a2.1,2.1 0 1,0 4.2,0a2.1,2.1 0 1,0 -4.2,0M499.9,334.8a2.1,2.1 0 1,0 4.2,0a2.1,2.1 0 1,0 -4.2,0M501.7,334.4a2.1,2.1 0 1,0 4.2,0a2.1,2.1 0 1,0 -4.2,0M503.6,335.1a2.1,2.1 0 1,0 4.2,0a2.1,2.1 0 1,0 -4.2,0M505.4,336.1a2.1,2.1 0 1,0 4.2,0a2.1,2.1 0 1,0 -4.2,0M507.3,336.6a2.1,2.1 0 1,0 4.2,0a2.1,2.1 0 1,0 -4.2,0M509.2,336.3a2.1,2.1 0 1,0 4.2,0a2.1,2.1 0 1,0 -4.2,0M511.1,336.4a2.1,2.1 0 1,0 4.2,0a2.1,2.1 0 1,0 -4.2,0M513,336.6a2.1,2.1 0 1,0 4.2,0a2.1,2.1 0 1,0 -4.2,0M514.9,337.2a2.1,2.1 0 1,0 4.2,0a2.1,2.1 0 1,0 -4.2,0M516.8,336.7a2.1,2.1 0 1,0 4.2,0a2.1,2.1 0 1,0 -4.2,0M518.7,337.6a2.1,2.1 0 1,0 4.2,0a2.1,2.1 0 1,0 -4.2,0M520.6,337.5a2.1,2.1 0 1,0 4.2,0a2.1,2.1 0 1,0 -4.2,0M522.5,337.8a2.1,2.1 0 1,0 4.2,0a2.1,2.1 0 1,0 -4.2,0M524.4,337.1a2.1,2.1 0 1,0 4.2,0a2.1,2.1 0 1,0 -4.2,0M526.3,337.3a2.1,2.1 0 1,0 4.2,0a2.1,2.1 0 1,0 -4.2,0M528.2,338a2.1,2.1 0 1,0 4.2,0a2.1,2.1 0 1,0 -4.2,0M530.1,338a2.1,2.1 0 1,0 4.2,0a2.1,2.1 0 1,0 -4.2,0M532,337.4a2.1,2.1 0 1,0 4.2,0a2.1,2.1 0 1,0 -4.2,0M533.9,336.7a2.1,2.1 0 1,0 4.2,0a2.1,2.1 0 1,0 -4.2,0" stroke="#5252f2" stroke-width="0.75" fill="none"/>
<line x1="301.2" y1="293.5" x2="318.4" y2="293.5" stroke="#8a8af0" stroke-width="1.0"/>
<path d="M308.6,293.5a1.5,1.5 0 1,0 3,0a1.5,1.5 0 1,0 -3,0" stroke="#4a4af0" stroke-width="0.9" fill="none"/>
<text x="321.1" y="295.6" font-size="9.2" fill="#1717ff" stroke="#1717ff" stroke-width="0.42" text-anchor="start" font-weight="bold" textLength="44.1" lengthAdjust="spacingAndGlyphs">Co-CuS-1</text>
<text x="351.9" y="326.5" font-size="8.8" fill="#000" stroke="#000" stroke-width="0.42" text-anchor="start" font-weight="bold" textLength="16.6" lengthAdjust="spacingAndGlyphs">Sat.</text>
<path d="M302,389.2 302.5,389.2 303,389.2 303.5,389.2 304,389.2 304.5,389.2 305,389.3 305.5,389.3 306,389.3 306.5,389.3 307,389.3 307.5,389.3 308,389.3 308.5,389.3 309,389.3 309.5,389.3 310,389.3 310.5,389.3 311,389.3 311.5,389.3 312,389.3 312.5,389.3 313,389.3 313.5,389.3 314,389.4 314.5,389.4 315,389.4 315.5,389.4 316,389.4 316.5,389.4 317,389.4 317.5,389.4 318,389.4 318.5,389.4 319,389.4 319.5,389.4 320,389.4 320.5,389.4 321,389.4 321.5,389.4 322,389.4 322.5,389.4 323,389.4 323.5,389.5 324,389.5 324.5,389.5 325,389.5 325.5,389.5 326,389.5 326.5,389.5 327,389.5 327.5,389.5 328,389.5 328.5,389.5 329,389.5 329.5,389.5 330,389.5 330.5,389.5 331,389.5 331.5,389.5 332,389.5 332.5,389.6 333,389.6 333.5,389.6 334,389.6 334.5,389.6 335,389.6 335.5,389.6 336,389.6 336.5,389.6 337,389.6 337.5,389.6 338,389.6 338.5,389.6 339,389.6 339.5,389.6 340,389.6 340.5,389.6 341,389.6 341.5,389.6 342,389.7 342.5,389.7 343,389.7 343.5,389.7 344,389.7 344.5,389.7 345,389.7 345.5,389.7 346,389.7 346.5,389.7 347,389.7 347.5,389.7 348,389.7 348.5,389.7 349,389.7 349.5,389.7 350,389.7 350.5,389.7 351,389.8 351.5,389.8 352,389.8 352.5,389.8 353,389.8 353.5,389.8 354,389.8 354.5,389.8 355,389.8 355.5,389.8 356,389.8 356.5,389.8 357,389.8 357.5,389.8 358,389.8 358.5,389.8 359,389.8 359.5,389.8 360,389.8 360.5,389.9 361,389.9 361.5,389.9 362,389.9 362.5,389.9 363,389.9 363.5,389.9 364,389.9 364.5,389.9 365,389.9 365.5,389.9 366,389.9 366.5,389.9 367,389.9 367.5,389.9 368,389.9 368.5,389.9 369,389.9 369.5,390 370,390 370.5,390 371,390 371.5,390 372,390 372.5,390 373,390 373.5,390 374,390 374.5,390 375,390 375.5,390 376,390 376.5,390 377,390 377.5,390 378,390 378.5,390.1 379,390.1 379.5,390.1 380,390.1 380.5,390.1 381,390.1 381.5,390.1 382,390.1 382.5,390.1 383,390.1 383.5,390.1 384,390.1 384.5,390.1 385,390.1 385.5,390.1 386,390.1 386.5,390.1 387,390.1 387.5,390.1 388,390.1 388.5,390.2 389,390.2 389.5,390.2 390,390.2 390.5,390.2 391,390.2 391.5,390.2 392,390.2 392.5,390.2 393,390.2 393.5,390.2 394,390.2 394.5,390.2 395,390.2 395.5,390.2 396,390.2 396.5,390.2 397,390.2 397.5,390.2 398,390.2 398.5,390.2 399,390.1 399.5,390.1 400,390.1 400.5,390.1 401,390.1 401.5,390.1 402,390 402.5,390 403,390 403.5,390 404,389.9 404.5,389.9 405,389.9 405.5,389.8 406,389.8 406.5,389.7 407,389.7 407.5,389.6 408,389.5 408.5,389.5 409,389.4 409.5,389.3 410,389.2 410.5,389.1 411,389 411.5,388.9 412,388.8 412.5,388.7 413,388.6 413.5,388.5 414,388.3 414.5,388.2 415,388.1 415.5,387.9 416,387.8 416.5,387.6 417,387.5 417.5,387.3 418,387.1 418.5,386.9 419,386.8 419.5,386.6 420,386.4 420.5,386.2 421,386 421.5,385.9 422,385.7 422.5,385.5 423,385.3 423.5,385.1 424,385 424.5,384.8 425,384.6 425.5,384.5 426,384.3 426.5,384.2 427,384 427.5,383.9 428,383.8 428.5,383.6 429,383.5 429.5,383.5 430,383.4 430.5,383.3 431,383.2 431.5,383.2 432,383.2 432.5,383.1 433,383.1 433.5,383.1 434,383.2 434.5,383.2 435,383.2 435.5,383.3 436,383.4 436.5,383.5 437,383.6 437.5,383.7 438,383.8 438.5,383.9 439,384 439.5,384.2 440,384.3 440.5,384.5 441,384.7 441.5,384.8 442,385 442.5,385.2 443,385.4 443.5,385.6 444,385.8 444.5,386 445,386.1 445.5,386.3 446,386.5 446.5,386.7 447,386.9 447.5,387.1 448,387.3 448.5,387.5 449,387.7 449.5,387.8 450,388 450.5,388.2 451,388.3 451.5,388.5 452,388.6 452.5,388.8 453,388.9 453.5,389.1 454,389.2 454.5,389.3 455,389.4 455.5,389.6 456,389.7 456.5,389.8 457,389.9 457.5,389.9 458,390 458.5,390.1 459,390.2 459.5,390.2 460,390.3 460.5,390.4 461,390.4 461.5,390.5 462,390.5 462.5,390.6 463,390.6 463.5,390.7 464,390.7 464.5,390.7 465,390.8 465.5,390.8 466,390.8 466.5,390.8 467,390.9 467.5,390.9 468,390.9 468.5,390.9 469,390.9 469.5,391 470,391 470.5,391 471,391 471.5,391 472,391 472.5,391 473,391 473.5,391.1 474,391.1 474.5,391.1 475,391.1 475.5,391.1 476,391.1 476.5,391.1 477,391.1 477.5,391.1 478,391.1 478.5,391.1 479,391.1 479.5,391.1 480,391.1 480.5,391.2 481,391.2 481.5,391.2 482,391.2 482.5,391.2 483,391.2 483.5,391.2 484,391.2 484.5,391.2 485,391.2 485.5,391.2 486,391.2 486.5,391.2 487,391.2 487.5,391.2 488,391.2 488.5,391.2 489,391.2 489.5,391.3 490,391.3 490.5,391.3 491,391.3 491.5,391.3 492,391.3 492.5,391.3 493,391.3 493.5,391.3 494,391.3 494.5,391.3 495,391.3 495.5,391.3 496,391.3 496.5,391.3 497,391.3 497.5,391.3 498,391.3 498.5,391.4 499,391.4 499.5,391.4 500,391.4 500.5,391.4 501,391.4 501.5,391.4 502,391.4 502.5,391.4 503,391.4 503.5,391.4 504,391.4 504.5,391.4 505,391.4 505.5,391.4 506,391.4 506.5,391.4 507,391.4 507.5,391.4 508,391.5 508.5,391.5 509,391.5 509.5,391.5 510,391.5 510.5,391.5 511,391.5 511.5,391.5 512,391.5 512.5,391.5 513,391.5 513.5,391.5 514,391.5 514.5,391.5 515,391.5 515.5,391.5 516,391.5 516.5,391.5 517,391.6 517.5,391.6 518,391.6 518.5,391.6 519,391.6 519.5,391.6 520,391.6 520.5,391.6 521,391.6 521.5,391.6 522,391.6 522.5,391.6 523,391.6 523.5,391.6 524,391.6 524.5,391.6 525,391.6 525.5,391.6 526,391.6 526.5,391.7 527,391.7 527.5,391.7 528,391.7 528.5,391.7 529,391.7 529.5,391.7 530,391.7 530.5,391.7 531,391.7 531.5,391.7 532,391.7 532.5,391.7 533,391.7 533.5,391.7 534,391.7 534.5,391.7 535,391.7 535.5,391.8 536,391.8" stroke="#2020b0" stroke-width="1.2" fill="none" stroke-linejoin="round"/>
<path d="M420,390.9 420.5,390.9 421,390.9 421.5,390.9 422,390.9 422.5,390.8 423,390.8 423.5,390.8 424,390.8 424.5,390.8 425,390.8 425.5,390.8 426,390.8 426.5,390.8 427,390.8 427.5,390.8 428,390.7 428.5,390.7 429,390.7 429.5,390.7 430,390.7 430.5,390.6 431,390.6 431.5,390.6 432,390.5 432.5,390.5 433,390.4 433.5,390.4 434,390.3 434.5,390.2 435,390.1 435.5,389.9 436,389.8 436.5,389.5 437,389.3 437.5,389 438,388.6 438.5,388.2 439,387.7 439.5,387.1 440,386.4 440.5,385.7 441,384.8 441.5,383.9 442,382.9 442.5,381.8 443,380.6 443.5,379.4 444,378.1 444.5,376.9 445,375.6 445.5,374.4 446,373.3 446.5,372.3 447,371.5 447.5,370.9 448,370.5 448.5,370.4 449,370.5 449.5,370.9 450,371.6 450.5,372.4 451,373.4 451.5,374.5 452,375.7 452.5,377 453,378.2 453.5,379.5 454,380.7 454.5,381.9 455,383 455.5,384 456,385 456.5,385.9 457,386.6 457.5,387.3 458,387.9 458.5,388.4 459,388.8 459.5,389.2 460,389.5 460.5,389.8 461,390 461.5,390.2 462,390.4 462.5,390.5 463,390.6 463.5,390.7 464,390.8 464.5,390.8 465,390.9 465.5,391 466,391 466.5,391 467,391.1 467.5,391.1 468,391.1 468.5,391.2 469,391.2 469.5,391.2 470,391.2 470.5,391.3 471,391.3 471.5,391.3 472,391.3 472.5,391.3 473,391.4 473.5,391.4 474,391.4 474.5,391.4 475,391.4 475.5,391.4 476,391.5 476.5,391.5 477,391.5 477.5,391.5 478,391.5 478.5,391.5 479,391.5 479.5,391.5 480,391.6 480.5,391.6 481,391.6 481.5,391.6 482,391.6 482.5,391.6 483,391.6 483.5,391.6 484,391.6" stroke="#14a020" stroke-width="1.2" fill="none" stroke-linejoin="round"/>
<path d="M418,390.3 418.5,390.3 419,390.3 419.5,390.3 420,390.3 420.5,390.3 421,390.3 421.5,390.2 422,390.2 422.5,390.2 423,390.2 423.5,390.2 424,390.2 424.5,390.2 425,390.1 425.5,390.1 426,390.1 426.5,390.1 427,390.1 427.5,390 428,390 428.5,390 429,390 429.5,389.9 430,389.9 430.5,389.9 431,389.9 431.5,389.8 432,389.8 432.5,389.8 433,389.7 433.5,389.7 434,389.7 434.5,389.6 435,389.6 435.5,389.5 436,389.5 436.5,389.4 437,389.4 437.5,389.3 438,389.3 438.5,389.2 439,389.1 439.5,389 440,389 440.5,388.9 441,388.8 441.5,388.7 442,388.5 442.5,388.4 443,388.3 443.5,388.1 444,388 444.5,387.8 445,387.6 445.5,387.4 446,387.2 446.5,386.9 447,386.6 447.5,386.3 448,386 448.5,385.7 449,385.3 449.5,384.8 450,384.4 450.5,383.9 451,383.4 451.5,382.8 452,382.2 452.5,381.5 453,380.8 453.5,380 454,379.2 454.5,378.4 455,377.5 455.5,376.5 456,375.5 456.5,374.5 457,373.4 457.5,372.2 458,371.1 458.5,369.9 459,368.6 459.5,367.4 460,366.1 460.5,364.8 461,363.5 461.5,362.3 462,361 462.5,359.8 463,358.6 463.5,357.5 464,356.5 464.5,355.5 465,354.7 465.5,354 466,353.4 466.5,353 467,352.7 467.5,352.6 468,352.7 468.5,352.9 469,353.3 469.5,353.8 470,354.5 470.5,355.3 471,356.2 471.5,357.2 472,358.3 472.5,359.4 473,360.6 473.5,361.9 474,363.2 474.5,364.5 475,365.8 475.5,367 476,368.3 476.5,369.6 477,370.8 477.5,372 478,373.1 478.5,374.3 479,375.3 479.5,376.4 480,377.3 480.5,378.3 481,379.2 481.5,380 482,380.8 482.5,381.5 483,382.2 483.5,382.9 484,383.5 484.5,384 485,384.6 485.5,385.1 486,385.5 486.5,385.9 487,386.3 487.5,386.6 488,387 488.5,387.3 489,387.5 489.5,387.8 490,388 490.5,388.2 491,388.4 491.5,388.6 492,388.8 492.5,388.9 493,389.1 493.5,389.2 494,389.3 494.5,389.4 495,389.5 495.5,389.6 496,389.7 496.5,389.8 497,389.9 497.5,389.9 498,390 498.5,390.1 499,390.1 499.5,390.2 500,390.3 500.5,390.3 501,390.4 501.5,390.4 502,390.5 502.5,390.5 503,390.6 503.5,390.6 504,390.6 504.5,390.7 505,390.7 505.5,390.8 506,390.8 506.5,390.8 507,390.9 507.5,390.9 508,390.9 508.5,391 509,391 509.5,391 510,391 510.5,391.1 511,391.1 511.5,391.1 512,391.2 512.5,391.2 513,391.2 513.5,391.2 514,391.3 514.5,391.3 515,391.3 515.5,391.3 516,391.3 516.5,391.4 517,391.4 517.5,391.4 518,391.4 518.5,391.4 519,391.5 519.5,391.5 520,391.5 520.5,391.5 521,391.5 521.5,391.6 522,391.6 522.5,391.6 523,391.6 523.5,391.6 524,391.6 524.5,391.6 525,391.7 525.5,391.7 526,391.7 526.5,391.7 527,391.7 527.5,391.7 528,391.7 528.5,391.8 529,391.8 529.5,391.8 530,391.8 530.5,391.8 531,391.8 531.5,391.8 532,391.9 532.5,391.9 533,391.9 533.5,391.9 534,391.9 534.5,391.9 535,391.9 535.5,391.9 536,391.9" stroke="#ff20d0" stroke-width="1.2" fill="none" stroke-linejoin="round"/>
<path d="M302,389.8 302.5,389.8 303,389.8 303.5,389.8 304,389.8 304.5,389.8 305,389.9 305.5,389.9 306,389.9 306.5,389.9 307,389.9 307.5,389.9 308,389.9 308.5,389.9 309,389.9 309.5,389.9 310,389.9 310.5,389.9 311,389.9 311.5,389.9 312,389.9 312.5,389.9 313,389.9 313.5,389.9 314,390 314.5,390 315,390 315.5,390 316,390 316.5,390 317,390 317.5,390 318,390 318.5,390 319,390 319.5,390 320,390 320.5,390 321,390 321.5,390 322,390 322.5,390 323,390 323.5,390.1 324,390.1 324.5,390.1 325,390.1 325.5,390.1 326,390.1 326.5,390.1 327,390.1 327.5,390.1 328,390.1 328.5,390.1 329,390.1 329.5,390.1 330,390.1 330.5,390.1 331,390.1 331.5,390.1 332,390.1 332.5,390.2 333,390.2 333.5,390.2 334,390.2 334.5,390.2 335,390.2 335.5,390.2 336,390.2 336.5,390.2 337,390.2 337.5,390.2 338,390.2 338.5,390.2 339,390.2 339.5,390.2 340,390.2 340.5,390.2 341,390.2 341.5,390.2 342,390.3 342.5,390.3 343,390.3 343.5,390.3 344,390.3 344.5,390.3 345,390.3 345.5,390.3 346,390.3 346.5,390.3 347,390.3 347.5,390.3 348,390.3 348.5,390.3 349,390.3 349.5,390.3 350,390.3 350.5,390.3 351,390.4 351.5,390.4 352,390.4 352.5,390.4 353,390.4 353.5,390.4 354,390.4 354.5,390.4 355,390.4 355.5,390.4 356,390.4 356.5,390.4 357,390.4 357.5,390.4 358,390.4 358.5,390.4 359,390.4 359.5,390.4 360,390.4 360.5,390.5 361,390.5 361.5,390.5 362,390.5 362.5,390.5 363,390.5 363.5,390.5 364,390.5 364.5,390.5 365,390.5 365.5,390.5 366,390.5 366.5,390.5 367,390.5 367.5,390.5 368,390.5 368.5,390.5 369,390.5 369.5,390.6 370,390.6 370.5,390.6 371,390.6 371.5,390.6 372,390.6 372.5,390.6 373,390.6 373.5,390.6 374,390.6 374.5,390.6 375,390.6 375.5,390.6 376,390.6 376.5,390.6 377,390.6 377.5,390.6 378,390.6 378.5,390.7 379,390.7 379.5,390.7 380,390.7 380.5,390.7 381,390.7 381.5,390.7 382,390.7 382.5,390.7 383,390.7 383.5,390.7 384,390.7 384.5,390.7 385,390.7 385.5,390.7 386,390.7 386.5,390.7 387,390.7 387.5,390.7 388,390.8 388.5,390.8 389,390.8 389.5,390.8 390,390.8 390.5,390.8 391,390.8 391.5,390.8 392,390.8 392.5,390.8 393,390.8 393.5,390.8 394,390.8 394.5,390.8 395,390.8 395.5,390.8 396,390.8 396.5,390.8 397,390.9 397.5,390.9 398,390.9 398.5,390.9 399,390.9 399.5,390.9 400,390.9 400.5,390.9 401,390.9 401.5,390.9 402,390.9 402.5,390.9 403,390.9 403.5,390.9 404,390.9 404.5,390.9 405,390.9 405.5,390.9 406,390.9 406.5,391 407,391 407.5,391 408,391 408.5,391 409,391 409.5,391 410,391 410.5,391 411,391 411.5,391 412,391 412.5,391 413,391 413.5,391 414,391 414.5,391 415,391 415.5,391.1 416,391.1 416.5,391.1 417,391.1 417.5,391.1 418,391.1 418.5,391.1 419,391.1 419.5,391.1 420,391.1 420.5,391.1 421,391.1 421.5,391.1 422,391.1 422.5,391.1 423,391.1 423.5,391.1 424,391.1 424.5,391.1 425,391.2 425.5,391.2 426,391.2 426.5,391.2 427,391.2 427.5,391.2 428,391.2 428.5,391.2 429,391.2 429.5,391.2 430,391.2 430.5,391.2 431,391.2 431.5,391.2 432,391.2 432.5,391.2 433,391.2 433.5,391.2 434,391.3 434.5,391.3 435,391.3 435.5,391.3 436,391.3 436.5,391.3 437,391.3 437.5,391.3 438,391.3 438.5,391.3 439,391.3 439.5,391.3 440,391.3 440.5,391.3 441,391.3 441.5,391.3 442,391.3 442.5,391.3 443,391.3 443.5,391.4 444,391.4 444.5,391.4 445,391.4 445.5,391.4 446,391.4 446.5,391.4 447,391.4 447.5,391.4 448,391.4 448.5,391.4 449,391.4 449.5,391.4 450,391.4 450.5,391.4 451,391.4 451.5,391.4 452,391.4 452.5,391.5 453,391.5 453.5,391.5 454,391.5 454.5,391.5 455,391.5 455.5,391.5 456,391.5 456.5,391.5 457,391.5 457.5,391.5 458,391.5 458.5,391.5 459,391.5 459.5,391.5 460,391.5 460.5,391.5 461,391.5 461.5,391.5 462,391.6 462.5,391.6 463,391.6 463.5,391.6 464,391.6 464.5,391.6 465,391.6 465.5,391.6 466,391.6 466.5,391.6 467,391.6 467.5,391.6 468,391.6 468.5,391.6 469,391.6 469.5,391.6 470,391.6 470.5,391.6 471,391.7 471.5,391.7 472,391.7 472.5,391.7 473,391.7 473.5,391.7 474,391.7 474.5,391.7 475,391.7 475.5,391.7 476,391.7 476.5,391.7 477,391.7 477.5,391.7 478,391.7 478.5,391.7 479,391.7 479.5,391.7 480,391.8 480.5,391.8 481,391.8 481.5,391.8 482,391.8 482.5,391.8 483,391.8 483.5,391.8 484,391.8 484.5,391.8 485,391.8 485.5,391.8 486,391.8 486.5,391.8 487,391.8 487.5,391.8 488,391.8 488.5,391.8 489,391.8 489.5,391.9 490,391.9 490.5,391.9 491,391.9 491.5,391.9 492,391.9 492.5,391.9 493,391.9 493.5,391.9 494,391.9 494.5,391.9 495,391.9 495.5,391.9 496,391.9 496.5,391.9 497,391.9 497.5,391.9 498,391.9 498.5,392 499,392 499.5,392 500,392 500.5,392 501,392 501.5,392 502,392 502.5,392 503,392 503.5,392 504,392 504.5,392 505,392 505.5,392 506,392 506.5,392 507,392 507.5,392 508,392.1 508.5,392.1 509,392.1 509.5,392.1 510,392.1 510.5,392.1 511,392.1 511.5,392.1 512,392.1 512.5,392.1 513,392.1 513.5,392.1 514,392.1 514.5,392.1 515,392.1 515.5,392.1 516,392.1 516.5,392.1 517,392.2 517.5,392.2 518,392.2 518.5,392.2 519,392.2 519.5,392.2 520,392.2 520.5,392.2 521,392.2 521.5,392.2 522,392.2 522.5,392.2 523,392.2 523.5,392.2 524,392.2 524.5,392.2 525,392.2 525.5,392.2 526,392.2 526.5,392.3 527,392.3 527.5,392.3 528,392.3 528.5,392.3 529,392.3 529.5,392.3 530,392.3 530.5,392.3 531,392.3 531.5,392.3 532,392.3 532.5,392.3 533,392.3 533.5,392.3 534,392.3 534.5,392.3 535,392.3 535.5,392.4 536,392.4 536.5,392.4" stroke="#b040f0" stroke-width="1.0" fill="none" stroke-linejoin="round"/>
<path d="M302,389.4 302.5,389.4 303,389.5 303.5,389.5 304,389.5 304.5,389.6 305,389.6 305.5,389.6 306,389.6 306.5,389.7 307,389.7 307.5,389.7 308,389.7 308.5,389.7 309,389.8 309.5,389.8 310,389.8 310.5,389.8 311,389.9 311.5,389.9 312,389.9 312.5,389.9 313,389.9 313.5,390 314,390 314.5,390 315,390 315.5,390 316,390 316.5,390.1 317,390.1 317.5,390.1 318,390.1 318.5,390.1 319,390.1 319.5,390.1 320,390.2 320.5,390.2 321,390.2 321.5,390.2 322,390.2 322.5,390.2 323,390.2 323.5,390.2 324,390.2 324.5,390.2 325,390.2 325.5,390.2 326,390.3 326.5,390.3 327,390.3 327.5,390.3 328,390.3 328.5,390.3 329,390.3 329.5,390.2 330,390.2 330.5,390.2 331,390.2 331.5,390.2 332,390.2 332.5,390.2 333,390.2 333.5,390.2 334,390.2 334.5,390.1 335,390.1 335.5,390.1 336,390.1 336.5,390 337,390 337.5,390 338,390 338.5,389.9 339,389.9 339.5,389.9 340,389.8 340.5,389.8 341,389.8 341.5,389.7 342,389.7 342.5,389.6 343,389.6 343.5,389.6 344,389.5 344.5,389.5 345,389.4 345.5,389.4 346,389.3 346.5,389.3 347,389.2 347.5,389.2 348,389.1 348.5,389.1 349,389 349.5,389 350,388.9 350.5,388.9 351,388.8 351.5,388.8 352,388.7 352.5,388.7 353,388.6 353.5,388.6 354,388.5 354.5,388.5 355,388.4 355.5,388.4 356,388.3 356.5,388.3 357,388.3 357.5,388.2 358,388.2 358.5,388.2 359,388.1 359.5,388.1 360,388.1 360.5,388.1 361,388 361.5,388 362,388 362.5,388 363,388 363.5,388 364,388 364.5,388 365,388 365.5,388 366,388 366.5,387.9 367,387.9 367.5,387.9 368,387.9 368.5,387.9 369,387.9 369.5,387.9 370,387.9 370.5,387.9 371,387.9 371.5,387.9 372,387.8 372.5,387.8 373,387.8 373.5,387.8 374,387.8 374.5,387.8 375,387.8 375.5,387.8 376,387.8 376.5,387.7 377,387.7 377.5,387.7 378,387.7 378.5,387.7 379,387.7 379.5,387.7 380,387.6 380.5,387.6 381,387.6 381.5,387.6 382,387.6 382.5,387.6 383,387.5 383.5,387.5 384,387.5 384.5,387.5 385,387.4 385.5,387.4 386,387.4 386.5,387.4 387,387.3 387.5,387.3 388,387.3 388.5,387.2 389,387.2 389.5,387.2 390,387.1 390.5,387.1 391,387.1 391.5,387 392,387 392.5,387 393,386.9 393.5,386.9 394,386.9 394.5,386.8 395,386.8 395.5,386.8 396,386.7 396.5,386.7 397,386.6 397.5,386.5 398,386.5 398.5,386.4 399,386.3 399.5,386.3 400,386.2 400.5,386.1 401,386 401.5,385.9 402,385.8 402.5,385.8 403,385.7 403.5,385.6 404,385.5 404.5,385.4 405,385.3 405.5,385.2 406,385.1 406.5,385 407,384.9 407.5,384.8 408,384.8 408.5,384.7 409,384.6 409.5,384.5 410,384.4 410.5,384.3 411,384.2 411.5,384.1 412,384 412.5,383.9 413,383.8 413.5,383.7 414,383.5 414.5,383.4 415,383.3 415.5,383.1 416,382.9 416.5,382.8 417,382.6 417.5,382.4 418,382.2 418.5,382 419,381.8 419.5,381.7 420,381.5 420.5,381.4 421,381.3 421.5,381.2 422,381.2 422.5,381.1 423,381 423.5,380.9 424,380.9 424.5,380.8 425,380.7 425.5,380.5 426,380.4 426.5,380.2 427,380 427.5,379.7 428,379.5 428.5,379.2 429,379 429.5,378.7 430,378.5 430.5,378.2 431,378 431.5,377.7 432,377.5 432.5,377.3 433,377 433.5,376.8 434,376.5 434.5,376.3 435,376 435.5,375.8 436,375.5 436.5,375.1 437,374.8 437.5,374.4 438,373.9 438.5,373.4 439,372.9 439.5,372.3 440,371.7 440.5,371 441,370.3 441.5,369.6 442,368.8 442.5,368 443,367.2 443.5,366.4 444,365.5 444.5,364.7 445,363.9 445.5,363.1 446,362.4 446.5,361.7 447,361.2 447.5,360.7 448,360.3 448.5,360.1 449,360 449.5,360 450,360.2 450.5,360.4 451,360.8 451.5,361.3 452,361.8 452.5,362.4 453,363 453.5,363.6 454,364.1 454.5,364.6 455,365 455.5,365.3 456,365.5 456.5,365.6 457,365.5 457.5,365.2 458,364.8 458.5,364.2 459,363.6 459.5,362.8 460,361.9 460.5,361 461,360 461.5,359 462,357.9 462.5,356.9 463,355.8 463.5,354.8 464,353.8 464.5,352.9 465,352 465.5,351.3 466,350.7 466.5,350.3 467,349.9 467.5,349.8 468,349.8 468.5,350 469,350.4 469.5,351 470,351.7 470.5,352.6 471,353.6 471.5,354.7 472,355.9 472.5,357.2 473,358.4 473.5,359.7 474,361 474.5,362.3 475,363.5 475.5,364.7 476,365.8 476.5,366.7 477,367.6 477.5,368.4 478,369.1 478.5,369.7 479,370.3 479.5,370.8 480,371.2 480.5,371.7 481,372.1 481.5,372.5 482,373 482.5,373.6 483,374.3 483.5,375 484,375.8 484.5,376.6 485,377.5 485.5,378.5 486,379.5 486.5,380.4 487,381.4 487.5,382.4 488,383.3 488.5,384 489,384.7 489.5,385.4 490,385.9 490.5,386.3 491,386.7 491.5,387 492,387.2 492.5,387.5 493,387.6 493.5,387.8 494,388 494.5,388.2 495,388.3 495.5,388.5 496,388.7 496.5,388.8 497,389 497.5,389.1 498,389.3 498.5,389.4 499,389.6 499.5,389.8 500,389.9 500.5,390.1 501,390.2 501.5,390.3 502,390.5 502.5,390.6 503,390.7 503.5,390.8 504,390.8 504.5,390.9 505,390.9 505.5,391 506,391 506.5,391.1 507,391.1 507.5,391.2 508,391.2 508.5,391.2 509,391.3 509.5,391.3 510,391.4 510.5,391.4 511,391.4 511.5,391.5 512,391.5 512.5,391.5 513,391.6 513.5,391.6 514,391.6 514.5,391.6 515,391.7 515.5,391.7 516,391.7 516.5,391.8 517,391.8 517.5,391.8 518,391.8 518.5,391.9 519,391.9 519.5,391.9 520,391.9 520.5,392 521,392 521.5,392 522,392 522.5,392 523,392.1 523.5,392.1 524,392.1 524.5,392.1 525,392.1 525.5,392.1 526,392.2 526.5,392.2 527,392.2 527.5,392.2 528,392.2 528.5,392.2 529,392.2 529.5,392.3 530,392.3 530.5,392.3 531,392.3 531.5,392.3 532,392.3 532.5,392.3 533,392.3 533.5,392.3 534,392.3 534.5,392.3 535,392.4 535.5,392.4 536,392.4 536.5,392.4" stroke="#e05050" stroke-width="0.9" fill="none" stroke-linejoin="round"/>
<path d="M300.2,389.2a1.8,1.8 0 1,0 3.6,0a1.8,1.8 0 1,0 -3.6,0M302,390.2a1.8,1.8 0 1,0 3.6,0a1.8,1.8 0 1,0 -3.6,0M303.8,389.8a1.8,1.8 0 1,0 3.6,0a1.8,1.8 0 1,0 -3.6,0M305.6,389.6a1.8,1.8 0 1,0 3.6,0a1.8,1.8 0 1,0 -3.6,0M307.4,389.8a1.8,1.8 0 1,0 3.6,0a1.8,1.8 0 1,0 -3.6,0M309.2,389.7a1.8,1.8 0 1,0 3.6,0a1.8,1.8 0 1,0 -3.6,0M311,390.2a1.8,1.8 0 1,0 3.6,0a1.8,1.8 0 1,0 -3.6,0M312.8,389.7a1.8,1.8 0 1,0 3.6,0a1.8,1.8 0 1,0 -3.6,0M314.6,390.5a1.8,1.8 0 1,0 3.6,0a1.8,1.8 0 1,0 -3.6,0M316.4,389.8a1.8,1.8 0 1,0 3.6,0a1.8,1.8 0 1,0 -3.6,0M318.2,390.5a1.8,1.8 0 1,0 3.6,0a1.8,1.8 0 1,0 -3.6,0M320,389.7a1.8,1.8 0 1,0 3.6,0a1.8,1.8 0 1,0 -3.6,0M321.8,389.8a1.8,1.8 0 1,0 3.6,0a1.8,1.8 0 1,0 -3.6,0M323.6,390.5a1.8,1.8 0 1,0 3.6,0a1.8,1.8 0 1,0 -3.6,0M325.4,390.8a1.8,1.8 0 1,0 3.6,0a1.8,1.8 0 1,0 -3.6,0M327.2,390.5a1.8,1.8 0 1,0 3.6,0a1.8,1.8 0 1,0 -3.6,0M329,390a1.8,1.8 0 1,0 3.6,0a1.8,1.8 0 1,0 -3.6,0M330.8,390a1.8,1.8 0 1,0 3.6,0a1.8,1.8 0 1,0 -3.6,0M332.6,390.4a1.8,1.8 0 1,0 3.6,0a1.8,1.8 0 1,0 -3.6,0M334.4,390a1.8,1.8 0 1,0 3.6,0a1.8,1.8 0 1,0 -3.6,0M336.2,390.3a1.8,1.8 0 1,0 3.6,0a1.8,1.8 0 1,0 -3.6,0M338,390.6a1.8,1.8 0 1,0 3.6,0a1.8,1.8 0 1,0 -3.6,0M339.8,389.7a1.8,1.8 0 1,0 3.6,0a1.8,1.8 0 1,0 -3.6,0M341.6,389.6a1.8,1.8 0 1,0 3.6,0a1.8,1.8 0 1,0 -3.6,0M343.4,389.3a1.8,1.8 0 1,0 3.6,0a1.8,1.8 0 1,0 -3.6,0M345.1,389.5a1.8,1.8 0 1,0 3.6,0a1.8,1.8 0 1,0 -3.6,0M346.9,389.6a1.8,1.8 0 1,0 3.6,0a1.8,1.8 0 1,0 -3.6,0M348.7,389.1a1.8,1.8 0 1,0 3.6,0a1.8,1.8 0 1,0 -3.6,0M350.5,388.5a1.8,1.8 0 1,0 3.6,0a1.8,1.8 0 1,0 -3.6,0M352.3,387.7a1.8,1.8 0 1,0 3.6,0a1.8,1.8 0 1,0 -3.6,0M354.1,388.2a1.8,1.8 0 1,0 3.6,0a1.8,1.8 0 1,0 -3.6,0M355.9,388.6a1.8,1.8 0 1,0 3.6,0a1.8,1.8 0 1,0 -3.6,0M357.7,387.5a1.8,1.8 0 1,0 3.6,0a1.8,1.8 0 1,0 -3.6,0M359.5,388.2a1.8,1.8 0 1,0 3.6,0a1.8,1.8 0 1,0 -3.6,0M361.3,388.3a1.8,1.8 0 1,0 3.6,0a1.8,1.8 0 1,0 -3.6,0M363.1,387.9a1.8,1.8 0 1,0 3.6,0a1.8,1.8 0 1,0 -3.6,0M364.9,388.3a1.8,1.8 0 1,0 3.6,0a1.8,1.8 0 1,0 -3.6,0M366.7,388a1.8,1.8 0 1,0 3.6,0a1.8,1.8 0 1,0 -3.6,0M368.5,387.3a1.8,1.8 0 1,0 3.6,0a1.8,1.8 0 1,0 -3.6,0M370.3,387.6a1.8,1.8 0 1,0 3.6,0a1.8,1.8 0 1,0 -3.6,0M372.1,387.9a1.8,1.8 0 1,0 3.6,0a1.8,1.8 0 1,0 -3.6,0M373.9,387.8a1.8,1.8 0 1,0 3.6,0a1.8,1.8 0 1,0 -3.6,0M375.7,387.5a1.8,1.8 0 1,0 3.6,0a1.8,1.8 0 1,0 -3.6,0M377.5,387.2a1.8,1.8 0 1,0 3.6,0a1.8,1.8 0 1,0 -3.6,0M379.3,388a1.8,1.8 0 1,0 3.6,0a1.8,1.8 0 1,0 -3.6,0M381.1,387.9a1.8,1.8 0 1,0 3.6,0a1.8,1.8 0 1,0 -3.6,0M382.9,387.7a1.8,1.8 0 1,0 3.6,0a1.8,1.8 0 1,0 -3.6,0M384.7,387.4a1.8,1.8 0 1,0 3.6,0a1.8,1.8 0 1,0 -3.6,0M386.5,387.6a1.8,1.8 0 1,0 3.6,0a1.8,1.8 0 1,0 -3.6,0M388.3,387.5a1.8,1.8 0 1,0 3.6,0a1.8,1.8 0 1,0 -3.6,0M390.1,387.5a1.8,1.8 0 1,0 3.6,0a1.8,1.8 0 1,0 -3.6,0M391.9,387.3a1.8,1.8 0 1,0 3.6,0a1.8,1.8 0 1,0 -3.6,0M393.7,386.3a1.8,1.8 0 1,0 3.6,0a1.8,1.8 0 1,0 -3.6,0M395.5,386.4a1.8,1.8 0 1,0 3.6,0a1.8,1.8 0 1,0 -3.6,0M397.2,386.7a1.8,1.8 0 1,0 3.6,0a1.8,1.8 0 1,0 -3.6,0M399,386a1.8,1.8 0 1,0 3.6,0a1.8,1.8 0 1,0 -3.6,0M400.8,385.7a1.8,1.8 0 1,0 3.6,0a1.8,1.8 0 1,0 -3.6,0M402.6,385.4a1.8,1.8 0 1,0 3.6,0a1.8,1.8 0 1,0 -3.6,0M404.3,384.7a1.8,1.8 0 1,0 3.6,0a1.8,1.8 0 1,0 -3.6,0M406.1,384.5a1.8,1.8 0 1,0 3.6,0a1.8,1.8 0 1,0 -3.6,0M407.9,384.8a1.8,1.8 0 1,0 3.6,0a1.8,1.8 0 1,0 -3.6,0M409.6,384.5a1.8,1.8 0 1,0 3.6,0a1.8,1.8 0 1,0 -3.6,0M411.4,383.8a1.8,1.8 0 1,0 3.6,0a1.8,1.8 0 1,0 -3.6,0M413.1,383a1.8,1.8 0 1,0 3.6,0a1.8,1.8 0 1,0 -3.6,0M414.8,382.8a1.8,1.8 0 1,0 3.6,0a1.8,1.8 0 1,0 -3.6,0M416.5,381.7a1.8,1.8 0 1,0 3.6,0a1.8,1.8 0 1,0 -3.6,0M418.2,381.2a1.8,1.8 0 1,0 3.6,0a1.8,1.8 0 1,0 -3.6,0M420,381.5a1.8,1.8 0 1,0 3.6,0a1.8,1.8 0 1,0 -3.6,0M421.8,381.3a1.8,1.8 0 1,0 3.6,0a1.8,1.8 0 1,0 -3.6,0M423.6,380.7a1.8,1.8 0 1,0 3.6,0a1.8,1.8 0 1,0 -3.6,0M425.2,380.1a1.8,1.8 0 1,0 3.6,0a1.8,1.8 0 1,0 -3.6,0M426.9,379.3a1.8,1.8 0 1,0 3.6,0a1.8,1.8 0 1,0 -3.6,0M428.5,378.4a1.8,1.8 0 1,0 3.6,0a1.8,1.8 0 1,0 -3.6,0M430.1,377.1a1.8,1.8 0 1,0 3.6,0a1.8,1.8 0 1,0 -3.6,0M431.7,377a1.8,1.8 0 1,0 3.6,0a1.8,1.8 0 1,0 -3.6,0M433.3,375.8a1.8,1.8 0 1,0 3.6,0a1.8,1.8 0 1,0 -3.6,0M434.8,374.8a1.8,1.8 0 1,0 3.6,0a1.8,1.8 0 1,0 -3.6,0M436.2,373.9a1.8,1.8 0 1,0 3.6,0a1.8,1.8 0 1,0 -3.6,0M437.5,372.6a1.8,1.8 0 1,0 3.6,0a1.8,1.8 0 1,0 -3.6,0M438.6,371a1.8,1.8 0 1,0 3.6,0a1.8,1.8 0 1,0 -3.6,0M439.6,369.2a1.8,1.8 0 1,0 3.6,0a1.8,1.8 0 1,0 -3.6,0M440.6,368.4a1.8,1.8 0 1,0 3.6,0a1.8,1.8 0 1,0 -3.6,0M441.5,366.5a1.8,1.8 0 1,0 3.6,0a1.8,1.8 0 1,0 -3.6,0M442.5,365.3a1.8,1.8 0 1,0 3.6,0a1.8,1.8 0 1,0 -3.6,0M443.4,364.1a1.8,1.8 0 1,0 3.6,0a1.8,1.8 0 1,0 -3.6,0M444.4,362.2a1.8,1.8 0 1,0 3.6,0a1.8,1.8 0 1,0 -3.6,0M445.6,360.8a1.8,1.8 0 1,0 3.6,0a1.8,1.8 0 1,0 -3.6,0M447.2,359.7a1.8,1.8 0 1,0 3.6,0a1.8,1.8 0 1,0 -3.6,0M448.9,360.2a1.8,1.8 0 1,0 3.6,0a1.8,1.8 0 1,0 -3.6,0M450.2,361.9a1.8,1.8 0 1,0 3.6,0a1.8,1.8 0 1,0 -3.6,0M451.4,363.1a1.8,1.8 0 1,0 3.6,0a1.8,1.8 0 1,0 -3.6,0M452.6,364.4a1.8,1.8 0 1,0 3.6,0a1.8,1.8 0 1,0 -3.6,0M454.1,365.2a1.8,1.8 0 1,0 3.6,0a1.8,1.8 0 1,0 -3.6,0M455.8,364.9a1.8,1.8 0 1,0 3.6,0a1.8,1.8 0 1,0 -3.6,0M457,363.9a1.8,1.8 0 1,0 3.6,0a1.8,1.8 0 1,0 -3.6,0M458,362.2a1.8,1.8 0 1,0 3.6,0a1.8,1.8 0 1,0 -3.6,0M458.8,359.8a1.8,1.8 0 1,0 3.6,0a1.8,1.8 0 1,0 -3.6,0M459.6,358.8a1.8,1.8 0 1,0 3.6,0a1.8,1.8 0 1,0 -3.6,0M460.4,357.2a1.8,1.8 0 1,0 3.6,0a1.8,1.8 0 1,0 -3.6,0M461.2,355.8a1.8,1.8 0 1,0 3.6,0a1.8,1.8 0 1,0 -3.6,0M462,354.3a1.8,1.8 0 1,0 3.6,0a1.8,1.8 0 1,0 -3.6,0M462.8,352.3a1.8,1.8 0 1,0 3.6,0a1.8,1.8 0 1,0 -3.6,0M463.8,351.1a1.8,1.8 0 1,0 3.6,0a1.8,1.8 0 1,0 -3.6,0M465.1,349.5a1.8,1.8 0 1,0 3.6,0a1.8,1.8 0 1,0 -3.6,0M466.8,350.5a1.8,1.8 0 1,0 3.6,0a1.8,1.8 0 1,0 -3.6,0M468,352.1a1.8,1.8 0 1,0 3.6,0a1.8,1.8 0 1,0 -3.6,0M468.9,352.8a1.8,1.8 0 1,0 3.6,0a1.8,1.8 0 1,0 -3.6,0M469.7,355a1.8,1.8 0 1,0 3.6,0a1.8,1.8 0 1,0 -3.6,0M470.4,356.2a1.8,1.8 0 1,0 3.6,0a1.8,1.8 0 1,0 -3.6,0M471,357.9a1.8,1.8 0 1,0 3.6,0a1.8,1.8 0 1,0 -3.6,0M471.7,359.2a1.8,1.8 0 1,0 3.6,0a1.8,1.8 0 1,0 -3.6,0M472.3,360.9a1.8,1.8 0 1,0 3.6,0a1.8,1.8 0 1,0 -3.6,0M473,363.4a1.8,1.8 0 1,0 3.6,0a1.8,1.8 0 1,0 -3.6,0M473.7,364.6a1.8,1.8 0 1,0 3.6,0a1.8,1.8 0 1,0 -3.6,0M474.5,366a1.8,1.8 0 1,0 3.6,0a1.8,1.8 0 1,0 -3.6,0M475.4,368.1a1.8,1.8 0 1,0 3.6,0a1.8,1.8 0 1,0 -3.6,0M476.4,368.9a1.8,1.8 0 1,0 3.6,0a1.8,1.8 0 1,0 -3.6,0M477.6,371.3a1.8,1.8 0 1,0 3.6,0a1.8,1.8 0 1,0 -3.6,0M479,372.1a1.8,1.8 0 1,0 3.6,0a1.8,1.8 0 1,0 -3.6,0M480.3,372.8a1.8,1.8 0 1,0 3.6,0a1.8,1.8 0 1,0 -3.6,0M481.4,374.5a1.8,1.8 0 1,0 3.6,0a1.8,1.8 0 1,0 -3.6,0M482.4,376.2a1.8,1.8 0 1,0 3.6,0a1.8,1.8 0 1,0 -3.6,0M483.2,377.5a1.8,1.8 0 1,0 3.6,0a1.8,1.8 0 1,0 -3.6,0M484.1,379.6a1.8,1.8 0 1,0 3.6,0a1.8,1.8 0 1,0 -3.6,0M484.9,380.3a1.8,1.8 0 1,0 3.6,0a1.8,1.8 0 1,0 -3.6,0M485.7,381.8a1.8,1.8 0 1,0 3.6,0a1.8,1.8 0 1,0 -3.6,0M486.6,384a1.8,1.8 0 1,0 3.6,0a1.8,1.8 0 1,0 -3.6,0M487.7,385.1a1.8,1.8 0 1,0 3.6,0a1.8,1.8 0 1,0 -3.6,0M489.1,386.3a1.8,1.8 0 1,0 3.6,0a1.8,1.8 0 1,0 -3.6,0M490.6,387.5a1.8,1.8 0 1,0 3.6,0a1.8,1.8 0 1,0 -3.6,0M492.3,387.9a1.8,1.8 0 1,0 3.6,0a1.8,1.8 0 1,0 -3.6,0M494,389.3a1.8,1.8 0 1,0 3.6,0a1.8,1.8 0 1,0 -3.6,0M495.8,389.3a1.8,1.8 0 1,0 3.6,0a1.8,1.8 0 1,0 -3.6,0M497.5,389.4a1.8,1.8 0 1,0 3.6,0a1.8,1.8 0 1,0 -3.6,0M499.2,390.8a1.8,1.8 0 1,0 3.6,0a1.8,1.8 0 1,0 -3.6,0M501,391a1.8,1.8 0 1,0 3.6,0a1.8,1.8 0 1,0 -3.6,0M502.7,390.4a1.8,1.8 0 1,0 3.6,0a1.8,1.8 0 1,0 -3.6,0M504.5,391.2a1.8,1.8 0 1,0 3.6,0a1.8,1.8 0 1,0 -3.6,0M506.3,390.9a1.8,1.8 0 1,0 3.6,0a1.8,1.8 0 1,0 -3.6,0M508.1,391.5a1.8,1.8 0 1,0 3.6,0a1.8,1.8 0 1,0 -3.6,0M509.9,392.2a1.8,1.8 0 1,0 3.6,0a1.8,1.8 0 1,0 -3.6,0M511.7,391.2a1.8,1.8 0 1,0 3.6,0a1.8,1.8 0 1,0 -3.6,0M513.5,391.8a1.8,1.8 0 1,0 3.6,0a1.8,1.8 0 1,0 -3.6,0M515.3,391.6a1.8,1.8 0 1,0 3.6,0a1.8,1.8 0 1,0 -3.6,0M517.1,392.2a1.8,1.8 0 1,0 3.6,0a1.8,1.8 0 1,0 -3.6,0M518.9,392.2a1.8,1.8 0 1,0 3.6,0a1.8,1.8 0 1,0 -3.6,0M520.7,391.3a1.8,1.8 0 1,0 3.6,0a1.8,1.8 0 1,0 -3.6,0M522.5,391.7a1.8,1.8 0 1,0 3.6,0a1.8,1.8 0 1,0 -3.6,0M524.3,391.9a1.8,1.8 0 1,0 3.6,0a1.8,1.8 0 1,0 -3.6,0M526.1,391.9a1.8,1.8 0 1,0 3.6,0a1.8,1.8 0 1,0 -3.6,0M527.9,392.5a1.8,1.8 0 1,0 3.6,0a1.8,1.8 0 1,0 -3.6,0M529.7,392.7a1.8,1.8 0 1,0 3.6,0a1.8,1.8 0 1,0 -3.6,0M531.5,392.2a1.8,1.8 0 1,0 3.6,0a1.8,1.8 0 1,0 -3.6,0M533.3,391.8a1.8,1.8 0 1,0 3.6,0a1.8,1.8 0 1,0 -3.6,0" stroke="#ff3030" stroke-width="0.85" fill="none"/>
<line x1="301.2" y1="346.9" x2="318.4" y2="346.9" stroke="#f27a7a" stroke-width="1.0"/>
<path d="M308.6,346.9a1.5,1.5 0 1,0 3,0a1.5,1.5 0 1,0 -3,0" stroke="#ff3434" stroke-width="0.9" fill="none"/>
<text x="321.1" y="349.2" font-size="9.2" fill="#ff1c1c" stroke="#ff1c1c" stroke-width="0.42" text-anchor="start" font-weight="bold" textLength="44.7" lengthAdjust="spacingAndGlyphs">Co-CuS-2</text>
<text x="414.0" y="372.7" font-size="8.8" fill="#000" stroke="#000" stroke-width="0.42" text-anchor="start" font-weight="bold" textLength="16.9" lengthAdjust="spacingAndGlyphs">M-S</text>
<text x="433.1" y="354.7" font-size="8.8" fill="#000" stroke="#000" stroke-width="0.42" text-anchor="start" font-weight="bold" textLength="20.5" lengthAdjust="spacingAndGlyphs">S 2p</text>
<text x="454.0" y="358.0" font-size="5.4" fill="#000" stroke="#000" stroke-width="0.3" text-anchor="start" font-weight="bold" textLength="6.2" lengthAdjust="spacingAndGlyphs">1/2</text>
<text x="459.9" y="348.9" font-size="8.8" fill="#000" stroke="#000" stroke-width="0.42" text-anchor="start" font-weight="bold" textLength="19.5" lengthAdjust="spacingAndGlyphs">S 2p</text>
<text x="479.6" y="352.3" font-size="5.4" fill="#000" stroke="#000" stroke-width="0.3" text-anchor="start" font-weight="bold" textLength="6.7" lengthAdjust="spacingAndGlyphs">3/2</text>
<line x1="423.9" y1="373.5" x2="426.8" y2="379.3" stroke="#000" stroke-width="0.8"/>
<path d="M427.5,380.6 425.3,378.9 427.4,377.8 Z" stroke="#000" stroke-width="0.3" fill="#000" stroke-linejoin="round"/>
</svg></body></html>
